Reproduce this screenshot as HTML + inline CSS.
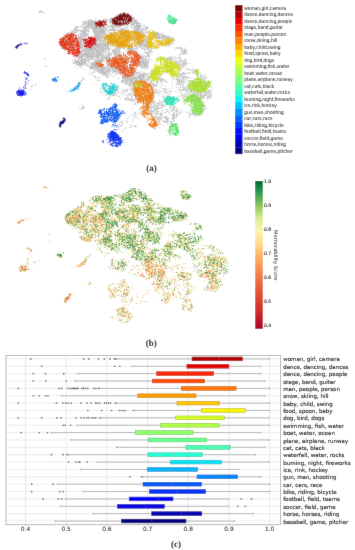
<!DOCTYPE html><html><head><meta charset="utf-8"><style>html,body{margin:0;padding:0;background:#fff;width:355px;height:550px;overflow:hidden}svg{display:block}</style></head><body><svg width="355" height="550" viewBox="0 0 355 550" text-rendering="geometricPrecision">
<defs><filter id="gb" x="0" y="0" width="355" height="550" filterUnits="userSpaceOnUse"><feConvolveMatrix order="3" kernelMatrix="0.01 0.05 0.01 0.05 0.76 0.05 0.01 0.05 0.01" divisor="1" edgeMode="duplicate"/></filter></defs>
<g filter="url(#gb)"><rect width="355" height="550" fill="#fff"/>
<g><g fill="none" transform="scale(0.25)" stroke-width="4.6" stroke-linecap="round">
<path stroke="#bdbdbd" d="M485 51h0m9 1h0m2 0h0m3 0h0m-15 1h0m9 0h0m8 0h0m-11 1h0m18 1h0m-28 1h0m12 0h0m15 0h0m7 0h0m-39 1h0m13 0h0m3 0h0m19 0h0m-29 1h0m7 0h0m10 0h0m-24 1h0m9 0h0m6 0h0m1 0h0m9 0h0m-22 1h0m4 0h0m3 0h0m2 0h0m17 0h0m-22 1h0m19 0h0m-10 1h0m10 0h0m24 0h0m1 0h0m-46 1h0m3 0h0m32 0h0m-39 1h0m9 0h0m25 0h0m7 0h0m5 0h0m5 0h0m-48 1h0m28 0h0m13 0h0m2 0h0m1 0h0m7 0h0m-56 1h0m3 0h0m2 0h0m3 0h0m6 0h0m4 0h0m11 0h0m12 0h0m8 0h0m-52 1h0m17 0h0m11 0h0m2 0h0m25 0h0m-53 1h0m3 0h0m14 0h0m12 0h0m17 0h0m4 0h0m-64 1h0m18 0h0m17 0h0m14 0h0m8 0h0m5 0h0m3 0h0m9 0h0m-87 1h0m57 0h0m17 0h0m3 0h0m6 0h0m8 0h0m-53 1h0m3 0h0m19 0h0m1 0h0m11 0h0m12 0h0m-79 1h0m1 0h0m49 0h0m32 0h0m-112 1h0m60 0h0m19 0h0m11 0h0m19 0h0m2 0h0m-91 1h0m1 0h0m7 0h0m2 0h0m14 0h0m14 0h0m13 0h0m30 0h0m-63 1h0m16 0h0m59 0h0m1 0h0m-95 1h0m5 0h0m53 0h0m25 0h0m1 0h0m1 0h0m12 0h0m2 0h0m-108 1h0m44 0h0m10 0h0m7 0h0m7 0h0m7 0h0m8 0h0m10 0h0m-109 1h0m5 0h0m3 0h0m35 0h0m48 0h0m18 0h0m16 0h0m-180 1h0m4 0h0m57 0h0m23 0h0m22 0h0m15 0h0m10 0h0m38 0h0m-146 1h0m7 0h0m13 0h0m1 0h0m10 0h0m3 0h0m2 0h0m3 0h0m3 0h0m1 0h0m2 0h0m1 0h0m40 0h0m18 0h0m7 0h0m13 0h0m26 0h0m8 0h0m7 0h0m-187 1h0m4 0h0m32 0h0m15 0h0m14 0h0m50 0h0m25 0h0m14 0h0m12 0h0m3 0h0m3 0h0m2 0h0m-182 1h0m2 0h0m12 0h0m8 0h0m1 0h0m60 0h0m1 0h0m41 0h0m8 0h0m1 0h0m8 0h0m35 0h0m6 0h0m4 0h0m1 0h0m3 0h0m-190 1h0m9 0h0m3 0h0m31 0h0m5 0h0m16 0h0m16 0h0m2 0h0m8 0h0m6 0h0m15 0h0m5 0h0m9 0h0m2 0h0m10 0h0m47 0h0m6 0h0m-196 1h0m8 0h0m2 0h0m11 0h0m9 0h0m5 0h0m18 0h0m12 0h0m2 0h0m10 0h0m17 0h0m4 0h0m20 0h0m48 0h0m2 0h0m28 0h0m-199 1h0m22 0h0m1 0h0m2 0h0m1 0h0m2 0h0m2 0h0m13 0h0m16 0h0m3 0h0m11 0h0m29 0h0m76 0h0m15 0h0m3 0h0m3 0h0m4 0h0m-217 1h0m3 0h0m7 0h0m4 0h0m11 0h0m8 0h0m7 0h0m20 0h0m3 0h0m4 0h0m5 0h0m5 0h0m8 0h0m39 0h0m17 0h0m32 0h0m10 0h0m26 0h0m1 0h0m-206 1h0m10 0h0m20 0h0m23 0h0m2 0h0m2 0h0m33 0h0m13 0h0m8 0h0m5 0h0m12 0h0m12 0h0m62 0h0m7 0h0m-213 1h0m2 0h0m8 0h0m5 0h0m11 0h0m6 0h0m1 0h0m13 0h0m6 0h0m6 0h0m4 0h0m4 0h0m10 0h0m4 0h0m10 0h0m21 0h0m1 0h0m71 0h0m9 0h0m1 0h0m1 0h0m8 0h0m19 0h0m-199 1h0m5 0h0m12 0h0m9 0h0m17 0h0m4 0h0m1 0h0m1 0h0m1 0h0m5 0h0m8 0h0m24 0h0m19 0h0m13 0h0m4 0h0m19 0h0m5 0h0m26 0h0m7 0h0m2 0h0m14 0h0m-200 1h0m15 0h0m3 0h0m12 0h0m7 0h0m9 0h0m7 0h0m1 0h0m9 0h0m32 0h0m1 0h0m5 0h0m3 0h0m23 0h0m2 0h0m17 0h0m49 0h0m9 0h0m-199 1h0m1 0h0m3 0h0m1 0h0m12 0h0m1 0h0m3 0h0m7 0h0m1 0h0m7 0h0m6 0h0m25 0h0m47 0h0m31 0h0m10 0h0m19 0h0m13 0h0m6 0h0m5 0h0m1 0h0m-210 1h0m17 0h0m8 0h0m12 0h0m2 0h0m15 0h0m22 0h0m35 0h0m29 0h0m48 0h0m3 0h0m4 0h0m1 0h0m1 0h0m-203 1h0m4 0h0m2 0h0m11 0h0m2 0h0m2 0h0m6 0h0m6 0h0m2 0h0m8 0h0m1 0h0m4 0h0m13 0h0m2 0h0m5 0h0m4 0h0m13 0h0m1 0h0m21 0h0m6 0h0m4 0h0m2 0h0m11 0h0m7 0h0m5 0h0m4 0h0m59 0h0m6 0h0m1 0h0m12 0h0m2 0h0m-223 1h0m3 0h0m3 0h0m8 0h0m4 0h0m15 0h0m12 0h0m8 0h0m66 0h0m16 0h0m69 0h0m2 0h0m2 0h0m1 0h0m3 0h0m2 0h0m4 0h0m1 0h0m-223 1h0m7 0h0m6 0h0m8 0h0m10 0h0m14 0h0m7 0h0m2 0h0m8 0h0m8 0h0m18 0h0m26 0h0m8 0h0m3 0h0m63 0h0m2 0h0m5 0h0m2 0h0m-190 1h0m15 0h0m5 0h0m7 0h0m1 0h0m14 0h0m7 0h0m2 0h0m6 0h0m3 0h0m1 0h0m25 0h0m22 0h0m8 0h0m7 0h0m68 0h0m4 0h0m13 0h0m-220 1h0m9 0h0m13 0h0m4 0h0m7 0h0m2 0h0m1 0h0m11 0h0m3 0h0m20 0h0m5 0h0m52 0h0m4 0h0m1 0h0m6 0h0m4 0h0m3 0h0m10 0h0m4 0h0m14 0h0m27 0h0m15 0h0m5 0h0m1 0h0m3 0h0m-225 1h0m30 0h0m11 0h0m9 0h0m6 0h0m3 0h0m10 0h0m18 0h0m6 0h0m62 0h0m3 0h0m19 0h0m21 0h0m3 0h0m25 0h0m-224 1h0m18 0h0m3 0h0m2 0h0m21 0h0m4 0h0m2 0h0m87 0h0m4 0h0m53 0h0m10 0h0m20 0h0m9 0h0m-211 1h0m5 0h0m1 0h0m6 0h0m4 0h0m2 0h0m7 0h0m5 0h0m11 0h0m7 0h0m31 0h0m12 0h0m5 0h0m6 0h0m6 0h0m8 0h0m2 0h0m18 0h0m49 0h0m8 0h0m5 0h0m1 0h0m2 0h0m1 0h0m4 0h0m4 0h0m-226 1h0m15 0h0m9 0h0m1 0h0m5 0h0m5 0h0m4 0h0m1 0h0m9 0h0m17 0h0m2 0h0m56 0h0m3 0h0m5 0h0m1 0h0m67 0h0m20 0h0m7 0h0m14 0h0m-249 1h0m15 0h0m14 0h0m1 0h0m5 0h0m9 0h0m8 0h0m8 0h0m5 0h0m15 0h0m8 0h0m37 0h0m8 0h0m10 0h0m4 0h0m47 0h0m30 0h0m6 0h0m14 0h0m-224 1h0m5 0h0m17 0h0m6 0h0m14 0h0m14 0h0m6 0h0m1 0h0m10 0h0m4 0h0m8 0h0m15 0h0m8 0h0m17 0h0m4 0h0m20 0h0m28 0h0m16 0h0m2 0h0m6 0h0m-201 1h0m3 0h0m4 0h0m6 0h0m2 0h0m7 0h0m14 0h0m5 0h0m11 0h0m8 0h0m9 0h0m27 0h0m2 0h0m3 0h0m8 0h0m28 0h0m14 0h0m12 0h0m17 0h0m1 0h0m5 0h0m10 0h0m1 0h0m12 0h0m-245 1h0m7 0h0m25 0h0m3 0h0m3 0h0m27 0h0m21 0h0m5 0h0m2 0h0m8 0h0m27 0h0m13 0h0m13 0h0m8 0h0m10 0h0m22 0h0m23 0h0m12 0h0m1 0h0m2 0h0m6 0h0m4 0h0m4 0h0m2 0h0m-255 1h0m31 0h0m11 0h0m7 0h0m1 0h0m1 0h0m12 0h0m11 0h0m5 0h0m7 0h0m3 0h0m3 0h0m5 0h0m9 0h0m22 0h0m8 0h0m23 0h0m5 0h0m70 0h0m5 0h0m4 0h0m19 0h0m-257 1h0m11 0h0m2 0h0m24 0h0m26 0h0m2 0h0m8 0h0m2 0h0m4 0h0m4 0h0m7 0h0m2 0h0m1 0h0m11 0h0m26 0h0m3 0h0m1 0h0m1 0h0m5 0h0m14 0h0m1 0h0m3 0h0m81 0h0m10 0h0m30 0h0m-290 1h0m1 0h0m4 0h0m2 0h0m28 0h0m7 0h0m13 0h0m22 0h0m1 0h0m1 0h0m8 0h0m11 0h0m12 0h0m2 0h0m7 0h0m40 0h0m2 0h0m49 0h0m14 0h0m18 0h0m2 0h0m8 0h0m30 0h0m3 0h0m-281 1h0m1 0h0m26 0h0m30 0h0m2 0h0m3 0h0m4 0h0m3 0h0m5 0h0m17 0h0m6 0h0m13 0h0m16 0h0m21 0h0m5 0h0m2 0h0m3 0h0m15 0h0m68 0h0m1 0h0m5 0h0m4 0h0m5 0h0m1 0h0m17 0h0m-267 1h0m1 0h0m60 0h0m1 0h0m6 0h0m1 0h0m15 0h0m2 0h0m3 0h0m6 0h0m5 0h0m1 0h0m2 0h0m19 0h0m23 0h0m16 0h0m6 0h0m26 0h0m41 0h0m6 0h0m7 0h0m3 0h0m27 0h0m5 0h0m-262 1h0m9 0h0m1 0h0m6 0h0m1 0h0m4 0h0m12 0h0m2 0h0m8 0h0m2 0h0m5 0h0m2 0h0m2 0h0m1 0h0m6 0h0m5 0h0m4 0h0m7 0h0m11 0h0m8 0h0m29 0h0m17 0h0m59 0h0m7 0h0m7 0h0m-207 1h0m3 0h0m3 0h0m13 0h0m19 0h0m6 0h0m6 0h0m3 0h0m11 0h0m1 0h0m15 0h0m79 0h0m32 0h0m21 0h0m19 0h0m12 0h0m-280 1h0m35 0h0m2 0h0m21 0h0m21 0h0m14 0h0m1 0h0m10 0h0m2 0h0m6 0h0m7 0h0m30 0h0m39 0h0m16 0h0m32 0h0m2 0h0m6 0h0m17 0h0m11 0h0m-271 1h0m5 0h0m35 0h0m25 0h0m15 0h0m3 0h0m3 0h0m2 0h0m10 0h0m13 0h0m5 0h0m22 0h0m52 0h0m44 0h0m10 0h0m1 0h0m7 0h0m2 0h0m1 0h0m28 0h0m6 0h0m-282 1h0m28 0h0m14 0h0m4 0h0m22 0h0m4 0h0m1 0h0m3 0h0m8 0h0m9 0h0m40 0h0m12 0h0m2 0h0m27 0h0m1 0h0m56 0h0m6 0h0m8 0h0m27 0h0m8 0h0m-289 1h0m6 0h0m1 0h0m35 0h0m26 0h0m3 0h0m4 0h0m21 0h0m12 0h0m4 0h0m2 0h0m5 0h0m3 0h0m1 0h0m20 0h0m8 0h0m6 0h0m90 0h0m1 0h0m1 0h0m3 0h0m6 0h0m14 0h0m16 0h0m-284 1h0m25 0h0m9 0h0m3 0h0m37 0h0m2 0h0m1 0h0m12 0h0m7 0h0m1 0h0m14 0h0m1 0h0m2 0h0m11 0h0m12 0h0m6 0h0m4 0h0m6 0h0m18 0h0m19 0h0m42 0h0m15 0h0m2 0h0m12 0h0m17 0h0m-284 1h0m3 0h0m78 0h0m7 0h0m8 0h0m10 0h0m10 0h0m46 0h0m4 0h0m18 0h0m2 0h0m8 0h0m3 0h0m51 0h0m21 0h0m8 0h0m-284 1h0m49 0h0m12 0h0m19 0h0m4 0h0m3 0h0m14 0h0m9 0h0m6 0h0m1 0h0m1 0h0m5 0h0m8 0h0m15 0h0m15 0h0m1 0h0m5 0h0m28 0h0m1 0h0m5 0h0m5 0h0m8 0h0m6 0h0m31 0h0m5 0h0m11 0h0m26 0h0m19 0h0m-302 1h0m2 0h0m11 0h0m4 0h0m23 0h0m6 0h0m4 0h0m26 0h0m5 0h0m6 0h0m4 0h0m7 0h0m5 0h0m10 0h0m32 0h0m26 0h0m16 0h0m2 0h0m1 0h0m9 0h0m19 0h0m19 0h0m18 0h0m2 0h0m10 0h0m1 0h0m-262 1h0m21 0h0m3 0h0m4 0h0m10 0h0m38 0h0m27 0h0m4 0h0m19 0h0m33 0h0m9 0h0m4 0h0m15 0h0m15 0h0m40 0h0m1 0h0m8 0h0m2 0h0m21 0h0m-278 1h0m7 0h0m25 0h0m13 0h0m38 0h0m1 0h0m1 0h0m5 0h0m5 0h0m5 0h0m4 0h0m2 0h0m8 0h0m8 0h0m6 0h0m11 0h0m3 0h0m3 0h0m5 0h0m4 0h0m18 0h0m8 0h0m3 0h0m11 0h0m1 0h0m14 0h0m2 0h0m24 0h0m7 0h0m21 0h0m-261 1h0m17 0h0m7 0h0m5 0h0m6 0h0m12 0h0m3 0h0m25 0h0m17 0h0m3 0h0m1 0h0m12 0h0m19 0h0m44 0h0m25 0h0m4 0h0m6 0h0m27 0h0m2 0h0m3 0h0m10 0h0m16 0h0m2 0h0m28 0h0m-302 1h0m30 0h0m13 0h0m3 0h0m29 0h0m4 0h0m2 0h0m3 0h0m3 0h0m17 0h0m2 0h0m9 0h0m1 0h0m4 0h0m68 0h0m4 0h0m7 0h0m6 0h0m1 0h0m41 0h0m3 0h0m4 0h0m3 0h0m-261 1h0m6 0h0m16 0h0m7 0h0m26 0h0m31 0h0m2 0h0m4 0h0m1 0h0m2 0h0m1 0h0m3 0h0m1 0h0m8 0h0m1 0h0m2 0h0m2 0h0m3 0h0m7 0h0m6 0h0m17 0h0m19 0h0m18 0h0m20 0h0m43 0h0m3 0h0m2 0h0m6 0h0m17 0h0m30 0h0m12 0h0m-323 1h0m11 0h0m12 0h0m26 0h0m2 0h0m1 0h0m5 0h0m13 0h0m18 0h0m5 0h0m2 0h0m2 0h0m5 0h0m5 0h0m2 0h0m18 0h0m4 0h0m1 0h0m58 0h0m1 0h0m9 0h0m2 0h0m2 0h0m12 0h0m26 0h0m22 0h0m3 0h0m9 0h0m18 0h0m-293 1h0m3 0h0m10 0h0m24 0h0m7 0h0m3 0h0m42 0h0m22 0h0m2 0h0m5 0h0m7 0h0m7 0h0m42 0h0m23 0h0m1 0h0m11 0h0m6 0h0m3 0h0m4 0h0m5 0h0m24 0h0m1 0h0m6 0h0m7 0h0m1 0h0m2 0h0m3 0h0m2 0h0m3 0h0m6 0h0m21 0h0m-295 1h0m32 0h0m14 0h0m12 0h0m27 0h0m3 0h0m15 0h0m3 0h0m5 0h0m4 0h0m9 0h0m1 0h0m13 0h0m47 0h0m8 0h0m21 0h0m9 0h0m32 0h0m8 0h0m3 0h0m4 0h0m5 0h0m4 0h0m13 0h0m45 0h0m-331 1h0m6 0h0m17 0h0m5 0h0m1 0h0m5 0h0m7 0h0m66 0h0m6 0h0m41 0h0m29 0h0m3 0h0m1 0h0m16 0h0m7 0h0m34 0h0m7 0h0m4 0h0m7 0h0m23 0h0m2 0h0m17 0h0m5 0h0m9 0h0m2 0h0m6 0h0m-354 1h0m14 0h0m14 0h0m37 0h0m4 0h0m1 0h0m34 0h0m7 0h0m4 0h0m7 0h0m1 0h0m5 0h0m4 0h0m12 0h0m2 0h0m15 0h0m22 0h0m25 0h0m2 0h0m19 0h0m1 0h0m12 0h0m25 0h0m5 0h0m5 0h0m6 0h0m3 0h0m1 0h0m21 0h0m7 0h0m12 0h0m7 0h0m11 0h0m13 0h0m-353 1h0m9 0h0m46 0h0m1 0h0m51 0h0m3 0h0m10 0h0m1 0h0m1 0h0m14 0h0m2 0h0m2 0h0m26 0h0m37 0h0m6 0h0m6 0h0m4 0h0m47 0h0m13 0h0m1 0h0m8 0h0m38 0h0m13 0h0m7 0h0m5 0h0m-346 1h0m7 0h0m6 0h0m42 0h0m2 0h0m4 0h0m29 0h0m7 0h0m4 0h0m2 0h0m4 0h0m3 0h0m14 0h0m4 0h0m16 0h0m18 0h0m40 0h0m7 0h0m6 0h0m2 0h0m5 0h0m2 0h0m7 0h0m1 0h0m35 0h0m3 0h0m4 0h0m4 0h0m5 0h0m4 0h0m20 0h0m24 0h0m8 0h0m-350 1h0m1 0h0m4 0h0m3 0h0m18 0h0m2 0h0m32 0h0m1 0h0m7 0h0m2 0h0m9 0h0m3 0h0m36 0h0m1 0h0m10 0h0m2 0h0m5 0h0m30 0h0m32 0h0m17 0h0m10 0h0m16 0h0m9 0h0m26 0h0m1 0h0m4 0h0m1 0h0m3 0h0m4 0h0m2 0h0m1 0h0m7 0h0m30 0h0m1 0h0m16 0h0m1 0h0m11 0h0m4 0h0m15 0h0m-376 1h0m17 0h0m5 0h0m34 0h0m3 0h0m2 0h0m4 0h0m13 0h0m27 0h0m2 0h0m8 0h0m1 0h0m3 0h0m1 0h0m2 0h0m1 0h0m1 0h0m16 0h0m2 0h0m3 0h0m7 0h0m31 0h0m27 0h0m17 0h0m6 0h0m11 0h0m26 0h0m2 0h0m3 0h0m1 0h0m15 0h0m14 0h0m29 0h0m13 0h0m1 0h0m3 0h0m6 0h0m-363 1h0m4 0h0m14 0h0m17 0h0m21 0h0m6 0h0m2 0h0m6 0h0m1 0h0m47 0h0m12 0h0m4 0h0m3 0h0m10 0h0m9 0h0m25 0h0m34 0h0m6 0h0m8 0h0m10 0h0m42 0h0m2 0h0m2 0h0m10 0h0m9 0h0m52 0h0m14 0h0m-370 1h0m2 0h0m9 0h0m12 0h0m1 0h0m1 0h0m37 0h0m6 0h0m12 0h0m36 0h0m20 0h0m40 0h0m2 0h0m22 0h0m11 0h0m15 0h0m2 0h0m5 0h0m13 0h0m5 0h0m1 0h0m30 0h0m25 0h0m36 0h0m8 0h0m-343 1h0m1 0h0m2 0h0m11 0h0m7 0h0m24 0h0m4 0h0m4 0h0m17 0h0m43 0h0m10 0h0m4 0h0m1 0h0m3 0h0m4 0h0m8 0h0m7 0h0m22 0h0m1 0h0m14 0h0m2 0h0m7 0h0m42 0h0m5 0h0m34 0h0m3 0h0m4 0h0m25 0h0m19 0h0m1 0h0m10 0h0m2 0h0m10 0h0m3 0h0m1 0h0m7 0h0m1 0h0m2 0h0m9 0h0m-379 1h0m3 0h0m3 0h0m6 0h0m12 0h0m2 0h0m3 0h0m15 0h0m7 0h0m4 0h0m1 0h0m4 0h0m10 0h0m1 0h0m49 0h0m1 0h0m5 0h0m9 0h0m45 0h0m4 0h0m38 0h0m12 0h0m1 0h0m1 0h0m4 0h0m4 0h0m30 0h0m9 0h0m2 0h0m6 0h0m1 0h0m14 0h0m40 0h0m2 0h0m13 0h0m7 0h0m7 0h0m-389 1h0m4 0h0m12 0h0m15 0h0m1 0h0m42 0h0m7 0h0m7 0h0m6 0h0m44 0h0m4 0h0m28 0h0m8 0h0m18 0h0m36 0h0m1 0h0m11 0h0m1 0h0m8 0h0m4 0h0m22 0h0m6 0h0m6 0h0m5 0h0m15 0h0m10 0h0m18 0h0m17 0h0m8 0h0m2 0h0m1 0h0m5 0h0m3 0h0m5 0h0m5 0h0m7 0h0m-383 1h0m13 0h0m2 0h0m4 0h0m2 0h0m3 0h0m25 0h0m20 0h0m7 0h0m2 0h0m6 0h0m2 0h0m26 0h0m1 0h0m7 0h0m2 0h0m6 0h0m3 0h0m20 0h0m16 0h0m10 0h0m1 0h0m4 0h0m9 0h0m26 0h0m8 0h0m2 0h0m7 0h0m8 0h0m6 0h0m34 0h0m20 0h0m27 0h0m7 0h0m9 0h0m1 0h0m13 0h0m5 0h0m7 0h0m8 0h0m11 0h0m4 0h0m-389 1h0m5 0h0m1 0h0m4 0h0m4 0h0m2 0h0m6 0h0m47 0h0m42 0h0m1 0h0m4 0h0m2 0h0m25 0h0m1 0h0m1 0h0m11 0h0m4 0h0m2 0h0m12 0h0m1 0h0m2 0h0m7 0h0m5 0h0m28 0h0m38 0h0m1 0h0m19 0h0m21 0h0m39 0h0m12 0h0m8 0h0m3 0h0m21 0h0m2 0h0m8 0h0m-397 1h0m5 0h0m3 0h0m10 0h0m3 0h0m3 0h0m9 0h0m1 0h0m1 0h0m25 0h0m22 0h0m8 0h0m28 0h0m3 0h0m7 0h0m2 0h0m8 0h0m10 0h0m2 0h0m21 0h0m11 0h0m4 0h0m2 0h0m14 0h0m1 0h0m18 0h0m5 0h0m10 0h0m3 0h0m1 0h0m10 0h0m7 0h0m1 0h0m30 0h0m11 0h0m27 0h0m7 0h0m14 0h0m8 0h0m3 0h0m7 0h0m10 0h0m19 0h0m5 0h0m-380 1h0m6 0h0m4 0h0m2 0h0m20 0h0m3 0h0m20 0h0m10 0h0m1 0h0m32 0h0m12 0h0m8 0h0m1 0h0m1 0h0m3 0h0m3 0h0m5 0h0m17 0h0m68 0h0m7 0h0m5 0h0m10 0h0m1 0h0m38 0h0m4 0h0m37 0h0m20 0h0m3 0h0m10 0h0m1 0h0m4 0h0m14 0h0m21 0h0m-410 1h0m9 0h0m9 0h0m25 0h0m10 0h0m1 0h0m8 0h0m3 0h0m11 0h0m7 0h0m2 0h0m1 0h0m30 0h0m26 0h0m1 0h0m31 0h0m7 0h0m1 0h0m1 0h0m2 0h0m4 0h0m2 0h0m5 0h0m38 0h0m7 0h0m7 0h0m13 0h0m23 0h0m12 0h0m2 0h0m2 0h0m3 0h0m48 0h0m14 0h0m1 0h0m7 0h0m19 0h0m4 0h0m-379 1h0m9 0h0m37 0h0m2 0h0m1 0h0m2 0h0m4 0h0m2 0h0m50 0h0m11 0h0m3 0h0m14 0h0m18 0h0m2 0h0m1 0h0m3 0h0m11 0h0m2 0h0m3 0h0m2 0h0m21 0h0m21 0h0m28 0h0m2 0h0m11 0h0m21 0h0m6 0h0m3 0h0m33 0h0m8 0h0m13 0h0m6 0h0m19 0h0m1 0h0m16 0h0m-409 1h0m9 0h0m3 0h0m1 0h0m1 0h0m20 0h0m26 0h0m5 0h0m4 0h0m1 0h0m1 0h0m6 0h0m5 0h0m44 0h0m8 0h0m1 0h0m20 0h0m32 0h0m2 0h0m9 0h0m27 0h0m15 0h0m1 0h0m6 0h0m13 0h0m1 0h0m2 0h0m19 0h0m8 0h0m1 0h0m12 0h0m13 0h0m18 0h0m3 0h0m7 0h0m10 0h0m15 0h0m35 0h0m13 0h0m4 0h0m-412 1h0m51 0h0m8 0h0m1 0h0m8 0h0m51 0h0m7 0h0m2 0h0m3 0h0m6 0h0m6 0h0m30 0h0m11 0h0m8 0h0m36 0h0m7 0h0m12 0h0m6 0h0m1 0h0m36 0h0m3 0h0m13 0h0m11 0h0m1 0h0m3 0h0m12 0h0m12 0h0m4 0h0m24 0h0m20 0h0m5 0h0m-411 1h0m12 0h0m1 0h0m12 0h0m4 0h0m5 0h0m10 0h0m10 0h0m20 0h0m6 0h0m8 0h0m14 0h0m33 0h0m5 0h0m9 0h0m7 0h0m10 0h0m15 0h0m8 0h0m6 0h0m7 0h0m5 0h0m22 0h0m8 0h0m2 0h0m11 0h0m10 0h0m1 0h0m1 0h0m12 0h0m2 0h0m20 0h0m8 0h0m9 0h0m2 0h0m4 0h0m28 0h0m10 0h0m15 0h0m10 0h0m5 0h0m1 0h0m2 0h0m12 0h0m8 0h0m7 0h0m2 0h0m1 0h0m1 0h0m-406 1h0m1 0h0m6 0h0m2 0h0m3 0h0m1 0h0m1 0h0m6 0h0m34 0h0m3 0h0m52 0h0m5 0h0m2 0h0m2 0h0m2 0h0m5 0h0m6 0h0m7 0h0m7 0h0m6 0h0m5 0h0m7 0h0m2 0h0m12 0h0m1 0h0m13 0h0m4 0h0m25 0h0m9 0h0m3 0h0m9 0h0m4 0h0m29 0h0m10 0h0m7 0h0m67 0h0m1 0h0m3 0h0m8 0h0m7 0h0m7 0h0m1 0h0m13 0h0m4 0h0m18 0h0m-437 1h0m2 0h0m9 0h0m20 0h0m4 0h0m18 0h0m3 0h0m9 0h0m6 0h0m21 0h0m13 0h0m5 0h0m23 0h0m13 0h0m1 0h0m30 0h0m17 0h0m9 0h0m6 0h0m29 0h0m19 0h0m10 0h0m11 0h0m25 0h0m4 0h0m30 0h0m7 0h0m20 0h0m3 0h0m3 0h0m12 0h0m18 0h0m3 0h0m5 0h0m8 0h0m1 0h0m3 0h0m14 0h0m2 0h0m-436 1h0m8 0h0m7 0h0m9 0h0m6 0h0m5 0h0m29 0h0m8 0h0m1 0h0m3 0h0m37 0h0m2 0h0m1 0h0m5 0h0m11 0h0m1 0h0m8 0h0m3 0h0m16 0h0m9 0h0m3 0h0m14 0h0m40 0h0m2 0h0m1 0h0m14 0h0m11 0h0m5 0h0m1 0h0m3 0h0m4 0h0m3 0h0m1 0h0m16 0h0m19 0h0m31 0h0m9 0h0m26 0h0m9 0h0m7 0h0m2 0h0m2 0h0m5 0h0m7 0h0m7 0h0m11 0h0m4 0h0m11 0h0m10 0h0m-438 1h0m1 0h0m11 0h0m6 0h0m3 0h0m8 0h0m30 0h0m1 0h0m11 0h0m10 0h0m19 0h0m3 0h0m1 0h0m13 0h0m7 0h0m13 0h0m12 0h0m2 0h0m26 0h0m1 0h0m9 0h0m1 0h0m7 0h0m39 0h0m13 0h0m3 0h0m12 0h0m55 0h0m8 0h0m13 0h0m4 0h0m16 0h0m11 0h0m1 0h0m5 0h0m4 0h0m2 0h0m2 0h0m9 0h0m10 0h0m29 0h0m7 0h0m-444 1h0m5 0h0m2 0h0m21 0h0m58 0h0m37 0h0m5 0h0m3 0h0m3 0h0m4 0h0m2 0h0m8 0h0m3 0h0m6 0h0m6 0h0m11 0h0m2 0h0m31 0h0m30 0h0m14 0h0m17 0h0m4 0h0m23 0h0m10 0h0m5 0h0m3 0h0m8 0h0m9 0h0m17 0h0m25 0h0m7 0h0m6 0h0m27 0h0m11 0h0m7 0h0m-439 1h0m4 0h0m2 0h0m3 0h0m3 0h0m1 0h0m16 0h0m18 0h0m2 0h0m18 0h0m1 0h0m2 0h0m25 0h0m33 0h0m4 0h0m16 0h0m1 0h0m1 0h0m39 0h0m17 0h0m8 0h0m3 0h0m43 0h0m2 0h0m42 0h0m1 0h0m41 0h0m6 0h0m1 0h0m7 0h0m2 0h0m2 0h0m9 0h0m13 0h0m4 0h0m1 0h0m1 0h0m37 0h0m7 0h0m1 0h0m-430 1h0m1 0h0m7 0h0m1 0h0m4 0h0m7 0h0m33 0h0m10 0h0m8 0h0m19 0h0m21 0h0m4 0h0m3 0h0m3 0h0m11 0h0m5 0h0m5 0h0m7 0h0m1 0h0m2 0h0m14 0h0m11 0h0m5 0h0m3 0h0m2 0h0m5 0h0m23 0h0m6 0h0m18 0h0m11 0h0m7 0h0m23 0h0m29 0h0m6 0h0m26 0h0m3 0h0m1 0h0m1 0h0m50 0h0m6 0h0m-408 1h0m27 0h0m1 0h0m6 0h0m18 0h0m19 0h0m1 0h0m1 0h0m1 0h0m1 0h0m1 0h0m7 0h0m2 0h0m7 0h0m33 0h0m14 0h0m4 0h0m2 0h0m6 0h0m8 0h0m23 0h0m5 0h0m4 0h0m3 0h0m4 0h0m10 0h0m6 0h0m2 0h0m13 0h0m31 0h0m20 0h0m15 0h0m14 0h0m31 0h0m18 0h0m35 0h0m24 0h0m7 0h0m10 0h0m8 0h0m4 0h0m-442 1h0m6 0h0m4 0h0m5 0h0m10 0h0m1 0h0m1 0h0m23 0h0m19 0h0m1 0h0m6 0h0m1 0h0m1 0h0m1 0h0m1 0h0m1 0h0m41 0h0m8 0h0m2 0h0m3 0h0m1 0h0m4 0h0m5 0h0m1 0h0m9 0h0m22 0h0m7 0h0m3 0h0m10 0h0m1 0h0m13 0h0m50 0h0m3 0h0m6 0h0m45 0h0m24 0h0m6 0h0m6 0h0m2 0h0m3 0h0m6 0h0m54 0h0m5 0h0m4 0h0m4 0h0m9 0h0m-442 1h0m10 0h0m4 0h0m3 0h0m6 0h0m2 0h0m1 0h0m8 0h0m1 0h0m10 0h0m18 0h0m57 0h0m1 0h0m6 0h0m4 0h0m2 0h0m2 0h0m4 0h0m8 0h0m2 0h0m46 0h0m1 0h0m9 0h0m4 0h0m2 0h0m25 0h0m8 0h0m21 0h0m47 0h0m34 0h0m4 0h0m6 0h0m3 0h0m46 0h0m14 0h0m4 0h0m4 0h0m18 0h0m7 0h0m-446 1h0m7 0h0m1 0h0m17 0h0m6 0h0m2 0h0m22 0h0m5 0h0m6 0h0m6 0h0m5 0h0m10 0h0m3 0h0m15 0h0m13 0h0m2 0h0m10 0h0m2 0h0m6 0h0m8 0h0m9 0h0m13 0h0m21 0h0m2 0h0m8 0h0m1 0h0m9 0h0m9 0h0m23 0h0m7 0h0m7 0h0m2 0h0m23 0h0m22 0h0m7 0h0m19 0h0m8 0h0m7 0h0m65 0h0m10 0h0m3 0h0m1 0h0m2 0h0m5 0h0m6 0h0m7 0h0m1 0h0m-449 1h0m8 0h0m13 0h0m2 0h0m1 0h0m4 0h0m3 0h0m13 0h0m20 0h0m3 0h0m3 0h0m28 0h0m11 0h0m1 0h0m15 0h0m2 0h0m5 0h0m1 0h0m1 0h0m11 0h0m7 0h0m1 0h0m3 0h0m8 0h0m23 0h0m3 0h0m9 0h0m21 0h0m8 0h0m1 0h0m10 0h0m17 0h0m4 0h0m1 0h0m14 0h0m2 0h0m29 0h0m17 0h0m80 0h0m16 0h0m4 0h0m7 0h0m17 0h0m-446 1h0m9 0h0m5 0h0m6 0h0m1 0h0m33 0h0m5 0h0m4 0h0m1 0h0m4 0h0m5 0h0m6 0h0m7 0h0m2 0h0m3 0h0m1 0h0m11 0h0m3 0h0m3 0h0m5 0h0m5 0h0m8 0h0m5 0h0m2 0h0m1 0h0m6 0h0m15 0h0m11 0h0m24 0h0m20 0h0m8 0h0m21 0h0m12 0h0m60 0h0m9 0h0m11 0h0m5 0h0m62 0h0m33 0h0m2 0h0m12 0h0m-447 1h0m13 0h0m6 0h0m1 0h0m2 0h0m5 0h0m16 0h0m1 0h0m1 0h0m6 0h0m15 0h0m3 0h0m2 0h0m7 0h0m25 0h0m6 0h0m16 0h0m26 0h0m3 0h0m3 0h0m5 0h0m7 0h0m17 0h0m26 0h0m3 0h0m1 0h0m35 0h0m19 0h0m4 0h0m30 0h0m7 0h0m6 0h0m10 0h0m14 0h0m5 0h0m7 0h0m5 0h0m34 0h0m33 0h0m6 0h0m1 0h0m9 0h0m11 0h0m-446 1h0m8 0h0m1 0h0m7 0h0m11 0h0m1 0h0m14 0h0m3 0h0m5 0h0m4 0h0m1 0h0m7 0h0m4 0h0m28 0h0m8 0h0m15 0h0m1 0h0m3 0h0m5 0h0m21 0h0m3 0h0m8 0h0m33 0h0m12 0h0m1 0h0m4 0h0m4 0h0m1 0h0m7 0h0m4 0h0m10 0h0m12 0h0m69 0h0m25 0h0m4 0h0m11 0h0m32 0h0m26 0h0m8 0h0m23 0h0m-439 1h0m1 0h0m12 0h0m7 0h0m2 0h0m2 0h0m3 0h0m6 0h0m4 0h0m4 0h0m7 0h0m12 0h0m2 0h0m5 0h0m16 0h0m3 0h0m22 0h0m4 0h0m6 0h0m3 0h0m3 0h0m16 0h0m40 0h0m4 0h0m3 0h0m2 0h0m28 0h0m17 0h0m53 0h0m4 0h0m12 0h0m4 0h0m2 0h0m6 0h0m4 0h0m7 0h0m7 0h0m3 0h0m65 0h0m7 0h0m10 0h0m6 0h0m2 0h0m7 0h0m-415 1h0m6 0h0m40 0h0m1 0h0m5 0h0m32 0h0m2 0h0m1 0h0m7 0h0m2 0h0m3 0h0m5 0h0m1 0h0m3 0h0m6 0h0m1 0h0m17 0h0m27 0h0m8 0h0m2 0h0m1 0h0m10 0h0m1 0h0m1 0h0m8 0h0m13 0h0m9 0h0m11 0h0m60 0h0m12 0h0m19 0h0m6 0h0m2 0h0m2 0h0m1 0h0m1 0h0m1 0h0m6 0h0m70 0h0m1 0h0m3 0h0m1 0h0m6 0h0m-443 1h0m9 0h0m11 0h0m1 0h0m4 0h0m3 0h0m11 0h0m6 0h0m6 0h0m1 0h0m1 0h0m12 0h0m3 0h0m16 0h0m3 0h0m22 0h0m12 0h0m2 0h0m2 0h0m2 0h0m9 0h0m3 0h0m2 0h0m3 0h0m9 0h0m17 0h0m9 0h0m30 0h0m1 0h0m3 0h0m1 0h0m21 0h0m3 0h0m10 0h0m43 0h0m15 0h0m3 0h0m3 0h0m7 0h0m6 0h0m4 0h0m3 0h0m2 0h0m6 0h0m4 0h0m2 0h0m6 0h0m9 0h0m1 0h0m55 0h0m13 0h0m9 0h0m6 0h0m-438 1h0m1 0h0m4 0h0m4 0h0m7 0h0m14 0h0m6 0h0m2 0h0m15 0h0m8 0h0m41 0h0m12 0h0m5 0h0m14 0h0m43 0h0m14 0h0m5 0h0m13 0h0m8 0h0m8 0h0m12 0h0m3 0h0m71 0h0m44 0h0m36 0h0m27 0h0m5 0h0m8 0h0m-435 1h0m13 0h0m8 0h0m5 0h0m1 0h0m8 0h0m24 0h0m18 0h0m7 0h0m10 0h0m5 0h0m7 0h0m10 0h0m78 0h0m1 0h0m1 0h0m1 0h0m4 0h0m1 0h0m12 0h0m7 0h0m14 0h0m7 0h0m64 0h0m7 0h0m3 0h0m5 0h0m20 0h0m5 0h0m11 0h0m1 0h0m27 0h0m12 0h0m7 0h0m16 0h0m10 0h0m-422 1h0m6 0h0m26 0h0m2 0h0m13 0h0m3 0h0m5 0h0m5 0h0m4 0h0m3 0h0m3 0h0m12 0h0m4 0h0m12 0h0m17 0h0m12 0h0m18 0h0m14 0h0m20 0h0m9 0h0m1 0h0m4 0h0m18 0h0m25 0h0m6 0h0m53 0h0m9 0h0m8 0h0m5 0h0m13 0h0m7 0h0m42 0h0m7 0h0m8 0h0m14 0h0m3 0h0m6 0h0m7 0h0m-437 1h0m8 0h0m6 0h0m14 0h0m1 0h0m2 0h0m1 0h0m3 0h0m1 0h0m2 0h0m4 0h0m2 0h0m11 0h0m1 0h0m8 0h0m17 0h0m1 0h0m15 0h0m1 0h0m8 0h0m6 0h0m1 0h0m4 0h0m3 0h0m16 0h0m14 0h0m2 0h0m8 0h0m6 0h0m15 0h0m21 0h0m15 0h0m9 0h0m2 0h0m1 0h0m17 0h0m1 0h0m7 0h0m10 0h0m76 0h0m1 0h0m10 0h0m2 0h0m53 0h0m5 0h0m9 0h0m12 0h0m1 0h0m1 0h0m3 0h0m4 0h0m3 0h0m-445 1h0m7 0h0m4 0h0m5 0h0m3 0h0m4 0h0m1 0h0m12 0h0m5 0h0m6 0h0m16 0h0m10 0h0m2 0h0m8 0h0m2 0h0m8 0h0m11 0h0m1 0h0m7 0h0m3 0h0m6 0h0m4 0h0m2 0h0m9 0h0m4 0h0m1 0h0m4 0h0m21 0h0m5 0h0m22 0h0m7 0h0m2 0h0m7 0h0m7 0h0m4 0h0m4 0h0m7 0h0m4 0h0m4 0h0m2 0h0m5 0h0m74 0h0m7 0h0m1 0h0m4 0h0m8 0h0m8 0h0m8 0h0m47 0h0m1 0h0m19 0h0m31 0h0m-452 1h0m8 0h0m9 0h0m9 0h0m19 0h0m23 0h0m1 0h0m3 0h0m23 0h0m4 0h0m12 0h0m8 0h0m3 0h0m1 0h0m5 0h0m6 0h0m5 0h0m1 0h0m1 0h0m1 0h0m16 0h0m1 0h0m14 0h0m15 0h0m1 0h0m5 0h0m2 0h0m1 0h0m2 0h0m1 0h0m5 0h0m8 0h0m6 0h0m1 0h0m14 0h0m6 0h0m11 0h0m2 0h0m2 0h0m12 0h0m46 0h0m4 0h0m1 0h0m1 0h0m5 0h0m1 0h0m65 0h0m4 0h0m16 0h0m7 0h0m13 0h0m2 0h0m1 0h0m5 0h0m-432 1h0m4 0h0m2 0h0m2 0h0m5 0h0m2 0h0m1 0h0m26 0h0m7 0h0m3 0h0m25 0h0m22 0h0m10 0h0m11 0h0m1 0h0m2 0h0m12 0h0m3 0h0m1 0h0m10 0h0m3 0h0m18 0h0m4 0h0m26 0h0m5 0h0m7 0h0m6 0h0m16 0h0m4 0h0m2 0h0m2 0h0m62 0h0m3 0h0m9 0h0m2 0h0m9 0h0m5 0h0m9 0h0m45 0h0m16 0h0m23 0h0m2 0h0m6 0h0m5 0h0m7 0h0m-455 1h0m2 0h0m7 0h0m13 0h0m2 0h0m13 0h0m4 0h0m4 0h0m12 0h0m5 0h0m4 0h0m10 0h0m3 0h0m2 0h0m18 0h0m3 0h0m9 0h0m1 0h0m14 0h0m5 0h0m3 0h0m4 0h0m4 0h0m4 0h0m19 0h0m6 0h0m2 0h0m31 0h0m4 0h0m7 0h0m11 0h0m6 0h0m17 0h0m5 0h0m2 0h0m3 0h0m50 0h0m5 0h0m6 0h0m4 0h0m7 0h0m22 0h0m2 0h0m2 0h0m1 0h0m9 0h0m35 0h0m20 0h0m13 0h0m5 0h0m-430 1h0m6 0h0m6 0h0m24 0h0m1 0h0m3 0h0m4 0h0m16 0h0m4 0h0m1 0h0m1 0h0m2 0h0m5 0h0m13 0h0m2 0h0m5 0h0m14 0h0m23 0h0m7 0h0m3 0h0m2 0h0m7 0h0m7 0h0m16 0h0m1 0h0m6 0h0m15 0h0m1 0h0m10 0h0m26 0h0m17 0h0m52 0h0m13 0h0m6 0h0m2 0h0m12 0h0m2 0h0m1 0h0m4 0h0m5 0h0m5 0h0m2 0h0m50 0h0m9 0h0m29 0h0m-431 1h0m4 0h0m9 0h0m1 0h0m2 0h0m3 0h0m6 0h0m5 0h0m22 0h0m18 0h0m9 0h0m3 0h0m1 0h0m24 0h0m4 0h0m4 0h0m5 0h0m5 0h0m6 0h0m6 0h0m10 0h0m12 0h0m7 0h0m38 0h0m14 0h0m7 0h0m3 0h0m8 0h0m6 0h0m5 0h0m49 0h0m6 0h0m2 0h0m1 0h0m3 0h0m15 0h0m2 0h0m3 0h0m-339 1h0m3 0h0m1 0h0m17 0h0m4 0h0m1 0h0m2 0h0m2 0h0m15 0h0m15 0h0m1 0h0m14 0h0m6 0h0m7 0h0m3 0h0m2 0h0m1 0h0m5 0h0m15 0h0m1 0h0m5 0h0m8 0h0m1 0h0m4 0h0m2 0h0m7 0h0m14 0h0m7 0h0m2 0h0m5 0h0m2 0h0m9 0h0m5 0h0m6 0h0m28 0h0m4 0h0m3 0h0m2 0h0m1 0h0m16 0h0m14 0h0m35 0h0m8 0h0m34 0h0m3 0h0m59 0h0m7 0h0m17 0h0m5 0h0m-435 1h0m16 0h0m1 0h0m12 0h0m6 0h0m6 0h0m4 0h0m4 0h0m1 0h0m4 0h0m2 0h0m10 0h0m7 0h0m11 0h0m19 0h0m4 0h0m6 0h0m12 0h0m6 0h0m1 0h0m11 0h0m11 0h0m1 0h0m6 0h0m1 0h0m2 0h0m2 0h0m5 0h0m7 0h0m1 0h0m2 0h0m11 0h0m21 0h0m16 0h0m3 0h0m2 0h0m2 0h0m1 0h0m4 0h0m7 0h0m1 0h0m64 0h0m2 0h0m1 0h0m5 0h0m11 0h0m4 0h0m3 0h0m10 0h0m6 0h0m9 0h0m42 0h0m9 0h0m3 0h0m4 0h0m1 0h0m16 0h0m-429 1h0m22 0h0m14 0h0m1 0h0m2 0h0m14 0h0m7 0h0m8 0h0m9 0h0m2 0h0m31 0h0m14 0h0m4 0h0m3 0h0m11 0h0m18 0h0m9 0h0m3 0h0m3 0h0m6 0h0m11 0h0m19 0h0m2 0h0m14 0h0m2 0h0m5 0h0m27 0h0m12 0h0m20 0h0m1 0h0m12 0h0m14 0h0m9 0h0m8 0h0m14 0h0m33 0h0m6 0h0m13 0h0m1 0h0m1 0h0m13 0h0m15 0h0m-440 1h0m4 0h0m10 0h0m6 0h0m3 0h0m11 0h0m8 0h0m1 0h0m2 0h0m2 0h0m3 0h0m37 0h0m25 0h0m14 0h0m4 0h0m3 0h0m10 0h0m1 0h0m8 0h0m3 0h0m12 0h0m6 0h0m8 0h0m39 0h0m6 0h0m5 0h0m6 0h0m1 0h0m10 0h0m1 0h0m13 0h0m13 0h0m45 0h0m21 0h0m3 0h0m6 0h0m17 0h0m51 0h0m15 0h0m-428 1h0m5 0h0m1 0h0m8 0h0m2 0h0m4 0h0m4 0h0m3 0h0m11 0h0m2 0h0m4 0h0m29 0h0m10 0h0m6 0h0m7 0h0m3 0h0m8 0h0m3 0h0m20 0h0m26 0h0m18 0h0m2 0h0m5 0h0m44 0h0m5 0h0m1 0h0m6 0h0m8 0h0m7 0h0m6 0h0m46 0h0m15 0h0m5 0h0m1 0h0m1 0h0m4 0h0m9 0h0m4 0h0m3 0h0m3 0h0m64 0h0m4 0h0m12 0h0m-434 1h0m5 0h0m11 0h0m2 0h0m4 0h0m16 0h0m55 0h0m11 0h0m12 0h0m2 0h0m9 0h0m5 0h0m6 0h0m6 0h0m11 0h0m3 0h0m11 0h0m2 0h0m20 0h0m15 0h0m3 0h0m27 0h0m5 0h0m13 0h0m9 0h0m55 0h0m2 0h0m1 0h0m13 0h0m18 0h0m14 0h0m65 0h0m1 0h0m-426 1h0m2 0h0m1 0h0m9 0h0m5 0h0m4 0h0m11 0h0m2 0h0m24 0h0m9 0h0m6 0h0m10 0h0m23 0h0m4 0h0m8 0h0m8 0h0m6 0h0m7 0h0m2 0h0m5 0h0m1 0h0m19 0h0m11 0h0m3 0h0m14 0h0m47 0h0m8 0h0m11 0h0m6 0h0m7 0h0m37 0h0m19 0h0m5 0h0m14 0h0m1 0h0m1 0h0m-338 1h0m7 0h0m10 0h0m4 0h0m2 0h0m2 0h0m2 0h0m2 0h0m28 0h0m6 0h0m6 0h0m15 0h0m2 0h0m25 0h0m8 0h0m2 0h0m2 0h0m6 0h0m3 0h0m8 0h0m5 0h0m4 0h0m3 0h0m1 0h0m4 0h0m3 0h0m55 0h0m4 0h0m3 0h0m10 0h0m11 0h0m5 0h0m3 0h0m66 0h0m3 0h0m2 0h0m1 0h0m17 0h0m45 0h0m-400 1h0m4 0h0m16 0h0m5 0h0m7 0h0m9 0h0m1 0h0m4 0h0m17 0h0m22 0h0m7 0h0m26 0h0m2 0h0m1 0h0m3 0h0m6 0h0m2 0h0m8 0h0m1 0h0m2 0h0m7 0h0m3 0h0m1 0h0m2 0h0m17 0h0m3 0h0m1 0h0m4 0h0m10 0h0m26 0h0m30 0h0m9 0h0m16 0h0m7 0h0m28 0h0m8 0h0m8 0h0m1 0h0m8 0h0m2 0h0m8 0h0m12 0h0m3 0h0m16 0h0m48 0h0m5 0h0m-418 1h0m3 0h0m11 0h0m1 0h0m5 0h0m6 0h0m5 0h0m3 0h0m36 0h0m8 0h0m9 0h0m1 0h0m3 0h0m17 0h0m8 0h0m1 0h0m6 0h0m6 0h0m10 0h0m9 0h0m5 0h0m17 0h0m5 0h0m35 0h0m6 0h0m6 0h0m2 0h0m41 0h0m21 0h0m13 0h0m10 0h0m15 0h0m7 0h0m2 0h0m1 0h0m1 0h0m-341 1h0m1 0h0m2 0h0m3 0h0m7 0h0m4 0h0m1 0h0m3 0h0m5 0h0m10 0h0m7 0h0m2 0h0m27 0h0m12 0h0m34 0h0m16 0h0m10 0h0m6 0h0m1 0h0m4 0h0m11 0h0m11 0h0m1 0h0m5 0h0m17 0h0m29 0h0m7 0h0m46 0h0m30 0h0m21 0h0m15 0h0m-346 1h0m10 0h0m9 0h0m1 0h0m2 0h0m13 0h0m6 0h0m3 0h0m14 0h0m5 0h0m15 0h0m10 0h0m6 0h0m5 0h0m9 0h0m1 0h0m5 0h0m5 0h0m32 0h0m3 0h0m2 0h0m11 0h0m14 0h0m2 0h0m58 0h0m23 0h0m23 0h0m18 0h0m9 0h0m8 0h0m4 0h0m12 0h0m4 0h0m4 0h0m-347 1h0m7 0h0m4 0h0m4 0h0m11 0h0m10 0h0m3 0h0m21 0h0m15 0h0m5 0h0m24 0h0m17 0h0m2 0h0m3 0h0m2 0h0m3 0h0m2 0h0m6 0h0m2 0h0m4 0h0m9 0h0m3 0h0m3 0h0m21 0h0m40 0h0m8 0h0m25 0h0m23 0h0m1 0h0m19 0h0m17 0h0m12 0h0m7 0h0m7 0h0m-338 1h0m29 0h0m7 0h0m7 0h0m13 0h0m4 0h0m4 0h0m15 0h0m9 0h0m10 0h0m4 0h0m8 0h0m5 0h0m8 0h0m4 0h0m7 0h0m7 0h0m8 0h0m4 0h0m19 0h0m1 0h0m3 0h0m30 0h0m14 0h0m7 0h0m4 0h0m27 0h0m3 0h0m6 0h0m1 0h0m68 0h0m4 0h0m2 0h0m4 0h0m35 0h0m-371 1h0m2 0h0m3 0h0m6 0h0m2 0h0m40 0h0m7 0h0m25 0h0m19 0h0m29 0h0m8 0h0m14 0h0m13 0h0m3 0h0m46 0h0m6 0h0m12 0h0m31 0h0m1 0h0m2 0h0m2 0h0m21 0h0m12 0h0m61 0h0m-382 1h0m13 0h0m1 0h0m2 0h0m8 0h0m6 0h0m2 0h0m1 0h0m3 0h0m8 0h0m22 0h0m10 0h0m3 0h0m3 0h0m11 0h0m14 0h0m8 0h0m9 0h0m1 0h0m4 0h0m28 0h0m8 0h0m1 0h0m2 0h0m1 0h0m2 0h0m16 0h0m5 0h0m31 0h0m3 0h0m29 0h0m23 0h0m66 0h0m16 0h0m-353 1h0m6 0h0m4 0h0m2 0h0m3 0h0m4 0h0m1 0h0m44 0h0m5 0h0m2 0h0m19 0h0m4 0h0m3 0h0m6 0h0m2 0h0m15 0h0m5 0h0m7 0h0m2 0h0m11 0h0m4 0h0m12 0h0m5 0h0m4 0h0m1 0h0m18 0h0m29 0h0m10 0h0m4 0h0m16 0h0m17 0h0m5 0h0m5 0h0m19 0h0m26 0h0m20 0h0m-331 1h0m3 0h0m5 0h0m14 0h0m8 0h0m4 0h0m16 0h0m2 0h0m5 0h0m5 0h0m11 0h0m8 0h0m13 0h0m1 0h0m20 0h0m3 0h0m2 0h0m20 0h0m13 0h0m47 0h0m8 0h0m2 0h0m1 0h0m3 0h0m17 0h0m21 0h0m1 0h0m22 0h0m6 0h0m8 0h0m18 0h0m10 0h0m29 0h0m2 0h0m-359 1h0m24 0h0m7 0h0m3 0h0m10 0h0m16 0h0m2 0h0m32 0h0m3 0h0m3 0h0m1 0h0m2 0h0m9 0h0m16 0h0m12 0h0m12 0h0m7 0h0m1 0h0m26 0h0m31 0h0m15 0h0m16 0h0m17 0h0m3 0h0m6 0h0m4 0h0m63 0h0m-309 1h0m2 0h0m45 0h0m24 0h0m2 0h0m2 0h0m9 0h0m11 0h0m2 0h0m5 0h0m7 0h0m4 0h0m9 0h0m1 0h0m9 0h0m8 0h0m6 0h0m1 0h0m16 0h0m20 0h0m47 0h0m3 0h0m5 0h0m3 0h0m12 0h0m51 0h0m-315 1h0m7 0h0m10 0h0m25 0h0m4 0h0m17 0h0m26 0h0m3 0h0m5 0h0m7 0h0m3 0h0m33 0h0m14 0h0m6 0h0m32 0h0m10 0h0m1 0h0m45 0h0m1 0h0m9 0h0m1 0h0m6 0h0m14 0h0m29 0h0m17 0h0m-316 1h0m6 0h0m45 0h0m22 0h0m8 0h0m1 0h0m1 0h0m2 0h0m3 0h0m1 0h0m3 0h0m3 0h0m5 0h0m2 0h0m2 0h0m9 0h0m2 0h0m1 0h0m2 0h0m10 0h0m7 0h0m2 0h0m5 0h0m9 0h0m1 0h0m46 0h0m44 0h0m2 0h0m9 0h0m34 0h0m8 0h0m6 0h0m19 0h0m-343 1h0m1 0h0m7 0h0m11 0h0m11 0h0m12 0h0m10 0h0m3 0h0m26 0h0m4 0h0m4 0h0m1 0h0m6 0h0m9 0h0m4 0h0m9 0h0m4 0h0m11 0h0m1 0h0m14 0h0m6 0h0m6 0h0m21 0h0m13 0h0m3 0h0m1 0h0m2 0h0m5 0h0m47 0h0m23 0h0m1 0h0m49 0h0m12 0h0m4 0h0m-310 1h0m15 0h0m6 0h0m12 0h0m3 0h0m8 0h0m6 0h0m11 0h0m1 0h0m10 0h0m3 0h0m9 0h0m1 0h0m4 0h0m9 0h0m11 0h0m7 0h0m15 0h0m37 0h0m5 0h0m54 0h0m4 0h0m1 0h0m9 0h0m60 0h0m14 0h0m-288 1h0m42 0h0m1 0h0m4 0h0m6 0h0m4 0h0m1 0h0m4 0h0m4 0h0m5 0h0m3 0h0m16 0h0m8 0h0m3 0h0m3 0h0m15 0h0m18 0h0m9 0h0m7 0h0m7 0h0m40 0h0m5 0h0m1 0h0m3 0h0m15 0h0m4 0h0m-261 1h0m5 0h0m13 0h0m4 0h0m1 0h0m10 0h0m5 0h0m21 0h0m16 0h0m4 0h0m4 0h0m8 0h0m36 0h0m9 0h0m38 0h0m48 0h0m26 0h0m2 0h0m7 0h0m4 0h0m-253 1h0m5 0h0m3 0h0m20 0h0m13 0h0m7 0h0m1 0h0m3 0h0m1 0h0m1 0h0m3 0h0m8 0h0m1 0h0m30 0h0m3 0h0m5 0h0m42 0h0m24 0h0m10 0h0m1 0h0m6 0h0m39 0h0m19 0h0m5 0h0m4 0h0m56 0h0m-316 1h0m11 0h0m31 0h0m7 0h0m5 0h0m1 0h0m1 0h0m12 0h0m3 0h0m1 0h0m5 0h0m8 0h0m5 0h0m17 0h0m3 0h0m3 0h0m6 0h0m1 0h0m26 0h0m29 0h0m6 0h0m49 0h0m1 0h0m9 0h0m7 0h0m1 0h0m5 0h0m10 0h0m56 0h0m-332 1h0m31 0h0m40 0h0m12 0h0m13 0h0m4 0h0m17 0h0m15 0h0m3 0h0m6 0h0m9 0h0m34 0h0m4 0h0m6 0h0m15 0h0m39 0h0m8 0h0m11 0h0m2 0h0m5 0h0m66 0h0m-310 1h0m14 0h0m18 0h0m9 0h0m1 0h0m5 0h0m6 0h0m16 0h0m1 0h0m1 0h0m4 0h0m5 0h0m6 0h0m27 0h0m2 0h0m35 0h0m5 0h0m1 0h0m7 0h0m2 0h0m10 0h0m38 0h0m6 0h0m10 0h0m2 0h0m71 0h0m4 0h0m-311 1h0m1 0h0m5 0h0m11 0h0m4 0h0m8 0h0m5 0h0m9 0h0m2 0h0m8 0h0m9 0h0m9 0h0m6 0h0m9 0h0m8 0h0m3 0h0m2 0h0m3 0h0m8 0h0m17 0h0m16 0h0m11 0h0m8 0h0m15 0h0m5 0h0m48 0h0m11 0h0m1 0h0m19 0h0m24 0h0m20 0h0m9 0h0m-333 1h0m30 0h0m6 0h0m11 0h0m2 0h0m26 0h0m5 0h0m9 0h0m6 0h0m10 0h0m12 0h0m2 0h0m5 0h0m4 0h0m7 0h0m41 0h0m1 0h0m5 0h0m3 0h0m23 0h0m36 0h0m73 0h0m-300 1h0m14 0h0m5 0h0m7 0h0m1 0h0m32 0h0m6 0h0m11 0h0m3 0h0m15 0h0m4 0h0m4 0h0m8 0h0m1 0h0m1 0h0m22 0h0m38 0h0m6 0h0m61 0h0m56 0h0m4 0h0m2 0h0m7 0h0m-289 1h0m32 0h0m5 0h0m3 0h0m7 0h0m12 0h0m9 0h0m6 0h0m11 0h0m13 0h0m12 0h0m14 0h0m8 0h0m18 0h0m17 0h0m99 0h0m8 0h0m3 0h0m5 0h0m-286 1h0m8 0h0m5 0h0m58 0h0m9 0h0m14 0h0m64 0h0m3 0h0m69 0h0m1 0h0m1 0h0m9 0h0m31 0h0m-282 1h0m9 0h0m5 0h0m5 0h0m6 0h0m5 0h0m7 0h0m2 0h0m6 0h0m1 0h0m9 0h0m5 0h0m1 0h0m1 0h0m1 0h0m9 0h0m9 0h0m1 0h0m10 0h0m4 0h0m1 0h0m9 0h0m55 0h0m8 0h0m10 0h0m50 0h0m1 0h0m8 0h0m2 0h0m47 0h0m-271 1h0m9 0h0m1 0h0m4 0h0m8 0h0m5 0h0m10 0h0m1 0h0m12 0h0m7 0h0m4 0h0m2 0h0m12 0h0m13 0h0m13 0h0m1 0h0m16 0h0m23 0h0m3 0h0m3 0h0m8 0h0m3 0h0m2 0h0m43 0h0m7 0h0m4 0h0m10 0h0m55 0h0m-281 1h0m1 0h0m25 0h0m1 0h0m1 0h0m8 0h0m7 0h0m10 0h0m8 0h0m1 0h0m2 0h0m12 0h0m2 0h0m1 0h0m11 0h0m32 0h0m4 0h0m26 0h0m75 0h0m5 0h0m-228 1h0m2 0h0m1 0h0m2 0h0m13 0h0m2 0h0m9 0h0m1 0h0m4 0h0m9 0h0m3 0h0m15 0h0m15 0h0m5 0h0m1 0h0m25 0h0m23 0h0m11 0h0m16 0h0m59 0h0m6 0h0m5 0h0m7 0h0m22 0h0m26 0h0m-281 1h0m1 0h0m3 0h0m10 0h0m11 0h0m10 0h0m12 0h0m7 0h0m1 0h0m10 0h0m7 0h0m7 0h0m15 0h0m3 0h0m123 0h0m57 0h0m12 0h0m-291 1h0m3 0h0m5 0h0m1 0h0m8 0h0m1 0h0m7 0h0m7 0h0m1 0h0m2 0h0m14 0h0m7 0h0m4 0h0m3 0h0m8 0h0m1 0h0m4 0h0m2 0h0m5 0h0m3 0h0m4 0h0m19 0h0m16 0h0m2 0h0m13 0h0m21 0h0m52 0h0m10 0h0m10 0h0m5 0h0m1 0h0m4 0h0m28 0h0m5 0h0m-275 1h0m3 0h0m1 0h0m1 0h0m2 0h0m10 0h0m6 0h0m4 0h0m17 0h0m16 0h0m9 0h0m18 0h0m29 0h0m1 0h0m26 0h0m1 0h0m4 0h0m6 0h0m5 0h0m27 0h0m18 0h0m27 0h0m9 0h0m37 0h0m-279 1h0m2 0h0m11 0h0m4 0h0m2 0h0m1 0h0m18 0h0m3 0h0m5 0h0m6 0h0m5 0h0m19 0h0m7 0h0m2 0h0m33 0h0m4 0h0m5 0h0m2 0h0m4 0h0m15 0h0m80 0h0m8 0h0m2 0h0m-251 1h0m17 0h0m25 0h0m4 0h0m3 0h0m3 0h0m1 0h0m5 0h0m1 0h0m13 0h0m2 0h0m18 0h0m14 0h0m3 0h0m27 0h0m35 0h0m47 0h0m25 0h0m3 0h0m11 0h0m9 0h0m2 0h0m27 0h0m-287 1h0m1 0h0m16 0h0m4 0h0m1 0h0m3 0h0m2 0h0m5 0h0m9 0h0m4 0h0m9 0h0m11 0h0m12 0h0m19 0h0m25 0h0m10 0h0m19 0h0m7 0h0m83 0h0m43 0h0m3 0h0m-278 1h0m3 0h0m19 0h0m3 0h0m6 0h0m12 0h0m7 0h0m24 0h0m4 0h0m3 0h0m7 0h0m1 0h0m6 0h0m5 0h0m51 0h0m29 0h0m2 0h0m67 0h0m11 0h0m1 0h0m20 0h0m-288 1h0m4 0h0m15 0h0m2 0h0m1 0h0m5 0h0m12 0h0m11 0h0m1 0h0m19 0h0m3 0h0m1 0h0m4 0h0m1 0h0m1 0h0m3 0h0m6 0h0m4 0h0m6 0h0m2 0h0m12 0h0m13 0h0m40 0h0m2 0h0m64 0h0m5 0h0m2 0h0m2 0h0m3 0h0m1 0h0m32 0h0m-270 1h0m11 0h0m8 0h0m18 0h0m2 0h0m14 0h0m1 0h0m9 0h0m7 0h0m17 0h0m7 0h0m6 0h0m1 0h0m7 0h0m9 0h0m2 0h0m27 0h0m5 0h0m70 0h0m20 0h0m2 0h0m-252 1h0m13 0h0m1 0h0m3 0h0m6 0h0m1 0h0m7 0h0m1 0h0m1 0h0m6 0h0m5 0h0m2 0h0m22 0h0m4 0h0m5 0h0m1 0h0m3 0h0m6 0h0m1 0h0m13 0h0m2 0h0m11 0h0m15 0h0m35 0h0m6 0h0m10 0h0m42 0h0m10 0h0m7 0h0m4 0h0m11 0h0m-260 1h0m4 0h0m5 0h0m7 0h0m14 0h0m1 0h0m14 0h0m11 0h0m1 0h0m7 0h0m3 0h0m6 0h0m6 0h0m2 0h0m6 0h0m1 0h0m18 0h0m5 0h0m14 0h0m7 0h0m2 0h0m110 0h0m21 0h0m3 0h0m5 0h0m11 0h0m8 0h0m4 0h0m-304 1h0m31 0h0m3 0h0m6 0h0m14 0h0m4 0h0m1 0h0m5 0h0m6 0h0m29 0h0m22 0h0m19 0h0m3 0h0m101 0h0m8 0h0m7 0h0m10 0h0m20 0h0m6 0h0m-282 1h0m3 0h0m3 0h0m6 0h0m9 0h0m1 0h0m21 0h0m5 0h0m4 0h0m3 0h0m3 0h0m18 0h0m12 0h0m29 0h0m7 0h0m3 0h0m1 0h0m3 0h0m20 0h0m11 0h0m71 0h0m6 0h0m1 0h0m3 0h0m1 0h0m6 0h0m1 0h0m6 0h0m3 0h0m12 0h0m-266 1h0m5 0h0m8 0h0m16 0h0m7 0h0m1 0h0m4 0h0m8 0h0m5 0h0m18 0h0m1 0h0m5 0h0m18 0h0m2 0h0m3 0h0m11 0h0m10 0h0m19 0h0m1 0h0m1 0h0m75 0h0m10 0h0m11 0h0m4 0h0m3 0h0m1 0h0m1 0h0m3 0h0m7 0h0m-252 1h0m4 0h0m1 0h0m29 0h0m7 0h0m2 0h0m2 0h0m5 0h0m2 0h0m4 0h0m15 0h0m17 0h0m4 0h0m8 0h0m3 0h0m11 0h0m3 0h0m8 0h0m7 0h0m1 0h0m83 0h0m10 0h0m7 0h0m5 0h0m8 0h0m1 0h0m6 0h0m-244 1h0m19 0h0m2 0h0m16 0h0m3 0h0m21 0h0m25 0h0m11 0h0m6 0h0m24 0h0m19 0h0m20 0h0m48 0h0m2 0h0m11 0h0m6 0h0m11 0h0m-250 1h0m4 0h0m2 0h0m65 0h0m1 0h0m8 0h0m1 0h0m4 0h0m2 0h0m15 0h0m3 0h0m2 0h0m9 0h0m2 0h0m2 0h0m2 0h0m13 0h0m8 0h0m74 0h0m2 0h0m13 0h0m6 0h0m6 0h0m2 0h0m1 0h0m14 0h0m9 0h0m4 0h0m-283 1h0m5 0h0m1 0h0m5 0h0m16 0h0m1 0h0m14 0h0m10 0h0m2 0h0m4 0h0m18 0h0m3 0h0m13 0h0m1 0h0m1 0h0m3 0h0m7 0h0m11 0h0m13 0h0m2 0h0m1 0h0m7 0h0m6 0h0m9 0h0m1 0h0m6 0h0m13 0h0m1 0h0m25 0h0m24 0h0m6 0h0m2 0h0m16 0h0m1 0h0m3 0h0m2 0h0m-263 1h0m15 0h0m31 0h0m18 0h0m26 0h0m1 0h0m2 0h0m8 0h0m3 0h0m16 0h0m1 0h0m4 0h0m2 0h0m3 0h0m9 0h0m2 0h0m6 0h0m26 0h0m22 0h0m38 0h0m2 0h0m8 0h0m3 0h0m1 0h0m5 0h0m2 0h0m7 0h0m6 0h0m5 0h0m-247 1h0m8 0h0m6 0h0m36 0h0m41 0h0m18 0h0m18 0h0m10 0h0m4 0h0m10 0h0m19 0h0m5 0h0m32 0h0m10 0h0m3 0h0m2 0h0m4 0h0m1 0h0m5 0h0m4 0h0m20 0h0m-259 1h0m2 0h0m5 0h0m2 0h0m14 0h0m3 0h0m5 0h0m22 0h0m20 0h0m12 0h0m1 0h0m17 0h0m4 0h0m7 0h0m9 0h0m9 0h0m5 0h0m30 0h0m1 0h0m7 0h0m43 0h0m10 0h0m9 0h0m10 0h0m8 0h0m-280 1h0m30 0h0m8 0h0m3 0h0m11 0h0m7 0h0m5 0h0m3 0h0m17 0h0m11 0h0m3 0h0m10 0h0m16 0h0m1 0h0m8 0h0m1 0h0m5 0h0m3 0h0m16 0h0m9 0h0m3 0h0m29 0h0m6 0h0m10 0h0m42 0h0m7 0h0m1 0h0m-264 1h0m13 0h0m13 0h0m10 0h0m15 0h0m12 0h0m10 0h0m20 0h0m10 0h0m5 0h0m23 0h0m2 0h0m6 0h0m5 0h0m21 0h0m6 0h0m9 0h0m1 0h0m6 0h0m1 0h0m1 0h0m17 0h0m31 0h0m5 0h0m5 0h0m9 0h0m8 0h0m15 0h0m6 0h0m3 0h0m8 0h0m-269 1h0m4 0h0m9 0h0m4 0h0m8 0h0m22 0h0m6 0h0m4 0h0m10 0h0m10 0h0m2 0h0m7 0h0m14 0h0m8 0h0m48 0h0m4 0h0m6 0h0m9 0h0m45 0h0m7 0h0m9 0h0m10 0h0m6 0h0m3 0h0m-293 1h0m9 0h0m13 0h0m7 0h0m5 0h0m6 0h0m8 0h0m5 0h0m38 0h0m5 0h0m3 0h0m11 0h0m2 0h0m8 0h0m6 0h0m21 0h0m3 0h0m6 0h0m6 0h0m8 0h0m10 0h0m12 0h0m14 0h0m2 0h0m15 0h0m27 0h0m1 0h0m1 0h0m15 0h0m9 0h0m15 0h0m13 0h0m-275 1h0m6 0h0m1 0h0m5 0h0m2 0h0m6 0h0m1 0h0m7 0h0m54 0h0m1 0h0m1 0h0m4 0h0m24 0h0m1 0h0m9 0h0m9 0h0m21 0h0m9 0h0m2 0h0m6 0h0m21 0h0m14 0h0m21 0h0m25 0h0m2 0h0m3 0h0m1 0h0m13 0h0m-299 1h0m17 0h0m6 0h0m1 0h0m14 0h0m23 0h0m2 0h0m40 0h0m4 0h0m20 0h0m20 0h0m8 0h0m13 0h0m1 0h0m15 0h0m10 0h0m1 0h0m12 0h0m5 0h0m3 0h0m1 0h0m40 0h0m5 0h0m1 0h0m1 0h0m8 0h0m7 0h0m4 0h0m3 0h0m4 0h0m17 0h0m-292 1h0m13 0h0m3 0h0m4 0h0m3 0h0m2 0h0m33 0h0m1 0h0m1 0h0m23 0h0m1 0h0m6 0h0m5 0h0m9 0h0m2 0h0m17 0h0m12 0h0m16 0h0m3 0h0m3 0h0m3 0h0m5 0h0m26 0h0m5 0h0m14 0h0m12 0h0m14 0h0m13 0h0m3 0h0m13 0h0m3 0h0m-258 1h0m10 0h0m56 0h0m22 0h0m2 0h0m4 0h0m1 0h0m2 0h0m1 0h0m4 0h0m3 0h0m11 0h0m27 0h0m11 0h0m2 0h0m4 0h0m8 0h0m14 0h0m12 0h0m25 0h0m20 0h0m3 0h0m10 0h0m14 0h0m15 0h0m-286 1h0m1 0h0m26 0h0m3 0h0m2 0h0m13 0h0m28 0h0m2 0h0m5 0h0m2 0h0m58 0h0m13 0h0m1 0h0m3 0h0m9 0h0m8 0h0m2 0h0m14 0h0m16 0h0m17 0h0m5 0h0m14 0h0m8 0h0m2 0h0m7 0h0m2 0h0m1 0h0m9 0h0m1 0h0m2 0h0m-287 1h0m8 0h0m7 0h0m18 0h0m15 0h0m46 0h0m8 0h0m2 0h0m1 0h0m34 0h0m17 0h0m23 0h0m4 0h0m3 0h0m6 0h0m5 0h0m2 0h0m5 0h0m15 0h0m13 0h0m8 0h0m3 0h0m11 0h0m1 0h0m5 0h0m7 0h0m11 0h0m2 0h0m11 0h0m3 0h0m-280 1h0m16 0h0m5 0h0m6 0h0m6 0h0m10 0h0m2 0h0m28 0h0m2 0h0m6 0h0m12 0h0m48 0h0m2 0h0m6 0h0m9 0h0m13 0h0m1 0h0m5 0h0m15 0h0m26 0h0m8 0h0m13 0h0m5 0h0m16 0h0m2 0h0m-271 1h0m8 0h0m5 0h0m4 0h0m1 0h0m15 0h0m3 0h0m45 0h0m2 0h0m6 0h0m15 0h0m31 0h0m17 0h0m2 0h0m1 0h0m7 0h0m33 0h0m4 0h0m1 0h0m2 0h0m25 0h0m18 0h0m7 0h0m2 0h0m4 0h0m5 0h0m16 0h0m5 0h0m3 0h0m-291 1h0m10 0h0m7 0h0m6 0h0m7 0h0m4 0h0m3 0h0m2 0h0m6 0h0m2 0h0m27 0h0m6 0h0m7 0h0m12 0h0m1 0h0m1 0h0m9 0h0m31 0h0m1 0h0m5 0h0m25 0h0m1 0h0m31 0h0m2 0h0m5 0h0m24 0h0m14 0h0m5 0h0m7 0h0m2 0h0m1 0h0m1 0h0m1 0h0m6 0h0m1 0h0m4 0h0m6 0h0m7 0h0m1 0h0m6 0h0m2 0h0m-300 1h0m3 0h0m3 0h0m14 0h0m2 0h0m7 0h0m1 0h0m3 0h0m10 0h0m3 0h0m31 0h0m9 0h0m2 0h0m6 0h0m1 0h0m15 0h0m38 0h0m4 0h0m6 0h0m7 0h0m2 0h0m8 0h0m1 0h0m8 0h0m1 0h0m2 0h0m17 0h0m35 0h0m26 0h0m6 0h0m-267 1h0m6 0h0m5 0h0m3 0h0m4 0h0m1 0h0m23 0h0m12 0h0m14 0h0m19 0h0m3 0h0m8 0h0m1 0h0m4 0h0m40 0h0m2 0h0m7 0h0m8 0h0m15 0h0m2 0h0m7 0h0m15 0h0m7 0h0m58 0h0m7 0h0m23 0h0m-293 1h0m13 0h0m2 0h0m1 0h0m1 0h0m7 0h0m2 0h0m9 0h0m43 0h0m7 0h0m2 0h0m7 0h0m54 0h0m2 0h0m2 0h0m14 0h0m10 0h0m5 0h0m6 0h0m14 0h0m43 0h0m4 0h0m7 0h0m10 0h0m8 0h0m3 0h0m7 0h0m5 0h0m-297 1h0m11 0h0m9 0h0m6 0h0m3 0h0m2 0h0m3 0h0m3 0h0m4 0h0m1 0h0m9 0h0m21 0h0m25 0h0m13 0h0m25 0h0m19 0h0m10 0h0m3 0h0m9 0h0m13 0h0m8 0h0m2 0h0m15 0h0m18 0h0m17 0h0m20 0h0m11 0h0m7 0h0m5 0h0m4 0h0m1 0h0m2 0h0m-280 1h0m10 0h0m4 0h0m3 0h0m2 0h0m6 0h0m10 0h0m20 0h0m8 0h0m3 0h0m6 0h0m4 0h0m1 0h0m1 0h0m9 0h0m2 0h0m24 0h0m30 0h0m8 0h0m26 0h0m2 0h0m16 0h0m18 0h0m5 0h0m8 0h0m1 0h0m3 0h0m8 0h0m1 0h0m26 0h0m15 0h0m1 0h0m-290 1h0m9 0h0m14 0h0m7 0h0m3 0h0m1 0h0m34 0h0m6 0h0m4 0h0m3 0h0m6 0h0m1 0h0m5 0h0m3 0h0m1 0h0m4 0h0m40 0h0m5 0h0m4 0h0m2 0h0m1 0h0m3 0h0m2 0h0m1 0h0m2 0h0m2 0h0m14 0h0m8 0h0m5 0h0m9 0h0m1 0h0m30 0h0m2 0h0m4 0h0m18 0h0m3 0h0m18 0h0m2 0h0m2 0h0m-274 1h0m2 0h0m2 0h0m2 0h0m1 0h0m3 0h0m6 0h0m1 0h0m12 0h0m30 0h0m18 0h0m8 0h0m3 0h0m1 0h0m13 0h0m28 0h0m3 0h0m5 0h0m3 0h0m27 0h0m5 0h0m63 0h0m14 0h0m9 0h0m7 0h0m1 0h0m2 0h0m4 0h0m3 0h0m8 0h0m-270 1h0m2 0h0m1 0h0m19 0h0m15 0h0m10 0h0m2 0h0m4 0h0m4 0h0m13 0h0m2 0h0m11 0h0m2 0h0m49 0h0m24 0h0m6 0h0m16 0h0m34 0h0m13 0h0m14 0h0m1 0h0m12 0h0m7 0h0m11 0h0m-278 1h0m11 0h0m23 0h0m25 0h0m2 0h0m10 0h0m9 0h0m7 0h0m50 0h0m2 0h0m5 0h0m3 0h0m3 0h0m14 0h0m7 0h0m6 0h0m7 0h0m35 0h0m13 0h0m8 0h0m21 0h0m1 0h0m13 0h0m3 0h0m-281 1h0m20 0h0m6 0h0m10 0h0m27 0h0m12 0h0m7 0h0m6 0h0m7 0h0m9 0h0m37 0h0m12 0h0m8 0h0m10 0h0m9 0h0m51 0h0m14 0h0m6 0h0m8 0h0m9 0h0m8 0h0m-269 1h0m2 0h0m9 0h0m34 0h0m9 0h0m4 0h0m4 0h0m10 0h0m2 0h0m2 0h0m45 0h0m2 0h0m1 0h0m10 0h0m3 0h0m14 0h0m7 0h0m4 0h0m2 0h0m4 0h0m22 0h0m14 0h0m32 0h0m13 0h0m10 0h0m6 0h0m-268 1h0m2 0h0m5 0h0m30 0h0m17 0h0m7 0h0m13 0h0m3 0h0m4 0h0m5 0h0m2 0h0m50 0h0m10 0h0m7 0h0m2 0h0m6 0h0m4 0h0m7 0h0m4 0h0m37 0h0m7 0h0m33 0h0m10 0h0m4 0h0m-257 1h0m4 0h0m32 0h0m13 0h0m4 0h0m2 0h0m8 0h0m10 0h0m6 0h0m3 0h0m36 0h0m12 0h0m8 0h0m2 0h0m11 0h0m1 0h0m14 0h0m51 0h0m12 0h0m4 0h0m10 0h0m7 0h0m6 0h0m1 0h0m2 0h0m4 0h0m-264 1h0m18 0h0m6 0h0m20 0h0m2 0h0m1 0h0m3 0h0m16 0h0m6 0h0m2 0h0m31 0h0m18 0h0m8 0h0m7 0h0m20 0h0m3 0h0m11 0h0m1 0h0m25 0h0m6 0h0m18 0h0m8 0h0m5 0h0m1 0h0m6 0h0m9 0h0m-211 1h0m7 0h0m7 0h0m6 0h0m1 0h0m2 0h0m4 0h0m3 0h0m2 0h0m15 0h0m32 0h0m8 0h0m5 0h0m4 0h0m7 0h0m8 0h0m7 0h0m3 0h0m1 0h0m18 0h0m14 0h0m22 0h0m7 0h0m10 0h0m4 0h0m8 0h0m9 0h0m2 0h0m-221 1h0m7 0h0m7 0h0m1 0h0m9 0h0m3 0h0m13 0h0m22 0h0m5 0h0m7 0h0m17 0h0m25 0h0m15 0h0m2 0h0m3 0h0m66 0h0m9 0h0m17 0h0m-236 1h0m24 0h0m16 0h0m19 0h0m27 0h0m3 0h0m1 0h0m8 0h0m15 0h0m6 0h0m6 0h0m3 0h0m1 0h0m5 0h0m2 0h0m3 0h0m33 0h0m51 0h0m1 0h0m5 0h0m-223 1h0m4 0h0m18 0h0m2 0h0m7 0h0m3 0h0m17 0h0m20 0h0m21 0h0m5 0h0m13 0h0m1 0h0m3 0h0m5 0h0m1 0h0m10 0h0m1 0h0m1 0h0m89 0h0m7 0h0m-221 1h0m4 0h0m4 0h0m5 0h0m2 0h0m6 0h0m1 0h0m6 0h0m4 0h0m12 0h0m8 0h0m51 0h0m2 0h0m1 0h0m3 0h0m16 0h0m2 0h0m1 0h0m7 0h0m2 0h0m62 0h0m11 0h0m-216 1h0m7 0h0m2 0h0m8 0h0m12 0h0m1 0h0m1 0h0m1 0h0m1 0h0m1 0h0m5 0h0m7 0h0m8 0h0m3 0h0m7 0h0m21 0h0m4 0h0m8 0h0m10 0h0m6 0h0m2 0h0m1 0h0m5 0h0m3 0h0m25 0h0m5 0h0m59 0h0m14 0h0m4 0h0m1 0h0m-232 1h0m10 0h0m11 0h0m1 0h0m29 0h0m28 0h0m15 0h0m3 0h0m5 0h0m8 0h0m8 0h0m2 0h0m7 0h0m16 0h0m18 0h0m12 0h0m36 0h0m2 0h0m8 0h0m-217 1h0m3 0h0m14 0h0m11 0h0m2 0h0m5 0h0m2 0h0m8 0h0m4 0h0m5 0h0m2 0h0m11 0h0m1 0h0m7 0h0m19 0h0m10 0h0m9 0h0m15 0h0m21 0h0m19 0h0m44 0h0m3 0h0m-184 1h0m12 0h0m3 0h0m5 0h0m1 0h0m3 0h0m1 0h0m17 0h0m16 0h0m11 0h0m1 0h0m17 0h0m11 0h0m2 0h0m30 0h0m69 0h0m-225 1h0m4 0h0m7 0h0m5 0h0m26 0h0m2 0h0m31 0h0m4 0h0m5 0h0m2 0h0m1 0h0m10 0h0m2 0h0m1 0h0m30 0h0m3 0h0m4 0h0m2 0h0m12 0h0m5 0h0m18 0h0m1 0h0m-179 1h0m10 0h0m13 0h0m27 0h0m5 0h0m9 0h0m3 0h0m19 0h0m11 0h0m2 0h0m3 0h0m6 0h0m6 0h0m3 0h0m6 0h0m2 0h0m3 0h0m1 0h0m1 0h0m11 0h0m1 0h0m2 0h0m3 0h0m15 0h0m6 0h0m5 0h0m51 0h0m-218 1h0m16 0h0m11 0h0m10 0h0m3 0h0m19 0h0m3 0h0m8 0h0m2 0h0m1 0h0m8 0h0m13 0h0m14 0h0m21 0h0m4 0h0m7 0h0m4 0h0m2 0h0m6 0h0m46 0h0m-201 1h0m14 0h0m5 0h0m1 0h0m1 0h0m11 0h0m7 0h0m7 0h0m8 0h0m1 0h0m7 0h0m1 0h0m1 0h0m21 0h0m1 0h0m26 0h0m3 0h0m3 0h0m6 0h0m2 0h0m4 0h0m5 0h0m2 0h0m9 0h0m7 0h0m11 0h0m-140 1h0m1 0h0m3 0h0m7 0h0m10 0h0m6 0h0m23 0h0m10 0h0m9 0h0m10 0h0m6 0h0m5 0h0m2 0h0m12 0h0m3 0h0m-112 1h0m17 0h0m6 0h0m8 0h0m47 0h0m8 0h0m22 0h0m9 0h0m1 0h0m5 0h0m5 0h0m68 0h0m-192 1h0m3 0h0m7 0h0m8 0h0m3 0h0m7 0h0m9 0h0m9 0h0m6 0h0m18 0h0m15 0h0m10 0h0m1 0h0m1 0h0m3 0h0m36 0h0m-127 1h0m2 0h0m1 0h0m1 0h0m2 0h0m1 0h0m3 0h0m4 0h0m9 0h0m2 0h0m14 0h0m3 0h0m5 0h0m6 0h0m10 0h0m8 0h0m20 0h0m9 0h0m1 0h0m10 0h0m2 0h0m-117 1h0m8 0h0m2 0h0m1 0h0m9 0h0m14 0h0m2 0h0m12 0h0m14 0h0m13 0h0m16 0h0m5 0h0m1 0h0m10 0h0m15 0h0m4 0h0m3 0h0m7 0h0m18 0h0m-154 1h0m9 0h0m27 0h0m4 0h0m3 0h0m13 0h0m13 0h0m3 0h0m3 0h0m1 0h0m11 0h0m3 0h0m6 0h0m8 0h0m13 0h0m-131 1h0m10 0h0m6 0h0m14 0h0m55 0h0m2 0h0m2 0h0m7 0h0m3 0h0m12 0h0m2 0h0m7 0h0m2 0h0m24 0h0m5 0h0m-120 1h0m13 0h0m31 0h0m10 0h0m9 0h0m-81 1h0m16 0h0m1 0h0m1 0h0m2 0h0m11 0h0m3 0h0m32 0h0m7 0h0m17 0h0m13 0h0m2 0h0m10 0h0m-108 1h0m5 0h0m1 0h0m5 0h0m5 0h0m2 0h0m1 0h0m9 0h0m1 0h0m2 0h0m6 0h0m7 0h0m8 0h0m4 0h0m3 0h0m15 0h0m3 0h0m16 0h0m3 0h0m6 0h0m13 0h0m11 0h0m14 0h0m-138 1h0m13 0h0m2 0h0m18 0h0m3 0h0m24 0h0m1 0h0m8 0h0m8 0h0m2 0h0m38 0h0m3 0h0m3 0h0m3 0h0m36 0h0m-157 1h0m1 0h0m4 0h0m3 0h0m8 0h0m1 0h0m2 0h0m2 0h0m2 0h0m8 0h0m38 0h0m17 0h0m2 0h0m1 0h0m6 0h0m22 0h0m14 0h0m23 0h0m-159 1h0m3 0h0m1 0h0m26 0h0m27 0h0m16 0h0m2 0h0m5 0h0m2 0h0m10 0h0m14 0h0m4 0h0m8 0h0m14 0h0m12 0h0m26 0h0m-168 1h0m10 0h0m6 0h0m3 0h0m16 0h0m11 0h0m28 0h0m3 0h0m13 0h0m20 0h0m2 0h0m2 0h0m3 0h0m11 0h0m6 0h0m1 0h0m3 0h0m8 0h0m4 0h0m-153 1h0m5 0h0m3 0h0m3 0h0m2 0h0m3 0h0m1 0h0m54 0h0m26 0h0m33 0h0m4 0h0m7 0h0m5 0h0m-140 1h0m5 0h0m3 0h0m9 0h0m41 0h0m16 0h0m5 0h0m1 0h0m25 0h0m4 0h0m8 0h0m18 0h0m14 0h0m26 0h0m-181 1h0m16 0h0m5 0h0m9 0h0m17 0h0m13 0h0m18 0h0m1 0h0m3 0h0m12 0h0m5 0h0m4 0h0m31 0h0m43 0h0m-177 1h0m7 0h0m4 0h0m10 0h0m48 0h0m6 0h0m1 0h0m11 0h0m1 0h0m1 0h0m6 0h0m1 0h0m13 0h0m8 0h0m15 0h0m12 0h0m27 0h0m-162 1h0m2 0h0m6 0h0m2 0h0m13 0h0m7 0h0m52 0h0m1 0h0m4 0h0m4 0h0m31 0h0m24 0h0m17 0h0m12 0h0m-174 1h0m1 0h0m1 0h0m18 0h0m1 0h0m68 0h0m1 0h0m17 0h0m6 0h0m11 0h0m4 0h0m20 0h0m1 0h0m4 0h0m5 0h0m11 0h0m-168 1h0m21 0h0m49 0h0m17 0h0m12 0h0m29 0h0m29 0h0m6 0h0m8 0h0m-165 1h0m2 0h0m7 0h0m37 0h0m27 0h0m6 0h0m21 0h0m3 0h0m5 0h0m21 0h0m8 0h0m8 0h0m2 0h0m8 0h0m-163 1h0m8 0h0m6 0h0m4 0h0m4 0h0m98 0h0m35 0h0m5 0h0m8 0h0m4 0h0m-162 1h0m65 0h0m7 0h0m46 0h0m18 0h0m3 0h0m4 0h0m4 0h0m-154 1h0m16 0h0m75 0h0m1 0h0m4 0h0m1 0h0m2 0h0m17 0h0m5 0h0m19 0h0m20 0h0m7 0h0m-154 1h0m18 0h0m12 0h0m2 0h0m34 0h0m27 0h0m43 0h0m2 0h0m1 0h0m10 0h0m-86 1h0m1 0h0m3 0h0m3 0h0m19 0h0m9 0h0m6 0h0m16 0h0m21 0h0m1 0h0m13 0h0m-69 1h0m10 0h0m3 0h0m2 0h0m23 0h0m7 0h0m15 0h0m-76 1h0m7 0h0m4 0h0m3 0h0m3 0h0m8 0h0m15 0h0m3 0h0m21 0h0m2 0h0m14 0h0m-153 1h0m13 0h0m68 0h0m13 0h0m5 0h0m2 0h0m5 0h0m11 0h0m30 0h0m-145 1h0m4 0h0m61 0h0m3 0h0m2 0h0m13 0h0m17 0h0m16 0h0m18 0h0m5 0h0m7 0h0m2 0h0m4 0h0m-126 1h0m63 0h0m3 0h0m13 0h0m23 0h0m1 0h0m2 0h0m3 0h0m2 0h0m4 0h0m4 0h0m-70 1h0m5 0h0m3 0h0m3 0h0m1 0h0m3 0h0m9 0h0m3 0h0m5 0h0m3 0h0m2 0h0m11 0h0m4 0h0m7 0h0m1 0h0m5 0h0m4 0h0m5 0h0m-83 1h0m4 0h0m7 0h0m31 0h0m4 0h0m4 0h0m4 0h0m9 0h0m14 0h0m4 0h0m-142 1h0m46 0h0m24 0h0m1 0h0m8 0h0m6 0h0m2 0h0m8 0h0m16 0h0m12 0h0m12 0h0m1 0h0m9 0h0m-75 1h0m1 0h0m2 0h0m1 0h0m2 0h0m12 0h0m8 0h0m11 0h0m20 0h0m2 0h0m2 0h0m2 0h0m2 0h0m-130 1h0m58 0h0m3 0h0m34 0h0m2 0h0m12 0h0m18 0h0m8 0h0m1 0h0m4 0h0m-70 1h0m2 0h0m1 0h0m1 0h0m9 0h0m2 0h0m17 0h0m4 0h0m19 0h0m1 0h0m4 0h0m1 0h0m-71 1h0m15 0h0m1 0h0m37 0h0m6 0h0m28 0h0m-106 1h0m16 0h0m7 0h0m12 0h0m13 0h0m10 0h0m31 0h0m1 0h0m-57 1h0m7 0h0m12 0h0m4 0h0m1 0h0m12 0h0m5 0h0m11 0h0m3 0h0m10 0h0m7 0h0m-76 1h0m1 0h0m6 0h0m6 0h0m5 0h0m4 0h0m3 0h0m5 0h0m7 0h0m23 0h0m2 0h0m3 0h0m4 0h0m-66 1h0m8 0h0m4 0h0m11 0h0m10 0h0m1 0h0m21 0h0m4 0h0m5 0h0m2 0h0m-82 1h0m4 0h0m8 0h0m1 0h0m1 0h0m4 0h0m1 0h0m36 0h0m1 0h0m25 0h0m-84 1h0m2 0h0m32 0h0m1 0h0m20 0h0m7 0h0m1 0h0m2 0h0m6 0h0m16 0h0m-84 1h0m2 0h0m35 0h0m18 0h0m11 0h0m3 0h0m7 0h0m6 0h0m4 0h0m-87 1h0m19 0h0m3 0h0m5 0h0m1 0h0m9 0h0m5 0h0m13 0h0m2 0h0m6 0h0m6 0h0m20 0h0m-87 1h0m6 0h0m8 0h0m6 0h0m2 0h0m5 0h0m10 0h0m6 0h0m3 0h0m2 0h0m5 0h0m11 0h0m3 0h0m15 0h0m4 0h0m-89 1h0m4 0h0m7 0h0m7 0h0m16 0h0m1 0h0m3 0h0m1 0h0m1 0h0m13 0h0m14 0h0m4 0h0m14 0h0m1 0h0m2 0h0m-90 1h0m8 0h0m4 0h0m1 0h0m4 0h0m5 0h0m18 0h0m7 0h0m2 0h0m13 0h0m18 0h0m5 0h0m-79 1h0m7 0h0m3 0h0m19 0h0m3 0h0m3 0h0m12 0h0m3 0h0m8 0h0m8 0h0m5 0h0m10 0h0m-87 1h0m7 0h0m7 0h0m1 0h0m2 0h0m57 0h0m17 0h0m2 0h0m-91 1h0m16 0h0m21 0h0m1 0h0m20 0h0m6 0h0m4 0h0m12 0h0m-80 1h0m27 0h0m11 0h0m9 0h0m15 0h0m5 0h0m4 0h0m3 0h0m4 0h0m-63 1h0m6 0h0m10 0h0m1 0h0m1 0h0m8 0h0m4 0h0m7 0h0m1 0h0m2 0h0m10 0h0m8 0h0m3 0h0m4 0h0m-89 1h0m51 0h0m5 0h0m8 0h0m11 0h0m19 0h0m-74 1h0m10 0h0m2 0h0m11 0h0m18 0h0m5 0h0m3 0h0m1 0h0m2 0h0m8 0h0m13 0h0m-66 1h0m16 0h0m5 0h0m1 0h0m2 0h0m4 0h0m2 0h0m13 0h0m1 0h0m8 0h0m6 0h0m8 0h0m-72 1h0m4 0h0m13 0h0m11 0h0m23 0h0m7 0h0m3 0h0m7 0h0m-38 1h0m3 0h0m1 0h0m4 0h0m18 0h0m8 0h0m-47 1h0m15 0h0m19 0h0m1 0h0m1 0h0m15 0h0m-62 1h0m14 0h0m14 0h0m11 0h0m23 0h0m-46 1h0m12 0h0m21 0h0m16 0h0m-58 1h0m25 0h0m10 0h0m-35 1h0m2 0h0m2 0h0m26 0h0m9 0h0m5 1h0m-37 1h0m9 0h0m11 0h0m1 0h0m23 0h0m-37 1h0m19 0h0m-10 1h0m3 0h0m-2 1h0m5 0h0m1 0h0m8 0h0m4 0h0m-30 1h0m15 0h0m3 0h0m1 0h0m-21 1h0m26 0h0m-11 1h0m9 0h0m8 1h0m11 0h0"/>
<path stroke="#bdbdbd" d="M717 225h0m-20 1h0m-20 1h0m-23 1h0m28 0h0m1 0h0m2 0h0m13 0h0m-50 1h0m10 0h0m23 0h0m8 0h0m26 0h0m-84 1h0m13 0h0m3 0h0m30 0h0m6 0h0m-36 1h0m22 0h0m19 0h0m12 0h0m5 0h0m17 0h0m1 0h0m-58 1h0m12 0h0m2 0h0m1 0h0m7 0h0m-40 1h0m4 0h0m65 0h0m-42 1h0m-32 1h0m11 0h0m15 0h0m19 0h0m18 0h0m15 0h0m2 0h0m-73 1h0m12 0h0m6 0h0m4 0h0m26 0h0m-38 1h0m21 0h0m2 0h0m13 0h0m46 0h0m-137 1h0m47 0h0m1 0h0m14 0h0m5 0h0m3 0h0m5 0h0m2 0h0m1 0h0m2 0h0m59 0h0m-105 1h0m20 0h0m6 0h0m7 0h0m9 0h0m8 0h0m36 0h0m-67 1h0m24 0h0m3 0h0m8 0h0m44 0h0m7 0h0m1 0h0m-102 1h0m18 0h0m20 0h0m21 0h0m31 0h0m-50 1h0m30 0h0m8 0h0m5 0h0m-116 1h0m56 0h0m54 0h0m22 0h0m-64 1h0m-8 1h0m53 0h0m-54 1h0m12 0h0m17 0h0m8 0h0m4 0h0m21 0h0m5 0h0m2 0h0m-15 1h0m13 0h0m-69 1h0m4 0h0m29 0h0m11 0h0m23 0h0m11 0h0m-81 1h0m1 0h0m28 0h0m54 0h0m-93 1h0m41 0h0m21 0h0m10 0h0m13 0h0m3 0h0m-57 1h0m27 0h0m27 0h0m-70 1h0m1 0h0m4 0h0m12 0h0m4 0h0m19 0h0m11 0h0m4 0h0m19 0h0m-73 1h0m65 0h0m17 0h0m8 0h0m-79 1h0m4 0h0m21 0h0m2 0h0m25 0h0m4 0h0m7 0h0m-82 1h0m14 0h0m27 0h0m31 0h0m3 0h0m-52 1h0m5 0h0m22 0h0m15 0h0m-66 1h0m3 0h0m1 0h0m3 0h0m3 0h0m16 0h0m1 0h0m1 0h0m31 0h0m10 0h0m7 0h0m1 0h0m-79 1h0m38 0h0m20 0h0m1 0h0m13 0h0m6 0h0m3 0h0m7 0h0m-84 1h0m16 0h0m26 0h0m33 0h0m-48 1h0m26 0h0m27 0h0m-74 1h0m1 0h0m2 0h0m11 0h0m15 0h0m12 0h0m18 0h0m-64 1h0m31 0h0m14 0h0m7 0h0m6 0h0m5 0h0m1 0h0m1 0h0m5 0h0m-67 1h0m44 0h0m18 0h0m-60 1h0m6 0h0m9 0h0m1 0h0m25 0h0m1 0h0m4 0h0m28 0h0m-87 1h0m15 0h0m66 0h0m-56 1h0m44 0h0m10 0h0m3 0h0m-106 1h0m29 0h0m14 0h0m34 0h0m-48 1h0m8 0h0m8 0h0m1 0h0m24 0h0m-48 1h0m31 0h0m31 0h0m-40 1h0m13 0h0m15 0h0m-42 1h0m12 0h0m8 0h0m41 0h0m2 0h0m7 0h0m-99 1h0m55 0h0m23 0h0m17 0h0m2 0h0m-107 1h0m32 0h0m33 0h0m1 0h0m6 0h0m-29 1h0m20 0h0m-64 1h0m12 0h0m13 0h0m10 0h0m17 0h0m13 0h0m63 0h0m-49 1h0m6 0h0m47 0h0m4 0h0m15 0h0m-109 1h0m14 0h0m19 0h0m47 0h0m6 0h0m-118 1h0m2 0h0m49 0h0m-73 1h0m8 0h0m6 0h0m2 0h0m10 0h0m34 0h0m10 0h0m37 0h0m39 0h0m14 0h0m10 0h0m-151 1h0m43 0h0m17 0h0m27 0h0m2 0h0m48 0h0m1 0h0m-148 1h0m6 0h0m2 0h0m25 0h0m25 0h0m8 0h0m1 0h0m38 0h0m48 0h0m14 0h0m-175 1h0m11 0h0m12 0h0m5 0h0m22 0h0m6 0h0m1 0h0m2 0h0m12 0h0m3 0h0m2 0h0m76 0h0m-154 1h0m16 0h0m3 0h0m13 0h0m40 0h0m46 0h0m-114 1h0m15 0h0m24 0h0m24 0h0m22 0h0m81 0h0m10 0h0m-171 1h0m1 0h0m1 0h0m29 0h0m20 0h0m16 0h0m109 0h0m-189 1h0m170 0h0m6 0h0m2 0h0m-167 1h0m9 0h0m42 0h0m12 0h0m3 0h0m8 0h0m4 0h0m1 0h0m97 0h0m-184 1h0m6 0h0m11 0h0m39 0h0m5 0h0m69 0h0m-115 1h0m42 0h0m3 0h0m62 0h0m39 0h0m9 0h0m-45 1h0m41 0h0m-171 1h0m9 0h0m12 0h0m6 0h0m9 0h0m31 0h0m14 0h0m31 0h0m42 0h0m-123 1h0m52 0h0m37 0h0m13 0h0m16 0h0m8 0h0m12 0h0m20 0h0m-196 1h0m20 0h0m36 0h0m45 0h0m20 0h0m7 0h0m14 0h0m65 0h0m-207 1h0m9 0h0m9 0h0m6 0h0m1 0h0m1 0h0m2 0h0m5 0h0m1 0h0m10 0h0m105 0h0m7 0h0m7 0h0m-149 1h0m32 0h0m88 0h0m-122 1h0m108 0h0m13 0h0m7 0h0m-136 1h0m27 0h0m8 0h0m63 0h0m23 0h0m20 0h0m67 0h0m-199 1h0m5 0h0m18 0h0m2 0h0m99 0h0m-147 1h0m2 0h0m1 0h0m28 0h0m6 0h0m90 0h0m12 0h0m63 0h0m-199 1h0m14 0h0m5 0h0m44 0h0m85 0h0m82 0h0m-226 1h0m17 0h0m31 0h0m62 0h0m16 0h0m10 0h0m80 0h0m-190 1h0m188 0h0m-196 1h0m1 0h0m3 0h0m9 0h0m100 0h0m1 0h0m72 0h0m7 0h0m-177 1h0m70 0h0m16 0h0m10 0h0m26 0h0m54 0h0m14 0h0m-225 1h0m5 0h0m6 0h0m12 0h0m2 0h0m74 0h0m33 0h0m-129 1h0m9 0h0m31 0h0m79 0h0m9 0h0m8 0h0m6 0h0m4 0h0m60 0h0m-176 1h0m2 0h0m15 0h0m66 0h0m34 0h0m82 0h0m-226 1h0m5 0h0m23 0h0m91 0h0m25 0h0m5 0h0m6 0h0m49 0h0m3 0h0m3 0h0m-228 1h0m15 0h0m2 0h0m32 0h0m10 0h0m95 0h0m6 0h0m65 0h0m13 0h0m1 0h0m-230 1h0m37 0h0m95 0h0m15 0h0m75 0h0m15 0h0m-214 1h0m5 0h0m1 0h0m12 0h0m9 0h0m94 0h0m17 0h0m4 0h0m-162 1h0m6 0h0m12 0h0m30 0h0m50 0h0m19 0h0m21 0h0m12 0h0m85 0h0m-196 1h0m16 0h0m68 0h0m27 0h0m20 0h0m8 0h0m-189 1h0m58 0h0m3 0h0m2 0h0m62 0h0m10 0h0m19 0h0m-143 1h0m23 0h0m13 0h0m2 0h0m10 0h0m50 0h0m41 0h0m71 0h0m11 0h0m2 0h0m-227 1h0m37 0h0m9 0h0m18 0h0m78 0h0m11 0h0m1 0h0m7 0h0m39 0h0m11 0h0m8 0h0m17 0h0m-190 1h0m11 0h0m52 0h0m83 0h0m31 0h0m7 0h0m-222 1h0m54 0h0m6 0h0m53 0h0m2 0h0m4 0h0m8 0h0m66 0h0m-187 1h0m15 0h0m19 0h0m5 0h0m12 0h0m53 0h0m11 0h0m4 0h0m-137 1h0m7 0h0m1 0h0m6 0h0m13 0h0m18 0h0m2 0h0m11 0h0m12 0h0m9 0h0m63 0h0m6 0h0m1 0h0m3 0h0m43 0h0m3 0h0m5 0h0m19 0h0m-217 1h0m1 0h0m24 0h0m13 0h0m19 0h0m16 0h0m51 0h0m5 0h0m6 0h0m7 0h0m1 0h0m14 0h0m-137 1h0m44 0h0m2 0h0m100 0h0m1 0h0m2 0h0m9 0h0m5 0h0m29 0h0m16 0h0m-201 1h0m29 0h0m1 0h0m65 0h0m8 0h0m25 0h0m71 0h0m18 0h0m-252 1h0m13 0h0m24 0h0m15 0h0m12 0h0m17 0h0m66 0h0m28 0h0m22 0h0m37 0h0m-236 1h0m61 0h0m74 0h0m14 0h0m47 0h0m1 0h0m5 0h0m7 0h0m7 0h0m-188 1h0m22 0h0m40 0h0m47 0h0m4 0h0m6 0h0m8 0h0m29 0h0m25 0h0m2 0h0m33 0h0m11 0h0m-251 1h0m18 0h0m61 0h0m26 0h0m17 0h0m12 0h0m70 0h0m15 0h0m16 0h0m6 0h0m2 0h0m16 0h0m-228 1h0m33 0h0m1 0h0m68 0h0m21 0h0m7 0h0m15 0h0m12 0h0m20 0h0m35 0h0m19 0h0m-241 1h0m23 0h0m5 0h0m14 0h0m5 0h0m78 0h0m51 0h0m2 0h0m2 0h0m9 0h0m4 0h0m6 0h0m31 0h0m-250 1h0m6 0h0m12 0h0m5 0h0m23 0h0m39 0h0m42 0h0m3 0h0m5 0h0m17 0h0m22 0h0m20 0h0m8 0h0m42 0h0m-202 1h0m94 0h0m4 0h0m2 0h0m2 0h0m2 0h0m45 0h0m7 0h0m53 0h0m-236 1h0m114 0h0m7 0h0m19 0h0m29 0h0m6 0h0m16 0h0m19 0h0m28 0h0m2 0h0m-261 1h0m1 0h0m1 0h0m2 0h0m19 0h0m1 0h0m9 0h0m21 0h0m90 0h0m60 0h0m5 0h0m7 0h0m2 0h0m23 0h0m5 0h0m16 0h0m-265 1h0m149 0h0m32 0h0m24 0h0m9 0h0m6 0h0m1 0h0m36 0h0m10 0h0m-398 1h0m134 0h0m16 0h0m5 0h0m4 0h0m14 0h0m93 0h0m14 0h0m10 0h0m46 0h0m4 0h0m15 0h0m20 0h0m1 0h0m-220 1h0m4 0h0m6 0h0m81 0h0m82 0h0m15 0h0m1 0h0m9 0h0m14 0h0m-224 1h0m4 0h0m22 0h0m6 0h0m7 0h0m146 0h0m3 0h0m11 0h0m23 0h0m9 0h0m3 0h0m14 0h0m-245 1h0m27 0h0m26 0h0m64 0h0m4 0h0m4 0h0m4 0h0m14 0h0m37 0h0m2 0h0m20 0h0m35 0h0m6 0h0m-244 1h0m10 0h0m7 0h0m127 0h0m18 0h0m2 0h0m18 0h0m22 0h0m2 0h0m5 0h0m-188 1h0m5 0h0m33 0h0m55 0h0m17 0h0m10 0h0m18 0h0m32 0h0m37 0h0m22 0h0m-239 1h0m4 0h0m11 0h0m5 0h0m144 0h0m20 0h0m5 0h0m17 0h0m7 0h0m14 0h0m2 0h0m2 0h0m-380 1h0m145 0h0m28 0h0m5 0h0m138 0h0m6 0h0m3 0h0m14 0h0m-319 1h0m119 0h0m17 0h0m53 0h0m62 0h0m6 0h0m40 0h0m10 0h0m5 0h0m3 0h0m2 0h0m14 0h0m4 0h0m4 0h0m10 0h0m-362 1h0m58 0h0m73 0h0m169 0h0m8 0h0m30 0h0m30 0h0m-352 1h0m118 0h0m9 0h0m5 0h0m12 0h0m4 0h0m153 0h0m11 0h0m12 0h0m19 0h0m-203 1h0m153 0h0m25 0h0m7 0h0m5 0h0m22 0h0m-263 1h0m37 0h0m136 0h0m11 0h0m5 0h0m17 0h0m2 0h0m18 0h0m3 0h0m24 0h0m-365 1h0m89 0h0m26 0h0m8 0h0m25 0h0m3 0h0m3 0h0m36 0h0m78 0h0m7 0h0m12 0h0m40 0h0m25 0h0m13 0h0m11 0h0m-384 1h0m28 0h0m233 0h0m26 0h0m19 0h0m10 0h0m12 0h0m2 0h0m11 0h0m8 0h0m3 0h0m-360 1h0m13 0h0m6 0h0m4 0h0m8 0h0m71 0h0m50 0h0m2 0h0m10 0h0m143 0h0m17 0h0m20 0h0m14 0h0m10 0h0m11 0h0m32 0h0m-443 1h0m175 0h0m10 0h0m16 0h0m8 0h0m100 0h0m61 0h0m16 0h0m3 0h0m4 0h0m25 0h0m-371 1h0m3 0h0m70 0h0m10 0h0m69 0h0m6 0h0m78 0h0m46 0h0m57 0h0m-389 1h0m13 0h0m109 0h0m5 0h0m8 0h0m13 0h0m23 0h0m32 0h0m40 0h0m33 0h0m56 0h0m1 0h0m1 0h0m15 0h0m11 0h0m17 0h0m12 0h0m7 0h0m4 0h0m2 0h0m2 0h0m15 0h0m19 0h0m-435 1h0m184 0h0m2 0h0m2 0h0m8 0h0m20 0h0m32 0h0m1 0h0m11 0h0m74 0h0m35 0h0m41 0h0m1 0h0m10 0h0m1 0h0m-389 1h0m39 0h0m53 0h0m6 0h0m48 0h0m21 0h0m3 0h0m49 0h0m94 0h0m15 0h0m14 0h0m30 0h0m14 0h0m-370 1h0m4 0h0m51 0h0m9 0h0m13 0h0m16 0h0m26 0h0m37 0h0m54 0h0m80 0h0m12 0h0m3 0h0m3 0h0m10 0h0m7 0h0m5 0h0m5 0h0m15 0h0m-379 1h0m20 0h0m52 0h0m51 0h0m18 0h0m20 0h0m7 0h0m2 0h0m14 0h0m16 0h0m8 0h0m87 0h0m6 0h0m8 0h0m14 0h0m17 0h0m5 0h0m22 0h0m1 0h0m13 0h0m1 0h0m17 0h0m-380 1h0m2 0h0m58 0h0m4 0h0m42 0h0m55 0h0m7 0h0m1 0h0m45 0h0m5 0h0m48 0h0m7 0h0m35 0h0m18 0h0m1 0h0m22 0h0m24 0h0m8 0h0m-414 1h0m96 0h0m10 0h0m8 0h0m5 0h0m12 0h0m8 0h0m42 0h0m2 0h0m1 0h0m67 0h0m69 0h0m6 0h0m22 0h0m1 0h0m13 0h0m32 0h0m13 0h0m1 0h0m11 0h0m20 0h0m-398 1h0m3 0h0m6 0h0m29 0h0m38 0h0m10 0h0m12 0h0m1 0h0m17 0h0m2 0h0m31 0h0m16 0h0m46 0h0m56 0h0m5 0h0m21 0h0m14 0h0m6 0h0m1 0h0m16 0h0m6 0h0m6 0h0m15 0h0m10 0h0m14 0h0m-383 1h0m74 0h0m57 0h0m14 0h0m15 0h0m122 0h0m12 0h0m23 0h0m21 0h0m13 0h0m-366 1h0m31 0h0m25 0h0m13 0h0m44 0h0m28 0h0m9 0h0m8 0h0m27 0h0m39 0h0m60 0h0m11 0h0m16 0h0m97 0h0m-442 1h0m47 0h0m14 0h0m174 0h0m6 0h0m6 0h0m35 0h0m57 0h0m21 0h0m2 0h0m2 0h0m27 0h0m3 0h0m38 0h0m5 0h0m-386 1h0m17 0h0m18 0h0m22 0h0m51 0h0m42 0h0m23 0h0m25 0h0m18 0h0m10 0h0m87 0h0m7 0h0m27 0h0m1 0h0m5 0h0m9 0h0m4 0h0m4 0h0m18 0h0m1 0h0m-407 1h0m8 0h0m54 0h0m2 0h0m10 0h0m21 0h0m15 0h0m5 0h0m6 0h0m4 0h0m9 0h0m14 0h0m11 0h0m4 0h0m27 0h0m105 0h0m19 0h0m8 0h0m48 0h0m5 0h0m10 0h0m10 0h0m-390 1h0m113 0h0m41 0h0m9 0h0m31 0h0m44 0h0m40 0h0m39 0h0m32 0h0m28 0h0m24 0h0m-438 1h0m147 0h0m5 0h0m42 0h0m18 0h0m69 0h0m20 0h0m53 0h0m8 0h0m24 0h0m1 0h0m3 0h0m3 0h0m15 0h0m6 0h0m7 0h0m-412 1h0m44 0h0m16 0h0m77 0h0m42 0h0m5 0h0m2 0h0m13 0h0m5 0h0m49 0h0m8 0h0m71 0h0m1 0h0m11 0h0m4 0h0m7 0h0m8 0h0m33 0h0m11 0h0m-415 1h0m140 0h0m3 0h0m30 0h0m7 0h0m24 0h0m48 0h0m4 0h0m24 0h0m75 0h0m7 0h0m26 0h0m31 0h0m4 0h0m6 0h0m10 0h0m-418 1h0m1 0h0m26 0h0m10 0h0m24 0h0m10 0h0m5 0h0m77 0h0m2 0h0m3 0h0m3 0h0m31 0h0m5 0h0m5 0h0m1 0h0m30 0h0m6 0h0m126 0h0m49 0h0m-422 1h0m49 0h0m7 0h0m56 0h0m2 0h0m56 0h0m45 0h0m9 0h0m130 0h0m6 0h0m10 0h0m18 0h0m33 0h0m-428 1h0m114 0h0m20 0h0m56 0h0m19 0h0m16 0h0m30 0h0m59 0h0m50 0h0m20 0h0m20 0h0m7 0h0m8 0h0m-402 1h0m8 0h0m2 0h0m2 0h0m7 0h0m1 0h0m15 0h0m26 0h0m60 0h0m31 0h0m23 0h0m9 0h0m12 0h0m9 0h0m120 0h0m29 0h0m2 0h0m2 0h0m36 0h0m14 0h0m-405 1h0m9 0h0m8 0h0m9 0h0m61 0h0m16 0h0m9 0h0m8 0h0m42 0h0m14 0h0m9 0h0m53 0h0m88 0h0m46 0h0m-279 1h0m17 0h0m6 0h0m31 0h0m14 0h0m84 0h0m57 0h0m16 0h0m34 0h0m15 0h0m3 0h0m3 0h0m3 0h0m-347 1h0m144 0h0m36 0h0m12 0h0m89 0h0m27 0h0m7 0h0m8 0h0m1 0h0m5 0h0m2 0h0m9 0h0m6 0h0m20 0h0m14 0h0m1 0h0m-409 1h0m13 0h0m42 0h0m28 0h0m60 0h0m28 0h0m216 0h0m21 0h0m3 0h0m5 0h0m-393 1h0m50 0h0m2 0h0m18 0h0m24 0h0m2 0h0m55 0h0m119 0h0m56 0h0m2 0h0m16 0h0m26 0h0m5 0h0m-408 1h0m14 0h0m14 0h0m11 0h0m59 0h0m20 0h0m2 0h0m6 0h0m9 0h0m1 0h0m37 0h0m13 0h0m72 0h0m61 0h0m5 0h0m20 0h0m10 0h0m1 0h0m1 0h0m13 0h0m6 0h0m12 0h0m7 0h0m12 0h0m-376 1h0m4 0h0m41 0h0m18 0h0m82 0h0m7 0h0m1 0h0m51 0h0m73 0h0m36 0h0m2 0h0m37 0h0m9 0h0m7 0h0m7 0h0m7 0h0m-408 1h0m26 0h0m58 0h0m26 0h0m9 0h0m19 0h0m3 0h0m17 0h0m12 0h0m1 0h0m19 0h0m151 0h0m9 0h0m14 0h0m45 0h0m11 0h0m-390 1h0m11 0h0m76 0h0m3 0h0m13 0h0m47 0h0m63 0h0m61 0h0m2 0h0m42 0h0m12 0h0m20 0h0m1 0h0m11 0h0m5 0h0m19 0h0m2 0h0m-318 1h0m5 0h0m19 0h0m10 0h0m34 0h0m15 0h0m26 0h0m101 0h0m18 0h0m16 0h0m5 0h0m12 0h0m13 0h0m-361 1h0m7 0h0m16 0h0m66 0h0m23 0h0m40 0h0m1 0h0m3 0h0m1 0h0m17 0h0m6 0h0m99 0h0m25 0h0m59 0h0m2 0h0m5 0h0m35 0h0m-364 1h0m71 0h0m23 0h0m14 0h0m19 0h0m45 0h0m20 0h0m76 0h0m38 0h0m28 0h0m9 0h0m22 0h0m-298 1h0m6 0h0m4 0h0m2 0h0m4 0h0m10 0h0m98 0h0m2 0h0m64 0h0m8 0h0m57 0h0m4 0h0m28 0h0m2 0h0m-361 1h0m36 0h0m17 0h0m34 0h0m5 0h0m11 0h0m3 0h0m14 0h0m3 0h0m14 0h0m60 0h0m67 0h0m21 0h0m7 0h0m9 0h0m40 0h0m-377 1h0m104 0h0m49 0h0m16 0h0m110 0h0m11 0h0m34 0h0m1 0h0m5 0h0m2 0h0m15 0h0m18 0h0m7 0h0m19 0h0m9 0h0m3 0h0m1 0h0m-281 1h0m23 0h0m32 0h0m36 0h0m2 0h0m1 0h0m19 0h0m3 0h0m72 0h0m14 0h0m1 0h0m3 0h0m10 0h0m23 0h0m2 0h0m7 0h0m21 0h0m10 0h0m3 0h0m-334 1h0m4 0h0m57 0h0m30 0h0m6 0h0m49 0h0m21 0h0m54 0h0m46 0h0m4 0h0m22 0h0m39 0h0m-288 1h0m42 0h0m5 0h0m2 0h0m147 0h0m29 0h0m10 0h0m2 0h0m8 0h0m14 0h0m22 0h0m-332 1h0m28 0h0m61 0h0m14 0h0m5 0h0m49 0h0m25 0h0m52 0h0m11 0h0m13 0h0m5 0h0m10 0h0m2 0h0m4 0h0m8 0h0m5 0h0m17 0h0m4 0h0m16 0h0m9 0h0m-357 1h0m29 0h0m33 0h0m23 0h0m27 0h0m1 0h0m13 0h0m62 0h0m30 0h0m48 0h0m19 0h0m27 0h0m22 0h0m19 0h0m-407 1h0m11 0h0m58 0h0m54 0h0m1 0h0m7 0h0m26 0h0m11 0h0m3 0h0m1 0h0m12 0h0m50 0h0m21 0h0m95 0h0m2 0h0m9 0h0m17 0h0m4 0h0m17 0h0m-395 1h0m73 0h0m15 0h0m19 0h0m14 0h0m190 0h0m37 0h0m10 0h0m9 0h0m5 0h0m2 0h0m-310 1h0m1 0h0m2 0h0m23 0h0m7 0h0m13 0h0m10 0h0m4 0h0m11 0h0m24 0h0m179 0h0m20 0h0m3 0h0m-363 1h0m83 0h0m14 0h0m25 0h0m13 0h0m10 0h0m21 0h0m7 0h0m1 0h0m133 0h0m38 0h0m7 0h0m2 0h0m5 0h0m-278 1h0m28 0h0m2 0h0m11 0h0m12 0h0m1 0h0m133 0h0m40 0h0m33 0h0m-270 1h0m2 0h0m13 0h0m7 0h0m36 0h0m53 0h0m46 0h0m19 0h0m44 0h0m49 0h0m14 0h0m4 0h0m9 0h0m3 0h0m-279 1h0m5 0h0m20 0h0m20 0h0m8 0h0m16 0h0m4 0h0m9 0h0m33 0h0m-114 1h0m8 0h0m26 0h0m32 0h0m5 0h0m8 0h0m72 0h0m63 0h0m5 0h0m3 0h0m9 0h0m34 0h0m-278 1h0m20 0h0m2 0h0m6 0h0m37 0h0m10 0h0m14 0h0m87 0h0m68 0h0m11 0h0m13 0h0m5 0h0m7 0h0m3 0h0m36 0h0m-308 1h0m13 0h0m58 0h0m65 0h0m121 0h0m14 0h0m1 0h0m5 0h0m-267 1h0m25 0h0m5 0h0m2 0h0m7 0h0m34 0h0m45 0h0m2 0h0m1 0h0m3 0h0m94 0h0m32 0h0m14 0h0m10 0h0m-272 1h0m17 0h0m9 0h0m8 0h0m16 0h0m110 0h0m88 0h0m1 0h0m1 0h0m3 0h0m5 0h0m2 0h0m4 0h0m3 0h0m9 0h0m-260 1h0m38 0h0m10 0h0m6 0h0m14 0h0m22 0h0m43 0h0m63 0h0m25 0h0m5 0h0m12 0h0m-231 1h0m53 0h0m14 0h0m162 0h0m28 0h0m-246 1h0m45 0h0m29 0h0m4 0h0m38 0h0m102 0h0m6 0h0m1 0h0m12 0h0m-192 1h0m25 0h0m27 0h0m125 0h0m3 0h0m5 0h0m3 0h0m-209 1h0m25 0h0m3 0h0m17 0h0m174 0h0m-269 1h0m1 0h0m1 0h0m7 0h0m48 0h0m14 0h0m22 0h0m9 0h0m1 0h0m134 0h0m13 0h0m-14 1h0m8 0h0m18 0h0m-203 1h0m2 0h0m17 0h0m8 0h0m51 0h0m104 0h0m4 0h0m17 0h0m-201 1h0m8 0h0m20 0h0m109 0h0m58 0h0m19 0h0m-229 1h0m50 0h0m139 0h0m3 0h0m-242 1h0m5 0h0m8 0h0m57 0h0m24 0h0m15 0h0m3 0h0m3 0h0m152 0h0m-263 1h0m55 0h0m37 0h0m144 0h0m3 0h0m31 0h0m-208 1h0m1 0h0m13 0h0m29 0h0m16 0h0m119 0h0m-201 1h0m18 0h0m29 0h0m156 0h0m2 0h0m14 0h0m4 0h0m-216 1h0m3 0h0m1 0h0m2 0h0m4 0h0m27 0h0m20 0h0m169 0h0m-214 1h0m8 0h0m7 0h0m6 0h0m12 0h0m6 0h0m6 0h0m8 0h0m5 0h0m127 0h0m4 0h0m9 0h0m5 0h0m3 0h0m4 0h0m-216 1h0m24 0h0m15 0h0m8 0h0m161 0h0m2 0h0m13 0h0m-226 1h0m5 0h0m43 0h0m11 0h0m133 0h0m10 0h0m23 0h0m-26 1h0m20 0h0m11 0h0m-218 1h0m7 0h0m19 0h0m31 0h0m123 0h0m6 0h0m26 0h0m-219 1h0m23 0h0m11 0h0m23 0h0m42 0h0m5 0h0m90 0h0m34 0h0m-202 1h0m6 0h0m76 0h0m89 0h0m-182 1h0m17 0h0m1 0h0m6 0h0m46 0h0m4 0h0m13 0h0m86 0h0m15 0h0m5 0h0m1 0h0m2 0h0m-209 1h0m9 0h0m13 0h0m25 0h0m2 0h0m46 0h0m86 0h0m18 0h0m-213 1h0m10 0h0m6 0h0m3 0h0m6 0h0m26 0h0m160 0h0m10 0h0m-211 1h0m4 0h0m32 0h0m18 0h0m-42 1h0m9 0h0m3 0h0m9 0h0m7 0h0m21 0h0m29 0h0m8 0h0m4 0h0m90 0h0m-202 1h0m33 0h0m13 0h0m3 0h0m2 0h0m2 0h0m2 0h0m5 0h0m129 0h0m10 0h0m11 0h0m3 0h0m1 0h0m16 0h0m-221 1h0m10 0h0m94 0h0m3 0h0m96 0h0m5 0h0m23 0h0m-238 1h0m1 0h0m7 0h0m12 0h0m17 0h0m1 0h0m6 0h0m1 0h0m66 0h0m10 0h0m65 0h0m20 0h0m4 0h0m16 0h0m14 0h0m-195 1h0m51 0h0m30 0h0m73 0h0m22 0h0m13 0h0m-192 1h0m64 0h0m2 0h0m36 0h0m-142 1h0m33 0h0m2 0h0m42 0h0m4 0h0m-74 1h0m22 0h0m12 0h0m51 0h0m12 0h0m19 0h0m71 0h0m27 0h0m-229 1h0m24 0h0m17 0h0m72 0h0m92 0h0m25 0h0m9 0h0m-243 1h0m17 0h0m3 0h0m6 0h0m4 0h0m10 0h0m155 0h0m12 0h0m5 0h0m-212 1h0m24 0h0m4 0h0m4 0h0m13 0h0m6 0h0m23 0h0m45 0h0m8 0h0m2 0h0m78 0h0m25 0h0m2 0h0m-224 1h0m17 0h0m50 0h0m19 0h0m29 0h0m1 0h0m9 0h0m70 0h0m2 0h0m5 0h0m-214 1h0m10 0h0m21 0h0m6 0h0m6 0h0m4 0h0m8 0h0m80 0h0m103 0h0m-213 1h0m16 0h0m56 0h0m17 0h0m21 0h0m65 0h0m7 0h0m-192 1h0m21 0h0m27 0h0m49 0h0m21 0h0m14 0h0m42 0h0m40 0h0m10 0h0m-229 1h0m15 0h0m9 0h0m20 0h0m7 0h0m137 0h0m26 0h0m9 0h0m-212 1h0m37 0h0m35 0h0m8 0h0m57 0h0m18 0h0m52 0h0m-198 1h0m22 0h0m22 0h0m27 0h0m19 0h0m17 0h0m10 0h0m3 0h0m77 0h0m-220 1h0m81 0h0m89 0h0m20 0h0m5 0h0m9 0h0m-173 1h0m8 0h0m9 0h0m30 0h0m40 0h0m21 0h0m52 0h0m-196 1h0m25 0h0m27 0h0m132 0h0m39 0h0m-227 1h0m37 0h0m32 0h0m129 0h0m1 0h0m1 0h0m8 0h0m25 0h0m3 0h0m2 0h0m3 0h0m-207 1h0m4 0h0m37 0h0m50 0h0m91 0h0m5 0h0m19 0h0m-212 1h0m47 0h0m32 0h0m29 0h0m4 0h0m53 0h0m14 0h0m5 0h0m13 0h0m-179 1h0m6 0h0m7 0h0m3 0h0m9 0h0m5 0h0m111 0h0m5 0h0m16 0h0m-144 1h0m65 0h0m5 0h0m12 0h0m2 0h0m38 0h0m12 0h0m-125 1h0m47 0h0m6 0h0m8 0h0m12 0h0m44 0h0m9 0h0m19 0h0m1 0h0m5 0h0m-155 1h0m8 0h0m57 0h0m4 0h0m74 0h0m8 0h0m-179 1h0m13 0h0m27 0h0m34 0h0m8 0h0m64 0h0m18 0h0m5 0h0m20 0h0m-105 1h0m106 0h0m-106 1h0m1 0h0m10 0h0m68 0h0m10 0h0m-207 1h0m28 0h0m89 0h0m14 0h0m88 0h0m-174 1h0m19 0h0m1 0h0m1 0h0m46 0h0m16 0h0m2 0h0m1 0h0m-87 1h0m39 0h0m6 0h0m27 0h0m91 0h0m-146 1h0m24 0h0m-32 1h0m16 0h0m49 0h0m1 0h0m58 0h0m4 0h0m-154 1h0m9 0h0m7 0h0m3 1h0m4 0h0m6 0h0m4 0h0m1 0h0m8 0h0m10 0h0m4 0h0m3 0h0m12 0h0m22 0h0m-44 1h0m13 0h0m25 0h0m11 0h0m2 0h0m-89 1h0m3 0h0m0 1h0m20 0h0m5 0h0m54 0h0m-34 1h0m4 0h0m4 0h0m16 0h0m5 0h0m-2 1h0m1 0h0m-65 1h0m3 0h0m5 0h0m2 0h0m5 0h0m29 0h0m20 0h0m-57 1h0m12 0h0m18 0h0m8 0h0m1 0h0m13 0h0m1 0h0m-62 1h0m7 0h0m10 0h0m25 0h0m-34 1h0m8 0h0m24 0h0m7 0h0m-59 2h0m17 0h0m7 0h0m34 0h0m26 0h0m-65 1h0m35 0h0m4 0h0m-52 1h0m29 0h0m-33 1h0m22 0h0m17 0h0m2 0h0m36 0h0m-72 1h0m53 0h0m10 0h0m-17 1h0m2 0h0m12 0h0m4 0h0m-67 1h0m16 0h0m26 0h0m-31 1h0m27 0h0m8 0h0m-78 1h0m20 0h0m18 0h0m11 0h0m34 0h0m-48 1h0m21 0h0m15 0h0m5 0h0m7 0h0m18 0h0m-15 1h0m13 1h0m-47 1h0m34 0h0m8 0h0m-67 1h0m17 0h0m7 0h0m-21 1h0m6 1h0m63 0h0m-59 1h0m10 0h0m9 0h0m27 0h0m-56 1h0m1 0h0m4 0h0m-11 1h0m4 1h0m7 1h0m12 0h0m24 0h0m-30 4h0m-11 4h0m3 0h0m15 1h0m-11 3h0m1 1h0m-7 2h0"/>
<path stroke="#bdbdbd" d="M305 259h0m12 6h0m4 2h0m-21 1h0m22 1h0m6 1h0m34 2h0m-3 1h0m-50 1h0m31 4h0m39 1h0m-21 1h0m17 0h0m3 5h0m9 1h0m-25 2h0m8 1h0m8 0h0m19 0h0m-26 1h0m24 3h0m-39 3h0m12 0h0m1 4h0m45 2h0m-39 3h0m5 0h0m5 3h0m9 0h0m1 1h0m-13 2h0m18 0h0m-11 4h0m5 6h0m5 0h0m-12 2h0"/>
<path stroke="#bdbdbd" d="M707 190h0m5 0h0m10 0h0m3 1h0m1 0h0m12 0h0m-28 1h0m8 0h0m-2 1h0m-13 1h0m16 0h0m10 0h0m-24 1h0m18 0h0m5 2h0m9 0h0m-8 1h0m10 1h0m2 0h0m4 1h0m-20 1h0m6 0h0m6 1h0m7 0h0m-1 1h0m-1 1h0m-12 1h0m9 0h0m6 0h0m-11 1h0m-8 1h0m12 0h0m6 0h0m2 0h0m-4 1h0m1 0h0m-6 2h0m-5 1h0m12 0h0m-16 1h0m6 0h0m4 0h0m-9 1h0m5 0h0m-12 1h0m25 0h0m-26 1h0m15 0h0m12 0h0m-14 1h0m5 1h0m-13 2h0m-9 2h0"/>
<path stroke="#bdbdbd" d="M530 433h0m10 15h0m-1 2h0m5 2h0m-11 2h0m8 0h0m0 2h0m13 0h0m-28 4h0m21 1h0m-7 1h0m-4 2h0m-21 3h0m20 0h0m9 3h0m4 2h0m-38 1h0m11 0h0m15 2h0m19 1h0m-75 4h0m51 0h0m-27 1h0m-18 5h0m4 0h0m18 0h0m1 1h0m-26 1h0m4 0h0m43 0h0m-23 1h0m-21 1h0m-13 4h0m19 0h0m-3 2h0m-11 2h0m6 0h0m36 0h0m-33 2h0m41 2h0m12 0h0m-64 1h0m66 0h0m-57 2h0m40 0h0m-43 1h0m54 0h0m8 0h0m-9 1h0m9 1h0m-69 1h0m48 0h0m-3 1h0m-16 1h0m-28 5h0m27 0h0m-12 4h0m2 4h0"/>
<path stroke="#bdbdbd" d="M162 43h0m-1 1h0m4 1h0m-7 1h0m-1 1h0m4 0h0m7 0h0m7 1h0m-1 2h0m-14 1h0m11 0h0"/>
<path stroke="#bdbdbd" d="M331 422h0m-1 5h0m3 2h0m4 0h0m-6 1h0m1 0h0m4 1h0m-4 1h0m-13 1h0m14 1h0m-8 1h0m2 0h0m-2 2h0"/>
<path stroke="#bdbdbd" d="M143 338h0m1 2h0m-12 1h0m-3 2h0m-1 1h0m-3 3h0m-2 11h0"/>
<path stroke="#bdbdbd" d="M334 311h0m-2 3h0m2 1h0m-3 4h0m-3 3h0m-2 3h0m-3 2h0"/>
<path stroke="#bdbdbd" d="M178 235h0m4 0h0"/>
<path stroke="#bdbdbd" d="M181 264h0m5 0h0"/>
<path stroke="#bdbdbd" d="M695 460h0m2 0h0m1 2h0m-5 1h0m2 7h0m0 8h0m2 5h0m-7 4h0"/>
<path stroke="#7c0808" d="M497 51h0m2 2h0m1 0h0m-8 1h0m4 0h0m-2 1h0m2 0h0m13 0h0m-26 1h0m9 0h0m-2 1h0m2 0h0m8 0h0m8 0h0m4 0h0m3 0h0m-25 1h0m7 0h0m1 0h0m-17 1h0m10 0h0m19 0h0m-34 1h0m3 0h0m4 0h0m8 0h0m2 0h0m3 0h0m-17 1h0m2 0h0m1 0h0m4 0h0m4 0h0m3 0h0m6 0h0m1 0h0m2 0h0m1 0h0m4 0h0m4 0h0m1 0h0m4 0h0m-40 1h0m4 0h0m10 0h0m4 0h0m2 0h0m6 0h0m4 0h0m13 0h0m-43 1h0m11 0h0m13 0h0m8 0h0m2 0h0m4 0h0m3 0h0m1 0h0m-54 1h0m6 0h0m9 0h0m5 0h0m20 0h0m6 0h0m-36 1h0m2 0h0m2 0h0m3 0h0m14 0h0m17 0h0m1 0h0m2 0h0m1 0h0m-47 1h0m12 0h0m4 0h0m6 0h0m7 0h0m1 0h0m14 0h0m1 0h0m2 0h0m6 0h0m-54 1h0m20 0h0m5 0h0m6 0h0m1 0h0m7 0h0m11 0h0m-41 1h0m25 0h0m5 0h0m11 0h0m1 0h0m1 0h0m2 0h0m-56 1h0m14 0h0m2 0h0m1 0h0m7 0h0m20 0h0m13 0h0m-64 1h0m3 0h0m10 0h0m11 0h0m4 0h0m22 0h0m3 0h0m8 0h0m4 0h0m-54 1h0m11 0h0m9 0h0m9 0h0m1 0h0m3 0h0m5 0h0m3 0h0m14 0h0m-62 1h0m5 0h0m8 0h0m1 0h0m6 0h0m1 0h0m3 0h0m8 0h0m10 0h0m13 0h0m1 0h0m-60 1h0m19 0h0m2 0h0m4 0h0m5 0h0m17 0h0m11 0h0m4 0h0m1 0h0m-64 1h0m11 0h0m3 0h0m1 0h0m7 0h0m26 0h0m8 0h0m6 0h0m6 0h0m-73 1h0m6 0h0m4 0h0m2 0h0m3 0h0m9 0h0m5 0h0m3 0h0m4 0h0m4 0h0m4 0h0m8 0h0m20 0h0m2 0h0m-78 1h0m5 0h0m1 0h0m4 0h0m9 0h0m1 0h0m13 0h0m4 0h0m5 0h0m24 0h0m2 0h0m11 0h0m-57 1h0m20 0h0m5 0h0m3 0h0m8 0h0m1 0h0m7 0h0m8 0h0m-75 1h0m1 0h0m4 0h0m3 0h0m14 0h0m2 0h0m4 0h0m3 0h0m5 0h0m3 0h0m2 0h0m19 0h0m5 0h0m-64 1h0m23 0h0m12 0h0m2 0h0m5 0h0m9 0h0m3 0h0m23 0h0m-75 1h0m5 0h0m12 0h0m2 0h0m10 0h0m32 0h0m5 0h0m2 0h0m1 0h0m1 0h0m5 0h0m-75 1h0m6 0h0m1 0h0m3 0h0m2 0h0m4 0h0m10 0h0m1 0h0m11 0h0m28 0h0m1 0h0m4 0h0m-56 1h0m9 0h0m2 0h0m1 0h0m8 0h0m7 0h0m9 0h0m11 0h0m-61 1h0m1 0h0m4 0h0m5 0h0m2 0h0m3 0h0m5 0h0m4 0h0m17 0h0m1 0h0m4 0h0m15 0h0m1 0h0m7 0h0m1 0h0m-67 1h0m10 0h0m15 0h0m8 0h0m6 0h0m14 0h0m9 0h0m4 0h0m2 0h0m-74 1h0m10 0h0m51 0h0m-53 1h0m7 0h0m16 0h0m15 0h0m24 0h0m8 0h0m-78 1h0m3 0h0m7 0h0m2 0h0m5 0h0m4 0h0m13 0h0m19 0h0m1 0h0m8 0h0m2 0h0m-60 1h0m5 0h0m3 0h0m6 0h0m42 0h0m10 0h0m-38 1h0m23 0h0m9 0h0m-58 1h0m1 0h0m2 0h0m2 0h0m2 0h0m5 0h0m11 0h0m11 0h0m6 0h0m9 0h0m7 0h0m-54 1h0m2 0h0m5 0h0m6 0h0m8 0h0m14 0h0m-32 1h0m2 0h0m2 0h0m2 0h0m1 0h0m4 0h0m4 0h0m5 0h0m21 0h0m1 0h0m-49 1h0m8 0h0m2 0h0m3 0h0m5 0h0m8 0h0m4 0h0m3 0h0m1 0h0m13 0h0m7 0h0m7 0h0m-59 1h0m1 0h0m2 0h0m1 0h0m4 0h0m7 0h0m4 0h0m2 0h0m4 0h0m1 0h0m2 0h0m12 0h0m4 0h0m7 0h0m8 0h0m2 0h0m-66 1h0m14 0h0m4 0h0m1 0h0m1 0h0m8 0h0m6 0h0m6 0h0m14 0h0m9 0h0m-56 1h0m4 0h0m5 0h0m2 0h0m4 0h0m5 0h0m19 0h0m7 0h0m-41 1h0m11 0h0m6 0h0m7 0h0m20 0h0m5 0h0m-49 1h0m15 0h0m18 0h0m-11 1h0m10 0h0m-28 1h0m5 0h0m10 0h0m2 0h0m9 0h0m1 0h0m-13 4h0"/>
<path stroke="#a80808" d="M396 83h0m16 0h0m-12 1h0m10 0h0m-12 1h0m12 1h0m3 0h0m8 0h0m-25 1h0m4 0h0m4 0h0m11 0h0m9 0h0m-26 1h0m3 0h0m2 0h0m2 0h0m1 0h0m11 0h0m2 0h0m4 0h0m-28 1h0m1 0h0m1 0h0m1 0h0m5 0h0m14 0h0m-32 1h0m2 0h0m4 0h0m8 0h0m2 0h0m6 0h0m-28 1h0m4 0h0m1 0h0m11 0h0m1 0h0m7 0h0m2 0h0m5 0h0m6 0h0m7 0h0m-40 1h0m1 0h0m6 0h0m7 0h0m19 0h0m-28 1h0m10 0h0m3 0h0m3 0h0m5 0h0m-22 1h0m2 0h0m2 0h0m-6 1h0m15 0h0m4 0h0m1 0h0m15 0h0m-37 1h0m7 0h0m1 0h0m6 0h0m10 0h0m-25 1h0m6 0h0m6 0h0m6 0h0m5 0h0m5 0h0m1 0h0m2 0h0m12 0h0m-32 1h0m4 0h0m6 0h0m1 0h0m5 0h0m10 0h0m1 0h0m-35 1h0m21 0h0m15 0h0m1 0h0m-30 1h0m1 0h0m2 0h0m3 0h0m14 0h0m-21 1h0m14 0h0m4 0h0m2 0h0m1 0h0m-17 1h0m5 0h0m1 0h0m3 0h0m1 0h0m7 0h0m-8 1h0m-16 1h0m9 0h0m2 0h0m12 0h0m2 0h0m-15 2h0m-14 1h0m17 0h0"/>
<path stroke="#d81010" d="M370 147h0m-15 1h0m8 0h0m4 0h0m-3 1h0m-5 1h0m-6 1h0m12 0h0m13 0h0m-22 1h0m19 0h0m-16 1h0m4 0h0m10 0h0m1 0h0m9 0h0m-29 1h0m5 0h0m1 0h0m4 0h0m4 0h0m2 0h0m7 0h0m-13 1h0m1 0h0m3 0h0m9 0h0m-45 1h0m3 0h0m7 0h0m4 0h0m5 0h0m21 0h0m5 0h0m3 0h0m-38 1h0m5 0h0m12 0h0m6 0h0m4 0h0m-20 1h0m10 0h0m5 0h0m5 0h0m1 0h0m5 0h0m4 0h0m-40 1h0m2 0h0m19 0h0m9 0h0m2 0h0m1 0h0m9 0h0m-46 1h0m7 0h0m16 0h0m7 0h0m-27 1h0m2 0h0m1 0h0m7 0h0m8 0h0m6 0h0m1 0h0m3 0h0m5 0h0m2 0h0m-15 1h0m3 0h0m9 0h0m6 0h0m8 0h0m-49 1h0m1 0h0m19 0h0m4 0h0m6 0h0m5 0h0m3 0h0m-30 1h0m9 0h0m7 0h0m4 0h0m17 0h0m-27 1h0m8 0h0m11 0h0m2 0h0m-27 1h0m4 0h0m5 0h0m1 0h0m1 0h0m8 0h0m5 0h0m5 0h0m2 0h0m2 0h0m-22 1h0m2 0h0m2 0h0m4 0h0m-17 1h0m27 0h0m3 0h0m2 0h0m-43 1h0m3 0h0m17 0h0m1 0h0m4 0h0m10 0h0m3 0h0m3 0h0m1 0h0m-34 1h0m2 0h0m6 0h0m7 0h0m1 0h0m5 0h0m-27 1h0m7 0h0m7 0h0m1 0h0m-10 1h0m5 0h0m2 0h0m6 0h0m5 0h0m3 0h0m-25 1h0m11 0h0m1 0h0m7 0h0m2 0h0m5 0h0m10 0h0m-38 1h0m8 0h0m8 0h0m15 0h0m3 0h0m8 0h0m-20 1h0m21 0h0m-32 1h0m1 0h0m2 0h0m1 0h0m2 0h0m7 0h0m1 0h0m6 0h0m5 0h0m1 0h0m-18 1h0m17 0h0m-23 1h0m19 0h0m-23 1h0m4 0h0m1 0h0m1 0h0m14 0h0m-26 1h0m7 0h0m13 0h0m4 0h0m4 0h0m14 0h0m-42 1h0m7 0h0m2 0h0m1 0h0m1 0h0m10 0h0m-25 1h0m2 0h0m1 0h0m6 0h0m2 0h0m2 0h0m5 0h0m6 0h0m6 0h0m-23 1h0m23 0h0m-24 1h0m17 0h0m-22 1h0m3 0h0m5 0h0m10 0h0m-11 1h0m6 0h0m1 0h0m0 1h0m2 0h0m11 0h0m-7 1h0m-15 1h0m2 0h0m16 0h0m-5 1h0m5 2h0m2 0h0"/>
<path stroke="#e8300f" d="M287 132h0m1 3h0m1 0h0m2 0h0m-9 1h0m1 1h0m-13 1h0m17 0h0m-20 1h0m12 0h0m1 0h0m3 0h0m4 0h0m3 0h0m-19 1h0m3 0h0m12 0h0m9 0h0m-27 1h0m3 0h0m2 0h0m10 0h0m2 0h0m7 0h0m5 0h0m-25 1h0m5 0h0m24 0h0m1 0h0m3 0h0m-47 1h0m8 0h0m2 0h0m8 0h0m4 0h0m5 0h0m-18 1h0m6 0h0m19 0h0m1 0h0m-33 1h0m9 0h0m24 0h0m2 0h0m-32 1h0m18 0h0m2 0h0m-14 1h0m11 0h0m7 0h0m-26 1h0m7 0h0m10 0h0m4 0h0m2 0h0m18 0h0m5 0h0m-53 1h0m6 0h0m3 0h0m2 0h0m12 0h0m10 0h0m3 0h0m-20 1h0m5 0h0m2 0h0m8 0h0m19 0h0m3 0h0m-63 1h0m37 0h0m2 0h0m10 0h0m2 0h0m12 0h0m-53 1h0m22 0h0m4 0h0m19 0h0m4 0h0m-58 1h0m10 0h0m3 0h0m4 0h0m9 0h0m12 0h0m8 0h0m-15 1h0m3 0h0m2 0h0m2 0h0m24 0h0m-52 1h0m17 0h0m5 0h0m7 0h0m21 0h0m3 0h0m-59 1h0m2 0h0m4 0h0m18 0h0m4 0h0m3 0h0m5 0h0m4 0h0m1 0h0m3 0h0m8 0h0m-59 1h0m8 0h0m25 0h0m1 0h0m1 0h0m6 0h0m2 0h0m-46 1h0m11 0h0m16 0h0m7 0h0m2 0h0m4 0h0m8 0h0m14 0h0m7 0h0m-55 1h0m2 0h0m1 0h0m2 0h0m12 0h0m1 0h0m7 0h0m2 0h0m13 0h0m5 0h0m-57 1h0m1 0h0m2 0h0m3 0h0m3 0h0m14 0h0m15 0h0m5 0h0m9 0h0m13 0h0m-57 1h0m4 0h0m8 0h0m3 0h0m15 0h0m6 0h0m6 0h0m5 0h0m9 0h0m-60 1h0m6 0h0m27 0h0m5 0h0m15 0h0m9 0h0m-57 1h0m13 0h0m31 0h0m14 0h0m-60 1h0m6 0h0m10 0h0m9 0h0m1 0h0m3 0h0m31 0h0m-69 1h0m2 0h0m7 0h0m2 0h0m24 0h0m2 0h0m15 0h0m9 0h0m7 0h0m-54 1h0m15 0h0m2 0h0m1 0h0m11 0h0m3 0h0m4 0h0m10 0h0m13 0h0m-75 1h0m5 0h0m3 0h0m11 0h0m10 0h0m1 0h0m17 0h0m2 0h0m3 0h0m1 0h0m4 0h0m2 0h0m14 0h0m3 0h0m-70 1h0m2 0h0m19 0h0m3 0h0m2 0h0m2 0h0m1 0h0m9 0h0m2 0h0m4 0h0m7 0h0m1 0h0m13 0h0m3 0h0m-73 1h0m1 0h0m1 0h0m10 0h0m3 0h0m4 0h0m2 0h0m11 0h0m25 0h0m19 0h0m-78 1h0m11 0h0m1 0h0m1 0h0m2 0h0m2 0h0m12 0h0m11 0h0m13 0h0m1 0h0m1 0h0m21 0h0m-68 1h0m5 0h0m1 0h0m1 0h0m4 0h0m3 0h0m8 0h0m21 0h0m-47 1h0m6 0h0m2 0h0m12 0h0m8 0h0m10 0h0m2 0h0m18 0h0m6 0h0m12 0h0m-66 1h0m3 0h0m6 0h0m2 0h0m16 0h0m32 0h0m1 0h0m6 0h0m-73 1h0m8 0h0m28 0h0m9 0h0m29 0h0m-59 1h0m1 0h0m5 0h0m7 0h0m2 0h0m3 0h0m27 0h0m6 0h0m-64 1h0m1 0h0m28 0h0m6 0h0m5 0h0m4 0h0m3 0h0m21 0h0m-70 1h0m3 0h0m11 0h0m3 0h0m4 0h0m2 0h0m5 0h0m1 0h0m1 0h0m9 0h0m2 0h0m3 0h0m4 0h0m15 0h0m-67 1h0m3 0h0m13 0h0m3 0h0m10 0h0m4 0h0m16 0h0m3 0h0m6 0h0m8 0h0m1 0h0m4 0h0m4 0h0m-74 1h0m3 0h0m1 0h0m3 0h0m1 0h0m4 0h0m6 0h0m5 0h0m2 0h0m1 0h0m11 0h0m12 0h0m16 0h0m-64 1h0m5 0h0m7 0h0m17 0h0m1 0h0m6 0h0m4 0h0m6 0h0m2 0h0m9 0h0m8 0h0m7 0h0m2 0h0m-62 1h0m1 0h0m23 0h0m35 0h0m1 0h0m-67 1h0m1 0h0m7 0h0m1 0h0m2 0h0m1 0h0m9 0h0m18 0h0m15 0h0m8 0h0m1 0h0m-64 1h0m5 0h0m15 0h0m1 0h0m21 0h0m7 0h0m2 0h0m4 0h0m2 0h0m3 0h0m6 0h0m1 0h0m2 0h0m2 0h0m2 0h0m-73 1h0m5 0h0m9 0h0m2 0h0m32 0h0m4 0h0m9 0h0m9 0h0m-52 1h0m14 0h0m7 0h0m9 0h0m22 0h0m-65 1h0m6 0h0m5 0h0m2 0h0m45 0h0m3 0h0m-60 1h0m5 0h0m15 0h0m5 0h0m2 0h0m28 0h0m-48 1h0m24 0h0m2 0h0m9 0h0m1 0h0m26 0h0m-66 1h0m8 0h0m2 0h0m2 0h0m24 0h0m1 0h0m4 0h0m6 0h0m15 0h0m-63 1h0m2 0h0m9 0h0m15 0h0m1 0h0m2 0h0m9 0h0m10 0h0m2 0h0m-26 1h0m1 0h0m1 0h0m13 0h0m4 0h0m17 0h0m-58 1h0m1 0h0m2 0h0m8 0h0m21 0h0m7 0h0m22 0h0m-65 1h0m5 0h0m13 0h0m19 0h0m11 0h0m17 0h0m-38 1h0m30 0h0m5 0h0m-52 1h0m9 0h0m4 0h0m5 0h0m15 0h0m18 0h0m2 0h0m-48 1h0m4 0h0m22 0h0m1 0h0m2 0h0m10 0h0m11 0h0m-56 1h0m4 0h0m1 0h0m9 0h0m11 0h0m7 0h0m22 0h0m-51 1h0m15 0h0m20 0h0m2 0h0m5 0h0m1 0h0m3 0h0m-40 1h0m8 0h0m2 0h0m9 0h0m26 0h0m-39 1h0m4 0h0m5 0h0m1 0h0m2 0h0m11 0h0m10 0h0m1 0h0m1 0h0m4 0h0m4 0h0m-39 1h0m1 0h0m2 0h0m9 0h0m3 0h0m15 0h0m4 0h0m1 0h0m-38 1h0m5 0h0m10 0h0m12 0h0m-24 1h0m7 0h0m18 0h0m5 0h0m-37 1h0m1 0h0m6 0h0m8 0h0m3 0h0m6 0h0m7 0h0m6 0h0m1 0h0m-35 1h0m31 0h0m3 0h0m3 0h0m1 0h0m5 0h0m-42 1h0m1 0h0m12 0h0m26 0h0m-42 1h0m25 0h0m10 0h0m10 0h0m2 0h0m-23 1h0m1 0h0m16 0h0m7 0h0m-38 1h0m15 0h0m6 0h0m6 0h0m-33 1h0m14 0h0m20 0h0m2 0h0m-28 1h0m2 0h0m2 0h0m6 0h0m2 0h0m3 0h0m4 0h0m4 0h0m2 0h0m4 0h0m4 0h0m3 0h0m-42 1h0m4 0h0m7 0h0m1 0h0m6 0h0m1 0h0m10 0h0m3 0h0m-42 1h0m3 0h0m18 0h0m8 0h0m3 0h0m-26 1h0m3 0h0m2 0h0m11 0h0m4 0h0m9 0h0m2 0h0m2 0h0m-12 1h0m9 0h0m-28 1h0m39 0h0m-27 1h0m15 0h0m-15 1h0m14 0h0m7 0h0m-16 1h0m3 1h0m7 0h0m-7 1h0m7 0h0m7 0h0m-15 1h0m4 0h0m2 0h0m3 0h0m2 0h0m-11 1h0m-2 2h0m10 0h0m3 1h0"/>
<path stroke="#ee5512" d="M520 204h0m3 0h0m1 0h0m1 0h0m10 1h0m-21 2h0m3 0h0m11 0h0m12 0h0m-17 1h0m9 0h0m-25 1h0m2 0h0m3 0h0m3 0h0m25 0h0m1 0h0m7 0h0m-37 1h0m4 0h0m4 0h0m6 0h0m4 0h0m1 0h0m-36 1h0m35 0h0m18 0h0m1 0h0m-37 1h0m10 0h0m13 0h0m6 0h0m6 1h0m-52 1h0m24 0h0m16 0h0m2 0h0m-16 1h0m1 0h0m3 0h0m10 0h0m4 0h0m2 0h0m6 0h0m-51 1h0m19 0h0m17 0h0m13 0h0m5 0h0m-63 1h0m24 0h0m14 0h0m16 0h0m3 0h0m-43 1h0m47 0h0m-69 1h0m42 0h0m7 0h0m13 0h0m2 0h0m5 0h0m7 0h0m-73 1h0m40 0h0m1 0h0m13 0h0m4 0h0m3 0h0m1 0h0m8 0h0m-70 1h0m2 0h0m65 0h0m-75 1h0m12 0h0m9 0h0m20 0h0m40 0h0m3 0h0m-79 1h0m24 0h0m32 0h0m5 0h0m14 0h0m-53 1h0m1 0h0m4 0h0m35 0h0m7 0h0m1 0h0m4 0h0m5 0h0m-76 1h0m60 0h0m3 0h0m4 0h0m10 0h0m-93 1h0m5 0h0m40 0h0m12 0h0m1 0h0m21 0h0m6 0h0m-67 1h0m2 0h0m14 0h0m38 0h0m4 0h0m10 0h0m2 0h0m7 0h0m-104 1h0m8 0h0m11 0h0m4 0h0m2 0h0m1 0h0m9 0h0m1 0h0m15 0h0m37 0h0m1 0h0m-17 1h0m13 0h0m4 0h0m6 0h0m14 0h0m-74 1h0m10 0h0m16 0h0m29 0h0m3 0h0m8 0h0m-100 1h0m1 0h0m4 0h0m17 0h0m8 0h0m14 0h0m11 0h0m3 0h0m31 0h0m5 0h0m-99 1h0m9 0h0m3 0h0m1 0h0m14 0h0m15 0h0m33 0h0m-78 1h0m9 0h0m5 0h0m7 0h0m10 0h0m10 0h0m16 0h0m12 0h0m1 0h0m6 0h0m4 0h0m3 0h0m2 0h0m-72 1h0m4 0h0m1 0h0m3 0h0m12 0h0m10 0h0m36 0h0m10 0h0m11 0h0m5 0h0m7 0h0m-105 1h0m28 0h0m4 0h0m4 0h0m3 0h0m6 0h0m8 0h0m4 0h0m11 0h0m9 0h0m11 0h0m6 0h0m2 0h0m-76 1h0m7 0h0m44 0h0m4 0h0m16 0h0m8 0h0m-119 1h0m14 0h0m1 0h0m5 0h0m11 0h0m11 0h0m5 0h0m18 0h0m36 0h0m12 0h0m1 0h0m5 0h0m-98 1h0m1 0h0m1 0h0m9 0h0m10 0h0m4 0h0m3 0h0m7 0h0m21 0h0m1 0h0m13 0h0m14 0h0m3 0h0m6 0h0m2 0h0m6 0h0m-120 1h0m10 0h0m16 0h0m8 0h0m1 0h0m7 0h0m7 0h0m54 0h0m5 0h0m-110 1h0m6 0h0m25 0h0m21 0h0m3 0h0m11 0h0m5 0h0m5 0h0m23 0h0m1 0h0m5 0h0m5 0h0m-111 1h0m8 0h0m8 0h0m6 0h0m4 0h0m4 0h0m9 0h0m29 0h0m23 0h0m23 0h0m3 0h0m2 0h0m-127 1h0m10 0h0m10 0h0m3 0h0m8 0h0m10 0h0m12 0h0m12 0h0m5 0h0m5 0h0m26 0h0m6 0h0m14 0h0m1 0h0m-117 1h0m20 0h0m10 0h0m10 0h0m23 0h0m34 0h0m8 0h0m7 0h0m4 0h0m-85 1h0m8 0h0m4 0h0m11 0h0m45 0h0m5 0h0m16 0h0m4 0h0m-125 1h0m8 0h0m15 0h0m2 0h0m3 0h0m5 0h0m4 0h0m13 0h0m9 0h0m1 0h0m2 0h0m31 0h0m2 0h0m14 0h0m4 0h0m-118 1h0m7 0h0m11 0h0m8 0h0m13 0h0m4 0h0m25 0h0m3 0h0m1 0h0m2 0h0m2 0h0m5 0h0m15 0h0m8 0h0m6 0h0m7 0h0m12 0h0m-122 1h0m13 0h0m6 0h0m5 0h0m2 0h0m2 0h0m23 0h0m5 0h0m6 0h0m1 0h0m1 0h0m16 0h0m8 0h0m15 0h0m17 0h0m3 0h0m2 0h0m-126 1h0m20 0h0m2 0h0m14 0h0m1 0h0m31 0h0m6 0h0m32 0h0m4 0h0m-92 1h0m2 0h0m3 0h0m10 0h0m10 0h0m4 0h0m9 0h0m3 0h0m5 0h0m6 0h0m2 0h0m10 0h0m23 0h0m17 0h0m-123 1h0m16 0h0m14 0h0m11 0h0m5 0h0m2 0h0m13 0h0m1 0h0m8 0h0m9 0h0m14 0h0m11 0h0m2 0h0m9 0h0m6 0h0m-116 1h0m22 0h0m9 0h0m3 0h0m62 0h0m1 0h0m6 0h0m3 0h0m-83 1h0m3 0h0m3 0h0m7 0h0m8 0h0m21 0h0m3 0h0m36 0h0m18 0h0m-120 1h0m18 0h0m8 0h0m10 0h0m5 0h0m5 0h0m1 0h0m5 0h0m3 0h0m1 0h0m4 0h0m2 0h0m2 0h0m39 0h0m5 0h0m2 0h0m9 0h0m-106 1h0m9 0h0m9 0h0m1 0h0m10 0h0m2 0h0m2 0h0m26 0h0m37 0h0m-109 1h0m4 0h0m6 0h0m85 0h0m16 0h0m-120 1h0m8 0h0m7 0h0m9 0h0m6 0h0m9 0h0m8 0h0m31 0h0m30 0h0m3 0h0m8 0h0m-114 1h0m32 0h0m5 0h0m25 0h0m7 0h0m33 0h0m4 0h0m7 0h0m-101 1h0m8 0h0m2 0h0m17 0h0m19 0h0m8 0h0m18 0h0m1 0h0m-86 1h0m3 0h0m16 0h0m8 0h0m13 0h0m4 0h0m2 0h0m40 0h0m2 0h0m3 0h0m4 0h0m1 0h0m26 0h0m-99 1h0m25 0h0m3 0h0m3 0h0m12 0h0m1 0h0m22 0h0m9 0h0m2 0h0m5 0h0m6 0h0m8 0h0m2 0h0m-103 1h0m13 0h0m10 0h0m2 0h0m5 0h0m1 0h0m28 0h0m16 0h0m22 0h0m-106 1h0m4 0h0m23 0h0m14 0h0m9 0h0m27 0h0m11 0h0m4 0h0m9 0h0m-99 1h0m4 0h0m2 0h0m7 0h0m30 0h0m2 0h0m10 0h0m11 0h0m29 0h0m12 0h0m-109 1h0m1 0h0m13 0h0m15 0h0m9 0h0m3 0h0m7 0h0m3 0h0m-19 1h0m3 0h0m9 0h0m8 0h0m15 0h0m8 0h0m16 0h0m-86 1h0m6 0h0m12 0h0m13 0h0m13 0h0m12 0h0m21 0h0m-77 1h0m10 0h0m11 0h0m7 0h0m23 0h0m-40 1h0m3 0h0m19 0h0m11 0h0m9 0h0m9 0h0m9 0h0m2 0h0m26 0h0m-77 1h0m30 0h0m2 0h0m6 0h0m18 0h0m4 0h0m-66 1h0m19 0h0m13 0h0m33 0h0m17 0h0m-78 1h0m12 0h0m7 0h0m1 0h0m3 0h0m38 0h0m8 0h0m10 0h0m-84 1h0m2 0h0m35 0h0m25 0h0m2 0h0m4 0h0m3 0h0m-62 1h0m4 0h0m13 0h0m6 0h0m9 0h0m17 0h0m13 0h0m2 0h0m-70 1h0m11 0h0m4 0h0m18 0h0m7 0h0m29 0h0m-57 1h0m11 0h0m6 0h0m1 0h0m7 0h0m4 0h0m3 0h0m12 0h0m8 0h0m8 0h0m2 0h0m-64 1h0m1 0h0m6 0h0m7 0h0m34 0h0m17 0h0m-56 1h0m8 0h0m11 0h0m9 0h0m13 0h0m1 0h0m2 0h0m-47 1h0m18 0h0m25 0h0m7 0h0m3 0h0m-48 1h0m43 0h0m2 0h0m-53 1h0m16 0h0m3 0h0m13 0h0m5 0h0m12 0h0m-22 1h0m19 0h0m2 0h0m14 0h0m-48 1h0m12 0h0m4 0h0m33 0h0m1 0h0m-62 1h0m3 0h0m3 0h0m8 0h0m4 0h0m1 0h0m1 0h0m8 0h0m6 0h0m5 0h0m12 0h0m6 0h0m-52 1h0m3 0h0m3 0h0m34 0h0m3 0h0m13 0h0m-51 1h0m10 0h0m9 1h0m11 0h0m-38 1h0m7 0h0m1 0h0m9 0h0m7 0h0m8 0h0m7 0h0m6 0h0m6 0h0m1 0h0m1 0h0m-43 1h0m-3 1h0m6 0h0m3 0h0m18 0h0m9 0h0m1 0h0m7 0h0m-38 1h0m6 0h0m15 0h0m7 0h0m1 0h0m-41 1h0m29 0h0m2 0h0m12 0h0m3 0h0m-39 1h0m6 0h0m7 0h0m16 0h0m2 0h0m7 0h0m4 0h0m-40 1h0m1 0h0m9 0h0m19 0h0m11 0h0m-44 1h0m45 0h0m-32 1h0m3 0h0m29 0h0m-36 1h0m3 0h0m10 0h0m3 0h0m17 0h0m-32 1h0m10 0h0m25 0h0m-31 1h0m1 0h0m20 0h0m1 0h0m2 0h0m-28 1h0m2 0h0m5 0h0m17 0h0m5 0h0m-18 1h0m3 0h0m7 0h0m6 0h0m-23 1h0m9 0h0m3 0h0m9 0h0m3 0h0m-27 1h0m1 0h0m8 0h0m5 0h0m1 0h0m4 0h0m-16 1h0m7 0h0m2 0h0m1 0h0m5 0h0m4 2h0m-20 1h0m-9 1h0m8 0h0m10 0h0m6 0h0m-16 1h0"/>
<path stroke="#ee5512" d="M404 247h0m-13 1h0m4 1h0m1 0h0m-2 1h0m3 0h0m-3 1h0m-10 1h0m11 0h0m7 1h0m-15 1h0m17 0h0m-13 1h0m11 0h0m1 1h0m6 0h0m-22 1h0m4 0h0m13 0h0m3 0h0m6 0h0m-13 1h0m3 0h0m-6 1h0m2 0h0m12 0h0m2 0h0m-30 1h0m16 0h0m-16 1h0m13 0h0m14 0h0m-7 1h0m3 1h0m5 0h0m-20 1h0m15 0h0m1 0h0m3 0h0m-6 1h0m-14 1h0m8 0h0m9 0h0m-16 1h0m11 1h0"/>
<path stroke="#ee8010" d="M568 322h0m-6 1h0m2 0h0m4 0h0m1 0h0m-21 1h0m25 1h0m10 0h0m-36 1h0m5 0h0m7 0h0m2 0h0m6 0h0m12 0h0m-18 1h0m1 0h0m-23 1h0m4 0h0m13 0h0m13 0h0m3 0h0m10 0h0m-29 1h0m2 0h0m7 0h0m3 0h0m1 0h0m2 0h0m5 0h0m4 0h0m9 0h0m-41 1h0m20 0h0m4 0h0m2 0h0m3 0h0m1 0h0m2 0h0m9 0h0m-51 1h0m4 0h0m2 0h0m3 0h0m1 0h0m16 0h0m4 0h0m4 0h0m-8 1h0m-23 1h0m17 0h0m1 0h0m7 0h0m7 0h0m10 0h0m8 0h0m-47 1h0m3 0h0m10 0h0m3 0h0m4 0h0m10 0h0m7 0h0m8 0h0m1 0h0m2 0h0m1 0h0m-51 1h0m8 0h0m4 0h0m13 0h0m2 0h0m3 0h0m20 0h0m7 0h0m-54 1h0m9 0h0m6 0h0m19 0h0m6 0h0m2 0h0m-48 1h0m8 0h0m2 0h0m6 0h0m1 0h0m19 0h0m4 0h0m18 0h0m-62 1h0m26 0h0m3 0h0m5 0h0m1 0h0m1 0h0m3 0h0m29 0h0m2 0h0m-54 1h0m1 0h0m1 0h0m39 0h0m6 0h0m-60 1h0m18 0h0m5 0h0m4 0h0m15 0h0m5 0h0m10 0h0m1 0h0m6 0h0m-35 1h0m8 0h0m13 0h0m1 0h0m10 0h0m-39 1h0m3 0h0m7 0h0m2 0h0m2 0h0m5 0h0m1 0h0m17 0h0m2 0h0m2 0h0m3 0h0m-66 1h0m17 0h0m27 0h0m5 0h0m11 0h0m7 0h0m1 0h0m-46 1h0m21 0h0m13 0h0m1 0h0m-55 1h0m3 0h0m1 0h0m11 0h0m2 0h0m19 0h0m7 0h0m2 0h0m4 0h0m11 0h0m-61 1h0m7 0h0m2 0h0m11 0h0m5 0h0m1 0h0m11 0h0m8 0h0m14 0h0m3 0h0m10 0h0m-56 1h0m8 0h0m11 0h0m17 0h0m8 0h0m-49 1h0m4 0h0m2 0h0m6 0h0m16 0h0m1 0h0m2 0h0m2 0h0m11 0h0m1 0h0m-50 1h0m15 0h0m12 0h0m15 0h0m6 0h0m-50 1h0m16 0h0m38 0h0m8 0h0m4 0h0m1 0h0m-60 1h0m10 0h0m16 0h0m4 0h0m2 0h0m3 0h0m-50 1h0m4 0h0m11 0h0m4 0h0m3 0h0m10 0h0m12 0h0m9 0h0m17 0h0m8 0h0m-76 1h0m2 0h0m13 0h0m3 0h0m4 0h0m5 0h0m11 0h0m3 0h0m18 0h0m2 0h0m-53 1h0m5 0h0m9 0h0m10 0h0m22 0h0m15 0h0m-65 1h0m5 0h0m20 0h0m4 0h0m2 0h0m2 0h0m6 0h0m1 0h0m-32 1h0m4 0h0m1 0h0m6 0h0m5 0h0m3 0h0m9 0h0m16 0h0m17 0h0m4 0h0m-73 1h0m17 0h0m25 0h0m6 0h0m5 0h0m17 0h0m-70 1h0m2 0h0m5 0h0m1 0h0m6 0h0m11 0h0m3 0h0m13 0h0m11 0h0m1 0h0m3 0h0m12 0h0m3 0h0m-68 1h0m1 0h0m6 0h0m1 0h0m1 0h0m19 0h0m1 0h0m9 0h0m3 0h0m4 0h0m7 0h0m12 0h0m4 0h0m-71 1h0m8 0h0m8 0h0m1 0h0m4 0h0m3 0h0m9 0h0m3 0h0m4 0h0m11 0h0m3 0h0m9 0h0m5 0h0m2 0h0m-60 1h0m13 0h0m4 0h0m13 0h0m3 0h0m2 0h0m8 0h0m2 0h0m1 0h0m5 0h0m-64 1h0m4 0h0m3 0h0m12 0h0m16 0h0m1 0h0m7 0h0m1 0h0m3 0h0m2 0h0m4 0h0m12 0h0m-60 1h0m4 0h0m2 0h0m3 0h0m6 0h0m5 0h0m11 0h0m4 0h0m9 0h0m6 0h0m4 0h0m3 0h0m12 0h0m7 0h0m-77 1h0m6 0h0m1 0h0m3 0h0m11 0h0m8 0h0m6 0h0m1 0h0m11 0h0m6 0h0m6 0h0m2 0h0m12 0h0m-77 1h0m1 0h0m8 0h0m3 0h0m2 0h0m18 0h0m3 0h0m1 0h0m5 0h0m5 0h0m1 0h0m1 0h0m10 0h0m2 0h0m12 0h0m1 0h0m6 0h0m-76 1h0m46 0h0m-44 1h0m9 0h0m4 0h0m2 0h0m10 0h0m1 0h0m1 0h0m11 0h0m6 0h0m8 0h0m18 0h0m-66 1h0m3 0h0m9 0h0m3 0h0m4 0h0m3 0h0m19 0h0m8 0h0m3 0h0m1 0h0m14 0h0m-67 1h0m3 0h0m10 0h0m2 0h0m18 0h0m10 0h0m6 0h0m2 0h0m20 0h0m-72 1h0m2 0h0m17 0h0m16 0h0m14 0h0m2 0h0m13 0h0m3 0h0m-72 1h0m3 0h0m1 0h0m5 0h0m1 0h0m12 0h0m11 0h0m19 0h0m7 0h0m1 0h0m2 0h0m4 0h0m3 0h0m-69 1h0m11 0h0m5 0h0m6 0h0m3 0h0m3 0h0m1 0h0m2 0h0m3 0h0m6 0h0m16 0h0m14 0h0m-59 1h0m2 0h0m9 0h0m3 0h0m11 0h0m1 0h0m7 0h0m8 0h0m9 0h0m3 0h0m2 0h0m3 0h0m1 0h0m3 0h0m-68 1h0m1 0h0m8 0h0m14 0h0m3 0h0m8 0h0m16 0h0m6 0h0m6 0h0m-42 1h0m3 0h0m7 0h0m24 0h0m9 0h0m1 0h0m-62 1h0m3 0h0m3 0h0m3 0h0m1 0h0m1 0h0m1 0h0m1 0h0m7 0h0m8 0h0m6 0h0m7 0h0m9 0h0m6 0h0m2 0h0m1 0h0m-56 1h0m10 0h0m12 0h0m2 0h0m10 0h0m4 0h0m17 0h0m5 0h0m2 0h0m4 0h0m-73 1h0m6 0h0m3 0h0m55 0h0m-68 1h0m14 0h0m1 0h0m7 0h0m4 0h0m5 0h0m18 0h0m11 0h0m15 0h0m-71 1h0m1 0h0m8 0h0m6 0h0m19 0h0m15 0h0m2 0h0m1 0h0m3 0h0m2 0h0m10 0h0m1 0h0m-70 1h0m11 0h0m5 0h0m1 0h0m10 0h0m2 0h0m10 0h0m3 0h0m1 0h0m3 0h0m1 0h0m2 0h0m4 0h0m2 0h0m9 0h0m-51 1h0m1 0h0m7 0h0m6 0h0m11 0h0m2 0h0m11 0h0m7 0h0m-57 1h0m3 0h0m1 0h0m12 0h0m6 0h0m25 0h0m2 0h0m5 0h0m8 0h0m5 0h0m6 0h0m-70 1h0m5 0h0m10 0h0m7 0h0m4 0h0m10 0h0m6 0h0m2 0h0m11 0h0m2 0h0m5 0h0m-62 1h0m18 0h0m21 0h0m5 0h0m11 0h0m1 0h0m4 0h0m2 0h0m3 0h0m-59 1h0m6 0h0m1 0h0m9 0h0m15 0h0m1 0h0m8 0h0m6 0h0m7 0h0m-52 1h0m23 0h0m6 0h0m19 0h0m5 0h0m1 0h0m1 0h0m5 0h0m-68 1h0m16 0h0m4 0h0m5 0h0m9 0h0m3 0h0m3 0h0m5 0h0m18 0h0m-42 1h0m5 0h0m1 0h0m4 0h0m1 0h0m11 0h0m3 0h0m2 0h0m3 0h0m1 0h0m1 0h0m20 0h0m-53 1h0m3 0h0m6 0h0m20 0h0m10 0h0m3 0h0m4 0h0m-36 1h0m1 0h0m2 0h0m3 0h0m7 0h0m17 0h0m-57 1h0m2 0h0m5 0h0m1 0h0m4 0h0m9 0h0m29 0h0m2 0h0m-46 1h0m4 0h0m20 0h0m8 0h0m6 0h0m5 0h0m15 0h0m-46 1h0m11 0h0m12 0h0m6 0h0m7 0h0m3 0h0m5 0h0m-56 1h0m7 0h0m3 0h0m6 0h0m13 0h0m7 0h0m12 0h0m4 0h0m1 0h0m-46 1h0m4 0h0m8 0h0m2 0h0m4 0h0m1 0h0m6 0h0m2 0h0m2 0h0m4 0h0m9 0h0m1 0h0m1 0h0m1 0h0m2 0h0m-55 1h0m4 0h0m20 0h0m5 0h0m22 0h0m6 0h0m6 0h0m-64 1h0m7 0h0m26 0h0m4 0h0m3 0h0m9 0h0m1 0h0m-42 1h0m1 0h0m2 0h0m2 0h0m8 0h0m14 0h0m2 0h0m3 0h0m10 0h0m14 0h0m-59 1h0m10 0h0m10 0h0m8 0h0m8 0h0m4 0h0m6 0h0m1 0h0m-44 1h0m7 0h0m11 0h0m14 0h0m2 0h0m3 0h0m5 0h0m1 0h0m1 0h0m5 0h0m4 0h0m-58 1h0m7 0h0m3 0h0m8 0h0m7 0h0m5 0h0m3 0h0m2 0h0m5 0h0m17 0h0m-48 1h0m1 0h0m1 0h0m9 0h0m12 0h0m5 0h0m2 0h0m4 0h0m8 0h0m-46 1h0m4 0h0m2 0h0m22 0h0m-33 1h0m10 0h0m2 0h0m1 0h0m29 0h0m3 0h0m12 0h0m-35 1h0m1 0h0m9 0h0m4 0h0m9 0h0m1 0h0m3 0h0m1 0h0m4 0h0m2 0h0m-58 1h0m3 0h0m16 0h0m16 0h0m8 0h0m12 0h0m-52 1h0m22 0h0m1 0h0m18 0h0m12 0h0m-28 1h0m8 0h0m-24 1h0m24 0h0m5 0h0m6 0h0m1 0h0m2 0h0m-46 1h0m17 0h0m1 0h0m3 0h0m2 0h0m11 0h0m-6 1h0m4 0h0m5 0h0m-29 1h0m26 0h0m2 0h0m5 0h0m2 0h0m1 0h0m2 0h0m-26 1h0m7 0h0m12 0h0m5 0h0m-5 1h0m-11 1h0m1 0h0m8 0h0m-9 1h0m5 0h0m-13 1h0m19 0h0m1 0h0m1 1h0m-21 1h0m11 0h0m10 0h0m-6 1h0m4 0h0m-8 1h0m3 0h0m1 0h0m-5 1h0m2 0h0m-15 1h0m8 0h0m9 0h0m3 0h0m2 0h0m-25 1h0m17 0h0m3 0h0m-12 1h0m6 0h0m-14 1h0m6 0h0m6 0h0m10 0h0m5 0h0m2 0h0m-17 1h0m-8 1h0m12 0h0m2 0h0m2 0h0m1 0h0m3 0h0m-12 1h0m7 1h0m1 0h0m-27 1h0m6 0h0m24 0h0m-23 1h0m2 0h0m1 0h0m10 0h0m8 0h0m3 0h0m2 0h0m-33 1h0m5 0h0m9 0h0m7 0h0m9 0h0m-19 1h0m11 0h0m-6 1h0m10 0h0m7 0h0m-16 1h0m11 0h0m3 0h0m-34 1h0m33 0h0m-15 1h0m12 0h0m-11 1h0m2 0h0m9 0h0m3 0h0m-8 1h0m3 0h0m1 0h0m-15 1h0m2 0h0m19 0h0m2 0h0m-29 1h0m9 0h0m4 1h0m2 1h0m6 0h0m-13 1h0m6 0h0m-8 1h0m-11 1h0m8 0h0m23 1h0m-18 1h0m4 0h0m1 0h0m5 0h0m5 0h0m-11 1h0m7 0h0m4 0h0m3 0h0m-27 1h0m14 0h0m12 0h0m1 0h0m-20 1h0m13 0h0m13 0h0m-30 1h0m9 1h0m2 0h0m3 0h0m3 0h0m7 0h0m5 0h0m2 0h0m-27 1h0m16 0h0m4 0h0m4 0h0m7 0h0m3 0h0m-38 1h0m3 0h0m27 0h0m-16 1h0m9 0h0m4 0h0m10 0h0m-32 2h0m6 0h0m8 1h0m0 1h0m21 0h0m-32 1h0m31 0h0m-36 1h0m35 0h0m-27 1h0m17 0h0m19 1h0m-37 2h0m29 0h0m2 0h0m-28 1h0m7 2h0m21 0h0m1 1h0m9 0h0m-30 1h0m23 0h0m-11 1h0m8 1h0m10 0h0m-23 1h0m18 0h0m-13 1h0m9 0h0m1 0h0m2 0h0m6 0h0m-25 1h0m15 0h0m5 0h0m-8 1h0m8 0h0m2 0h0m1 0h0m3 0h0m-17 1h0m8 0h0m6 0h0m2 0h0m-1 1h0m3 0h0m-11 1h0m-20 1h0m2 0h0m25 0h0m2 0h0m2 0h0m1 0h0m-1 1h0m-3 1h0m4 0h0m1 0h0m-17 1h0m13 0h0m1 0h0m-17 2h0m15 0h0m7 0h0m-16 1h0m12 0h0m1 0h0m4 0h0m-17 1h0m6 0h0m11 0h0m-10 1h0m6 0h0m-21 1h0m14 0h0m9 0h0m-9 1h0m5 0h0m2 0h0m-29 1h0m24 0h0m2 0h0m-21 1h0m5 0h0m11 0h0m8 0h0m4 0h0m-22 1h0m22 0h0m-25 1h0m10 0h0m8 0h0m-19 1h0m10 0h0m4 0h0m4 0h0m3 0h0m4 0h0m1 0h0m-31 1h0m4 0h0m3 0h0m1 0h0m9 0h0m4 0h0m4 0h0m6 0h0m5 0h0m-26 1h0m2 0h0m5 0h0m13 0h0m3 0h0m3 0h0m-33 1h0m8 0h0m2 0h0m14 0h0m-21 1h0m8 0h0m7 0h0m4 0h0m2 0h0m5 0h0m-28 1h0m10 0h0m8 0h0m9 0h0m1 0h0m-18 1h0m3 0h0m9 0h0m-18 1h0m2 0h0m20 0h0m-10 1h0m3 0h0m-7 1h0m1 1h0m-5 1h0m6 2h0m4 1h0"/>
<path stroke="#e8a405" d="M507 122h0m-20 1h0m8 0h0m10 0h0m5 0h0m3 0h0m-38 1h0m14 0h0m3 0h0m7 0h0m3 0h0m2 0h0m22 0h0m3 0h0m7 0h0m-53 1h0m8 0h0m1 0h0m6 0h0m6 0h0m23 0h0m4 0h0m11 0h0m6 0h0m-58 1h0m10 0h0m10 0h0m3 0h0m5 0h0m6 0h0m3 0h0m9 0h0m7 0h0m-70 1h0m11 0h0m15 0h0m2 0h0m3 0h0m1 0h0m5 0h0m31 0h0m-88 1h0m18 0h0m13 0h0m3 0h0m9 0h0m6 0h0m7 0h0m20 0h0m5 0h0m11 0h0m-80 1h0m5 0h0m9 0h0m5 0h0m2 0h0m8 0h0m3 0h0m4 0h0m1 0h0m7 0h0m10 0h0m1 0h0m5 0h0m9 0h0m3 0h0m4 0h0m2 0h0m-97 1h0m31 0h0m3 0h0m2 0h0m14 0h0m2 0h0m2 0h0m5 0h0m7 0h0m9 0h0m5 0h0m25 0h0m4 0h0m-91 1h0m8 0h0m12 0h0m9 0h0m7 0h0m2 0h0m3 0h0m5 0h0m2 0h0m3 0h0m2 0h0m9 0h0m3 0h0m21 0h0m-102 1h0m6 0h0m1 0h0m4 0h0m2 0h0m3 0h0m15 0h0m6 0h0m3 0h0m2 0h0m1 0h0m5 0h0m5 0h0m5 0h0m5 0h0m2 0h0m4 0h0m15 0h0m7 0h0m1 0h0m4 0h0m1 0h0m10 0h0m1 0h0m1 0h0m5 0h0m-120 1h0m13 0h0m2 0h0m5 0h0m3 0h0m19 0h0m1 0h0m4 0h0m5 0h0m10 0h0m13 0h0m15 0h0m14 0h0m4 0h0m3 0h0m2 0h0m-113 1h0m19 0h0m9 0h0m18 0h0m12 0h0m2 0h0m3 0h0m8 0h0m1 0h0m2 0h0m17 0h0m20 0h0m1 0h0m8 0h0m-122 1h0m1 0h0m5 0h0m9 0h0m7 0h0m24 0h0m6 0h0m1 0h0m5 0h0m20 0h0m21 0h0m5 0h0m16 0h0m2 0h0m7 0h0m-129 1h0m10 0h0m34 0h0m5 0h0m16 0h0m9 0h0m6 0h0m15 0h0m1 0h0m2 0h0m6 0h0m4 0h0m1 0h0m-107 1h0m1 0h0m4 0h0m2 0h0m7 0h0m19 0h0m1 0h0m7 0h0m1 0h0m4 0h0m5 0h0m8 0h0m2 0h0m5 0h0m3 0h0m16 0h0m2 0h0m13 0h0m7 0h0m3 0h0m2 0h0m2 0h0m2 0h0m2 0h0m3 0h0m11 0h0m-131 1h0m1 0h0m24 0h0m27 0h0m6 0h0m6 0h0m2 0h0m3 0h0m20 0h0m7 0h0m1 0h0m4 0h0m3 0h0m2 0h0m-120 1h0m13 0h0m12 0h0m17 0h0m9 0h0m4 0h0m3 0h0m8 0h0m8 0h0m2 0h0m1 0h0m4 0h0m1 0h0m2 0h0m1 0h0m7 0h0m4 0h0m4 0h0m2 0h0m13 0h0m4 0h0m11 0h0m4 0h0m4 0h0m9 0h0m-138 1h0m7 0h0m2 0h0m8 0h0m9 0h0m5 0h0m12 0h0m3 0h0m8 0h0m2 0h0m6 0h0m3 0h0m10 0h0m21 0h0m6 0h0m2 0h0m1 0h0m19 0h0m1 0h0m-136 1h0m2 0h0m9 0h0m17 0h0m6 0h0m1 0h0m15 0h0m8 0h0m1 0h0m2 0h0m1 0h0m4 0h0m8 0h0m9 0h0m9 0h0m22 0h0m2 0h0m23 0h0m3 0h0m9 0h0m1 0h0m-158 1h0m6 0h0m7 0h0m1 0h0m4 0h0m3 0h0m6 0h0m2 0h0m2 0h0m5 0h0m5 0h0m3 0h0m3 0h0m3 0h0m20 0h0m31 0h0m10 0h0m14 0h0m6 0h0m4 0h0m5 0h0m13 0h0m1 0h0m5 0h0m-144 1h0m4 0h0m7 0h0m10 0h0m7 0h0m17 0h0m22 0h0m9 0h0m4 0h0m1 0h0m1 0h0m3 0h0m30 0h0m6 0h0m1 0h0m2 0h0m13 0h0m-148 1h0m5 0h0m11 0h0m4 0h0m2 0h0m1 0h0m1 0h0m7 0h0m8 0h0m5 0h0m6 0h0m3 0h0m5 0h0m32 0h0m2 0h0m1 0h0m2 0h0m49 0h0m5 0h0m2 0h0m-152 1h0m8 0h0m8 0h0m5 0h0m46 0h0m11 0h0m1 0h0m3 0h0m4 0h0m4 0h0m26 0h0m1 0h0m8 0h0m3 0h0m3 0h0m1 0h0m12 0h0m1 0h0m6 0h0m-147 1h0m11 0h0m2 0h0m14 0h0m3 0h0m5 0h0m6 0h0m21 0h0m2 0h0m2 0h0m7 0h0m4 0h0m1 0h0m1 0h0m6 0h0m2 0h0m15 0h0m32 0h0m3 0h0m8 0h0m3 0h0m-144 1h0m4 0h0m9 0h0m6 0h0m27 0h0m1 0h0m5 0h0m30 0h0m9 0h0m3 0h0m2 0h0m1 0h0m6 0h0m2 0h0m31 0h0m12 0h0m-163 1h0m4 0h0m21 0h0m12 0h0m20 0h0m5 0h0m1 0h0m13 0h0m10 0h0m7 0h0m2 0h0m9 0h0m10 0h0m8 0h0m3 0h0m10 0h0m4 0h0m1 0h0m1 0h0m-130 1h0m8 0h0m21 0h0m4 0h0m1 0h0m8 0h0m24 0h0m18 0h0m9 0h0m10 0h0m4 0h0m2 0h0m11 0h0m1 0h0m2 0h0m8 0h0m2 0h0m5 0h0m2 0h0m4 0h0m9 0h0m-158 1h0m4 0h0m1 0h0m3 0h0m5 0h0m4 0h0m11 0h0m7 0h0m2 0h0m2 0h0m3 0h0m13 0h0m3 0h0m9 0h0m1 0h0m1 0h0m1 0h0m3 0h0m1 0h0m1 0h0m2 0h0m10 0h0m2 0h0m6 0h0m6 0h0m16 0h0m6 0h0m3 0h0m8 0h0m8 0h0m6 0h0m-153 1h0m4 0h0m8 0h0m1 0h0m6 0h0m5 0h0m2 0h0m6 0h0m11 0h0m2 0h0m1 0h0m21 0h0m4 0h0m2 0h0m15 0h0m3 0h0m5 0h0m3 0h0m14 0h0m6 0h0m8 0h0m20 0h0m7 0h0m-153 1h0m1 0h0m1 0h0m12 0h0m3 0h0m1 0h0m4 0h0m16 0h0m7 0h0m8 0h0m7 0h0m1 0h0m1 0h0m5 0h0m2 0h0m19 0h0m2 0h0m3 0h0m8 0h0m1 0h0m12 0h0m3 0h0m8 0h0m6 0h0m23 0h0m-139 1h0m12 0h0m9 0h0m13 0h0m7 0h0m5 0h0m7 0h0m16 0h0m7 0h0m9 0h0m28 0h0m14 0h0m9 0h0m-132 1h0m6 0h0m14 0h0m5 0h0m4 0h0m2 0h0m14 0h0m3 0h0m21 0h0m5 0h0m2 0h0m7 0h0m9 0h0m17 0h0m7 0h0m26 0h0m-152 1h0m2 0h0m29 0h0m5 0h0m13 0h0m6 0h0m6 0h0m5 0h0m7 0h0m5 0h0m6 0h0m33 0h0m1 0h0m4 0h0m1 0h0m1 0h0m11 0h0m8 0h0m-155 1h0m6 0h0m26 0h0m7 0h0m6 0h0m8 0h0m10 0h0m14 0h0m4 0h0m1 0h0m14 0h0m2 0h0m5 0h0m1 0h0m23 0h0m2 0h0m9 0h0m4 0h0m-136 1h0m9 0h0m1 0h0m2 0h0m5 0h0m5 0h0m6 0h0m2 0h0m2 0h0m12 0h0m23 0h0m1 0h0m7 0h0m6 0h0m1 0h0m7 0h0m24 0h0m4 0h0m8 0h0m3 0h0m1 0h0m28 0h0m-149 1h0m18 0h0m7 0h0m7 0h0m12 0h0m3 0h0m3 0h0m16 0h0m5 0h0m3 0h0m3 0h0m4 0h0m1 0h0m7 0h0m6 0h0m10 0h0m6 0h0m12 0h0m10 0h0m-145 1h0m2 0h0m19 0h0m5 0h0m15 0h0m9 0h0m4 0h0m4 0h0m5 0h0m12 0h0m1 0h0m2 0h0m4 0h0m4 0h0m3 0h0m12 0h0m3 0h0m3 0h0m2 0h0m12 0h0m5 0h0m2 0h0m2 0h0m12 0h0m3 0h0m11 0h0m-139 1h0m10 0h0m1 0h0m3 0h0m7 0h0m1 0h0m8 0h0m15 0h0m12 0h0m4 0h0m26 0h0m18 0h0m13 0h0m14 0h0m4 0h0m-151 1h0m22 0h0m2 0h0m2 0h0m7 0h0m2 0h0m5 0h0m2 0h0m1 0h0m10 0h0m18 0h0m14 0h0m3 0h0m15 0h0m5 0h0m24 0h0m1 0h0m1 0h0m8 0h0m3 0h0m4 0h0m6 0h0m-133 1h0m3 0h0m9 0h0m5 0h0m1 0h0m5 0h0m4 0h0m15 0h0m11 0h0m2 0h0m4 0h0m2 0h0m4 0h0m2 0h0m26 0h0m6 0h0m11 0h0m6 0h0m9 0h0m-149 1h0m1 0h0m13 0h0m13 0h0m3 0h0m3 0h0m12 0h0m4 0h0m5 0h0m22 0h0m16 0h0m5 0h0m37 0h0m4 0h0m-127 1h0m16 0h0m17 0h0m8 0h0m1 0h0m2 0h0m8 0h0m1 0h0m13 0h0m8 0h0m1 0h0m4 0h0m11 0h0m16 0h0m20 0h0m13 0h0m-131 1h0m4 0h0m4 0h0m1 0h0m1 0h0m3 0h0m1 0h0m2 0h0m2 0h0m22 0h0m5 0h0m9 0h0m4 0h0m6 0h0m31 0h0m12 0h0m30 0h0m-118 1h0m17 0h0m22 0h0m1 0h0m2 0h0m11 0h0m8 0h0m31 0h0m1 0h0m1 0h0m15 0h0m1 0h0m8 0h0m-152 1h0m12 0h0m15 0h0m14 0h0m2 0h0m2 0h0m3 0h0m14 0h0m4 0h0m7 0h0m11 0h0m7 0h0m6 0h0m26 0h0m2 0h0m19 0h0m3 0h0m5 0h0m-145 1h0m10 0h0m8 0h0m13 0h0m4 0h0m5 0h0m10 0h0m4 0h0m5 0h0m5 0h0m6 0h0m6 0h0m34 0h0m7 0h0m4 0h0m7 0h0m6 0h0m2 0h0m-132 1h0m1 0h0m3 0h0m4 0h0m13 0h0m4 0h0m1 0h0m1 0h0m13 0h0m34 0h0m59 0h0m1 0h0m-103 1h0m5 0h0m8 0h0m4 0h0m5 0h0m8 0h0m1 0h0m12 0h0m12 0h0m21 0h0m14 0h0m4 0h0m1 0h0m3 0h0m1 0h0m-130 1h0m3 0h0m6 0h0m1 0h0m10 0h0m5 0h0m5 0h0m22 0h0m19 0h0m6 0h0m26 0h0m8 0h0m10 0h0m11 0h0m-134 1h0m15 0h0m3 0h0m2 0h0m3 0h0m4 0h0m16 0h0m4 0h0m2 0h0m6 0h0m5 0h0m8 0h0m5 0h0m2 0h0m10 0h0m12 0h0m9 0h0m13 0h0m4 0h0m-80 1h0m15 0h0m5 0h0m11 0h0m5 0h0m1 0h0m14 0h0m20 0h0m1 0h0m14 0h0m-125 1h0m7 0h0m4 0h0m15 0h0m14 0h0m3 0h0m4 0h0m1 0h0m1 0h0m3 0h0m2 0h0m4 0h0m3 0h0m12 0h0m10 0h0m13 0h0m19 0h0m-100 1h0m5 0h0m1 0h0m12 0h0m22 0h0m5 0h0m2 0h0m-67 1h0m5 0h0m28 0h0m2 0h0m6 0h0m2 0h0m9 0h0m3 0h0m7 0h0m9 0h0m1 0h0m15 0h0m11 0h0m8 0h0m-59 1h0m6 0h0m4 0h0m1 0h0m4 0h0m23 0h0m22 0h0m16 0h0m5 0h0m-86 1h0m18 0h0m3 0h0m6 0h0m5 0h0m11 0h0m12 0h0m-75 1h0m34 0h0m11 0h0m5 0h0m4 0h0m35 0h0m3 0h0m-102 1h0m6 0h0m12 0h0m14 0h0m14 0h0m6 0h0m2 0h0m1 0h0m6 0h0m2 0h0m1 0h0m5 0h0m15 0h0m-74 1h0m2 0h0m1 0h0m1 0h0m3 0h0m22 0h0m9 0h0m9 0h0m2 0h0m2 0h0m9 0h0m12 0h0m7 0h0m-74 1h0m8 0h0m3 0h0m1 0h0m1 0h0m10 0h0m2 0h0m2 0h0m1 0h0m3 0h0m27 0h0m4 0h0m6 0h0m19 0h0m1 0h0m-80 1h0m1 0h0m7 0h0m5 0h0m8 0h0m3 0h0m1 0h0m1 0h0m7 0h0m5 0h0m2 0h0m12 0h0m5 0h0m6 0h0m15 0h0m-68 1h0m4 0h0m6 0h0m3 0h0m6 0h0m14 0h0m13 0h0m2 0h0m15 0h0m8 0h0m-70 1h0m9 0h0m3 0h0m3 0h0m9 0h0m10 0h0m4 0h0m1 0h0m9 0h0m2 0h0m2 0h0m-50 1h0m6 0h0m4 0h0m10 0h0m5 0h0m1 0h0m10 0h0m1 0h0m1 0h0m2 0h0m3 0h0m7 0h0m-54 1h0m11 0h0m30 0h0m-50 1h0m8 0h0m2 0h0m10 0h0m36 0h0m-43 1h0m8 0h0m4 0h0m7 0h0m16 0h0m15 0h0m-15 1h0m7 1h0m-22 1h0m21 1h0m-8 1h0"/>
<path stroke="#e8c40a" d="M618 123h0m-26 2h0m19 0h0m3 0h0m-16 3h0m17 0h0m-20 1h0m6 0h0m16 0h0m-16 1h0m15 0h0m4 0h0m-17 1h0m5 0h0m5 0h0m8 0h0m-7 1h0m-3 1h0m-12 1h0m16 0h0m-17 1h0m11 0h0m-8 1h0m2 0h0m8 0h0m8 0h0m2 0h0m-26 1h0m6 0h0m6 0h0m4 0h0m6 0h0m-5 1h0m6 0h0m5 0h0m-23 1h0m12 0h0m3 0h0m5 0h0m1 0h0m-27 1h0m5 0h0m1 0h0m9 0h0m3 0h0m8 0h0m-25 1h0m2 0h0m14 0h0m10 0h0m-23 1h0m4 0h0m9 0h0m-16 1h0m1 0h0m1 0h0m2 0h0m22 0h0m-20 1h0m12 0h0m-13 1h0m19 0h0m1 0h0m1 0h0m1 0h0m-26 1h0m10 0h0m10 0h0m3 0h0m-9 1h0m9 0h0m6 0h0m-24 1h0m2 0h0m7 0h0m3 0h0m5 0h0m3 0h0m-27 1h0m2 0h0m1 0h0m15 0h0m-18 1h0m2 0h0m12 0h0m2 0h0m-4 1h0m2 0h0m6 0h0m3 0h0m-20 1h0m5 0h0m1 0h0m5 0h0m-9 1h0m13 0h0m-11 1h0m5 1h0m10 0h0m7 0h0m48 0h0m18 0h0m-94 1h0m17 0h0m55 0h0m23 0h0m-95 1h0m8 0h0m62 0h0m3 0h0m5 0h0m7 0h0m5 0h0m-85 1h0m7 0h0m18 0h0m28 0h0m8 0h0m18 0h0m4 0h0m5 0h0m-92 1h0m2 0h0m1 0h0m1 0h0m2 0h0m60 0h0m2 0h0m6 0h0m20 0h0m-96 1h0m3 0h0m3 0h0m8 0h0m20 0h0m27 0h0m14 0h0m3 0h0m6 0h0m3 0h0m7 0h0m-93 1h0m25 0h0m6 0h0m7 0h0m18 0h0m7 0h0m7 0h0m2 0h0m1 0h0m3 0h0m3 0h0m3 0h0m3 0h0m4 0h0m7 0h0m-93 1h0m34 0h0m1 0h0m16 0h0m12 0h0m2 0h0m11 0h0m-75 1h0m28 0h0m41 0h0m10 0h0m-79 1h0m5 0h0m1 0h0m40 0h0m2 0h0m15 0h0m15 0h0m1 0h0m8 0h0m4 0h0m-100 1h0m2 0h0m3 0h0m2 0h0m2 0h0m19 0h0m17 0h0m3 0h0m7 0h0m6 0h0m20 0h0m2 0h0m6 0h0m-84 1h0m3 0h0m6 0h0m28 0h0m3 0h0m1 0h0m6 0h0m1 0h0m18 0h0m9 0h0m4 0h0m8 0h0m-88 1h0m9 0h0m22 0h0m1 0h0m2 0h0m4 0h0m5 0h0m12 0h0m24 0h0m-80 1h0m6 0h0m3 0h0m4 0h0m1 0h0m29 0h0m4 0h0m1 0h0m8 0h0m16 0h0m4 0h0m4 0h0m7 0h0m-83 1h0m2 0h0m7 0h0m30 0h0m1 0h0m2 0h0m7 0h0m8 0h0m4 0h0m9 0h0m5 0h0m2 0h0m1 0h0m8 0h0m-94 1h0m5 0h0m6 0h0m3 0h0m3 0h0m7 0h0m1 0h0m20 0h0m9 0h0m17 0h0m1 0h0m6 0h0m13 0h0m-87 1h0m7 0h0m4 0h0m62 0h0m4 0h0m4 0h0m-77 1h0m1 0h0m12 0h0m15 0h0m9 0h0m9 0h0m17 0h0m2 0h0m16 0h0m1 0h0m-86 1h0m4 0h0m3 0h0m8 0h0m40 0h0m18 0h0m1 0h0m4 0h0m4 0h0m-84 1h0m8 0h0m4 0h0m4 0h0m8 0h0m7 0h0m18 0h0m6 0h0m8 0h0m8 0h0m11 0h0m6 0h0m-85 1h0m18 0h0m2 0h0m15 0h0m21 0h0m3 0h0m10 0h0m7 0h0m-79 1h0m5 0h0m15 0h0m7 0h0m40 0h0m3 0h0m-69 1h0m15 0h0m35 0h0m1 0h0m4 0h0m20 0h0m-76 1h0m5 0h0m8 0h0m23 0h0m18 0h0m12 0h0m-66 1h0m3 0h0m5 0h0m5 0h0m1 0h0m33 0h0m7 0h0m2 0h0m9 0h0m6 0h0m1 0h0m-69 1h0m9 0h0m3 0h0m7 0h0m31 0h0m3 0h0m4 0h0m1 0h0m3 0h0m-63 1h0m3 0h0m1 0h0m1 0h0m2 0h0m4 0h0m3 0h0m3 0h0m11 0h0m8 0h0m22 0h0m-56 1h0m9 0h0m21 0h0m7 0h0m-44 1h0m4 0h0m1 0h0m47 0h0m1 0h0m11 0h0m7 0h0m-59 1h0m5 0h0m4 0h0m3 0h0m17 0h0m21 0h0m-54 1h0m4 0h0m6 0h0m20 0h0m1 0h0m1 0h0m-34 1h0m4 0h0m10 0h0m5 0h0m3 0h0m1 0h0m10 0h0m9 0h0m-40 1h0m17 0h0m1 0h0m-16 1h0m6 0h0m15 0h0m6 0h0m11 0h0m-36 1h0m22 0h0m2 0h0m11 0h0m-19 1h0m8 0h0m-26 1h0m2 0h0m6 0h0m2 0h0m22 0h0m-21 1h0m6 0h0m13 0h0m6 0h0m-12 2h0m1 1h0m-17 1h0"/>
<path stroke="#cfe012" d="M643 225h0m-6 2h0m3 1h0m6 0h0m-1 1h0m-3 1h0m3 0h0m2 0h0m7 0h0m-11 1h0m10 0h0m4 0h0m-8 1h0m-12 1h0m4 0h0m9 0h0m5 0h0m-24 1h0m23 0h0m2 0h0m-31 1h0m7 0h0m9 0h0m11 0h0m5 0h0m-25 1h0m4 0h0m11 0h0m2 0h0m-21 1h0m1 0h0m17 0h0m3 0h0m7 0h0m12 0h0m-23 1h0m-5 1h0m2 0h0m24 0h0m-40 1h0m8 0h0m19 0h0m2 0h0m4 0h0m2 0h0m5 0h0m-38 1h0m14 0h0m14 0h0m6 0h0m-19 1h0m22 0h0m4 0h0m-45 1h0m1 0h0m16 0h0m6 0h0m29 0h0m10 0h0m-40 1h0m11 0h0m1 0h0m4 0h0m3 0h0m13 0h0m7 0h0m-28 1h0m5 0h0m-33 1h0m40 0h0m14 0h0m-41 1h0m1 0h0m15 0h0m3 0h0m13 0h0m3 0h0m1 0h0m8 0h0m-30 1h0m3 0h0m2 0h0m12 0h0m10 0h0m8 0h0m6 0h0m1 0h0m4 0h0m-78 1h0m8 0h0m30 0h0m37 0h0m-57 1h0m10 0h0m7 0h0m10 0h0m4 0h0m1 0h0m12 0h0m3 0h0m-43 1h0m21 0h0m2 0h0m6 0h0m5 0h0m5 0h0m3 0h0m2 0h0m1 0h0m2 0h0m8 0h0m-57 1h0m26 0h0m5 0h0m2 0h0m8 0h0m4 0h0m6 0h0m6 0h0m-49 1h0m13 0h0m19 0h0m7 0h0m-30 1h0m3 0h0m4 0h0m-27 1h0m38 0h0m8 0h0m9 0h0m15 0h0m-65 1h0m10 0h0m9 0h0m4 0h0m2 0h0m10 0h0m20 0h0m1 0h0m-59 1h0m25 0h0m5 0h0m21 0h0m1 0h0m4 0h0m5 0h0m-84 1h0m29 0h0m15 0h0m4 0h0m2 0h0m14 0h0m2 0h0m6 0h0m-67 1h0m22 0h0m18 0h0m4 0h0m1 0h0m17 0h0m15 0h0m2 0h0m-72 1h0m19 0h0m21 0h0m12 0h0m8 0h0m2 0h0m2 0h0m5 0h0m5 0h0m4 0h0m-55 1h0m8 0h0m10 0h0m16 0h0m9 0h0m1 0h0m8 0h0m-49 1h0m19 0h0m17 0h0m2 0h0m19 0h0m-98 1h0m9 0h0m9 0h0m5 0h0m3 0h0m22 0h0m1 0h0m9 0h0m6 0h0m1 0h0m1 0h0m14 0h0m2 0h0m1 0h0m15 0h0m-71 1h0m11 0h0m16 0h0m8 0h0m4 0h0m9 0h0m2 0h0m22 0h0m1 0h0m-84 1h0m5 0h0m26 0h0m5 0h0m5 0h0m22 0h0m9 0h0m6 0h0m4 0h0m-90 1h0m11 0h0m5 0h0m12 0h0m5 0h0m3 0h0m6 0h0m13 0h0m6 0h0m6 0h0m2 0h0m2 0h0m2 0h0m2 0h0m5 0h0m6 0h0m2 0h0m3 0h0m-98 1h0m30 0h0m35 0h0m5 0h0m10 0h0m13 0h0m-93 1h0m3 0h0m7 0h0m4 0h0m4 0h0m2 0h0m2 0h0m16 0h0m7 0h0m4 0h0m25 0h0m8 0h0m2 0h0m3 0h0m9 0h0m3 0h0m-89 1h0m13 0h0m31 0h0m5 0h0m18 0h0m14 0h0m10 0h0m-96 1h0m1 0h0m3 0h0m25 0h0m20 0h0m8 0h0m8 0h0m3 0h0m3 0h0m9 0h0m14 0h0m2 0h0m-101 1h0m3 0h0m6 0h0m4 0h0m13 0h0m2 0h0m1 0h0m2 0h0m2 0h0m3 0h0m3 0h0m11 0h0m2 0h0m30 0h0m18 0h0m-92 1h0m4 0h0m28 0h0m1 0h0m3 0h0m18 0h0m2 0h0m4 0h0m2 0h0m8 0h0m7 0h0m2 0h0m1 0h0m-91 1h0m6 0h0m8 0h0m2 0h0m7 0h0m1 0h0m13 0h0m30 0h0m1 0h0m9 0h0m1 0h0m1 0h0m26 0h0m-103 1h0m13 0h0m1 0h0m2 0h0m10 0h0m9 0h0m9 0h0m6 0h0m1 0h0m2 0h0m1 0h0m2 0h0m11 0h0m6 0h0m9 0h0m11 0h0m2 0h0m4 0h0m-98 1h0m28 0h0m28 0h0m1 0h0m8 0h0m1 0h0m10 0h0m16 0h0m-85 1h0m4 0h0m12 0h0m35 0h0m11 0h0m2 0h0m1 0h0m23 0h0m1 0h0m-88 1h0m1 0h0m7 0h0m3 0h0m4 0h0m14 0h0m12 0h0m2 0h0m1 0h0m7 0h0m1 0h0m4 0h0m2 0h0m8 0h0m-71 1h0m7 0h0m5 0h0m7 0h0m13 0h0m2 0h0m15 0h0m14 0h0m-72 1h0m12 0h0m11 0h0m2 0h0m2 0h0m15 0h0m10 0h0m2 0h0m1 0h0m4 0h0m6 0h0m4 0h0m35 0h0m3 0h0m1 0h0m-98 1h0m2 0h0m10 0h0m5 0h0m23 0h0m2 0h0m10 0h0m15 0h0m2 0h0m20 0h0m-104 1h0m7 0h0m19 0h0m4 0h0m2 0h0m11 0h0m2 0h0m3 0h0m12 0h0m1 0h0m9 0h0m21 0h0m14 0h0m4 0h0m-97 1h0m10 0h0m4 0h0m5 0h0m3 0h0m19 0h0m16 0h0m8 0h0m2 0h0m2 0h0m9 0h0m14 0h0m6 0h0m-106 1h0m4 0h0m9 0h0m3 0h0m3 0h0m13 0h0m2 0h0m9 0h0m1 0h0m37 0h0m8 0h0m13 0h0m-97 1h0m7 0h0m7 0h0m3 0h0m35 0h0m1 0h0m3 0h0m4 0h0m7 0h0m5 0h0m3 0h0m9 0h0m7 0h0m6 0h0m-90 1h0m13 0h0m1 0h0m9 0h0m2 0h0m12 0h0m5 0h0m4 0h0m2 0h0m17 0h0m1 0h0m4 0h0m5 0h0m5 0h0m-69 1h0m1 0h0m18 0h0m5 0h0m3 0h0m3 0h0m1 0h0m20 0h0m4 0h0m17 0h0m-95 1h0m6 0h0m2 0h0m1 0h0m9 0h0m2 0h0m8 0h0m4 0h0m48 0h0m2 0h0m23 0h0m-93 1h0m10 0h0m29 0h0m11 0h0m9 0h0m2 0h0m2 0h0m14 0h0m-90 1h0m3 0h0m9 0h0m4 0h0m4 0h0m7 0h0m1 0h0m13 0h0m18 0h0m11 0h0m2 0h0m7 0h0m2 0h0m-76 1h0m19 0h0m49 0h0m16 0h0m3 0h0m-94 1h0m11 0h0m14 0h0m4 0h0m15 0h0m5 0h0m27 0h0m2 0h0m11 0h0m3 0h0m7 0h0m5 0h0m-103 1h0m2 0h0m7 0h0m3 0h0m4 0h0m16 0h0m5 0h0m37 0h0m1 0h0m7 0h0m7 0h0m-89 1h0m8 0h0m3 0h0m3 0h0m56 0h0m1 0h0m2 0h0m2 0h0m5 0h0m3 0h0m-87 1h0m1 0h0m2 0h0m2 0h0m11 0h0m7 0h0m61 0h0m10 0h0m7 0h0m7 0h0m-110 1h0m2 0h0m3 0h0m8 0h0m4 0h0m22 0h0m34 0h0m2 0h0m3 0h0m6 0h0m6 0h0m5 0h0m2 0h0m-80 1h0m6 0h0m2 0h0m4 0h0m5 0h0m46 0h0m1 0h0m18 0h0m4 0h0m6 0h0m-104 1h0m1 0h0m7 0h0m2 0h0m4 0h0m6 0h0m17 0h0m37 0h0m16 0h0m7 0h0m3 0h0m-101 1h0m22 0h0m7 0h0m2 0h0m4 0h0m51 0h0m8 0h0m3 0h0m1 0h0m-98 1h0m2 0h0m9 0h0m16 0h0m54 0h0m1 0h0m-82 1h0m79 0h0m3 0h0m3 0h0m10 0h0m3 0h0m2 0h0m-91 1h0m1 0h0m74 0h0m5 0h0m-92 1h0m10 0h0m11 0h0m14 0h0m1 0h0m53 0h0m7 0h0m-95 1h0m2 0h0m12 0h0m4 0h0m15 0h0m49 0h0m15 0h0m4 0h0m4 0h0m-109 1h0m1 0h0m5 0h0m4 0h0m3 0h0m16 0h0m53 0h0m25 0h0m-97 1h0m7 0h0m18 0h0m51 0h0m8 0h0m1 0h0m-93 1h0m4 0h0m5 0h0m2 0h0m20 0h0m70 0h0m-91 1h0m4 0h0m2 0h0m15 0h0m74 0h0m-84 1h0m1 0h0m3 0h0m-16 1h0m2 0h0m1 0h0m7 0h0m8 0h0m-33 1h0m5 0h0m5 0h0m91 0h0m-94 1h0m7 0h0m6 0h0m11 0h0m-19 1h0m3 0h0m1 0h0m1 0h0m8 0h0m1 0h0m5 0h0m-12 1h0m8 0h0m6 0h0m-23 1h0m10 0h0m4 0h0m5 0h0m-26 1h0m12 0h0m6 0h0m1 0h0m7 0h0m7 0h0m-18 1h0m6 0h0m8 0h0m6 0h0m-17 1h0m2 0h0m6 0h0m-12 1h0m3 0h0m1 0h0m1 0h0m-9 1h0m2 0h0m-8 1h0m22 0h0m-17 1h0m3 1h0m1 1h0m13 0h0m-6 1h0"/>
<path stroke="#b8e030" d="M550 329h0m-2 2h0m-5 1h0m22 0h0m-26 1h0m2 0h0m19 0h0m8 1h0m-21 1h0m-7 1h0m20 0h0m1 0h0m-21 1h0m8 0h0m18 1h0m-30 1h0m3 0h0m6 0h0m5 0h0m5 0h0m4 0h0m-18 1h0m15 0h0m-6 1h0m13 0h0m-11 1h0m9 0h0m-12 2h0m-8 1h0m5 0h0m17 0h0m-12 1h0m5 0h0m-9 2h0"/>
<path stroke="#a8e028" d="M787 277h0m0 1h0m2 1h0m7 0h0m-14 1h0m2 0h0m4 0h0m-6 1h0m-1 1h0m0 1h0m5 0h0m2 0h0m-7 1h0m1 0h0m9 0h0m-9 1h0m4 0h0m8 0h0m-8 1h0m5 0h0m-3 1h0m2 1h0m-4 1h0m10 0h0m-11 1h0m0 1h0m-5 1h0m10 0h0m1 0h0m-8 1h0m9 0h0m-5 1h0m3 0h0m-8 2h0m7 0h0m4 1h0m-7 1h0m8 0h0m-4 1h0m2 0h0m-2 5h0m0 2h0m1 3h0m3 1h0m1 0h0m-8 2h0m3 0h0m4 0h0m-13 2h0m12 0h0m2 1h0m3 0h0m-19 1h0m9 0h0m3 0h0m6 0h0m5 0h0m-11 1h0m2 0h0m11 0h0m-21 1h0m9 0h0m1 0h0m3 0h0m2 1h0m2 0h0m-12 1h0m25 1h0m3 0h0m-39 1h0m26 0h0m16 0h0m-55 1h0m13 0h0m9 0h0m9 0h0m2 0h0m4 0h0m2 0h0m32 0h0m-75 1h0m8 0h0m1 0h0m27 0h0m3 0h0m2 0h0m7 0h0m1 0h0m-41 1h0m21 0h0m10 0h0m2 0h0m3 0h0m3 0h0m8 0h0m12 0h0m-55 1h0m2 0h0m3 0h0m8 0h0m4 0h0m8 0h0m1 0h0m5 0h0m2 0h0m5 0h0m1 0h0m-45 1h0m1 0h0m4 0h0m14 0h0m5 0h0m2 0h0m21 0h0m14 0h0m7 0h0m5 0h0m-68 1h0m20 0h0m7 0h0m3 0h0m3 0h0m37 0h0m3 0h0m-53 1h0m17 0h0m6 0h0m-55 1h0m10 0h0m2 0h0m10 0h0m3 0h0m4 0h0m5 0h0m1 0h0m3 0h0m13 0h0m2 0h0m8 0h0m-38 1h0m7 0h0m6 0h0m12 0h0m9 0h0m5 0h0m8 0h0m7 0h0m-81 1h0m13 0h0m7 0h0m10 0h0m2 0h0m4 0h0m2 0h0m3 0h0m11 0h0m16 0h0m7 0h0m5 0h0m-69 1h0m19 0h0m13 0h0m4 0h0m8 0h0m1 0h0m9 0h0m1 0h0m14 0h0m4 0h0m-77 1h0m7 0h0m12 0h0m7 0h0m6 0h0m14 0h0m2 0h0m5 0h0m1 0h0m4 0h0m6 0h0m13 0h0m-81 1h0m1 0h0m1 0h0m6 0h0m10 0h0m3 0h0m2 0h0m3 0h0m6 0h0m2 0h0m8 0h0m3 0h0m22 0h0m1 0h0m11 0h0m4 0h0m1 0h0m-72 1h0m20 0h0m5 0h0m4 0h0m2 0h0m9 0h0m12 0h0m13 0h0m-76 1h0m18 0h0m4 0h0m1 0h0m5 0h0m10 0h0m1 0h0m3 0h0m3 0h0m27 0h0m-63 1h0m3 0h0m4 0h0m7 0h0m1 0h0m6 0h0m1 0h0m5 0h0m35 0h0m-40 1h0m2 0h0m3 0h0m1 0h0m8 0h0m3 0h0m11 0h0m13 0h0m-76 1h0m9 0h0m5 0h0m5 0h0m1 0h0m4 0h0m3 0h0m4 0h0m10 0h0m23 0h0m3 0h0m14 0h0m-75 1h0m17 0h0m11 0h0m2 0h0m3 0h0m2 0h0m7 0h0m-51 1h0m6 0h0m9 0h0m6 0h0m6 0h0m7 0h0m1 0h0m5 0h0m4 0h0m5 0h0m7 0h0m3 0h0m13 0h0m6 0h0m7 0h0m-83 1h0m8 0h0m5 0h0m6 0h0m11 0h0m3 0h0m2 0h0m1 0h0m1 0h0m10 0h0m8 0h0m10 0h0m3 0h0m6 0h0m-64 1h0m14 0h0m13 0h0m1 0h0m10 0h0m18 0h0m7 0h0m16 0h0m-85 1h0m1 0h0m7 0h0m9 0h0m3 0h0m3 0h0m3 0h0m19 0h0m1 0h0m5 0h0m5 0h0m3 0h0m4 0h0m9 0h0m2 0h0m-74 1h0m1 0h0m3 0h0m9 0h0m3 0h0m10 0h0m10 0h0m19 0h0m9 0h0m1 0h0m4 0h0m5 0h0m5 0h0m-82 1h0m1 0h0m2 0h0m1 0h0m2 0h0m6 0h0m2 0h0m8 0h0m2 0h0m26 0h0m19 0h0m15 0h0m-81 1h0m9 0h0m2 0h0m9 0h0m2 0h0m4 0h0m3 0h0m2 0h0m3 0h0m15 0h0m2 0h0m-49 1h0m10 0h0m17 0h0m9 0h0m5 0h0m4 0h0m28 0h0m-64 1h0m6 0h0m3 0h0m3 0h0m13 0h0m1 0h0m1 0h0m2 0h0m6 0h0m14 0h0m4 0h0m1 0h0m11 0h0m-78 1h0m1 0h0m21 0h0m12 0h0m5 0h0m12 0h0m2 0h0m3 0h0m8 0h0m1 0h0m4 0h0m-49 1h0m1 0h0m14 0h0m2 0h0m10 0h0m8 0h0m2 0h0m3 0h0m-55 1h0m11 0h0m7 0h0m9 0h0m17 0h0m9 0h0m5 0h0m4 0h0m-49 1h0m21 0h0m1 0h0m6 0h0m4 0h0m2 0h0m14 0h0m-63 1h0m8 0h0m11 0h0m1 0h0m1 0h0m5 0h0m7 0h0m5 0h0m8 0h0m7 0h0m5 0h0m3 0h0m1 0h0m8 0h0m-66 1h0m5 0h0m7 0h0m4 0h0m2 0h0m1 0h0m6 0h0m37 0h0m-42 1h0m13 0h0m11 0h0m1 0h0m6 0h0m4 0h0m3 0h0m-53 1h0m5 0h0m1 0h0m16 0h0m20 0h0m7 0h0m3 0h0m-57 1h0m14 0h0m7 0h0m5 0h0m14 0h0m2 0h0m4 0h0m10 0h0m-53 1h0m11 0h0m3 0h0m1 0h0m1 0h0m4 0h0m12 0h0m7 0h0m3 0h0m3 0h0m3 0h0m-37 1h0m1 0h0m11 0h0m1 0h0m10 0h0m8 0h0m12 0h0m7 0h0m-53 1h0m4 0h0m17 0h0m9 0h0m3 0h0m6 0h0m4 0h0m-43 1h0m1 0h0m3 0h0m18 0h0m8 0h0m8 0h0m-44 1h0m12 0h0m6 0h0m1 0h0m1 0h0m2 0h0m19 0h0m6 0h0m7 0h0m-22 1h0m15 0h0m21 0h0m-54 1h0m30 0h0m1 0h0m5 0h0m2 0h0m-31 1h0m4 0h0m5 0h0m9 0h0m2 0h0m13 0h0m-23 1h0m10 0h0m-6 1h0m2 1h0m1 0h0"/>
<path stroke="#84e044" d="M760 378h0m9 0h0m8 0h0m-6 1h0m2 0h0m4 0h0m-7 1h0m10 0h0m-14 1h0m6 0h0m8 0h0m-26 1h0m10 0h0m2 0h0m1 0h0m8 0h0m5 0h0m-20 1h0m6 0h0m7 0h0m4 0h0m8 0h0m-20 1h0m27 0h0m-40 1h0m6 0h0m2 0h0m5 0h0m2 0h0m1 0h0m3 0h0m4 0h0m1 0h0m1 0h0m2 0h0m8 0h0m1 0h0m3 0h0m-30 1h0m16 0h0m1 0h0m5 0h0m1 0h0m5 0h0m-36 1h0m4 0h0m8 0h0m3 0h0m2 0h0m15 0h0m1 0h0m4 0h0m-43 1h0m5 0h0m2 0h0m9 0h0m26 0h0m-26 1h0m32 0h0m-46 1h0m11 0h0m5 0h0m4 0h0m10 0h0m8 0h0m9 0h0m4 0h0m-52 1h0m2 0h0m9 0h0m29 0h0m3 0h0m3 0h0m-45 1h0m5 0h0m11 0h0m9 0h0m9 0h0m6 0h0m-36 1h0m4 0h0m11 0h0m16 0h0m3 0h0m3 0h0m-54 1h0m12 0h0m1 0h0m11 0h0m5 0h0m2 0h0m10 0h0m11 0h0m8 0h0m-47 1h0m14 0h0m5 0h0m5 0h0m28 0h0m-55 1h0m5 0h0m1 0h0m9 0h0m6 0h0m5 0h0m9 0h0m7 0h0m2 0h0m3 0h0m1 0h0m1 0h0m3 0h0m-65 1h0m12 0h0m2 0h0m2 0h0m12 0h0m10 0h0m21 0h0m3 0h0m2 0h0m2 0h0m1 0h0m-67 1h0m18 0h0m1 0h0m4 0h0m8 0h0m29 0h0m5 0h0m-32 1h0m2 0h0m4 0h0m10 0h0m11 0h0m1 0h0m1 0h0m2 0h0m2 0h0m4 0h0m-63 1h0m3 0h0m13 0h0m1 0h0m19 0h0m15 0h0m11 0h0m-63 1h0m1 0h0m5 0h0m9 0h0m10 0h0m8 0h0m3 0h0m2 0h0m3 0h0m8 0h0m4 0h0m8 0h0m2 0h0m-59 1h0m6 0h0m18 0h0m1 0h0m8 0h0m9 0h0m3 0h0m5 0h0m6 0h0m-57 1h0m1 0h0m7 0h0m3 0h0m2 0h0m7 0h0m1 0h0m11 0h0m2 0h0m1 0h0m12 0h0m12 0h0m-40 1h0m7 0h0m5 0h0m5 0h0m8 0h0m12 0h0m-60 1h0m27 0h0m38 0h0m-68 1h0m9 0h0m5 0h0m4 0h0m16 0h0m2 0h0m1 0h0m5 0h0m6 0h0m5 0h0m3 0h0m2 0h0m-36 1h0m12 0h0m15 0h0m1 0h0m8 0h0m9 0h0m-67 1h0m11 0h0m1 0h0m15 0h0m9 0h0m22 0h0m3 0h0m6 0h0m4 0h0m-58 1h0m21 0h0m11 0h0m5 0h0m8 0h0m1 0h0m-31 1h0m5 0h0m19 0h0m6 0h0m2 0h0m-14 1h0m7 0h0m10 0h0m-24 1h0m10 0h0m4 0h0m1 0h0m7 0h0m2 0h0m1 0h0m11 0h0m-35 1h0m2 0h0m12 0h0m7 0h0m2 0h0m2 0h0m8 0h0m-44 1h0m3 0h0m6 0h0m7 0h0m4 0h0m3 0h0m16 0h0m5 0h0m-67 1h0m32 0h0m1 0h0m10 0h0m13 0h0m4 0h0m2 0h0m-61 1h0m35 0h0m5 0h0m16 0h0m12 0h0m-40 1h0m7 0h0m11 0h0m16 0h0m4 0h0m-23 1h0m1 0h0m1 0h0m1 0h0m7 0h0m19 0h0m-51 1h0m20 0h0m1 0h0m8 0h0m1 0h0m4 0h0m1 0h0m1 0h0m5 0h0m6 0h0m-56 1h0m10 0h0m12 0h0m1 0h0m2 0h0m20 0h0m18 0h0m-57 1h0m21 0h0m14 0h0m1 0h0m4 0h0m1 0h0m6 0h0m1 0h0m10 0h0m-32 1h0m1 0h0m3 0h0m1 0h0m1 0h0m7 0h0m-32 1h0m7 0h0m16 0h0m2 0h0m3 0h0m12 0h0m-47 1h0m23 0h0m14 0h0m-25 1h0m4 0h0m5 0h0m4 0h0m14 0h0m7 0h0m2 0h0m3 0h0m2 0h0m-44 1h0m5 0h0m31 0h0m7 0h0m2 0h0m6 0h0m-41 1h0m4 0h0m5 0h0m5 0h0m1 0h0m4 0h0m1 0h0m-16 1h0m24 0h0m-32 1h0m3 0h0m6 0h0m14 0h0m-32 1h0m7 0h0m3 0h0m5 0h0m20 0h0m4 0h0m1 0h0m8 0h0m-28 1h0m15 0h0m4 0h0m3 0h0m1 0h0m-31 1h0m3 0h0m3 0h0m1 0h0m16 0h0m2 0h0m1 0h0m-13 1h0m2 0h0m15 0h0m-37 1h0m6 0h0m2 0h0m7 0h0m2 0h0m16 0h0m-20 1h0m2 0h0m6 0h0m11 0h0m9 0h0m-46 1h0m10 0h0m10 0h0m2 0h0m12 0h0m3 0h0m1 0h0m-38 1h0m1 0h0m16 0h0m7 0h0m4 0h0m5 0h0m1 0h0m-31 1h0m9 0h0m10 0h0m3 0h0m6 0h0m9 0h0m7 0h0m-15 1h0m3 0h0m13 0h0m-43 1h0m19 0h0m5 0h0m-26 1h0m15 0h0m2 0h0m14 0h0m4 0h0m1 0h0m4 0h0m-45 1h0m11 0h0m5 0h0m5 0h0m13 0h0m-26 1h0m4 0h0m8 0h0m16 0h0m-21 1h0m2 0h0m3 0h0m5 0h0m1 0h0m6 0h0m5 0h0m3 0h0m-34 1h0m12 0h0m12 0h0m6 0h0m1 0h0m8 0h0m-38 1h0m8 0h0m2 0h0m5 0h0m9 0h0m15 0h0m-31 1h0m9 0h0m1 0h0m14 0h0m1 0h0m2 0h0m6 0h0m-39 1h0m13 0h0m2 0h0m10 0h0m1 0h0m3 0h0m3 1h0m-30 1h0m17 0h0m13 0h0m-23 1h0m9 0h0m3 0h0m5 0h0m8 0h0m-33 1h0m3 0h0m4 0h0m11 0h0m-18 1h0m5 0h0m1 0h0m1 0h0m6 0h0m1 0h0m16 0h0m-18 1h0m9 1h0m3 0h0m7 1h0m-14 1h0m8 0h0m-19 1h0m2 0h0m18 0h0m-11 1h0m7 0h0m4 1h0"/>
<path stroke="#5ce068" d="M695 494h0m13 0h0m-19 1h0m14 0h0m-3 1h0m4 0h0m-18 1h0m5 0h0m2 0h0m5 0h0m2 0h0m5 0h0m1 0h0m-19 1h0m5 0h0m5 0h0m6 1h0m-8 1h0m8 0h0m-13 1h0m-6 1h0m4 0h0m8 0h0m-12 1h0m3 0h0m2 0h0m15 0h0m1 0h0m4 0h0m-27 1h0m4 0h0m9 0h0m4 0h0m4 0h0m-12 1h0m6 0h0m11 0h0m-30 1h0m8 0h0m3 0h0m2 0h0m4 0h0m-14 1h0m10 0h0m1 0h0m8 0h0m1 0h0m8 0h0m-17 1h0m1 0h0m9 0h0m7 0h0m-29 1h0m3 0h0m9 0h0m10 0h0m-23 1h0m27 0h0m7 0h0m-25 1h0m-8 1h0m21 0h0m3 0h0m1 0h0m6 0h0m-30 1h0m8 0h0m7 0h0m5 0h0m6 0h0m-10 1h0m2 0h0m-3 1h0m7 0h0m6 0h0m1 0h0m-33 1h0m1 0h0m4 0h0m5 0h0m1 0h0m8 0h0m7 0h0m2 0h0m3 0h0m-32 1h0m19 0h0m11 0h0m3 0h0m1 0h0m-15 1h0m11 0h0m7 0h0m-36 1h0m7 0h0m13 0h0m14 0h0m2 0h0m-17 1h0m15 0h0m-23 1h0m5 0h0m11 0h0m8 0h0m1 0h0m-42 1h0m21 0h0m10 0h0m12 0h0m-41 1h0m10 0h0m17 0h0m3 0h0m3 0h0m5 0h0m-31 1h0m1 1h0m26 0h0m1 0h0m5 0h0m-29 1h0m27 0h0m1 0h0m-35 1h0m8 0h0m21 0h0m-27 1h0m9 0h0m1 0h0m18 0h0m1 0h0m-34 1h0m20 0h0m14 0h0m6 0h0m-35 1h0m13 0h0m9 0h0m2 0h0m1 0h0m0 1h0m4 0h0m7 0h0m-36 1h0m17 0h0m8 0h0m4 0h0m3 0h0m-17 1h0m5 0h0m2 0h0m3 0h0m-26 1h0m21 0h0m7 0h0m-4 1h0m2 0h0m-19 1h0m2 0h0m8 0h0m2 0h0m7 0h0m3 0h0m7 0h0m-26 1h0m16 0h0m-20 1h0m13 0h0m6 0h0m-3 1h0m-21 1h0m22 0h0m0 1h0m2 0h0m4 1h0m-6 1h0"/>
<path stroke="#3ee08c" d="M681 56h0m-7 5h0m-1 1h0m3 0h0m2 0h0m3 0h0m-6 1h0m-4 1h0m7 0h0m2 0h0m2 0h0m-5 1h0m5 0h0m8 0h0m-18 2h0m6 1h0m2 0h0m0 2h0m-5 1h0m7 0h0m6 0h0m4 0h0m-18 1h0m9 0h0m14 0h0m-22 1h0m8 0h0m-15 1h0m25 0h0m7 0h0m-16 1h0m2 0h0m1 0h0m9 0h0m7 0h0m-34 1h0m2 1h0m18 0h0m2 0h0m-7 1h0m12 0h0m-22 1h0m3 0h0m1 0h0m14 0h0m12 0h0m1 0h0m3 0h0m-36 1h0m6 0h0m8 0h0m12 0h0m4 0h0m-24 1h0m20 0h0m-20 1h0m1 0h0m3 0h0m4 0h0m2 0h0m7 0h0m5 0h0m2 0h0m4 0h0m-31 1h0m3 0h0m7 0h0m6 0h0m4 0h0m1 0h0m2 0h0m5 0h0m1 0h0m1 0h0m-31 1h0m10 0h0m2 0h0m7 0h0m5 0h0m2 0h0m7 0h0m-23 1h0m1 0h0m12 0h0m1 0h0m6 0h0m1 0h0m-29 1h0m1 0h0m2 0h0m5 0h0m1 0h0m1 0h0m7 0h0m4 0h0m2 0h0m2 0h0m-9 1h0m2 0h0m1 0h0m1 0h0m-8 1h0m11 0h0m2 0h0m-18 1h0m1 0h0m4 0h0m5 0h0m-16 1h0m1 0h0m2 0h0m9 0h0m-7 1h0m13 0h0m5 0h0m2 0h0m-9 2h0m10 0h0m-26 1h0m9 0h0m4 0h0m6 0h0m3 0h0m-10 1h0m1 0h0m5 0h0m-1 1h0"/>
<path stroke="#30e0b8" d="M677 383h0m4 3h0m13 0h0m-30 1h0m8 0h0m4 0h0m1 0h0m11 0h0m-22 1h0m4 0h0m1 0h0m8 0h0m-7 1h0m6 0h0m4 0h0m3 0h0m1 0h0m4 0h0m2 0h0m3 0h0m-24 1h0m3 0h0m2 0h0m5 0h0m5 0h0m1 0h0m8 0h0m-19 1h0m3 0h0m9 0h0m8 0h0m13 0h0m-39 1h0m5 0h0m4 0h0m1 0h0m4 0h0m4 0h0m6 0h0m4 0h0m6 0h0m1 0h0m-45 1h0m7 0h0m3 0h0m2 0h0m8 0h0m4 0h0m6 0h0m2 0h0m2 0h0m2 0h0m12 0h0m2 0h0m-48 1h0m6 0h0m1 0h0m16 0h0m4 0h0m3 0h0m3 0h0m4 0h0m7 0h0m-47 1h0m6 0h0m2 0h0m11 0h0m7 0h0m10 0h0m7 0h0m9 0h0m-47 1h0m4 0h0m1 0h0m4 0h0m27 0h0m-33 1h0m6 0h0m3 0h0m5 0h0m7 0h0m4 0h0m2 0h0m5 0h0m6 0h0m7 0h0m1 0h0m-51 1h0m5 0h0m1 0h0m1 0h0m4 0h0m3 0h0m17 0h0m-34 1h0m12 0h0m7 0h0m2 0h0m1 0h0m2 0h0m10 0h0m2 0h0m4 0h0m17 0h0m-57 1h0m3 0h0m7 0h0m1 0h0m9 0h0m1 0h0m11 0h0m5 0h0m1 0h0m9 0h0m-43 1h0m5 0h0m10 0h0m2 0h0m14 0h0m-33 1h0m9 0h0m2 0h0m18 0h0m25 0h0m-41 1h0m1 0h0m6 0h0m1 0h0m2 0h0m1 0h0m16 0h0m-38 1h0m8 0h0m4 0h0m1 0h0m15 0h0m5 0h0m14 0h0m-55 1h0m10 0h0m3 0h0m1 0h0m3 0h0m8 0h0m4 0h0m8 0h0m1 0h0m15 0h0m4 0h0m-53 1h0m2 0h0m3 0h0m1 0h0m7 0h0m1 0h0m8 0h0m9 0h0m3 0h0m-33 1h0m1 0h0m3 0h0m18 0h0m2 0h0m9 0h0m-29 1h0m15 0h0m8 0h0m2 0h0m11 0h0m-31 1h0m10 0h0m2 0h0m6 0h0m3 0h0m3 0h0m2 0h0m13 0h0m-35 1h0m7 0h0m1 0h0m3 0h0m1 0h0m1 0h0m7 0h0m-32 1h0m36 0h0m-35 1h0m2 0h0m2 0h0m15 0h0m9 0h0m10 0h0m-33 1h0m2 0h0m6 0h0m-7 1h0m2 0h0m1 0h0m13 0h0m4 0h0m9 0h0m4 0h0m-34 1h0m5 0h0m14 0h0m1 0h0m1 0h0m2 0h0m-25 1h0m3 0h0m5 0h0m5 0h0m3 0h0m10 0h0m-11 1h0m10 0h0m5 0h0m-29 1h0m4 0h0m9 0h0m8 0h0m4 0h0m1 0h0m-27 1h0m21 0h0m1 0h0m5 0h0m-16 1h0m10 0h0m-5 1h0m10 1h0m-9 1h0"/>
<path stroke="#1cd0d8" d="M414 331h0m7 2h0m2 0h0m-3 1h0m5 0h0m-10 1h0m6 0h0m6 0h0m17 0h0m4 0h0m8 0h0m1 0h0m-48 1h0m6 0h0m1 0h0m7 0h0m-9 1h0m3 0h0m12 0h0m19 0h0m1 0h0m5 0h0m1 0h0m2 0h0m-43 1h0m2 1h0m49 0h0m-46 1h0m5 0h0m27 0h0m5 0h0m-49 2h0m5 0h0m1 0h0m16 0h0m1 0h0m11 0h0m10 0h0m-41 1h0m27 0h0m21 0h0m-33 1h0m26 0h0m1 0h0m16 0h0m-37 1h0m21 0h0m-37 1h0m25 0h0m4 0h0m4 0h0m1 0h0m5 0h0m9 0h0m2 0h0m1 0h0m-54 1h0m1 0h0m23 0h0m11 0h0m5 0h0m5 0h0m1 0h0m3 0h0m-45 1h0m7 0h0m16 0h0m13 0h0m-41 1h0m36 0h0m2 0h0m3 0h0m1 0h0m1 0h0m16 0h0m-20 1h0m11 0h0m1 0h0m-45 1h0m30 0h0m3 0h0m-28 1h0m1 0h0m17 0h0m3 0h0m10 0h0m-37 1h0m17 0h0m4 0h0m6 0h0m7 0h0m16 0h0m-12 1h0m10 0h0m-26 1h0m6 0h0m1 0h0m4 0h0m1 0h0m17 0h0m-55 1h0m3 0h0m5 0h0m38 0h0m1 0h0m3 0h0m2 0h0m6 0h0m-56 1h0m5 0h0m16 0h0m22 0h0m13 0h0m-24 1h0m11 0h0m2 0h0m5 0h0m-44 1h0m21 0h0m6 0h0m-26 1h0m16 0h0m2 0h0m3 0h0m6 0h0m2 0h0m4 0h0m2 0h0m1 0h0m1 0h0m1 0h0m9 0h0m-44 1h0m1 0h0m2 0h0m1 0h0m12 0h0m1 0h0m3 0h0m5 0h0m11 0h0m-34 1h0m22 0h0m5 0h0m1 0h0m-34 1h0m8 0h0m23 0h0m2 0h0m-30 1h0m2 0h0m5 0h0m5 0h0m3 0h0m2 0h0m8 0h0m12 0h0m-40 1h0m4 0h0m12 0h0m2 0h0m3 0h0m-15 1h0m10 0h0m7 0h0m8 0h0m-18 1h0m8 0h0m3 0h0m2 0h0m3 0h0m-19 1h0m7 0h0m4 0h0m1 0h0m1 0h0m8 0h0m6 0h0m-31 1h0m6 0h0m2 0h0m8 0h0m1 0h0m2 0h0m8 0h0m1 0h0m-27 1h0m10 0h0m2 0h0m3 0h0m2 0h0m1 0h0m1 0h0m4 0h0m-18 1h0m1 0h0m7 0h0m-5 1h0m-4 1h0m4 0h0m2 0h0m5 0h0m9 0h0m-22 1h0m8 0h0m3 0h0m-6 1h0m10 0h0m4 0h0m-6 1h0m1 1h0m-6 1h0m5 1h0"/>
<path stroke="#1aa8e8" d="M317 328h0m1 1h0m-1 1h0m-4 2h0m2 0h0m3 1h0m-6 1h0m1 0h0m9 0h0m-7 2h0m5 1h0m-3 1h0m1 1h0m-8 1h0m-1 2h0m5 0h0m-5 1h0m5 0h0m1 0h0m3 0h0m-8 1h0m5 0h0m-9 1h0m2 0h0m3 0h0m1 0h0m-9 1h0m1 0h0m4 0h0m1 0h0m5 0h0m-8 1h0m4 0h0m3 0h0m-6 1h0m5 0h0m1 1h0m-15 1h0m3 0h0m1 1h0m9 0h0m-11 1h0m2 0h0m1 0h0m9 0h0m-16 1h0m4 1h0m2 0h0m1 0h0m-5 1h0m2 0h0m8 0h0m-9 1h0m8 0h0m6 0h0m-24 1h0m11 0h0m3 0h0m-14 1h0m8 0h0m1 0h0m-15 1h0m7 0h0m3 0h0m1 0h0m6 0h0m-2 1h0m-8 1h0m8 0h0m-14 1h0m6 0h0m0 1h0m6 0h0m-6 1h0m-9 1h0m-8 1h0m12 1h0"/>
<path stroke="#1088f0" d="M233 307h0m-12 2h0m12 0h0m-4 1h0m-7 3h0m-11 1h0m4 0h0m7 0h0m-3 1h0m1 0h0m3 0h0m-12 1h0m5 0h0m1 0h0m6 0h0m-12 1h0m8 0h0m3 0h0m-13 1h0m1 0h0m5 0h0m2 0h0m1 0h0m6 0h0m1 0h0m-14 1h0m1 0h0m1 0h0m4 0h0m2 0h0m1 0h0m3 0h0m2 0h0m-4 1h0m7 0h0m-19 1h0m4 0h0m8 0h0m3 0h0m-4 1h0m-4 1h0m11 0h0m-12 1h0m2 1h0m11 1h0m-5 1h0"/>
<path stroke="#1060f0" d="M460 413h0m0 1h0m-2 2h0m2 0h0m1 0h0m5 1h0m-11 1h0m7 0h0m3 1h0m-5 1h0m-10 1h0m19 0h0m-10 1h0m3 0h0m-4 1h0m2 1h0m6 0h0m-12 1h0m6 0h0m5 0h0m-13 1h0m4 0h0m5 0h0m2 0h0m3 0h0m1 0h0m-7 1h0m-6 1h0m1 0h0m1 0h0m-13 1h0m1 0h0m5 0h0m7 0h0m3 0h0m1 0h0m3 0h0m-16 1h0m14 0h0m3 0h0m-15 1h0m10 0h0m-13 1h0m2 0h0m2 0h0m8 0h0m6 0h0m-47 1h0m26 0h0m20 0h0m-24 1h0m2 0h0m2 0h0m8 0h0m1 0h0m-33 1h0m12 0h0m2 0h0m15 0h0m1 0h0m1 0h0m2 0h0m20 0h0m-60 1h0m28 0h0m8 0h0m7 0h0m9 0h0m-21 1h0m1 0h0m9 0h0m2 0h0m6 0h0m-44 1h0m9 0h0m1 0h0m10 0h0m26 0h0m-65 1h0m10 0h0m45 0h0m2 0h0m13 0h0m-68 1h0m4 0h0m1 0h0m35 0h0m8 0h0m4 0h0m10 0h0m3 0h0m2 0h0m11 0h0m-64 1h0m12 0h0m8 0h0m5 0h0m1 0h0m11 0h0m8 0h0m6 0h0m14 0h0m-76 1h0m35 0h0m12 0h0m6 0h0m13 0h0m-72 1h0m3 0h0m5 0h0m30 0h0m1 0h0m25 0h0m-64 1h0m10 0h0m19 0h0m11 0h0m4 0h0m25 0h0m1 0h0m21 0h0m1 0h0m1 0h0m-89 1h0m2 0h0m22 0h0m17 0h0m9 0h0m17 0h0m7 0h0m18 0h0m-75 1h0m5 0h0m12 0h0m2 0h0m1 0h0m11 0h0m1 0h0m16 0h0m1 0h0m1 0h0m3 0h0m4 0h0m-79 1h0m40 0h0m10 0h0m5 0h0m3 0h0m-54 1h0m1 0h0m16 0h0m6 0h0m6 0h0m2 0h0m2 0h0m9 0h0m5 0h0m5 0h0m12 0h0m2 0h0m1 0h0m1 0h0m1 0h0m2 0h0m12 0h0m8 0h0m-97 1h0m10 0h0m1 0h0m19 0h0m4 0h0m14 0h0m9 0h0m1 0h0m-56 1h0m55 0h0m10 0h0m13 0h0m24 0h0m-96 1h0m1 0h0m3 0h0m13 0h0m7 0h0m5 0h0m1 0h0m12 0h0m11 0h0m14 0h0m12 0h0m1 0h0m1 0h0m-90 1h0m37 0h0m5 0h0m2 0h0m4 0h0m16 0h0m1 0h0m7 0h0m2 0h0m24 0h0m-91 1h0m12 0h0m15 0h0m7 0h0m7 0h0m1 0h0m2 0h0m5 0h0m7 0h0m12 0h0m2 0h0m17 0h0m-92 1h0m12 0h0m3 0h0m3 0h0m5 0h0m11 0h0m40 0h0m8 0h0m16 0h0m-94 1h0m9 0h0m8 0h0m7 0h0m2 0h0m14 0h0m9 0h0m4 0h0m5 0h0m6 0h0m2 0h0m5 0h0m12 0h0m21 0h0m-101 1h0m23 0h0m9 0h0m19 0h0m4 0h0m3 0h0m8 0h0m3 0h0m3 0h0m11 0h0m2 0h0m-82 1h0m1 0h0m1 0h0m3 0h0m1 0h0m10 0h0m2 0h0m5 0h0m3 0h0m12 0h0m1 0h0m11 0h0m2 0h0m4 0h0m1 0h0m16 0h0m-69 1h0m9 0h0m5 0h0m6 0h0m4 0h0m3 0h0m2 0h0m14 0h0m6 0h0m1 0h0m6 0h0m3 0h0m1 0h0m3 0h0m-69 1h0m32 0h0m13 0h0m13 0h0m7 0h0m3 0h0m6 0h0m-73 1h0m5 0h0m2 0h0m9 0h0m12 0h0m1 0h0m1 0h0m5 0h0m21 0h0m1 0h0m6 0h0m2 0h0m5 0h0m-39 1h0m23 0h0m2 0h0m15 0h0m2 0h0m2 0h0m1 0h0m-71 1h0m6 0h0m16 0h0m9 0h0m12 0h0m6 0h0m10 0h0m1 0h0m4 0h0m-66 1h0m8 0h0m22 0h0m7 0h0m5 0h0m3 0h0m5 0h0m6 0h0m10 0h0m2 0h0m6 0h0m-67 1h0m5 0h0m12 0h0m4 0h0m11 0h0m10 0h0m3 0h0m11 0h0m-67 1h0m6 0h0m8 0h0m6 0h0m3 0h0m4 0h0m2 0h0m5 0h0m18 0h0m9 0h0m-63 1h0m1 0h0m16 0h0m6 0h0m24 0h0m3 0h0m1 0h0m1 0h0m4 0h0m3 0h0m-57 1h0m19 0h0m6 0h0m2 0h0m16 0h0m10 0h0m9 0h0m2 0h0m3 0h0m6 0h0m-70 1h0m8 0h0m11 0h0m16 0h0m15 0h0m12 0h0m5 0h0m6 0h0m-75 1h0m4 0h0m10 0h0m22 0h0m19 0h0m4 0h0m4 0h0m2 0h0m10 0h0m-75 1h0m4 0h0m5 0h0m4 0h0m1 0h0m38 0h0m6 0h0m1 0h0m6 0h0m-59 1h0m2 0h0m7 0h0m13 0h0m10 0h0m4 0h0m14 0h0m-50 1h0m4 0h0m14 0h0m26 0h0m3 0h0m1 0h0m8 0h0m-47 1h0m1 0h0m6 0h0m11 0h0m14 0h0m8 0h0m4 0h0m7 0h0m2 0h0m3 0h0m-27 1h0m5 0h0m10 0h0m-48 1h0m2 0h0m11 0h0m11 0h0m17 0h0m1 0h0m1 0h0m12 0h0m1 0h0m-56 1h0m3 0h0m13 0h0m8 0h0m12 0h0m11 0h0m7 0h0m-49 1h0m23 0h0m5 0h0m1 0h0m8 0h0m6 0h0m9 0h0m-66 1h0m2 0h0m1 0h0m8 0h0m12 0h0m1 0h0m8 0h0m14 0h0m17 0h0m2 0h0m-58 1h0m10 0h0m4 0h0m8 0h0m6 0h0m16 0h0m10 0h0m-62 1h0m13 0h0m12 0h0m10 0h0m28 0h0m-60 1h0m10 0h0m2 0h0m6 0h0m5 0h0m17 0h0m8 0h0m2 0h0m6 0h0m-55 1h0m10 0h0m8 0h0m14 0h0m1 0h0m3 0h0m15 0h0m1 0h0m2 0h0m1 0h0m-55 1h0m1 0h0m3 0h0m1 0h0m4 0h0m7 0h0m3 0h0m5 0h0m13 0h0m18 0h0m-59 1h0m13 0h0m4 0h0m29 0h0m1 0h0m5 0h0m2 0h0m11 0h0m-59 1h0m7 0h0m9 0h0m5 0h0m2 0h0m22 0h0m3 0h0m7 0h0m-61 1h0m2 0h0m3 0h0m10 0h0m4 0h0m4 0h0m16 0h0m9 0h0m4 0h0m8 0h0m-53 1h0m9 0h0m11 0h0m22 0h0m5 0h0m1 0h0m3 0h0m-56 1h0m13 0h0m37 0h0m-53 1h0m17 0h0m5 0h0m30 0h0m-54 1h0m2 0h0m4 0h0m7 0h0m12 0h0m31 0h0m-49 1h0m3 0h0m-6 1h0m7 0h0m2 0h0m-2 1h0m-14 1h0m11 0h0m-4 2h0"/>
<path stroke="#0a38f0" d="M446 524h0m8 0h0m-4 1h0m-5 1h0m8 0h0m1 0h0m-14 2h0m3 0h0m1 0h0m2 0h0m4 0h0m4 0h0m2 0h0m-6 1h0m3 0h0m6 0h0m1 0h0m1 0h0m-18 1h0m6 0h0m5 0h0m1 0h0m1 0h0m-12 1h0m1 0h0m5 0h0m1 0h0m7 0h0m3 0h0m-19 1h0m2 0h0m2 0h0m4 0h0m3 0h0m4 0h0m3 0h0m5 0h0m-29 1h0m8 0h0m4 0h0m2 0h0m3 0h0m-19 1h0m2 0h0m5 0h0m2 0h0m19 0h0m-25 1h0m1 0h0m1 0h0m4 0h0m3 0h0m1 0h0m3 0h0m3 0h0m2 0h0m1 0h0m2 0h0m9 0h0m-20 1h0m5 0h0m-18 1h0m8 0h0m5 0h0m2 0h0m3 0h0m2 0h0m6 0h0m7 0h0m-37 1h0m2 0h0m3 0h0m10 0h0m2 0h0m2 0h0m2 0h0m1 0h0m5 0h0m2 0h0m7 0h0m-32 1h0m2 0h0m6 0h0m4 0h0m7 0h0m10 0h0m1 0h0m2 0h0m6 0h0m-39 1h0m16 0h0m13 0h0m2 0h0m6 0h0m2 0h0m2 0h0m-40 1h0m8 0h0m1 0h0m2 0h0m5 0h0m3 0h0m2 0h0m2 0h0m9 0h0m2 0h0m1 0h0m4 0h0m-27 1h0m3 0h0m3 0h0m1 0h0m1 0h0m11 0h0m3 0h0m-30 1h0m5 0h0m6 0h0m3 0h0m7 0h0m1 0h0m4 0h0m1 0h0m-32 1h0m11 0h0m2 0h0m3 0h0m1 0h0m1 0h0m5 0h0m1 0h0m8 0h0m-30 1h0m7 0h0m3 0h0m1 0h0m3 0h0m2 0h0m5 0h0m3 0h0m2 0h0m5 0h0m1 0h0m1 0h0m5 0h0m3 0h0m-45 1h0m5 0h0m10 0h0m3 0h0m8 0h0m4 0h0m1 0h0m1 0h0m1 0h0m2 0h0m4 0h0m1 0h0m4 0h0m-33 1h0m10 0h0m13 0h0m1 0h0m1 0h0m2 0h0m3 0h0m-35 1h0m1 0h0m5 0h0m1 0h0m11 0h0m2 0h0m2 0h0m11 0h0m2 0h0m-29 1h0m3 0h0m1 0h0m1 0h0m2 0h0m1 0h0m6 0h0m2 0h0m9 0h0m1 0h0m2 0h0m1 0h0m2 0h0m2 0h0m-38 1h0m4 0h0m5 0h0m5 0h0m1 0h0m9 0h0m2 0h0m2 0h0m11 0h0m8 0h0m-53 1h0m12 0h0m3 0h0m10 0h0m12 0h0m12 0h0m2 0h0m-34 1h0m1 0h0m6 0h0m2 0h0m1 0h0m11 0h0m5 0h0m8 0h0m-49 1h0m10 0h0m10 0h0m3 0h0m2 0h0m1 0h0m13 0h0m4 0h0m4 0h0m-42 1h0m2 0h0m11 0h0m17 0h0m10 0h0m6 0h0m-47 1h0m6 0h0m5 0h0m14 0h0m5 0h0m1 0h0m2 0h0m6 0h0m6 0h0m-45 1h0m4 0h0m3 0h0m12 0h0m6 0h0m1 0h0m1 0h0m1 0h0m3 0h0m2 0h0m2 0h0m3 0h0m1 0h0m1 0h0m-38 1h0m9 0h0m5 0h0m2 0h0m4 0h0m2 0h0m2 0h0m3 0h0m6 0h0m1 0h0m1 0h0m7 0h0m-32 1h0m1 0h0m3 0h0m4 0h0m11 0h0m-41 1h0m29 0h0m1 0h0m2 0h0m8 0h0m10 0h0m-38 1h0m10 0h0m2 0h0m7 0h0m11 0h0m6 0h0m4 0h0m8 0h0m-46 1h0m1 0h0m23 0h0m3 0h0m5 0h0m9 0h0m5 0h0m-75 1h0m28 0h0m4 0h0m1 0h0m11 0h0m1 0h0m1 0h0m1 0h0m1 0h0m4 0h0m2 0h0m1 0h0m9 0h0m8 0h0m-44 1h0m12 0h0m2 0h0m28 0h0m1 0h0m6 0h0m-54 1h0m17 0h0m3 0h0m7 0h0m-27 1h0m15 0h0m4 0h0m1 0h0m7 0h0m11 0h0m2 0h0m8 0h0m-75 1h0m31 0h0m23 0h0m13 0h0m6 0h0m-69 1h0m30 0h0m21 0h0m11 0h0m-23 1h0m4 0h0m20 0h0m5 0h0m4 0h0m-70 1h0m52 0h0m4 0h0m4 0h0m1 0h0m-63 1h0m48 0h0m2 0h0m16 0h0m13 0h0m-62 1h0m10 0h0m19 0h0m22 0h0m1 0h0m4 0h0m-24 1h0m7 0h0m14 0h0m-33 1h0m4 0h0m6 0h0m3 0h0m1 0h0m7 0h0m5 0h0m5 0h0m-34 1h0m18 0h0m14 0h0m4 0h0m-37 1h0m2 0h0m24 0h0m4 0h0m2 0h0m-39 1h0m8 0h0m2 0h0m28 0h0m3 1h0m1 0h0m-32 1h0m22 0h0m8 0h0m-35 1h0m18 0h0m1 0h0m2 0h0m6 0h0m1 0h0m6 0h0m1 0h0m-35 1h0m5 0h0m23 0h0m-22 1h0m7 0h0m9 0h0m2 0h0m-22 1h0m24 0h0m2 0h0m10 0h0m-26 1h0m1 0h0m12 0h0m-7 1h0m4 0h0m7 0h0m-12 1h0m10 0h0m-21 1h0m17 1h0"/>
<path stroke="#1060f0" d="M457 491h0m5 3h0m-11 2h0m2 2h0m-2 1h0m5 1h0m7 2h0m-6 1h0m12 0h0m-11 1h0m7 0h0m-17 2h0m19 2h0m-10 10h0m2 0h0m1 1h0m6 0h0m-15 5h0"/>
<path stroke="#0a10f0" d="M79 352h0m-4 7h0m9 0h0m8 1h0m2 0h0m-16 1h0m6 0h0m3 0h0m7 0h0m-17 1h0m2 0h0m-7 1h0m4 0h0m5 0h0m14 0h0m-23 1h0m15 0h0m-19 1h0m5 0h0m3 0h0m13 0h0m3 0h0m7 0h0m-30 1h0m10 0h0m2 0h0m5 0h0m10 0h0m-23 1h0m4 0h0m3 0h0m11 0h0m6 0h0m-6 1h0m2 0h0m-22 1h0m4 0h0m5 0h0m2 0h0m8 0h0m-23 1h0m7 0h0m2 0h0m3 0h0m1 0h0m1 0h0m3 0h0m4 0h0m6 0h0m7 0h0m-29 1h0m9 0h0m7 0h0m3 0h0m-25 1h0m4 0h0m6 0h0m7 0h0m6 0h0m2 0h0m11 0h0m-25 1h0m8 0h0m5 0h0m4 0h0m-15 1h0m2 0h0m18 0h0m-20 1h0m2 0h0m4 0h0m5 0h0m1 0h0m-13 1h0m8 0h0m1 0h0m3 0h0m4 0h0m1 0h0m6 0h0m4 0h0m-36 1h0m2 0h0m3 0h0m14 0h0m3 0h0m-21 1h0m8 0h0m6 0h0m6 0h0m2 0h0m-5 1h0m2 0h0m-15 1h0m3 0h0m5 0h0m1 0h0m-11 1h0m5 0h0m11 0h0m3 0h0m8 0h0m-27 1h0m2 0h0m3 0h0m9 0h0m6 0h0m-7 1h0m-2 1h0"/>
<path stroke="#0a10f0" d="M98 286h0m4 3h0m-1 1h0m-5 1h0m2 1h0m6 0h0m2 0h0m3 0h0m-2 1h0m-8 1h0m9 0h0m-2 2h0m8 0h0m-6 2h0m4 0h0m2 1h0m-4 2h0m4 0h0m-1 2h0m1 0h0m1 1h0"/>
<path stroke="#0a10f0" d="M103 309h0m2 5h0m4 1h0m-6 2h0m12 6h0m-12 2h0m-2 6h0m7 2h0m-8 5h0m1 5h0m1 4h0m-8 1h0m3 4h0m6 3h0"/>
<path stroke="#0a0a96" d="M82 172h0m5 4h0m-14 2h0m4 0h0m2 0h0m0 1h0m2 0h0m-6 1h0m4 0h0m1 0h0m1 0h0m3 0h0m-9 1h0m-7 1h0m2 0h0m3 2h0m-6 1h0m1 1h0m5 0h0m-8 1h0m4 0h0m1 0h0m-9 1h0m4 0h0m2 0h0m0 1h0m3 0h0m-6 2h0m2 0h0m2 2h0"/>
<path stroke="#3a3ab0" d="M105 172h0m-6 1h0m12 1h0m-20 1h0m11 1h0"/>
<path stroke="#08087e" d="M253 472h0m4 1h0m-4 2h0m5 0h0m3 1h0m-5 1h0m0 1h0m2 0h0m2 1h0m-4 1h0m0 1h0m-3 1h0m3 0h0m5 1h0m-12 1h0m8 0h0m-14 1h0m10 0h0m1 0h0m-8 1h0m1 0h0m5 0h0m1 0h0m5 0h0m-11 1h0m2 0h0m2 0h0m5 0h0m1 0h0m-16 1h0m6 0h0m3 0h0m1 0h0m6 0h0m-6 1h0m1 0h0m-1 1h0m2 0h0m-10 1h0m1 0h0m2 0h0m2 1h0m4 0h0m2 0h0m-15 1h0m1 0h0m6 0h0m4 0h0m-10 1h0m4 0h0m4 0h0m5 0h0m-6 1h0m-4 1h0m2 0h0m-8 1h0m4 2h0m3 1h0m-7 2h0m1 0h0m1 0h0m4 1h0m-4 1h0m1 1h0m2 0h0m-4 1h0m3 1h0m2 1h0"/>
</g></g>
<g><g fill="none" transform="scale(0.25)" stroke-width="4.6" stroke-linecap="round">
<path stroke="#f7e5a3" d="M190 753h0m-15 1h0m12 0h0m345 2h0m-3 5h0m-6 1h0m-3 1h0m13 0h0m197 1h0m-187 1h0m6 0h0m-23 1h0m-15 2h0m64 3h0m160 0h0m-212 3h0m45 0h0m160 0h0m15 0h0m5 0h0m-260 1h0m73 0h0m191 0h0m-233 1h0m12 0h0m6 2h0m20 0h0m19 0h0m-128 2h0m62 0h0m228 0h0m-235 1h0m-89 1h0m45 0h0m305 0h0m-373 1h0m115 0h0m23 0h0m224 0h0m-175 1h0m155 0h0m-338 1h0m105 0h0m55 0h0m8 0h0m24 0h0m-178 1h0m118 0h0m211 0h0m-337 1h0m77 0h0m278 0h0m-384 1h0m29 0h0m29 0h0m5 0h0m5 0h0m144 0h0m157 0h0m-380 2h0m2 0h0m57 0h0m58 0h0m-3 1h0m24 0h0m93 0h0m151 0h0m-326 1h0m15 0h0m307 0h0m-304 1h0m63 1h0m85 0h0m154 0h0m-314 1h0m-7 1h0m92 0h0m84 0h0m153 0h0m-349 1h0m25 0h0m73 0h0m251 0h0m-315 1h0m6 0h0m-13 1h0m76 0h0m-89 1h0m10 0h0m33 0h0m1 0h0m46 0h0m35 0h0m43 1h0m-58 1h0m-125 1h0m51 0h0m53 0h0m-62 1h0m14 0h0m151 0h0m-194 1h0m39 0h0m14 0h0m-68 1h0m27 0h0m19 0h0m149 0h0m-214 1h0m4 0h0m52 0h0m-65 1h0m52 0h0m11 0h0m3 0h0m72 1h0m-94 1h0m44 0h0m-61 1h0m-55 1h0m173 0h0m34 0h0m90 0h0m-298 1h0m33 0h0m7 0h0m35 0h0m-44 1h0m3 0h0m26 0h0m27 0h0m-11 1h0m16 0h0m26 0h0m-84 1h0m53 0h0m30 0h0m-45 1h0m5 0h0m12 0h0m-95 2h0m123 0h0m-130 1h0m125 0h0m76 0h0m55 0h0m-168 1h0m23 0h0m-105 1h0m51 0h0m62 0h0m54 0h0m36 0h0m54 0h0m-216 1h0m141 0h0m8 0h0m-159 1h0m251 0h0m-97 1h0m-182 1h0m30 0h0m49 0h0m41 0h0m-134 1h0m92 0h0m40 0h0m136 0h0m6 0h0m-177 1h0m126 0h0m19 0h0m-129 1h0m23 0h0m69 0h0m74 0h0m-166 1h0m120 0h0m58 0h0m-252 1h0m152 0h0m33 0h0m3 0h0m137 0h0m-355 1h0m43 0h0m2 0h0m263 0h0m-219 1h0m1 0h0m231 0h0m-244 1h0m44 0h0m93 0h0m121 0h0m10 0h0m-377 1h0m223 0h0m12 0h0m22 0h0m3 0h0m53 0h0m-283 1h0m55 0h0m29 0h0m16 0h0m69 0h0m28 0h0m2 0h0m3 0h0m14 0h0m13 0h0m21 0h0m24 0h0m10 0h0m-312 1h0m53 0h0m70 0h0m30 0h0m10 0h0m-169 1h0m4 0h0m22 0h0m40 0h0m58 0h0m-113 1h0m200 0h0m8 0h0m39 0h0m5 0h0m39 0h0m11 0h0m47 0h0m14 0h0m-309 1h0m189 0h0m63 0h0m74 0h0m-367 1h0m39 0h0m12 0h0m113 0h0m89 0h0m32 0h0m65 0h0m4 0h0m-361 1h0m33 0h0m69 0h0m72 0h0m67 0h0m35 0h0m1 0h0m28 0h0m29 0h0m-350 1h0m19 0h0m2 0h0m59 0h0m46 0h0m63 0h0m88 0h0m91 0h0m-343 1h0m3 0h0m101 0h0m61 0h0m15 0h0m5 0h0m1 0h0m65 0h0m54 0h0m13 0h0m79 0h0m-413 1h0m134 0h0m208 0h0m65 0h0m-424 1h0m21 0h0m71 0h0m1 0h0m104 0h0m109 0h0m13 0h0m59 0h0m44 0h0m-402 1h0m38 0h0m268 0h0m-262 1h0m66 0h0m9 0h0m73 0h0m39 0h0m138 0h0m54 0h0m-439 1h0m135 0h0m6 0h0m109 0h0m32 0h0m44 0h0m98 0h0m4 0h0m-282 1h0m40 0h0m4 0h0m55 0h0m22 0h0m37 0h0m66 0h0m-372 1h0m2 0h0m10 0h0m242 0h0m3 0h0m31 0h0m21 0h0m128 0h0m-338 1h0m146 0h0m64 0h0m84 0h0m9 0h0m32 0h0m-423 1h0m36 0h0m17 0h0m149 0h0m18 0h0m-212 1h0m4 0h0m16 0h0m58 0h0m90 0h0m60 0h0m30 0h0m68 0h0m-147 1h0m61 0h0m3 0h0m-270 1h0m90 0h0m57 0h0m71 0h0m152 0h0m-374 1h0m8 0h0m214 0h0m5 0h0m15 0h0m89 0h0m40 0h0m99 0h0m-421 1h0m22 0h0m30 0h0m5 0h0m35 0h0m23 0h0m28 0h0m117 0h0m-320 1h0m35 0h0m5 0h0m4 0h0m38 0h0m1 0h0m65 0h0m45 0h0m5 0h0m92 0h0m2 0h0m71 0h0m92 0h0m-451 1h0m15 0h0m11 0h0m12 0h0m20 0h0m2 0h0m27 0h0m71 0h0m62 0h0m29 0h0m3 0h0m75 0h0m133 0h0m-446 1h0m19 0h0m3 0h0m96 0h0m77 0h0m56 0h0m56 0h0m160 0h0m-416 1h0m69 0h0m11 0h0m28 0h0m-176 1h0m18 0h0m2 0h0m78 0h0m24 0h0m2 0h0m-72 1h0m20 0h0m261 0h0m6 0h0m8 0h0m-344 1h0m16 0h0m7 0h0m37 0h0m69 0h0m82 0h0m70 0h0m3 0h0m10 0h0m40 0h0m-266 1h0m9 0h0m54 0h0m14 0h0m19 0h0m90 0h0m-205 1h0m74 0h0m91 0h0m1 0h0m131 0h0m40 0h0m-356 1h0m39 0h0m11 0h0m66 0h0m8 0h0m72 0h0m19 0h0m82 0h0m50 0h0m2 0h0m49 0h0m-373 1h0m59 0h0m50 0h0m28 0h0m56 0h0m19 0h0m3 0h0m-247 1h0m49 0h0m58 0h0m67 0h0m57 0h0m7 0h0m81 0h0m-342 1h0m24 0h0m36 0h0m10 0h0m4 0h0m11 0h0m18 0h0m43 0h0m94 0h0m39 0h0m-244 1h0m2 0h0m8 0h0m10 0h0m30 0h0m16 0h0m1 0h0m104 0h0m139 0h0m31 0h0m51 0h0m-383 1h0m190 0h0m229 0h0m11 0h0m9 0h0m-634 1h0m158 0h0m13 0h0m4 0h0m89 0h0m60 0h0m10 0h0m67 0h0m90 0h0m-268 1h0m51 0h0m96 0h0m27 0h0m144 0h0m-353 1h0m75 0h0m52 0h0m68 0h0m28 0h0m-217 1h0m25 0h0m32 0h0m270 0h0m3 0h0m15 0h0m59 0h0m-433 1h0m17 0h0m43 0h0m160 0h0m36 0h0m-238 1h0m76 0h0m159 0h0m51 0h0m21 0h0m-301 1h0m27 0h0m17 0h0m43 0h0m59 0h0m17 0h0m150 0h0m106 0h0m5 0h0m-452 1h0m11 0h0m49 0h0m45 0h0m62 0h0m205 0h0m-381 1h0m18 0h0m15 0h0m39 0h0m14 0h0m43 0h0m54 0h0m47 0h0m3 0h0m11 0h0m20 0h0m-159 1h0m8 0h0m37 0h0m78 0h0m21 0h0m4 0h0m76 0h0m48 0h0m85 0h0m-454 1h0m64 0h0m67 0h0m3 0h0m38 0h0m-160 1h0m1 0h0m50 0h0m6 0h0m56 0h0m12 0h0m234 0h0m-325 1h0m9 0h0m1 0h0m18 0h0m24 0h0m17 0h0m12 0h0m11 0h0m35 0h0m54 0h0m79 0h0m49 0h0m-549 1h0m202 0h0m18 0h0m34 0h0m227 0h0m62 0h0m29 0h0m-341 1h0m74 0h0m158 0h0m18 0h0m-286 1h0m70 0h0m49 0h0m13 0h0m6 0h0m52 0h0m72 0h0m-192 1h0m26 0h0m151 0h0m-237 1h0m70 0h0m-81 1h0m27 0h0m-28 1h0m27 0h0m252 0h0m8 0h0m-284 1h0m22 0h0m53 0h0m183 0h0m4 0h0m35 0h0m208 0h0m-486 1h0m87 0h0m124 0h0m15 0h0m-204 1h0m15 0h0m52 0h0m21 0h0m22 0h0m5 0h0m339 0h0m-455 1h0m20 0h0m2 0h0m39 0h0m177 0h0m203 0h0m-387 1h0m260 0h0m-344 1h0m224 0h0m-181 1h0m9 0h0m58 0h0m17 0h0m50 0h0m-178 1h0m136 0h0m93 0h0m-217 1h0m12 0h0m1 0h0m16 0h0m6 0h0m1 0h0m102 0h0m191 0h0m-283 1h0m2 0h0m4 0h0m46 0h0m-92 1h0m137 0h0m-123 1h0m4 0h0m49 0h0m12 0h0m124 0h0m7 0h0m-212 1h0m17 0h0m115 0h0m0 1h0m138 0h0m86 0h0m-327 1h0m8 0h0m61 0h0m173 0h0m-273 1h0m40 0h0m65 0h0m87 0h0m23 0h0m67 0h0m220 0h0m-483 1h0m32 0h0m5 0h0m45 0h0m87 0h0m34 0h0m278 0h0m-501 1h0m32 0h0m6 0h0m1 0h0m42 0h0m55 0h0m9 0h0m120 0h0m-232 1h0m235 0h0m65 0h0m-244 1h0m21 0h0m182 0h0m-202 1h0m114 0h0m-160 1h0m45 0h0m-20 1h0m12 0h0m115 0h0m-175 1h0m245 0h0m80 0h0m-134 1h0m63 0h0m79 0h0m-303 1h0m247 0h0m-251 1h0m59 0h0m91 0h0m17 0h0m29 0h0m255 0h0m-484 1h0m32 0h0m238 0h0m-265 1h0m111 0h0m183 1h0m2 0h0m-268 1h0m191 0h0m-181 1h0m33 0h0m244 0h0m-268 1h0m181 0h0m37 0h0m-201 1h0m28 0h0m7 0h0m4 0h0m35 0h0m-69 1h0m115 0h0m-157 1h0m30 0h0m6 0h0m12 0h0m6 0h0m6 0h0m36 0h0m5 0h0m148 0h0m-102 1h0m26 0h0m12 0h0m63 0h0m2 0h0m-256 1h0m39 0h0m113 0h0m262 0h0m-404 1h0m42 0h0m49 0h0m7 0h0m164 0h0m-123 1h0m7 0h0m106 0h0m-161 2h0m199 0h0m-242 1h0m40 0h0m25 0h0m6 0h0m136 0h0m-240 1h0m76 0h0m157 0h0m77 0h0m-311 1h0m136 0h0m89 0h0m-227 1h0m54 0h0m54 0h0m2 0h0m33 0h0m-178 1h0m283 0h0m87 0h0m-341 1h0m18 0h0m39 0h0m35 0h0m162 0h0m109 0h0m9 0h0m-382 1h0m128 0h0m110 0h0m2 0h0m121 0h0m-392 1h0m174 0h0m47 0h0m-159 1h0m74 0h0m16 0h0m176 0h0m51 0h0m-276 1h0m25 0h0m52 0h0m122 0h0m41 0h0m-304 1h0m257 0h0m-271 1h0m82 0h0m166 0h0m-118 1h0m10 0h0m4 0h0m14 0h0m76 0h0m26 0h0m134 0h0m-398 1h0m35 0h0m148 0h0m13 0h0m85 0h0m177 0h0m-373 1h0m84 0h0m16 0h0m110 0h0m-297 1h0m19 0h0m48 0h0m37 0h0m103 0h0m2 0h0m6 0h0m-142 1h0m8 0h0m58 0h0m6 0h0m21 0h0m19 0h0m96 0h0m-249 1h0m101 0h0m21 0h0m51 0h0m66 0h0m-242 1h0m248 0h0m87 0h0m-356 1h0m29 0h0m49 0h0m163 0h0m-236 1h0m5 0h0m5 0h0m38 0h0m125 0h0m27 0h0m19 0h0m24 0h0m15 0h0m129 0h0m5 0h0m51 0h0m29 0h0m-413 1h0m5 0h0m3 0h0m16 0h0m150 0h0m41 0h0m-221 1h0m71 0h0m2 0h0m21 0h0m3 0h0m89 0h0m38 0h0m74 0h0m20 0h0m-347 1h0m72 0h0m298 0h0m19 0h0m-411 1h0m183 0h0m59 0h0m148 0h0m-334 1h0m166 0h0m104 0h0m-243 1h0m45 0h0m153 0h0m89 0h0m82 0h0m-393 1h0m180 1h0m133 0h0m43 0h0m22 0h0m-432 1h0m26 0h0m51 0h0m9 0h0m152 0h0m15 0h0m69 0h0m18 0h0m-496 1h0m206 0h0m91 0h0m44 0h0m47 0h0m147 0h0m5 0h0m-394 1h0m152 0h0m20 0h0m-134 1h0m97 0h0m241 0h0m73 0h0m-381 1h0m12 0h0m1 0h0m86 0h0m194 0h0m91 0h0m-448 1h0m53 0h0m92 0h0m235 0h0m9 0h0m-327 1h0m13 0h0m343 0h0m10 0h0m-426 1h0m206 0h0m16 0h0m4 0h0m50 0h0m103 0h0m-333 1h0m121 0h0m2 0h0m154 0h0m5 0h0m-285 1h0m60 0h0m18 0h0m30 0h0m3 0h0m61 0h0m-176 1h0m53 0h0m49 0h0m88 0h0m85 0h0m78 0h0m-223 1h0m6 0h0m2 0h0m18 0h0m1 0h0m194 0h0m-201 1h0m128 0h0m14 0h0m-238 1h0m45 0h0m28 0h0m67 0h0m115 0h0m-243 1h0m60 0h0m26 0h0m200 0h0m-324 1h0m262 0h0m4 0h0m-259 1h0m249 0h0m9 0h0m6 0h0m152 0h0m-384 1h0m15 0h0m204 0h0m56 0h0m95 0h0m33 0h0m-395 1h0m12 0h0m116 0h0m93 0h0m39 0h0m119 0h0m-339 1h0m16 0h0m47 0h0m19 0h0m78 0h0m25 0h0m31 0h0m-250 1h0m187 0h0m16 0h0m20 0h0m13 0h0m20 1h0m-301 1h0m113 0h0m-128 1h0m41 0h0m12 0h0m87 0h0m7 0h0m148 0h0m139 0h0m-405 1h0m26 0h0m35 0h0m153 0h0m109 0h0m-232 1h0m31 0h0m49 0h0m-172 1h0m1 0h0m76 0h0m38 0h0m25 0h0m84 0h0m41 0h0m41 0h0m115 0h0m-746 1h0m327 1h0m225 0h0m39 0h0m112 0h0m-709 1h0m419 0h0m158 0h0m14 0h0m25 0h0m-614 1h0m411 0h0m7 0h0m31 0h0m28 0h0m-468 1h0m418 0h0m2 0h0m133 0h0m-218 1h0m88 0h0m19 0h0m83 0h0m11 0h0m-207 1h0m19 0h0m139 0h0m9 0h0m40 0h0m16 0h0m-86 1h0m31 0h0m6 0h0m148 0h0m-317 1h0m116 0h0m-444 1h0m338 0h0m88 1h0m3 1h0m51 0h0m-143 1h0m71 0h0m254 0h0m-661 1h0m1 0h0m495 0h0m39 0h0m-534 1h0m492 0h0m163 0h0m-36 1h0m-197 1h0m103 0h0m34 0h0m8 2h0m174 0h0m21 0h0m-774 1h0m304 0h0m173 0h0m72 1h0m-66 1h0m81 0h0m-316 1h0m197 0h0m-27 2h0m72 0h0m218 0h0m-154 1h0m-116 1h0m57 0h0m232 0h0m10 0h0m-263 1h0m23 0h0m84 0h0m179 0h0m-259 1h0m149 0h0m-534 1h0m1 1h0m7 0h0m391 0h0m16 0h0m197 0h0m-278 1h0m133 0h0m17 0h0m74 0h0m-82 1h0m-579 1h0m496 0h0m81 0h0m159 0h0m-193 2h0m187 1h0m-317 1h0m27 0h0m20 0h0m154 0h0m110 0h0m39 0h0m-347 1h0m44 0h0m75 0h0m140 0h0m-190 1h0m85 0h0m121 0h0m41 0h0m19 0h0m29 0h0m-307 1h0m230 1h0m-219 1h0m4 0h0m162 0h0m51 0h0m-232 1h0m5 0h0m247 0h0m24 0h0m-532 1h0m273 0h0m237 0h0m55 0h0m-566 1h0m110 0h0m393 0h0m13 0h0m8 0h0m20 0h0m7 0h0m-293 1h0m8 0h0m-257 1h0m145 0h0m55 1h0m49 0h0m17 0h0m24 0h0m195 0h0m18 0h0m-245 1h0m30 0h0m-143 1h0m96 0h0m73 0h0m153 0h0m-255 1h0m95 0h0m47 0h0m152 0h0m-709 1h0m321 0h0m374 0h0m14 0h0m-18 1h0m4 0h0m-334 1h0m65 0h0m81 0h0m195 0h0m19 0h0m-528 1h0m4 0h0m118 0h0m192 0h0m-175 1h0m27 0h0m93 0h0m222 0h0m46 0h0m5 0h0m23 0h0m-559 1h0m2 0h0m251 0h0m79 0h0m191 0h0m-753 1h0m229 0h0m235 0h0m210 0h0m75 0h0m-267 1h0m232 0h0m24 0h0m18 0h0m-533 1h0m274 0h0m1 0h0m35 0h0m197 0h0m-327 1h0m351 0h0m-292 2h0m29 0h0m24 1h0m86 0h0m186 0h0m-567 1h0m256 0h0m262 0h0m13 0h0m21 0h0m11 0h0m-554 1h0m327 0h0m143 0h0m83 0h0m-395 1h0m340 0h0m-286 1h0m4 0h0m33 0h0m7 0h0m3 0h0m41 0h0m51 0h0m124 0h0m49 0h0m-533 1h0m2 0h0m315 0h0m3 0h0m230 0h0m-555 1h0m212 0h0m41 0h0m18 0h0m-493 1h0m509 0h0m246 0h0m9 0h0m13 0h0m-780 1h0m214 0h0m316 0h0m287 0h0m-448 1h0m158 0h0m247 0h0m-383 1h0m1 0h0m363 0h0m21 0h0m-789 1h0m409 0h0m60 0h0m23 0h0m66 0h0m-558 1h0m26 0h0m189 0h0m175 0h0m160 0h0m221 1h0m-744 1h0m385 0h0m91 0h0m16 0h0m13 0h0m31 0h0m226 0h0m-268 1h0m218 0h0m64 0h0m4 0h0m-804 1h0m507 0h0m33 0h0m7 0h0m47 0h0m-603 1h0m602 0h0m5 0h0m168 0h0m-776 1h0m544 0h0m16 0h0m-540 1h0m7 0h0m374 0h0m411 0h0m-782 1h0m379 0h0m238 0h0m-633 1h0m387 0h0m110 0h0m34 0h0m26 0h0m-549 1h0m469 0h0m38 0h0m48 0h0m1 0h0m208 0h0m-762 1h0m3 0h0m499 0h0m52 0h0m-107 1h0m350 0h0m-795 1h0m461 0h0m276 0h0m1 0h0m-752 1h0m374 1h0m377 0h0m-739 1h0m545 0h0m238 0h0m-292 1h0m67 0h0m-45 1h0m28 0h0m22 0h0m174 0h0m-207 1h0m96 0h0m186 0h0m-185 1h0m152 0h0m-251 1h0m19 0h0m78 0h0m7 0h0m92 0h0m-209 1h0m112 0h0m-106 1h0m85 0h0m24 0h0m135 0h0m3 0h0m29 0h0m-229 1h0m79 0h0m97 0h0m-235 1h0m121 0h0m80 0h0m48 0h0m-217 1h0m84 0h0m26 0h0m112 0h0m-288 1h0m39 0h0m33 0h0m80 0h0m83 0h0m37 0h0m-205 1h0m3 0h0m82 0h0m37 0h0m46 0h0m35 0h0m-181 1h0m59 0h0m11 0h0m19 0h0m88 0h0m-236 1h0m15 0h0m210 0h0m41 0h0m-237 1h0m2 0h0m134 0h0m44 0h0m22 0h0m21 0h0m-299 1h0m55 0h0m38 0h0m183 0h0m5 0h0m-270 1h0m27 0h0m198 0h0m-228 1h0m56 0h0m126 0h0m-110 1h0m7 0h0m79 0h0m12 0h0m-168 1h0m16 0h0m65 0h0m125 0h0m-194 1h0m43 0h0m-15 1h0m45 0h0m52 0h0m63 0h0m-48 2h0m94 0h0m61 0h0m-223 1h0m1 0h0m97 0h0m108 0h0m-259 1h0m116 0h0m23 0h0m110 0h0m8 0h0m-99 1h0m101 0h0m7 0h0m-218 1h0m103 0h0m112 0h0m-221 1h0m29 0h0m46 0h0m-18 1h0m151 0h0m-202 1h0m6 1h0m200 0h0m-52 1h0m35 0h0m-100 3h0m141 0h0m-157 1h0m105 0h0m22 0h0m9 0h0m-114 1h0m2 0h0m125 0h0m-204 1h0m4 1h0m199 0h0m-507 1h0m141 0h0m352 0h0m-354 1h0m139 0h0m64 0h0m144 1h0m-356 1h0m3 0h0m212 0h0m172 0h0m-377 1h0m7 0h0m335 0h0m28 0h0m-191 1h0m-317 1h0m307 0h0m84 0h0m-392 2h0m287 0h0m32 0h0m169 0h0m-209 1h0m2 0h0m202 0h0m-270 1h0m43 0h0m26 0h0m53 0h0m138 0h0m31 0h0m-389 1h0m4 0h0m128 0h0m237 0h0m15 0h0m1 0h0m-406 1h0m176 0h0m125 0h0m85 0h0m18 0h0m-412 1h0m39 0h0m283 0h0m115 0h0m-531 1h0m272 0h0m122 0h0m-247 1h0m288 0h0m-281 2h0m118 0h0m109 0h0m128 0h0m-386 1h0m174 0h0m-9 1h0m1 0h0m-20 1h0m30 0h0m-174 1h0m51 0h0m314 0h0m23 0h0m-235 1h0m4 1h0m53 0h0m157 0h0m-357 1h0m4 0h0m18 0h0m351 0h0m-396 1h0m25 0h0m33 0h0m-88 1h0m4 0h0m311 0h0m31 0h0m89 0h0m-120 1h0m-236 1h0m108 0h0m242 0h0m-428 1h0m426 0h0m-10 1h0m24 1h0m-228 1h0m-29 1h0m66 0h0m9 0h0m-254 2h0m42 0h0m30 0h0m347 0h0m-415 1h0m54 0h0m195 0h0m82 0h0m77 0h0m-344 1h0m112 0h0m56 0h0m77 0h0m-2 1h0m68 0h0m-304 2h0m239 0h0m-305 2h0m48 0h0m83 0h0m166 0h0m-54 1h0m25 0h0m-218 1h0m255 0h0m-247 1h0m150 0h0m8 1h0m25 0h0m65 0h0m-300 2h0m215 0h0m78 0h0m-279 1h0m23 0h0m170 1h0m-381 1h0m209 0h0m-214 1h0m471 0h0m-20 1h0m-247 1h0m238 0h0m-436 1h0m402 0h0m-235 1h0m29 0h0m29 0h0m13 1h0m-240 1h0m174 0h0m272 0h0m-450 1h0m227 1h0m207 0h0m-257 1h0m43 0h0m169 0h0m88 0h0m-259 1h0m177 0h0m-140 1h0m154 0h0m36 0h0m2 0h0m-278 1h0m53 0h0m53 0h0m120 0h0m-38 1h0m-83 1h0m124 0h0m2 0h0m17 0h0m-246 2h0m-171 1h0m169 3h0m242 1h0m38 0h0m-458 1h0m494 0h0m-270 1h0m178 0h0m-21 1h0m-154 2h0m8 2h0m171 0h0m4 1h0m74 0h0m-183 1h0m-308 1h0m3 1h0m493 0h0m-72 2h0m-17 3h0m97 1h0m-22 3h0m-11 1h0m-236 2h0m11 0h0m226 0h0m11 2h0m29 1h0m-283 2h0m45 1h0m-42 3h0m3 0h0m-7 1h0m9 0h0m-5 1h0m-10 2h0m-9 2h0m18 1h0m6 0h0m262 0h0m-18 2h0m-248 1h0m5 0h0m261 0h0m-251 3h0m-19 3h0m-17 1h0m11 0h0m14 1h0m16 0h0m-1 2h0m-19 1h0m-2 1h0m17 0h0m-7 1h0m-9 2h0m2 0h0m21 4h0m-26 1h0m8 2h0m8 1h0m10 0h0m-32 1h0m34 1h0m9 0h0m-2 1h0m-22 6h0m17 0h0m4 2h0m-11 4h0m4 0h0m-40 1h0m42 2h0m-6 1h0"/>
<path stroke="#dee99d" d="M176 749h0m364 6h0m8 3h0m-16 1h0m1 0h0m-5 1h0m-8 2h0m24 0h0m-14 2h0m13 0h0m13 1h0m-38 1h0m6 0h0m27 0h0m-6 1h0m19 1h0m-39 1h0m8 1h0m0 1h0m31 0h0m-2 1h0m-3 1h0m-10 1h0m188 0h0m-221 1h0m23 0h0m35 0h0m-18 1h0m181 0h0m-241 1h0m5 0h0m12 0h0m228 0h0m-3 1h0m13 0h0m-202 1h0m5 0h0m17 0h0m-35 1h0m189 0h0m-271 1h0m66 0h0m21 1h0m18 0h0m169 0h0m13 0h0m12 0h0m-359 1h0m101 0h0m237 2h0m18 0h0m4 0h0m5 0h0m-361 1h0m330 0h0m12 0h0m8 0h0m-315 1h0m306 0h0m22 0h0m-338 1h0m-55 1h0m51 0h0m30 0h0m38 0h0m264 0h0m-337 1h0m15 0h0m5 0h0m5 0h0m140 0h0m-185 1h0m42 0h0m15 0h0m44 0h0m-61 1h0m297 0h0m-314 1h0m15 0h0m12 0h0m36 0h0m17 0h0m1 0h0m92 0h0m-207 1h0m72 0h0m49 0h0m16 0h0m18 0h0m59 0h0m-181 1h0m88 0h0m1 0h0m17 0h0m59 0h0m-213 1h0m17 0h0m15 0h0m19 0h0m77 0h0m17 0h0m241 0h0m-391 1h0m24 0h0m36 0h0m32 0h0m295 0h0m-379 1h0m16 0h0m5 0h0m106 0h0m96 0h0m-200 1h0m204 0h0m-165 1h0m14 0h0m148 0h0m-213 1h0m35 0h0m21 0h0m18 0h0m78 0h0m35 0h0m-169 1h0m178 0h0m17 0h0m-202 1h0m35 0h0m17 0h0m1 0h0m83 0h0m-120 1h0m14 0h0m14 0h0m74 0h0m87 0h0m6 0h0m-183 1h0m25 0h0m40 0h0m108 0h0m-177 1h0m20 0h0m132 0h0m-137 1h0m157 0h0m15 0h0m-227 1h0m60 0h0m-37 1h0m26 0h0m188 0h0m-237 1h0m31 0h0m38 0h0m61 0h0m59 0h0m62 0h0m-113 1h0m74 0h0m8 0h0m27 0h0m-222 1h0m25 0h0m11 0h0m6 0h0m24 0h0m-64 1h0m-36 1h0m204 0h0m-246 1h0m40 0h0m213 1h0m11 0h0m-192 1h0m23 0h0m55 0h0m160 0h0m-237 1h0m192 0h0m-234 1h0m240 0h0m14 0h0m-201 1h0m40 0h0m64 0h0m-198 1h0m111 0h0m21 0h0m79 0h0m-117 1h0m79 0h0m36 0h0m-112 1h0m35 0h0m80 0h0m-43 1h0m37 0h0m4 0h0m13 0h0m9 1h0m33 0h0m-172 1h0m26 0h0m102 0h0m59 0h0m-219 1h0m31 0h0m105 0h0m70 0h0m-242 1h0m81 0h0m3 0h0m232 0h0m-210 1h0m65 0h0m-150 1h0m235 0h0m68 0h0m-231 1h0m57 0h0m12 0h0m16 0h0m6 0h0m3 0h0m69 0h0m10 0h0m42 0h0m5 0h0m-216 1h0m4 0h0m78 0h0m3 0h0m57 0h0m53 0h0m16 0h0m-112 1h0m20 0h0m47 0h0m1 0h0m-114 1h0m6 0h0m1 0h0m104 0h0m9 0h0m51 0h0m1 0h0m4 0h0m-306 1h0m74 0h0m2 0h0m5 0h0m39 0h0m51 0h0m-175 1h0m10 0h0m132 0h0m65 0h0m42 0h0m-296 1h0m107 0h0m5 0h0m78 0h0m28 0h0m5 0h0m60 0h0m-226 1h0m248 0h0m36 0h0m-211 1h0m44 0h0m22 0h0m9 0h0m18 0h0m158 0h0m-398 1h0m1 0h0m80 0h0m49 0h0m16 0h0m48 0h0m-133 1h0m69 0h0m4 0h0m34 0h0m145 0h0m55 0h0m-359 1h0m77 0h0m50 0h0m65 0h0m14 0h0m19 0h0m152 0h0m-266 1h0m52 0h0m57 0h0m68 0h0m18 0h0m-286 1h0m45 0h0m95 0h0m32 0h0m28 0h0m21 0h0m77 0h0m47 0h0m-373 1h0m11 0h0m173 0h0m6 0h0m58 0h0m3 0h0m58 0h0m80 0h0m5 0h0m-247 1h0m39 0h0m86 0h0m112 0h0m-385 1h0m20 0h0m5 0h0m35 0h0m77 0h0m30 0h0m30 0h0m41 0h0m13 0h0m118 0h0m-347 1h0m227 0h0m51 0h0m76 0h0m6 0h0m-322 1h0m71 0h0m99 0h0m31 0h0m18 0h0m-288 1h0m26 0h0m106 0h0m138 0h0m20 0h0m141 0h0m-394 1h0m28 0h0m36 0h0m30 0h0m97 0h0m89 0h0m3 0h0m10 0h0m30 0h0m3 0h0m-257 1h0m4 0h0m109 0h0m17 0h0m46 0h0m69 0h0m-317 1h0m3 0h0m229 0h0m1 0h0m4 0h0m34 0h0m5 0h0m69 0h0m51 0h0m-413 1h0m91 0h0m4 0h0m6 0h0m100 0h0m120 0h0m67 0h0m14 0h0m-296 1h0m35 0h0m2 0h0m57 0h0m27 0h0m-29 1h0m31 0h0m14 0h0m191 0h0m-419 1h0m14 0h0m59 0h0m3 0h0m34 0h0m10 0h0m36 0h0m2 0h0m52 0h0m23 0h0m24 0h0m23 0h0m49 0h0m-297 1h0m55 0h0m31 0h0m89 0h0m14 0h0m72 0h0m31 0h0m82 0h0m-425 1h0m120 0h0m12 0h0m67 0h0m147 0h0m-359 1h0m9 0h0m59 0h0m3 0h0m41 0h0m10 0h0m2 0h0m20 0h0m38 0h0m17 0h0m1 0h0m16 0h0m12 0h0m49 0h0m-280 1h0m10 0h0m95 0h0m3 0h0m23 0h0m42 0h0m95 0h0m53 0h0m47 0h0m100 0h0m-474 1h0m25 0h0m71 0h0m52 0h0m12 0h0m43 0h0m15 0h0m26 0h0m17 0h0m111 0h0m1 0h0m81 0h0m7 0h0m-411 1h0m17 0h0m67 0h0m94 0h0m205 0h0m-430 1h0m18 0h0m7 0h0m28 0h0m62 0h0m19 0h0m82 0h0m43 0h0m6 0h0m64 0h0m8 0h0m-224 1h0m7 0h0m103 0h0m93 0h0m7 0h0m37 0h0m16 0h0m35 0h0m-403 1h0m17 0h0m11 0h0m67 0h0m83 0h0m28 0h0m45 0h0m103 0h0m-310 1h0m38 0h0m3 0h0m33 0h0m36 0h0m37 0h0m1 0h0m10 0h0m24 0h0m10 0h0m78 0h0m44 0h0m5 0h0m79 0h0m-466 1h0m53 0h0m23 0h0m50 0h0m13 0h0m208 0h0m17 0h0m14 0h0m45 0h0m60 0h0m-467 1h0m37 0h0m81 0h0m22 0h0m39 0h0m29 0h0m37 0h0m56 0h0m45 0h0m8 0h0m61 0h0m-378 1h0m16 0h0m45 0h0m8 0h0m26 0h0m121 0h0m16 0h0m154 0h0m27 0h0m-446 1h0m111 0h0m92 0h0m19 0h0m94 0h0m49 0h0m40 0h0m31 0h0m2 0h0m-387 1h0m13 0h0m31 0h0m48 0h0m2 0h0m70 0h0m97 0h0m122 0h0m-452 1h0m47 0h0m29 0h0m70 0h0m111 0h0m77 0h0m30 0h0m100 0h0m1 0h0m-456 1h0m6 0h0m4 0h0m101 0h0m32 0h0m1 0h0m58 0h0m3 0h0m10 0h0m3 0h0m204 0h0m18 0h0m-449 1h0m7 0h0m7 0h0m9 0h0m56 0h0m58 0h0m2 0h0m54 0h0m21 0h0m13 0h0m14 0h0m48 0h0m59 0h0m91 0h0m17 0h0m22 0h0m-482 1h0m49 0h0m109 0h0m28 0h0m46 0h0m54 0h0m28 0h0m30 0h0m9 0h0m-342 1h0m25 0h0m12 0h0m23 0h0m9 0h0m40 0h0m41 0h0m35 0h0m25 0h0m6 0h0m32 0h0m4 0h0m7 0h0m30 0h0m69 0h0m15 0h0m5 0h0m14 0h0m2 0h0m-397 1h0m26 0h0m19 0h0m153 0h0m60 0h0m113 0h0m-338 1h0m3 0h0m66 0h0m13 0h0m54 0h0m7 0h0m79 0h0m4 0h0m30 0h0m73 0h0m-544 1h0m193 0h0m62 0h0m25 0h0m62 0h0m11 0h0m15 0h0m21 0h0m160 0h0m70 0h0m-435 1h0m40 0h0m10 0h0m85 0h0m106 0h0m26 0h0m170 0h0m26 0h0m-461 1h0m17 0h0m210 0h0m70 0h0m18 0h0m1 0h0m-293 1h0m23 0h0m126 0h0m50 0h0m24 0h0m201 0h0m-449 1h0m5 0h0m90 0h0m21 0h0m152 0h0m4 0h0m66 0h0m16 0h0m-351 1h0m52 0h0m73 0h0m36 0h0m93 0h0m77 0h0m2 0h0m84 0h0m-284 1h0m112 0h0m107 0h0m27 0h0m49 0h0m-430 1h0m38 0h0m1 0h0m191 0h0m89 0h0m86 0h0m50 0h0m-212 1h0m46 0h0m38 0h0m18 0h0m-539 1h0m193 0h0m22 0h0m122 0h0m12 0h0m15 0h0m191 0h0m29 0h0m-380 1h0m12 0h0m26 0h0m59 0h0m70 0h0m83 0h0m112 0h0m43 0h0m-403 1h0m120 0h0m-99 1h0m330 0h0m38 0h0m-598 1h0m212 0h0m224 0h0m-227 1h0m38 0h0m74 0h0m203 0h0m177 0h0m-439 1h0m11 0h0m55 0h0m5 0h0m39 0h0m-107 1h0m10 0h0m169 0h0m-221 1h0m5 0h0m13 0h0m279 0h0m-139 1h0m8 0h0m57 0h0m45 0h0m-106 1h0m43 0h0m59 0h0m17 0h0m208 0h0m-504 1h0m56 0h0m53 0h0m2 0h0m173 0h0m54 0h0m166 0h0m9 0h0m-421 1h0m1 0h0m124 0h0m76 0h0m-297 1h0m60 0h0m106 0h0m54 0h0m-109 1h0m171 0h0m-260 1h0m29 0h0m12 0h0m448 0h0m15 0h0m-490 1h0m61 1h0m6 0h0m36 0h0m151 0h0m82 0h0m-290 1h0m7 0h0m24 0h0m104 0h0m71 0h0m-154 1h0m38 0h0m112 0h0m230 0h0m-471 1h0m82 0h0m-77 1h0m43 0h0m17 0h0m17 0h0m25 0h0m11 0h0m-87 1h0m67 0h0m43 0h0m-155 1h0m29 0h0m2 0h0m134 0h0m323 0h0m-377 1h0m117 0h0m90 0h0m-234 1h0m31 0h0m170 0h0m-87 1h0m8 0h0m-173 1h0m1 0h0m109 0h0m85 0h0m244 0h0m-436 1h0m2 0h0m34 0h0m43 0h0m160 0h0m-236 1h0m19 0h0m24 0h0m209 1h0m40 0h0m-290 1h0m12 0h0m1 0h0m57 0h0m18 0h0m23 0h0m19 0h0m-119 1h0m8 0h0m150 0h0m69 0h0m-201 1h0m56 0h0m3 0h0m139 0h0m-110 1h0m3 0h0m163 0h0m-281 1h0m1 0h0m8 0h0m2 0h0m28 0h0m8 0h0m61 0h0m-30 1h0m2 0h0m2 0h0m5 0h0m-123 1h0m64 0h0m25 0h0m131 0h0m41 0h0m-234 1h0m10 0h0m10 0h0m15 0h0m44 0h0m45 0h0m129 0h0m1 0h0m2 0h0m-271 1h0m35 0h0m46 0h0m6 0h0m1 0h0m23 0h0m27 0h0m116 0h0m3 0h0m-210 1h0m-18 1h0m29 0h0m75 0h0m6 0h0m23 0h0m107 0h0m-220 1h0m36 0h0m198 0h0m-238 1h0m19 0h0m59 0h0m121 0h0m40 0h0m63 0h0m-304 1h0m25 0h0m97 0h0m91 0h0m153 0h0m-316 1h0m32 0h0m141 0h0m99 0h0m32 0h0m-386 1h0m52 0h0m24 0h0m15 0h0m52 0h0m46 0h0m26 0h0m15 0h0m127 0h0m31 0h0m9 0h0m-283 1h0m4 0h0m49 0h0m82 0h0m12 0h0m3 0h0m12 0h0m78 0h0m-500 1h0m227 0h0m53 0h0m1 0h0m110 0h0m12 0h0m126 0h0m52 0h0m-286 1h0m9 0h0m19 0h0m22 0h0m66 0h0m8 0h0m-142 1h0m18 0h0m21 0h0m19 0h0m12 0h0m56 0h0m97 0h0m-373 1h0m14 0h0m41 0h0m25 0h0m105 0h0m29 0h0m47 0h0m8 0h0m109 0h0m31 0h0m-318 1h0m11 0h0m96 0h0m105 0h0m106 0h0m-384 1h0m21 0h0m11 0h0m35 0h0m54 0h0m34 0h0m73 0h0m63 0h0m68 0h0m-372 1h0m23 0h0m267 0h0m-276 1h0m236 0h0m27 0h0m-276 1h0m7 0h0m188 0h0m2 0h0m70 0h0m193 0h0m-406 1h0m44 1h0m56 0h0m8 0h0m12 0h0m87 0h0m3 0h0m38 0h0m68 0h0m1 0h0m-204 1h0m87 0h0m122 0h0m-357 1h0m64 0h0m11 0h0m50 0h0m46 0h0m49 0h0m2 0h0m54 0h0m-281 1h0m18 0h0m13 0h0m31 0h0m9 0h0m67 0h0m9 0h0m97 0h0m122 0h0m-361 1h0m3 0h0m68 0h0m51 0h0m9 0h0m3 0h0m89 0h0m26 0h0m19 0h0m8 0h0m119 0h0m5 0h0m-434 1h0m42 0h0m56 0h0m8 0h0m63 0h0m6 0h0m23 0h0m10 0h0m9 0h0m33 0h0m4 0h0m16 0h0m147 0h0m6 0h0m-426 1h0m49 0h0m57 0h0m-45 1h0m128 0h0m93 0h0m26 0h0m12 0h0m98 0h0m-386 1h0m121 0h0m30 0h0m84 0h0m130 0h0m74 0h0m-444 1h0m72 0h0m68 0h0m55 0h0m-132 1h0m15 0h0m49 0h0m54 0h0m64 0h0m-170 1h0m52 0h0m24 0h0m27 0h0m50 0h0m-168 1h0m15 0h0m5 0h0m10 0h0m26 0h0m60 0h0m199 0h0m35 0h0m-352 1h0m18 0h0m67 0h0m53 0h0m47 0h0m15 0h0m33 0h0m82 0h0m-288 1h0m12 0h0m73 0h0m4 0h0m38 0h0m74 0h0m36 0h0m29 0h0m96 0h0m3 0h0m-306 1h0m49 0h0m72 0h0m-213 1h0m315 0h0m-293 1h0m21 0h0m45 0h0m7 0h0m10 0h0m246 0h0m1 0h0m-235 1h0m7 0h0m48 0h0m51 0h0m93 0h0m3 0h0m47 0h0m-319 1h0m20 0h0m56 0h0m262 0h0m-378 1h0m14 0h0m138 0h0m68 0h0m57 0h0m39 0h0m-300 1h0m2 0h0m50 0h0m9 0h0m5 0h0m32 0h0m47 0h0m179 0h0m-235 1h0m7 0h0m222 0h0m26 0h0m-347 1h0m214 0h0m-194 1h0m3 0h0m67 0h0m9 0h0m15 0h0m5 0h0m95 0h0m-234 1h0m13 0h0m38 0h0m54 0h0m200 0h0m69 0h0m-308 1h0m105 0h0m130 0h0m-237 1h0m9 0h0m29 0h0m18 0h0m156 0h0m39 0h0m-305 1h0m5 0h0m32 0h0m6 0h0m61 0h0m14 0h0m56 0h0m122 0h0m35 0h0m-258 1h0m19 0h0m13 0h0m18 0h0m214 0h0m-243 1h0m44 0h0m150 0h0m31 0h0m12 0h0m-344 1h0m23 0h0m18 0h0m1 0h0m28 0h0m11 0h0m50 0h0m16 0h0m-121 1h0m4 0h0m18 0h0m7 0h0m84 0h0m2 0h0m32 0h0m13 0h0m-45 1h0m16 0h0m15 0h0m-128 1h0m85 0h0m18 0h0m179 0h0m-292 2h0m6 0h0m11 0h0m77 0h0m256 0h0m-218 1h0m259 0h0m-378 1h0m63 0h0m26 0h0m52 0h0m98 0h0m47 0h0m18 0h0m7 0h0m-333 1h0m108 1h0m20 0h0m21 0h0m90 0h0m102 0h0m-319 1h0m15 0h0m8 0h0m276 0h0m1 0h0m-270 1h0m63 0h0m6 0h0m121 0h0m80 0h0m18 0h0m73 0h0m-361 1h0m69 0h0m127 0h0m45 0h0m80 0h0m-245 1h0m17 0h0m149 0h0m18 0h0m12 0h0m93 0h0m-384 1h0m65 0h0m4 0h0m38 0h0m4 0h0m151 0h0m-57 1h0m77 0h0m-234 1h0m60 0h0m97 0h0m86 0h0m-223 1h0m102 0h0m67 0h0m10 0h0m-583 1h0m315 0h0m84 0h0m17 0h0m41 0h0m102 0h0m77 0h0m63 0h0m-709 1h0m337 0h0m-1 1h0m97 0h0m230 0h0m-304 1h0m72 0h0m68 1h0m77 0h0m4 0h0m7 0h0m-129 1h0m100 0h0m17 0h0m98 0h0m-242 1h0m70 0h0m93 0h0m60 0h0m87 0h0m-305 1h0m74 0h0m139 0h0m36 0h0m-239 1h0m-19 1h0m15 0h0m15 0h0m301 1h0m-304 1h0m100 0h0m3 0h0m-254 1h0m171 0h0m67 0h0m1 0h0m-83 1h0m16 0h0m85 0h0m90 0h0m5 0h0m-300 1h0m134 0h0m16 0h0m31 0h0m118 0h0m9 0h0m92 0h0m-438 1h0m114 0h0m38 0h0m21 0h0m46 1h0m-87 1h0m220 0h0m12 0h0m3 0h0m20 0h0m-299 1h0m54 0h0m98 0h0m183 0h0m-187 1h0m125 0h0m-180 1h0m9 0h0m73 0h0m9 0h0m-338 1h0m296 0h0m34 0h0m-176 1h0m147 0h0m4 0h0m134 0h0m-561 1h0m334 1h0m6 0h0m7 0h0m24 0h0m11 0h0m48 0h0m8 0h0m177 0h0m-608 1h0m114 0h0m252 0h0m228 1h0m22 0h0m-629 1h0m195 0h0m251 0h0m-450 1h0m377 0h0m31 0h0m181 0h0m-226 1h0m7 0h0m59 0h0m-102 1h0m128 0h0m132 0h0m43 0h0m6 0h0m-324 1h0m8 0h0m34 0h0m-15 1h0m46 0h0m8 0h0m9 0h0m205 0h0m14 0h0m17 0h0m-325 1h0m56 0h0m24 0h0m27 0h0m234 0h0m-341 1h0m24 0h0m32 1h0m33 1h0m49 0h0m91 0h0m16 0h0m79 0h0m-302 1h0m29 0h0m7 0h0m2 0h0m9 0h0m-10 1h0m168 0h0m-649 1h0m469 0h0m266 0h0m46 0h0m-360 1h0m48 0h0m14 0h0m14 0h0m43 0h0m156 0h0m-466 1h0m222 0h0m26 0h0m18 0h0m203 0h0m40 0h0m16 0h0m9 0h0m-297 1h0m21 0h0m22 0h0m211 0h0m61 0h0m-437 1h0m22 0h0m98 0h0m31 0h0m54 0h0m193 0h0m25 0h0m-276 1h0m38 0h0m142 0h0m63 0h0m-217 1h0m130 0h0m44 0h0m-357 1h0m112 0h0m13 0h0m60 0h0m151 0h0m94 0h0m3 0h0m-331 1h0m-68 1h0m145 0h0m13 0h0m20 0h0m146 0h0m-365 1h0m163 0h0m236 0h0m4 0h0m21 0h0m25 0h0m-755 1h0m444 0h0m39 0h0m91 0h0m105 0h0m41 0h0m-525 1h0m162 0h0m87 0h0m5 0h0m6 0h0m243 0h0m11 0h0m-346 1h0m95 0h0m30 0h0m14 0h0m-313 1h0m166 0h0m83 0h0m262 0h0m42 0h0m22 0h0m-567 1h0m289 0h0m189 0h0m-26 1h0m31 0h0m19 0h0m9 0h0m-525 1h0m16 0h0m133 0h0m12 0h0m5 0h0m111 0h0m236 0h0m77 0h0m-587 1h0m510 0h0m20 0h0m31 0h0m-18 1h0m-291 1h0m213 0h0m2 0h0m-214 1h0m6 0h0m111 0h0m139 0h0m32 0h0m-540 1h0m146 0h0m99 0h0m322 0h0m-570 1h0m156 0h0m335 0h0m24 0h0m4 0h0m6 0h0m18 0h0m6 0h0m-739 2h0m187 0h0m180 0h0m87 0h0m292 0h0m-398 1h0m-379 1h0m351 0h0m372 0h0m58 0h0m-412 1h0m18 0h0m381 0h0m-412 1h0m86 0h0m40 0h0m191 0h0m-89 1h0m25 0h0m109 0h0m34 0h0m49 0h0m-425 2h0m29 0h0m80 0h0m5 0h0m18 0h0m10 0h0m220 0h0m-227 1h0m-534 1h0m530 0h0m1 0h0m73 0h0m75 0h0m-95 1h0m155 0h0m53 0h0m-793 1h0m20 0h0m365 0h0m16 0h0m142 0h0m33 0h0m-573 1h0m453 0h0m177 0h0m156 0h0m-771 1h0m372 1h0m34 0h0m67 0h0m35 0h0m3 0h0m60 0h0m209 0h0m-765 1h0m370 0h0m17 0h0m186 0h0m149 0h0m-735 1h0m541 0h0m-546 1h0m771 0h0m-775 1h0m379 0h0m179 0h0m159 0h0m37 0h0m17 0h0m-785 1h0m552 0h0m199 0h0m63 0h0m-804 1h0m479 0h0m17 1h0m11 0h0m244 1h0m-5 1h0m-738 2h0m398 0h0m114 0h0m55 0h0m60 0h0m105 0h0m60 0h0m-405 1h0m319 0h0m12 0h0m-243 1h0m24 0h0m31 0h0m247 0h0m39 0h0m-300 1h0m184 0h0m31 0h0m38 0h0m-273 1h0m246 0h0m-217 1h0m14 0h0m213 0h0m-61 1h0m37 0h0m2 0h0m23 0h0m25 0h0m-219 1h0m86 0h0m80 0h0m39 0h0m4 0h0m-238 1h0m109 1h0m19 0h0m53 0h0m3 0h0m-266 1h0m54 0h0m33 0h0m109 0h0m-141 1h0m118 0h0m142 0h0m-389 1h0m394 0h0m-326 1h0m62 0h0m15 0h0m20 0h0m77 0h0m94 0h0m38 0h0m-217 1h0m-25 1h0m45 0h0m-101 1h0m14 0h0m44 0h0m2 0h0m24 0h0m94 0h0m137 0h0m4 0h0m-227 1h0m78 0h0m37 0h0m99 0h0m5 0h0m-60 2h0m42 0h0m9 0h0m-274 1h0m267 0h0m-263 1h0m29 0h0m95 0h0m155 0h0m-251 1h0m48 0h0m81 0h0m17 0h0m83 0h0m9 0h0m17 0h0m-24 1h0m9 0h0m-252 1h0m22 0h0m51 0h0m7 0h0m65 0h0m115 0h0m-161 1h0m101 0h0m54 0h0m-186 1h0m56 0h0m113 0h0m-244 2h0m153 0h0m-4 1h0m-58 1h0m76 1h0m107 0h0m-179 1h0m-95 1h0m48 0h0m112 0h0m-117 1h0m213 0h0m-176 1h0m76 1h0m-64 1h0m184 1h0m1 0h0m-17 1h0m-163 1h0m7 0h0m163 0h0m4 0h0m24 0h0m-60 2h0m-143 1h0m-180 1h0m357 0h0m-121 1h0m136 0h0m-369 1h0m-142 1h0m139 0h0m4 0h0m332 0h0m32 2h0m-200 1h0m40 0h0m-19 1h0m170 0h0m31 1h0m-24 2h0m-193 2h0m-45 1h0m40 0h0m180 1h0m-97 1h0m9 0h0m2 0h0m-36 1h0m119 0h0m-184 1h0m83 1h0m133 0h0m-403 1h0m13 0h0m21 0h0m1 0h0m270 0h0m81 0h0m16 0h0m-445 1h0m59 0h0m167 0h0m196 0h0m18 0h0m-363 1h0m283 0h0m-322 1h0m21 0h0m-29 1h0m177 0h0m39 0h0m39 0h0m123 0h0m-408 1h0m38 0h0m19 2h0m139 0h0m245 0h0m-369 2h0m323 0h0m-188 1h0m30 0h0m157 0h0m-365 1h0m228 0h0m-44 1h0m120 0h0m68 0h0m-358 1h0m38 0h0m143 0h0m199 0h0m-111 1h0m96 0h0m-85 1h0m11 1h0m-108 2h0m41 0h0m-204 1h0m180 0h0m-215 3h0m55 0h0m3 0h0m42 0h0m96 0h0m29 0h0m-54 2h0m-180 2h0m50 0h0m192 0h0m-181 1h0m42 0h0m-60 1h0m257 0h0m-90 2h0m-147 1h0m172 0h0m58 0h0m-255 1h0m176 0h0m58 0h0m30 0h0m-99 2h0m-189 1h0m206 1h0m-9 1h0m47 0h0m-257 1h0m3 1h0m282 0h0m-465 1h0m198 0h0m37 0h0m203 1h0m-251 2h0m197 0h0m-210 2h0m226 4h0m70 0h0m-251 1h0m36 2h0m39 0h0m146 2h0m-449 3h0m387 1h0m-123 1h0m137 0h0m91 0h0m-172 1h0m8 0h0m144 0h0m9 0h0m-236 2h0m258 2h0m-91 2h0m79 5h0m-254 2h0m-10 7h0m253 2h0m2 0h0m-263 2h0m285 0h0m-282 5h0m278 0h0m-255 2h0m258 0h0m-268 1h0m243 1h0m15 0h0m-271 4h0m-8 1h0m28 0h0m6 4h0m2 2h0m-29 3h0m0 2h0m20 1h0m16 3h0m-11 1h0m14 1h0m-13 1h0m-14 3h0m27 3h0m12 2h0m-84 1h0m18 1h0m36 1h0m1 1h0m15 0h0m1 3h0m-10 1h0m-16 5h0m11 1h0m8 1h0"/>
<path stroke="#f6c97f" d="M727 763h0m7 3h0m2 2h0m-221 1h0m47 1h0m-5 1h0m191 5h0m-253 1h0m-5 1h0m75 0h0m-100 1h0m91 0h0m-32 1h0m208 3h0m-252 2h0m36 0h0m4 0h0m10 0h0m5 0h0m225 0h0m2 0h0m-8 3h0m3 0h0m4 0h0m-367 1h0m65 0h0m94 0h0m2 0h0m32 0h0m-143 1h0m118 0h0m-193 1h0m85 0h0m-54 1h0m23 0h0m57 0h0m264 0h0m-338 1h0m4 0h0m3 0h0m7 0h0m7 0h0m2 0h0m-58 1h0m16 1h0m25 0h0m8 0h0m36 0h0m303 0h0m-239 1h0m27 0h0m204 0h0m-11 1h0m-236 1h0m69 0h0m-205 2h0m62 0h0m93 0h0m4 0h0m-70 1h0m36 1h0m14 0h0m74 0h0m16 0h0m-240 2h0m86 0h0m3 1h0m0 4h0m-83 1h0m71 0h0m3 0h0m168 0h0m-17 1h0m-195 2h0m117 0h0m-123 1h0m20 0h0m-79 2h0m86 0h0m73 0h0m96 0h0m-166 1h0m-46 2h0m-1 1h0m48 0h0m8 0h0m95 1h0m74 2h0m-105 1h0m-121 1h0m34 1h0m9 0h0m131 0h0m9 0h0m-139 1h0m157 0h0m-198 1h0m53 0h0m102 0h0m86 0h0m-90 1h0m23 0h0m24 0h0m-162 1h0m25 0h0m66 0h0m73 0h0m33 0h0m-81 1h0m3 0h0m-107 1h0m175 0h0m14 0h0m-297 1h0m123 0h0m111 0h0m-223 2h0m45 0h0m55 0h0m3 0h0m103 0h0m68 0h0m-236 1h0m196 0h0m36 0h0m9 0h0m99 0h0m-339 1h0m72 0h0m98 0h0m75 0h0m-131 1h0m48 0h0m59 0h0m-290 1h0m21 0h0m37 0h0m25 0h0m117 0h0m31 0h0m37 0h0m40 0h0m-295 1h0m13 0h0m113 0h0m53 0h0m59 0h0m39 0h0m-213 1h0m172 0h0m36 0h0m90 0h0m24 0h0m-282 1h0m16 0h0m57 0h0m141 0h0m-326 1h0m2 0h0m20 0h0m212 0h0m117 0h0m-341 1h0m160 0h0m21 0h0m98 0h0m-276 1h0m32 0h0m276 0h0m-288 1h0m1 0h0m19 0h0m59 0h0m28 0h0m46 0h0m159 0h0m42 0h0m-330 1h0m63 0h0m77 0h0m19 0h0m33 0h0m50 0h0m24 0h0m89 0h0m-349 1h0m5 0h0m164 0h0m74 0h0m-253 1h0m94 0h0m56 0h0m106 0h0m-279 1h0m128 0h0m97 0h0m15 0h0m33 0h0m12 0h0m49 0h0m12 0h0m-384 1h0m15 0h0m158 0h0m58 0h0m10 0h0m-238 1h0m204 0h0m42 0h0m-186 1h0m180 0h0m64 0h0m-296 1h0m128 0h0m24 0h0m14 0h0m2 0h0m23 0h0m26 0h0m8 0h0m68 0h0m-294 1h0m46 0h0m44 0h0m24 0h0m189 0h0m-333 1h0m49 0h0m70 0h0m38 0h0m136 0h0m103 0h0m-328 1h0m59 0h0m3 0h0m25 0h0m128 0h0m174 0h0m7 0h0m-391 1h0m300 0h0m-372 1h0m87 0h0m122 0h0m172 0h0m89 0h0m-447 1h0m107 0h0m91 0h0m151 0h0m-368 1h0m32 0h0m44 0h0m59 0h0m100 0h0m26 0h0m16 0h0m173 0h0m-444 1h0m89 0h0m1 0h0m31 0h0m109 0h0m200 0h0m18 0h0m11 0h0m7 0h0m-412 1h0m74 0h0m94 0h0m232 0h0m-455 1h0m60 0h0m6 0h0m19 0h0m115 0h0m14 0h0m222 0h0m-443 1h0m15 0h0m33 0h0m79 0h0m42 0h0m108 0h0m93 0h0m-351 1h0m12 0h0m14 0h0m21 0h0m65 0h0m-100 1h0m187 1h0m111 0h0m137 0h0m-432 1h0m4 0h0m77 0h0m-123 1h0m48 0h0m47 0h0m119 0h0m217 0h0m-436 1h0m52 0h0m19 0h0m38 0h0m111 0h0m239 0h0m-444 1h0m3 0h0m15 0h0m22 0h0m143 0h0m73 0h0m17 0h0m64 0h0m-298 1h0m16 0h0m39 0h0m14 0h0m1 0h0m1 0h0m8 0h0m143 0h0m-254 1h0m42 0h0m146 0h0m50 0h0m192 0h0m18 0h0m-639 1h0m18 0h0m221 0h0m63 0h0m208 0h0m6 0h0m81 0h0m-565 1h0m244 0h0m11 0h0m23 0h0m290 0h0m-422 1h0m40 0h0m35 0h0m74 0h0m118 0h0m59 0h0m-328 1h0m74 0h0m65 0h0m4 0h0m90 0h0m-209 1h0m26 0h0m18 0h0m34 0h0m23 0h0m9 0h0m208 0h0m30 0h0m-343 1h0m59 0h0m42 0h0m6 0h0m3 0h0m191 0h0m-516 1h0m334 0h0m11 0h0m144 0h0m-305 1h0m21 0h0m315 0h0m91 0h0m-603 1h0m319 0h0m145 0h0m81 0h0m-346 1h0m47 0h0m112 0h0m18 0h0m177 0h0m16 0h0m71 0h0m-652 1h0m266 0h0m143 0h0m81 0h0m79 0h0m-339 1h0m109 0h0m103 0h0m125 0h0m-350 1h0m25 0h0m26 0h0m253 0h0m-309 1h0m13 0h0m72 0h0m181 0h0m43 0h0m51 0h0m-370 1h0m13 0h0m78 0h0m26 0h0m-327 1h0m225 0h0m96 0h0m219 0h0m-291 1h0m64 0h0m40 0h0m43 0h0m157 0h0m-310 1h0m205 0h0m128 0h0m118 0h0m-691 2h0m218 0h0m114 0h0m23 0h0m369 0h0m-720 1h0m190 0h0m84 0h0m20 0h0m-84 1h0m6 0h0m260 0h0m-248 1h0m66 0h0m139 0h0m-202 1h0m68 0h0m35 0h0m33 0h0m1 1h0m36 0h0m-88 1h0m21 0h0m-121 1h0m130 0h0m-112 1h0m49 0h0m33 0h0m10 0h0m-62 1h0m63 0h0m4 0h0m13 0h0m85 0h0m-181 1h0m17 0h0m45 0h0m-56 1h0m64 0h0m103 0h0m-194 1h0m49 0h0m144 0h0m-130 1h0m71 0h0m58 0h0m7 1h0m1 0h0m15 0h0m-24 1h0m17 0h0m-77 1h0m167 0h0m-277 1h0m99 0h0m226 0h0m-220 1h0m-93 1h0m37 0h0m5 0h0m24 0h0m401 0h0m-480 1h0m32 0h0m17 0h0m64 0h0m360 0h0m-426 1h0m18 0h0m14 0h0m94 0h0m14 0h0m-208 1h0m49 0h0m231 1h0m197 0h0m16 0h0m-202 1h0m-248 1h0m69 0h0m-67 1h0m3 0h0m29 0h0m28 0h0m133 0h0m61 0h0m-211 1h0m201 1h0m-269 1h0m104 0h0m-34 3h0m37 1h0m98 0h0m65 0h0m-232 1h0m8 0h0m-40 1h0m4 0h0m130 0h0m-36 1h0m-3 1h0m-73 1h0m3 0h0m252 0h0m95 0h0m-344 1h0m157 0h0m-19 1h0m1 0h0m149 0h0m-249 1h0m99 0h0m10 0h0m197 0h0m-276 1h0m13 0h0m162 0h0m103 0h0m4 0h0m-351 1h0m71 0h0m2 0h0m76 0h0m216 0h0m-276 1h0m94 0h0m148 0h0m-256 1h0m33 0h0m3 0h0m-69 1h0m44 0h0m75 0h0m15 0h0m121 0h0m83 1h0m-298 1h0m72 0h0m38 0h0m54 0h0m136 0h0m-413 1h0m286 0h0m-278 1h0m21 0h0m82 0h0m159 0h0m123 1h0m-389 1h0m246 0h0m140 0h0m-160 1h0m-20 2h0m21 0h0m14 0h0m-205 1h0m178 0h0m195 0h0m-22 1h0m-278 1h0m167 0h0m-90 1h0m-36 1h0m10 0h0m234 0h0m-362 1h0m131 0h0m248 0h0m-403 1h0m17 0h0m3 0h0m6 0h0m30 0h0m39 0h0m101 0h0m-36 1h0m1 0h0m102 0h0m202 0h0m-440 1h0m117 0h0m122 0h0m135 0h0m-393 1h0m4 0h0m281 0h0m111 0h0m11 0h0m-316 1h0m277 0h0m95 0h0m-430 1h0m345 0h0m-206 1h0m51 0h0m15 0h0m5 0h0m158 0h0m-255 1h0m44 0h0m175 0h0m46 0h0m-173 1h0m168 0h0m-225 1h0m-99 1h0m85 0h0m56 0h0m153 0h0m-320 1h0m42 0h0m38 0h0m55 0h0m173 0h0m30 0h0m-329 1h0m27 0h0m60 2h0m36 0h0m-109 1h0m60 0h0m248 0h0m31 0h0m-339 2h0m3 0h0m101 0h0m142 0h0m-154 1h0m229 1h0m-253 1h0m247 0h0m-333 1h0m267 0h0m47 0h0m-301 1h0m126 0h0m-112 1h0m90 0h0m186 1h0m31 0h0m77 1h0m-409 1h0m318 0h0m-288 1h0m238 0h0m-236 1h0m107 0h0m196 0h0m32 0h0m75 1h0m-182 1h0m-219 1h0m-338 1h0m343 0h0m45 0h0m66 0h0m185 0h0m-277 1h0m3 0h0m258 0h0m-273 1h0m140 3h0m70 0h0m-78 1h0m93 0h0m135 0h0m-256 1h0m181 0h0m88 0h0m-214 1h0m41 0h0m20 0h0m-78 1h0m186 0h0m-227 1h0m19 0h0m-6 1h0m10 0h0m202 0h0m-665 1h0m509 1h0m37 0h0m-104 1h0m321 1h0m-419 1h0m102 0h0m92 0h0m-6 1h0m155 1h0m-270 1h0m123 0h0m17 0h0m3 0h0m72 0h0m-203 1h0m58 0h0m193 1h0m-546 1h0m350 0h0m71 1h0m207 0h0m-294 1h0m25 0h0m185 0h0m11 1h0m-208 1h0m8 0h0m-493 2h0m468 0h0m27 0h0m-77 1h0m330 0h0m-443 1h0m449 0h0m-71 1h0m41 0h0m-68 3h0m-531 1h0m349 0h0m14 0h0m58 0h0m126 1h0m-254 1h0m55 0h0m224 0h0m-578 1h0m315 0h0m60 0h0m262 0h0m1 0h0m24 0h0m-350 1h0m42 0h0m240 0h0m-302 1h0m312 0h0m-591 1h0m103 0h0m497 0h0m26 0h0m-256 1h0m250 0h0m-13 1h0m-264 1h0m20 0h0m4 0h0m259 0h0m-534 2h0m243 0h0m23 0h0m177 0h0m1 0h0m59 0h0m1 0h0m7 0h0m48 0h0m-43 1h0m32 0h0m-434 1h0m171 0h0m217 0h0m32 0h0m12 0h0m-406 1h0m13 0h0m79 0h0m219 0h0m-449 1h0m268 0h0m265 0h0m-55 1h0m13 0h0m3 0h0m-246 1h0m1 0h0m1 0h0m21 0h0m219 0h0m11 0h0m-248 1h0m20 0h0m248 0h0m36 0h0m-315 1h0m15 0h0m25 0h0m235 0h0m24 0h0m-295 1h0m5 0h0m16 0h0m41 1h0m-77 1h0m13 0h0m46 0h0m236 0h0m-756 1h0m229 0h0m512 0h0m-29 1h0m15 0h0m-499 1h0m506 0h0m-506 1h0m249 0h0m6 0h0m227 0h0m-709 1h0m755 0h0m3 0h0m-389 2h0m374 0h0m32 0h0m-401 1h0m96 0h0m73 0h0m184 0h0m21 0h0m-536 1h0m13 0h0m288 0h0m241 0h0m-779 1h0m233 0h0m289 0h0m48 0h0m165 0h0m15 0h0m-237 1h0m-10 1h0m127 0h0m151 0h0m16 0h0m-4 1h0m-373 1h0m86 0h0m33 0h0m14 0h0m-160 1h0m145 0h0m90 0h0m-632 1h0m9 0h0m727 0h0m48 0h0m16 0h0m-566 1h0m138 0h0m113 0h0m15 0h0m1 0h0m8 0h0m4 0h0m39 0h0m184 0h0m46 0h0m-543 1h0m482 0h0m58 0h0m-253 1h0m19 0h0m5 0h0m205 0h0m32 0h0m6 0h0m-562 1h0m279 0h0m306 0h0m-74 1h0m-289 1h0m68 0h0m1 0h0m11 0h0m47 0h0m185 0h0m-759 1h0m449 0h0m-438 2h0m544 0h0m-207 1h0m-346 1h0m495 0h0m21 0h0m-520 1h0m2 0h0m4 0h0m491 0h0m-133 1h0m147 0h0m6 0h0m176 0h0m-702 1h0m529 0h0m74 0h0m-123 1h0m17 0h0m38 0h0m287 0h0m-172 1h0m-624 1h0m745 0h0m-251 1h0m-520 1h0m782 0h0m-264 1h0m5 0h0m11 0h0m120 0h0m92 0h0m-742 1h0m9 0h0m504 0h0m56 0h0m-64 1h0m20 0h0m-522 1h0m500 0h0m39 0h0m209 0h0m-238 1h0m28 0h0m206 0h0m-56 1h0m52 0h0m-307 1h0m100 0h0m23 0h0m6 0h0m4 0h0m3 0h0m174 0h0m10 0h0m-1 1h0m10 0h0m-335 1h0m87 0h0m231 0h0m-206 1h0m270 0h0m-253 1h0m186 0h0m-217 1h0m21 0h0m20 0h0m156 0h0m-257 1h0m46 0h0m51 0h0m171 0h0m18 0h0m17 0h0m-234 1h0m140 0h0m49 0h0m90 0h0m-297 1h0m41 0h0m92 0h0m82 0h0m12 0h0m46 0h0m-225 1h0m-29 1h0m31 0h0m63 0h0m5 0h0m-147 1h0m14 0h0m16 0h0m5 0h0m5 0h0m10 0h0m220 0h0m9 0h0m6 0h0m-47 2h0m-175 1h0m12 0h0m14 0h0m92 0h0m71 0h0m1 0h0m-213 1h0m49 0h0m-20 1h0m5 0h0m6 0h0m63 0h0m-141 1h0m263 0h0m18 0h0m-198 1h0m170 0h0m-219 1h0m200 0h0m-200 1h0m130 0h0m119 0h0m10 0h0m-246 1h0m68 0h0m58 0h0m82 0h0m-176 1h0m60 0h0m89 0h0m62 1h0m-252 1h0m132 0h0m77 0h0m-184 1h0m236 0h0m-228 1h0m2 0h0m46 0h0m-95 1h0m30 0h0m6 1h0m13 0h0m20 0h0m157 1h0m-184 1h0m99 0h0m101 0h0m-153 1h0m148 0h0m-241 1h0m35 0h0m14 0h0m230 0h0m-289 1h0m57 0h0m10 1h0m63 0h0m132 0h0m-221 1h0m188 0h0m47 0h0m-363 1h0m140 0h0m-3 1h0m216 0h0m4 0h0m11 0h0m-226 1h0m1 1h0m219 0h0m11 0h0m7 1h0m-385 2h0m262 0h0m-70 1h0m165 0h0m-223 2h0m29 0h0m200 1h0m16 0h0m-388 2h0m18 0h0m104 0h0m60 0h0m184 1h0m6 0h0m7 0h0m9 0h0m-403 1h0m41 0h0m364 0h0m-408 1h0m19 0h0m363 0h0m-167 1h0m-240 2h0m65 0h0m363 0h0m-436 1h0m218 0h0m-16 1h0m196 0h0m-167 1h0m208 0h0m-116 1h0m-257 1h0m147 2h0m12 0h0m174 0h0m-214 1h0m222 0h0m36 1h0m-439 1h0m340 0h0m-145 2h0m225 0h0m-421 1h0m85 0h0m298 1h0m36 0h0m-13 1h0m8 0h0m-409 1h0m3 0h0m14 0h0m239 0h0m70 0h0m-168 1h0m100 0h0m-45 1h0m122 0h0m-320 1h0m50 0h0m111 0h0m135 0h0m90 0h0m-343 1h0m346 0h0m-332 1h0m56 1h0m56 0h0m32 1h0m180 0h0m-395 1h0m192 0h0m120 0h0m9 1h0m-302 1h0m253 0h0m-224 1h0m-41 3h0m52 0h0m17 0h0m-65 1h0m135 0h0m125 0h0m-121 2h0m-138 1h0m268 0h0m-226 1h0m221 0h0m-207 1h0m69 0h0m70 0h0m39 0h0m36 1h0m-269 1h0m194 0h0m-210 1h0m62 0h0m4 1h0m188 0h0m-148 2h0m29 0h0m86 0h0m20 0h0m-177 1h0m-2 1h0m-13 1h0m-208 1h0m-6 1h0m5 1h0m-5 2h0m447 0h0m0 1h0m-283 1h0m-168 1h0m225 0h0m179 0h0m-162 2h0m168 0h0m-151 2h0m167 0h0m-179 2h0m236 0h0m6 3h0m-188 2h0m98 0h0m-173 1h0m7 0h0m-240 2h0m222 0h0m177 6h0m106 1h0m-103 2h0m-150 1h0m247 1h0m-265 2h0m253 0h0m-17 9h0m26 2h0m5 1h0m-282 1h0m-1 1h0m-2 1h0m-5 1h0m10 1h0m-6 3h0m0 2h0m11 3h0m-7 5h0m13 2h0m-8 1h0m35 0h0m3 2h0m-18 2h0m-12 2h0m-8 2h0m-7 1h0m33 0h0m-17 1h0m27 1h0m-81 4h0m63 3h0m-21 4h0m26 0h0m-25 6h0m25 2h0"/>
<path stroke="#a3cf6c" d="M537 753h0m-13 2h0m18 1h0m15 4h0m-27 1h0m3 2h0m-12 1h0m22 0h0m184 0h0m-169 2h0m1 0h0m178 0h0m-217 2h0m36 0h0m8 0h0m-33 1h0m8 0h0m17 0h0m-8 1h0m-18 1h0m34 0h0m168 0h0m-217 1h0m46 0h0m173 0h0m-212 1h0m4 1h0m20 0h0m182 0h0m-241 2h0m15 0h0m6 0h0m221 0h0m-223 1h0m57 0h0m158 0h0m-199 1h0m36 0h0m6 0h0m-89 1h0m5 0h0m245 0h0m-268 1h0m36 0h0m45 0h0m18 0h0m12 1h0m179 0h0m14 0h0m-372 1h0m158 0h0m211 0h0m-321 1h0m51 0h0m13 0h0m90 0h0m-92 1h0m5 0h0m-70 1h0m55 0h0m13 0h0m3 0h0m223 0h0m9 0h0m3 0h0m6 0h0m-370 1h0m17 0h0m53 0h0m56 0h0m61 0h0m175 1h0m23 0h0m-325 1h0m58 0h0m245 0h0m-241 1h0m241 0h0m11 0h0m-376 1h0m20 0h0m39 0h0m21 0h0m3 0h0m32 0h0m262 0h0m6 0h0m-321 1h0m59 0h0m-102 1h0m52 0h0m75 0h0m25 0h0m198 0h0m-250 1h0m41 0h0m1 0h0m51 0h0m164 0h0m-339 1h0m4 0h0m35 0h0m40 0h0m20 0h0m40 0h0m-98 1h0m65 0h0m4 0h0m-152 1h0m34 0h0m26 0h0m98 0h0m64 0h0m11 0h0m1 0h0m-191 1h0m27 0h0m62 0h0m230 0h0m-290 1h0m58 0h0m4 0h0m27 0h0m219 0h0m-304 1h0m49 0h0m1 0h0m11 0h0m41 0h0m-108 1h0m73 0h0m-106 1h0m44 0h0m-40 1h0m16 0h0m5 0h0m8 0h0m17 0h0m152 0h0m-106 1h0m-113 1h0m221 0h0m-226 1h0m49 0h0m66 0h0m-97 1h0m111 0h0m65 0h0m-184 1h0m54 0h0m4 0h0m25 0h0m36 0h0m76 0h0m1 0h0m-205 1h0m120 0h0m82 0h0m-201 1h0m1 0h0m35 0h0m2 0h0m64 0h0m17 0h0m-89 1h0m72 1h0m-87 1h0m3 0h0m45 0h0m153 0h0m2 0h0m-187 1h0m12 0h0m11 0h0m0 1h0m-50 1h0m46 0h0m2 0h0m2 0h0m151 1h0m-258 2h0m115 0h0m40 0h0m111 0h0m-187 1h0m191 0h0m-165 1h0m11 0h0m49 0h0m-91 1h0m125 0h0m71 0h0m1 0h0m9 0h0m38 0h0m-227 1h0m1 0h0m189 0h0m-84 1h0m-70 1h0m35 0h0m61 0h0m-125 1h0m10 0h0m94 0h0m-60 2h0m57 0h0m4 0h0m56 0h0m3 0h0m-273 1h0m105 0h0m144 0h0m16 0h0m21 0h0m-293 1h0m52 0h0m148 0h0m122 0h0m-285 1h0m3 0h0m15 0h0m42 0h0m56 0h0m59 0h0m33 0h0m-197 1h0m81 0h0m107 0h0m36 0h0m33 0h0m-294 1h0m190 0h0m51 0h0m2 0h0m96 0h0m6 0h0m-359 1h0m50 0h0m233 0h0m7 0h0m1 0h0m-242 1h0m72 0h0m12 0h0m8 0h0m49 0h0m22 0h0m28 0h0m45 0h0m60 0h0m22 0h0m-364 1h0m55 0h0m108 0h0m69 0h0m60 0h0m-178 1h0m24 0h0m103 0h0m38 0h0m-232 1h0m116 0h0m4 0h0m165 0h0m9 0h0m-218 1h0m101 0h0m149 0h0m-367 1h0m99 0h0m16 0h0m110 0h0m40 0h0m6 0h0m-64 1h0m20 0h0m6 0h0m-126 1h0m50 0h0m13 0h0m53 0h0m44 0h0m25 0h0m48 0h0m-357 1h0m77 0h0m110 0h0m41 0h0m20 0h0m107 0h0m-211 1h0m2 0h0m34 0h0m56 0h0m71 0h0m34 0h0m21 0h0m-362 1h0m183 0h0m5 0h0m35 0h0m34 0h0m2 0h0m43 0h0m18 0h0m55 0h0m21 0h0m-415 1h0m130 0h0m8 0h0m10 0h0m106 0h0m5 0h0m16 0h0m45 0h0m64 0h0m19 0h0m-384 1h0m50 0h0m163 0h0m27 0h0m59 0h0m4 0h0m42 0h0m-293 1h0m20 0h0m72 0h0m40 0h0m8 0h0m43 0h0m66 0h0m-314 1h0m172 0h0m17 0h0m1 0h0m26 0h0m13 0h0m27 0h0m36 0h0m27 0h0m8 0h0m5 0h0m46 0h0m32 0h0m-226 1h0m85 0h0m18 0h0m25 0h0m31 0h0m-347 1h0m18 0h0m312 0h0m12 0h0m1 0h0m27 0h0m33 0h0m-399 1h0m18 0h0m109 0h0m35 0h0m43 0h0m100 0h0m22 0h0m57 0h0m18 0h0m1 0h0m2 0h0m-384 1h0m117 0h0m65 0h0m35 0h0m8 0h0m22 0h0m24 0h0m19 0h0m40 0h0m41 0h0m22 0h0m-290 1h0m65 0h0m82 0h0m163 0h0m5 0h0m-337 1h0m79 0h0m46 0h0m41 0h0m15 0h0m115 0h0m-282 1h0m12 0h0m25 0h0m119 0h0m128 0h0m-54 1h0m-371 1h0m4 0h0m181 0h0m140 0h0m26 0h0m36 0h0m2 0h0m30 0h0m-389 1h0m5 0h0m14 0h0m45 0h0m63 0h0m46 0h0m3 0h0m63 0h0m109 0h0m-248 1h0m41 0h0m162 0h0m124 0h0m23 0h0m-474 1h0m84 0h0m22 0h0m18 0h0m20 0h0m318 0h0m-200 1h0m108 0h0m7 0h0m-317 1h0m7 0h0m164 0h0m93 0h0m10 0h0m93 0h0m22 0h0m2 0h0m-434 1h0m4 0h0m53 0h0m23 0h0m28 0h0m7 0h0m74 0h0m17 0h0m69 0h0m49 0h0m108 0h0m-344 1h0m25 0h0m46 0h0m87 0h0m83 0h0m66 0h0m-394 1h0m12 0h0m186 0h0m9 0h0m229 0h0m-424 1h0m21 0h0m9 0h0m76 0h0m72 0h0m5 0h0m6 0h0m8 0h0m13 0h0m116 0h0m71 0h0m32 0h0m-471 1h0m82 0h0m127 0h0m4 0h0m8 0h0m48 0h0m14 0h0m92 0h0m13 0h0m19 0h0m43 0h0m-314 1h0m15 0h0m69 0h0m11 0h0m4 0h0m40 0h0m81 0h0m27 0h0m12 0h0m1 0h0m31 0h0m49 0h0m-469 1h0m135 0h0m1 0h0m5 0h0m71 0h0m44 0h0m4 0h0m64 0h0m29 0h0m116 0h0m-416 1h0m88 0h0m90 0h0m92 0h0m111 0h0m-417 1h0m322 0h0m7 0h0m19 0h0m55 0h0m-390 1h0m44 0h0m69 0h0m24 0h0m35 0h0m42 0h0m15 0h0m22 0h0m51 0h0m31 0h0m25 0h0m51 0h0m7 0h0m13 0h0m7 0h0m1 0h0m3 0h0m-465 1h0m17 0h0m63 0h0m31 0h0m15 0h0m97 0h0m4 0h0m37 0h0m70 0h0m-276 1h0m105 0h0m41 0h0m9 0h0m243 0h0m4 0h0m-350 1h0m97 0h0m12 0h0m24 0h0m79 0h0m17 0h0m11 0h0m18 0h0m90 0h0m-450 1h0m4 0h0m4 0h0m196 0h0m39 0h0m5 0h0m80 0h0m-245 1h0m76 0h0m98 0h0m77 0h0m99 0h0m15 0h0m-457 1h0m30 0h0m17 0h0m11 0h0m66 0h0m-98 1h0m10 0h0m57 0h0m40 0h0m-92 1h0m123 0h0m75 0h0m1 0h0m87 0h0m9 0h0m86 0h0m4 0h0m14 0h0m-371 1h0m5 0h0m6 0h0m86 0h0m29 0h0m52 0h0m6 0h0m19 0h0m100 0h0m64 0h0m-619 1h0m217 0h0m152 0h0m2 0h0m106 0h0m69 0h0m20 0h0m41 0h0m4 0h0m-424 1h0m20 0h0m20 0h0m63 0h0m38 0h0m109 0h0m49 0h0m-235 1h0m374 0h0m-10 1h0m-388 1h0m149 0h0m62 0h0m4 0h0m3 0h0m-174 1h0m8 0h0m30 0h0m14 0h0m23 0h0m10 0h0m10 0h0m60 0h0m37 0h0m63 0h0m-196 1h0m14 0h0m25 0h0m71 0h0m107 0h0m51 0h0m-398 1h0m1 0h0m147 0h0m25 0h0m111 0h0m-276 1h0m1 0h0m19 0h0m115 0h0m31 0h0m41 0h0m137 0h0m-361 1h0m20 0h0m105 0h0m63 0h0m88 0h0m93 0h0m-339 1h0m26 0h0m52 0h0m71 0h0m63 0h0m116 0h0m-262 1h0m185 0h0m10 0h0m83 0h0m-185 1h0m298 0h0m-461 1h0m143 0h0m109 0h0m32 0h0m28 0h0m6 1h0m164 0h0m-405 1h0m127 0h0m56 0h0m73 0h0m-321 1h0m1 0h0m63 0h0m53 0h0m36 0h0m-163 1h0m54 0h0m47 0h0m217 0h0m-323 1h0m41 0h0m46 0h0m41 0h0m18 0h0m3 0h0m48 0h0m-75 1h0m3 0h0m1 0h0m45 0h0m167 0h0m157 0h0m-473 1h0m68 0h0m3 0h0m58 0h0m108 0h0m10 0h0m-58 1h0m269 0h0m-290 1h0m94 0h0m-220 1h0m211 0h0m5 0h0m214 0h0m-485 1h0m118 0h0m127 0h0m1 0h0m30 0h0m-32 1h0m36 0h0m213 0h0m-459 1h0m38 0h0m0 1h0m65 0h0m53 0h0m-11 1h0m307 0h0m-294 1h0m-103 1h0m80 0h0m68 0h0m-146 1h0m18 0h0m206 0h0m-253 1h0m10 0h0m188 0h0m6 0h0m3 0h0m2 0h0m50 0h0m154 0h0m-494 1h0m42 0h0m3 0h0m85 0h0m6 0h0m7 0h0m2 0h0m12 0h0m44 0h0m299 0h0m-469 1h0m62 0h0m402 0h0m-453 1h0m15 0h0m40 0h0m419 0h0m-460 1h0m3 1h0m31 0h0m28 0h0m11 0h0m17 0h0m142 0h0m-208 1h0m-29 1h0m440 0h0m-438 1h0m77 0h0m46 0h0m11 0h0m86 0h0m-189 1h0m31 0h0m-63 1h0m102 0h0m328 0h0m-349 1h0m90 0h0m19 0h0m6 0h0m84 0h0m-280 1h0m16 0h0m55 0h0m43 0h0m-76 1h0m35 0h0m-84 1h0m28 0h0m96 0h0m95 0h0m89 0h0m-281 1h0m28 0h0m210 0h0m38 0h0m10 0h0m-300 1h0m7 0h0m3 0h0m39 0h0m196 0h0m19 0h0m-96 1h0m60 0h0m36 0h0m1 0h0m124 0h0m37 0h0m-426 1h0m247 0h0m-199 1h0m5 0h0m49 0h0m149 0h0m164 0h0m-412 1h0m29 0h0m57 0h0m-89 1h0m181 0h0m45 0h0m135 0h0m11 0h0m-232 1h0m119 0h0m83 0h0m-310 1h0m95 0h0m32 0h0m76 0h0m1 0h0m122 0h0m-323 1h0m198 0h0m18 0h0m95 0h0m-151 1h0m70 0h0m110 0h0m-351 1h0m68 0h0m44 0h0m14 0h0m26 0h0m26 0h0m7 0h0m27 0h0m11 0h0m3 0h0m49 0h0m74 0h0m-349 1h0m57 0h0m94 0h0m6 0h0m2 0h0m97 0h0m98 0h0m-290 1h0m30 0h0m70 0h0m10 0h0m9 0h0m2 0h0m37 0h0m84 0h0m36 0h0m-233 1h0m8 0h0m78 0h0m128 0h0m-334 1h0m8 0h0m106 0h0m116 0h0m46 0h0m80 0h0m42 0h0m-295 1h0m10 0h0m2 0h0m7 0h0m10 0h0m3 0h0m12 0h0m17 0h0m255 0h0m-344 1h0m59 0h0m8 0h0m6 0h0m2 0h0m26 0h0m-201 1h0m16 0h0m189 0h0m-167 1h0m60 0h0m70 0h0m15 0h0m6 0h0m16 0h0m41 0h0m141 0h0m-340 1h0m117 0h0m27 0h0m30 0h0m24 0h0m19 0h0m21 0h0m74 0h0m39 0h0m-396 1h0m234 0h0m8 0h0m135 0h0m27 0h0m-209 1h0m9 0h0m1 0h0m2 0h0m46 0h0m42 0h0m9 0h0m151 0h0m-438 1h0m213 0h0m162 0h0m-309 1h0m302 0h0m-293 1h0m299 0h0m4 0h0m-321 1h0m85 0h0m35 0h0m72 0h0m174 0h0m34 0h0m-454 1h0m81 0h0m115 0h0m41 0h0m168 0h0m2 0h0m-342 1h0m63 0h0m23 0h0m67 0h0m18 0h0m-255 1h0m85 0h0m4 0h0m5 0h0m11 0h0m55 0h0m44 0h0m59 0h0m25 1h0m92 0h0m10 0h0m60 0h0m-389 1h0m134 0h0m263 0h0m-370 1h0m9 0h0m5 0h0m29 0h0m21 0h0m23 0h0m64 0h0m46 0h0m95 0h0m5 0h0m19 0h0m-375 1h0m27 0h0m10 0h0m12 0h0m78 0h0m106 0h0m-252 1h0m10 0h0m65 0h0m79 0h0m115 0h0m10 0h0m128 0h0m31 0h0m-370 1h0m20 0h0m1 0h0m81 0h0m2 0h0m104 0h0m114 0h0m-343 1h0m20 0h0m19 0h0m12 0h0m58 0h0m35 0h0m14 0h0m21 0h0m43 0h0m-185 1h0m9 0h0m39 0h0m16 0h0m106 0h0m136 0h0m34 0h0m-568 1h0m323 0h0m-95 1h0m10 0h0m88 0h0m3 0h0m44 0h0m185 0h0m34 0h0m-307 1h0m29 0h0m14 0h0m-17 1h0m108 0h0m59 0h0m77 0h0m6 0h0m7 0h0m-346 1h0m7 0h0m3 0h0m18 0h0m33 0h0m25 0h0m4 0h0m-107 1h0m13 0h0m338 0h0m-318 1h0m50 0h0m255 0h0m43 0h0m-357 1h0m73 0h0m67 0h0m126 0h0m87 0h0m-223 1h0m180 0h0m8 0h0m-298 1h0m13 0h0m66 0h0m103 0h0m46 0h0m-145 1h0m37 0h0m9 0h0m-162 1h0m70 0h0m33 0h0m7 0h0m34 0h0m10 0h0m157 0h0m8 0h0m28 0h0m-315 1h0m35 0h0m75 0h0m184 0h0m-245 1h0m44 0h0m187 0h0m16 0h0m61 0h0m-376 1h0m12 0h0m81 0h0m196 0h0m-333 1h0m33 0h0m86 0h0m10 0h0m7 0h0m47 0h0m3 0h0m253 0h0m19 0h0m-412 1h0m118 1h0m137 0h0m23 0h0m8 0h0m47 0h0m-266 1h0m2 0h0m78 0h0m78 0h0m54 0h0m-186 1h0m23 0h0m172 0h0m21 0h0m27 0h0m-72 1h0m5 0h0m-230 1h0m16 0h0m177 0h0m31 0h0m-246 1h0m113 0h0m20 0h0m-119 1h0m114 0h0m95 0h0m61 0h0m-342 1h0m49 0h0m54 0h0m21 0h0m15 0h0m3 0h0m128 0h0m21 0h0m-66 1h0m58 0h0m5 0h0m41 0h0m113 0h0m-729 1h0m369 0h0m85 0h0m90 0h0m-222 2h0m138 0h0m104 0h0m83 0h0m113 0h0m-351 1h0m142 0h0m13 0h0m102 0h0m-239 1h0m8 0h0m35 0h0m56 0h0m98 0h0m5 0h0m-283 1h0m86 0h0m88 0h0m132 0h0m-236 1h0m18 0h0m116 0h0m-154 1h0m179 0h0m79 0h0m-292 1h0m63 0h0m15 0h0m54 0h0m148 0h0m100 0h0m-275 1h0m27 0h0m255 0h0m-408 1h0m105 0h0m-71 1h0m185 0h0m-137 1h0m1 0h0m84 0h0m42 0h0m203 0h0m-245 1h0m49 0h0m99 0h0m91 0h0m27 0h0m-312 1h0m-23 1h0m234 0h0m1 0h0m-95 1h0m109 0h0m-306 1h0m44 0h0m72 0h0m6 0h0m9 0h0m-53 1h0m35 0h0m73 0h0m-425 2h0m290 1h0m66 0h0m-33 1h0m31 0h0m12 0h0m-385 1h0m315 0h0m82 0h0m-66 1h0m18 0h0m90 0h0m25 0h0m-96 1h0m76 0h0m114 0h0m62 0h0m11 0h0m-268 1h0m91 0h0m176 0h0m-292 1h0m7 0h0m92 0h0m-439 1h0m5 0h0m352 0h0m101 0h0m168 0h0m-615 1h0m378 0h0m44 0h0m19 0h0m25 0h0m-119 1h0m195 0h0m-541 1h0m326 0h0m95 0h0m154 0h0m-396 1h0m183 0h0m24 0h0m50 0h0m202 0h0m-325 1h0m16 0h0m3 0h0m26 0h0m3 0h0m23 0h0m43 0h0m135 0h0m-231 1h0m12 0h0m3 0h0m-233 1h0m176 0h0m16 0h0m5 0h0m21 0h0m54 0h0m65 0h0m95 0h0m51 0h0m56 0h0m-286 1h0m23 0h0m26 0h0m197 0h0m-508 1h0m369 0h0m118 0h0m-262 1h0m0 1h0m64 0h0m69 0h0m91 0h0m-172 1h0m-77 1h0m20 0h0m340 0h0m-353 1h0m3 0h0m33 0h0m61 0h0m247 0h0m-261 1h0m257 0h0m-349 1h0m18 0h0m220 0h0m60 0h0m1 0h0m9 0h0m2 0h0m-7 1h0m15 0h0m-184 1h0m182 0h0m6 0h0m4 0h0m14 0h0m-319 1h0m310 0h0m-14 1h0m-514 1h0m235 0h0m276 0h0m26 0h0m-724 1h0m398 0h0m224 0h0m47 0h0m10 0h0m-373 1h0m130 0h0m77 0h0m5 0h0m178 0h0m1 0h0m-519 1h0m270 0h0m34 0h0m4 0h0m14 0h0m23 0h0m212 1h0m-66 1h0m-377 1h0m53 0h0m79 0h0m19 0h0m49 1h0m237 0h0m-320 1h0m25 0h0m31 0h0m30 0h0m146 0h0m95 0h0m-311 1h0m9 1h0m219 0h0m47 0h0m11 0h0m-232 1h0m166 0h0m-139 1h0m106 0h0m110 0h0m-393 1h0m119 0h0m126 0h0m10 0h0m79 0h0m-371 1h0m143 0h0m59 0h0m181 0h0m26 0h0m-533 1h0m9 0h0m152 0h0m138 0h0m-286 1h0m156 0h0m351 0h0m-520 1h0m248 0h0m245 0h0m52 0h0m-277 1h0m261 0h0m26 0h0m-252 1h0m206 0h0m-285 1h0m105 0h0m142 0h0m30 0h0m-740 1h0m410 0h0m107 0h0m56 0h0m123 0h0m8 0h0m-175 1h0m236 0h0m-235 1h0m77 0h0m95 0h0m70 0h0m-369 1h0m115 0h0m17 0h0m230 0h0m56 0h0m-806 1h0m369 0h0m119 0h0m56 0h0m250 0h0m-44 1h0m30 1h0m-793 1h0m388 0h0m17 0h0m233 0h0m125 0h0m-390 1h0m202 0h0m139 0h0m25 0h0m-367 1h0m17 0h0m3 0h0m424 0h0m-445 1h0m233 0h0m146 0h0m-245 2h0m-504 1h0m383 0h0m55 0h0m93 0h0m35 0h0m-68 1h0m-5 1h0m19 0h0m88 0h0m100 0h0m80 0h0m35 1h0m-61 1h0m-747 1h0m488 0h0m7 0h0m189 0h0m53 1h0m58 0h0m-292 1h0m44 0h0m207 0h0m15 0h0m-221 1h0m-549 1h0m693 0h0m4 0h0m-157 1h0m49 0h0m-58 2h0m260 0h0m-276 1h0m42 1h0m6 0h0m137 0h0m-88 1h0m-59 1h0m81 0h0m58 0h0m42 0h0m35 0h0m-141 1h0m-82 1h0m152 0h0m20 0h0m62 0h0m-353 1h0m216 0h0m18 0h0m81 0h0m-193 1h0m120 0h0m64 0h0m11 0h0m62 0h0m-249 3h0m1 0h0m93 0h0m110 0h0m-260 1h0m250 0h0m-15 1h0m1 0h0m-70 1h0m98 0h0m-11 2h0m-299 1h0m189 0h0m1 0h0m114 0h0m9 0h0m-258 1h0m129 0h0m73 0h0m-202 1h0m238 0h0m-249 1h0m153 0h0m101 0h0m-255 1h0m7 0h0m141 1h0m23 1h0m-132 1h0m13 1h0m208 0h0m-269 1h0m276 0h0m-141 2h0m12 0h0m105 1h0m27 1h0m-209 1h0m46 0h0m-4 2h0m165 0h0m4 0h0m-232 2h0m5 0h0m65 0h0m164 0h0m-212 1h0m223 1h0m-384 1h0m130 0h0m227 1h0m20 0h0m1 0h0m-205 2h0m10 0h0m-1 1h0m-180 1h0m148 0h0m9 0h0m94 0h0m119 0h0m-387 1h0m357 0h0m-196 1h0m9 0h0m-286 1h0m320 0h0m53 1h0m14 1h0m4 0h0m-278 2h0m285 0h0m-409 1h0m382 0h0m-245 2h0m256 0h0m-261 2h0m158 0h0m27 0h0m188 0h0m-370 1h0m181 0h0m32 0h0m146 0h0m4 2h0m-185 1h0m199 1h0m-235 2h0m235 1h0m-111 2h0m-43 1h0m-249 1h0m406 0h0m-334 1h0m218 0h0m77 0h0m11 0h0m-108 1h0m86 1h0m-355 1h0m293 0h0m-261 5h0m352 0h0m18 0h0m-241 2h0m140 1h0m-306 1h0m42 4h0m6 0h0m159 2h0m-204 2h0m217 2h0m64 1h0m-88 2h0m-178 1h0m-22 1h0m31 0h0m196 0h0m57 4h0m-279 1h0m219 1h0m67 0h0m-474 1h0m302 0h0m85 2h0m12 0h0m-397 1h0m399 0h0m53 0h0m-64 2h0m10 1h0m75 3h0m-488 1h0m489 0h0m-96 1h0m12 1h0m-156 3h0m76 0h0m163 2h0m-225 2h0m41 3h0m204 6h0m-5 1h0m-14 5h0m15 1h0m-35 6h0m-240 1h0m273 6h0m-295 3h0m3 0h0m23 1h0m18 0h0m3 1h0m-19 5h0m-18 2h0m41 3h0m-47 3h0m8 1h0m5 1h0m33 0h0m-44 8h0m30 0h0m17 14h0m-9 7h0m-10 1h0m-12 1h0"/>
<path stroke="#f4a65f" d="M176 747h0m-3 1h0m19 2h0m327 9h0m217 0h0m-222 11h0m-35 11h0m-18 1h0m-32 2h0m-45 2h0m21 1h0m-20 1h0m41 0h0m305 0h0m-315 5h0m-29 1h0m-2 1h0m26 0h0m2 0h0m-39 1h0m48 1h0m17 0h0m305 0h0m-344 1h0m-4 1h0m19 0h0m175 0h0m-206 2h0m51 2h0m4 0h0m76 2h0m-91 1h0m10 0h0m90 1h0m-108 2h0m-85 1h0m88 0h0m63 0h0m112 0h0m-219 3h0m35 0h0m37 2h0m-12 2h0m197 0h0m3 2h0m-308 1h0m54 1h0m155 0h0m-196 1h0m81 1h0m83 0h0m99 0h0m-248 1h0m-26 1h0m318 0h0m-292 1h0m61 1h0m163 1h0m16 0h0m-13 1h0m-261 1h0m133 1h0m-25 1h0m2 1h0m102 0h0m-231 1h0m179 0h0m42 0h0m-216 1h0m111 0h0m45 0h0m-162 1h0m246 2h0m-184 1h0m76 2h0m90 0h0m67 0h0m-313 1h0m270 0h0m38 0h0m-229 1h0m51 0h0m55 0h0m15 0h0m-161 1h0m232 1h0m-211 1h0m139 0h0m6 1h0m-135 1h0m259 0h0m-269 1h0m213 0h0m103 0h0m-355 1h0m39 0h0m91 0h0m-128 1h0m133 0h0m-140 1h0m11 0h0m23 0h0m195 0h0m-256 1h0m158 0h0m58 0h0m66 0h0m36 0h0m102 0h0m-420 1h0m279 0h0m194 0h0m-451 1h0m298 0h0m-315 1h0m4 0h0m2 0h0m344 0h0m-257 1h0m109 0h0m51 0h0m15 0h0m-179 1h0m144 0h0m8 0h0m-247 1h0m152 0h0m70 0h0m19 0h0m229 0h0m-341 2h0m13 0h0m17 0h0m68 0h0m41 0h0m176 1h0m2 0h0m-448 1h0m44 1h0m88 0h0m135 0h0m216 0h0m-412 1h0m34 0h0m140 0h0m-206 1h0m-36 1h0m25 0h0m97 0h0m9 0h0m146 0h0m-242 1h0m17 0h0m75 0h0m15 0h0m-139 1h0m14 0h0m230 0h0m19 0h0m-241 1h0m189 0h0m103 0h0m47 0h0m17 0h0m-278 1h0m37 0h0m72 0h0m127 0h0m120 0h0m-435 1h0m410 0h0m-405 1h0m83 0h0m-41 1h0m59 0h0m44 0h0m85 0h0m-135 1h0m19 0h0m111 0h0m72 0h0m88 0h0m-362 1h0m21 0h0m9 0h0m41 0h0m354 0h0m-428 1h0m23 0h0m399 0h0m-406 1h0m122 0h0m87 0h0m81 0h0m-344 1h0m240 0h0m-226 1h0m35 0h0m38 0h0m84 0h0m76 0h0m-229 1h0m10 0h0m218 0h0m-445 1h0m4 0h0m198 0h0m106 0h0m-102 1h0m86 0h0m8 0h0m135 0h0m106 0h0m-357 1h0m13 0h0m-202 1h0m310 0h0m-123 1h0m18 0h0m21 0h0m117 0h0m34 0h0m-37 1h0m208 0h0m-545 1h0m211 0h0m15 0h0m-24 1h0m201 0h0m-412 1h0m2 0h0m231 0h0m29 0h0m-260 1h0m568 0h0m-365 1h0m7 0h0m53 0h0m216 0h0m-258 1h0m315 0h0m-320 1h0m-12 1h0m95 0h0m43 0h0m144 0h0m-183 1h0m120 0h0m-113 1h0m24 0h0m97 0h0m274 0h0m-486 3h0m32 0h0m6 0h0m262 0h0m-236 1h0m8 0h0m-29 1h0m-39 1h0m105 1h0m112 1h0m-179 1h0m6 2h0m213 0h0m233 0h0m-411 1h0m195 0h0m-177 1h0m-13 2h0m190 1h0m-209 1h0m-59 1h0m106 0h0m97 0h0m-130 1h0m28 0h0m69 0h0m-112 1h0m9 1h0m21 0h0m-50 2h0m27 0h0m62 0h0m71 0h0m13 0h0m-121 3h0m22 2h0m27 1h0m27 0h0m-106 1h0m3 0h0m71 0h0m150 0h0m4 0h0m-81 1h0m-41 1h0m70 0h0m9 1h0m190 1h0m-399 1h0m53 0h0m88 1h0m105 0h0m-105 1h0m-55 1h0m205 2h0m74 0h0m-510 1h0m158 0h0m185 0h0m-79 1h0m249 0h0m-326 1h0m8 0h0m346 0h0m-342 1h0m233 0h0m62 0h0m28 0h0m-371 1h0m93 0h0m181 1h0m-22 1h0m22 0h0m98 0h0m-338 1h0m64 1h0m62 0h0m91 0h0m-175 1h0m287 0h0m-381 1h0m40 0h0m159 0h0m269 0h0m-451 2h0m247 0h0m-260 1h0m7 0h0m30 0h0m61 0h0m173 0h0m-190 1h0m325 1h0m-412 1h0m13 0h0m3 0h0m2 0h0m401 0h0m-180 1h0m69 0h0m88 0h0m20 2h0m-346 1h0m98 0h0m135 0h0m-296 1h0m17 0h0m72 0h0m-35 1h0m-55 2h0m6 0h0m9 0h0m241 0h0m-177 1h0m315 0h0m12 0h0m-259 1h0m94 0h0m32 0h0m-246 1h0m178 2h0m10 0h0m-15 1h0m144 0h0m96 0h0m-328 1h0m239 1h0m-282 3h0m162 0h0m193 0h0m-183 1h0m-148 1h0m241 1h0m-99 1h0m117 2h0m-8 1h0m-177 2h0m13 0h0m17 0h0m247 0h0m56 1h0m-290 1h0m23 0h0m103 1h0m71 0h0m104 0h0m-338 1h0m192 0h0m-10 2h0m31 1h0m-277 1h0m140 0h0m114 0h0m-120 2h0m272 0h0m-163 1h0m4 0h0m50 0h0m109 1h0m-732 1h0m528 0h0m-115 1h0m234 0h0m83 0h0m-42 1h0m-677 1h0m260 0h0m367 1h0m103 0h0m-227 1h0m-504 1h0m494 0h0m-160 1h0m173 0h0m-506 1h0m274 0h0m172 0h0m87 2h0m-532 1h0m417 1h0m118 1h0m125 1h0m-180 1h0m-2 1h0m186 0h0m-548 6h0m119 0h0m243 2h0m79 0h0m-41 1h0m-395 2h0m390 0h0m77 0h0m-187 1h0m320 0h0m-309 3h0m299 0h0m-211 1h0m-33 2h0m201 1h0m-266 1h0m314 1h0m-122 1h0m96 0h0m54 1h0m-291 1h0m217 0h0m91 0h0m-264 1h0m-18 1h0m6 0h0m208 0h0m-372 2h0m151 0h0m67 1h0m167 0h0m27 0h0m-277 1h0m-246 2h0m259 1h0m1 0h0m-256 1h0m1 0h0m-7 1h0m256 0h0m48 0h0m190 0h0m-496 1h0m2 0h0m273 0h0m270 0h0m-277 1h0m234 0h0m38 0h0m-540 1h0m161 1h0m97 1h0m13 0h0m-115 1h0m392 0h0m-424 2h0m35 0h0m166 0h0m-330 1h0m578 0h0m-22 1h0m-770 1h0m212 0h0m497 1h0m17 0h0m-526 1h0m306 0h0m42 1h0m-354 1h0m6 0h0m273 0h0m123 0h0m124 0h0m50 0h0m-569 1h0m172 0h0m170 0h0m187 0h0m4 0h0m-533 1h0m252 0h0m16 0h0m57 0h0m198 0h0m40 0h0m-554 1h0m167 0h0m116 0h0m24 0h0m-545 1h0m236 0h0m303 0h0m-73 1h0m41 0h0m65 0h0m-353 1h0m325 0h0m255 0h0m-797 1h0m587 0h0m201 0h0m4 0h0m-803 1h0m4 0h0m20 0h0m631 0h0m85 1h0m9 0h0m-336 1h0m102 0h0m12 0h0m135 0h0m-635 1h0m-15 1h0m485 0h0m-484 1h0m-4 1h0m358 0h0m-335 1h0m515 1h0m-536 1h0m24 0h0m481 0h0m16 0h0m-142 1h0m153 0h0m23 0h0m200 0h0m-756 1h0m14 0h0m-8 2h0m6 0h0m777 0h0m8 0h0m-240 1h0m-47 1h0m44 1h0m-49 1h0m64 1h0m172 0h0m-227 1h0m2 0h0m250 0h0m-283 1h0m256 0h0m-240 1h0m17 0h0m3 0h0m29 1h0m101 0h0m11 0h0m3 0h0m-20 1h0m-176 1h0m64 0h0m39 0h0m-60 1h0m217 1h0m65 0h0m-130 1h0m-153 1h0m227 0h0m-225 1h0m223 1h0m-210 1h0m119 0h0m77 0h0m55 0h0m-250 1h0m100 0h0m121 1h0m-101 1h0m67 0h0m6 0h0m-155 1h0m200 0h0m-36 1h0m8 0h0m-214 1h0m108 1h0m9 0h0m-94 1h0m233 0h0m-230 1h0m79 0h0m-119 4h0m159 1h0m-110 1h0m208 0h0m7 0h0m-238 1h0m104 0h0m110 0h0m3 0h0m-116 1h0m24 2h0m6 0h0m-67 1h0m-44 2h0m6 0h0m202 0h0m-157 3h0m157 0h0m5 0h0m-239 3h0m23 1h0m34 0h0m-313 1h0m272 2h0m18 0h0m195 0h0m-145 1h0m-338 1h0m285 0h0m-27 1h0m10 0h0m212 0h0m-479 1h0m471 0h0m-192 1h0m206 0h0m-491 1h0m299 0h0m-208 1h0m178 0h0m12 0h0m227 0h0m-231 7h0m-172 1h0m396 0h0m-117 1h0m137 0h0m-15 2h0m-162 1h0m-68 1h0m200 0h0m32 0h0m6 0h0m-37 1h0m-371 1h0m187 0h0m31 0h0m-227 3h0m-17 1h0m63 0h0m-19 1h0m28 1h0m315 0h0m-354 3h0m30 0h0m93 0h0m-150 3h0m-4 1h0m314 2h0m-250 4h0m249 0h0m-114 1h0m33 0h0m26 0h0m-201 4h0m174 0h0m1 2h0m24 0h0m-414 1h0m192 0h0m-19 1h0m-174 2h0m422 1h0m-429 1h0m173 0h0m13 0h0m-189 2h0m7 0h0m275 0h0m-23 2h0m-254 1h0m6 0h0m-3 1h0m-11 2h0m3 0h0m8 0h0m-16 1h0m12 0h0m392 2h0m95 0h0m-107 1h0m12 1h0m92 0h0m-268 2h0m6 4h0m252 3h0m-78 1h0m67 1h0m-471 1h0m400 0h0m74 11h0m29 0h0m-277 10h0m275 1h0m7 0h0m-294 3h0m-3 1h0m15 1h0m266 3h0m-269 3h0m1 3h0m-15 4h0m38 0h0m-32 1h0m37 7h0m-23 1h0m-45 5h0m58 0h0m-15 10h0"/>
<path stroke="#54a853" d="M525 754h0m9 1h0m2 0h0m4 0h0m0 5h0m-14 2h0m4 2h0m37 1h0m168 0h0m-221 1h0m4 0h0m207 0h0m-168 1h0m174 0h0m-177 1h0m-47 2h0m4 0h0m215 0h0m-200 2h0m38 0h0m-49 2h0m33 0h0m23 0h0m-12 1h0m-12 1h0m16 0h0m-39 1h0m-21 1h0m76 1h0m-50 1h0m-72 1h0m54 0h0m220 0h0m-267 1h0m268 0h0m-191 1h0m13 0h0m18 0h0m3 0h0m-19 1h0m184 0h0m-358 1h0m47 0h0m41 0h0m-41 1h0m-32 1h0m89 0h0m5 1h0m18 0h0m224 0h0m-309 1h0m306 0h0m17 0h0m-322 1h0m12 0h0m76 0h0m9 0h0m-136 1h0m42 0h0m12 0h0m10 0h0m125 0h0m173 0h0m6 0h0m-357 1h0m113 0h0m67 0h0m-175 1h0m36 0h0m3 0h0m53 0h0m23 0h0m-95 1h0m15 0h0m-54 1h0m32 0h0m16 0h0m70 0h0m106 0h0m-224 1h0m49 0h0m58 0h0m2 0h0m21 0h0m235 0h0m-329 1h0m156 0h0m23 0h0m-175 1h0m9 0h0m3 0h0m3 0h0m88 1h0m47 0h0m-159 1h0m13 0h0m17 0h0m-85 1h0m19 1h0m131 0h0m14 0h0m67 0h0m9 0h0m10 0h0m-206 1h0m21 0h0m19 0h0m65 0h0m-135 1h0m35 1h0m35 1h0m2 0h0m80 0h0m-93 1h0m154 0h0m-149 1h0m-104 1h0m-7 1h0m118 1h0m21 0h0m130 1h0m3 0h0m-191 2h0m86 0h0m-80 1h0m181 0h0m21 0h0m-189 1h0m193 0h0m-293 2h0m267 1h0m-99 1h0m118 0h0m17 0h0m-186 1h0m104 1h0m35 0h0m-68 1h0m-180 1h0m110 0h0m35 0h0m59 0h0m-113 1h0m5 0h0m10 2h0m148 0h0m-277 1h0m52 0h0m71 0h0m-29 1h0m16 0h0m95 0h0m39 0h0m-101 1h0m87 0h0m-93 1h0m80 0h0m107 0h0m7 0h0m-291 1h0m7 0h0m247 0h0m54 0h0m10 0h0m13 0h0m-254 1h0m131 0h0m94 0h0m21 0h0m-307 1h0m74 0h0m33 1h0m50 0h0m23 0h0m-2 1h0m72 0h0m53 0h0m-212 1h0m101 0h0m1 0h0m33 0h0m14 0h0m63 0h0m18 0h0m-240 1h0m86 0h0m22 0h0m38 0h0m3 0h0m52 0h0m-196 1h0m125 0h0m82 0h0m-311 1h0m207 1h0m35 0h0m51 0h0m-223 1h0m60 0h0m61 0h0m15 0h0m93 0h0m34 0h0m-384 1h0m151 0h0m71 0h0m154 0h0m29 0h0m8 0h0m1 0h0m-385 1h0m55 0h0m117 0h0m91 0h0m5 0h0m83 0h0m-232 1h0m105 0h0m56 0h0m40 0h0m24 0h0m55 0h0m-249 1h0m77 0h0m-259 1h0m63 0h0m-65 1h0m176 0h0m2 0h0m11 0h0m155 0h0m13 0h0m-343 1h0m160 0h0m24 0h0m155 0h0m-292 1h0m115 0h0m64 0h0m30 0h0m8 0h0m46 0h0m89 0h0m20 0h0m-438 1h0m12 0h0m1 0h0m107 0h0m57 0h0m44 0h0m41 0h0m35 0h0m43 0h0m24 0h0m73 0h0m-267 1h0m5 0h0m206 0h0m-337 1h0m16 0h0m114 0h0m86 0h0m53 0h0m-320 1h0m132 0h0m13 0h0m89 0h0m166 0h0m-217 1h0m87 0h0m56 0h0m59 0h0m-362 1h0m165 0h0m-131 1h0m69 0h0m183 0h0m63 0h0m2 0h0m26 0h0m-414 1h0m37 0h0m385 0h0m-345 1h0m69 0h0m8 0h0m50 0h0m189 0h0m-193 1h0m37 0h0m26 0h0m145 0h0m-271 1h0m22 0h0m291 0h0m17 0h0m-467 1h0m70 0h0m309 0h0m-332 2h0m404 0h0m9 0h0m7 0h0m-415 1h0m284 0h0m98 0h0m-293 1h0m64 0h0m243 0h0m2 0h0m-369 1h0m80 0h0m64 0h0m95 0h0m-320 1h0m148 0h0m6 0h0m73 0h0m116 0h0m29 0h0m-85 1h0m169 0h0m14 0h0m-473 1h0m211 0h0m213 0h0m15 0h0m24 0h0m-431 1h0m25 0h0m87 0h0m233 0h0m51 0h0m18 0h0m19 0h0m-413 1h0m218 0h0m115 0h0m71 0h0m-458 1h0m137 0h0m237 0h0m49 1h0m10 0h0m32 0h0m-444 1h0m117 0h0m16 0h0m4 0h0m14 0h0m94 0h0m95 0h0m-143 1h0m41 0h0m2 0h0m12 0h0m-123 1h0m67 0h0m162 0h0m60 0h0m5 0h0m-282 1h0m175 0h0m17 0h0m16 0h0m71 0h0m-144 1h0m-290 1h0m152 0h0m84 0h0m8 0h0m82 0h0m5 0h0m31 0h0m63 0h0m-380 1h0m146 0h0m29 0h0m133 0h0m13 0h0m81 0h0m-622 1h0m186 0h0m267 0h0m161 0h0m-438 1h0m29 0h0m49 0h0m11 0h0m254 0h0m34 0h0m-369 1h0m56 0h0m85 0h0m19 0h0m102 0h0m102 0h0m-360 1h0m149 0h0m58 0h0m58 0h0m4 0h0m73 0h0m10 0h0m-186 1h0m67 0h0m2 0h0m112 0h0m-318 1h0m122 0h0m14 0h0m119 0h0m-484 1h0m186 0h0m64 1h0m312 0h0m-373 1h0m45 0h0m116 0h0m92 0h0m33 0h0m49 0h0m68 0h0m-392 1h0m38 0h0m131 0h0m17 0h0m132 0h0m35 0h0m-210 1h0m18 0h0m15 0h0m50 0h0m9 0h0m53 0h0m-108 1h0m179 0h0m-206 1h0m-162 1h0m178 0h0m-159 1h0m52 0h0m5 0h0m99 0h0m120 0h0m208 0h0m-415 1h0m51 0h0m142 0h0m-257 1h0m6 0h0m267 0h0m191 0h0m-339 1h0m15 0h0m18 0h0m116 0h0m-141 1h0m8 1h0m29 0h0m332 0h0m-422 1h0m4 0h0m423 0h0m-354 1h0m106 0h0m-110 1h0m23 0h0m19 0h0m86 0h0m228 1h0m-506 1h0m89 1h0m170 0h0m245 0h0m-355 1h0m143 0h0m210 0h0m7 1h0m-392 1h0m146 0h0m76 1h0m-305 1h0m108 0h0m352 1h0m-447 1h0m79 0h0m162 0h0m-148 1h0m127 0h0m-139 1h0m154 1h0m4 0h0m8 0h0m216 0h0m-188 1h0m174 0h0m-442 1h0m176 0h0m9 0h0m-157 1h0m45 0h0m3 0h0m156 0h0m-105 1h0m-116 1h0m44 1h0m68 0h0m32 0h0m87 0h0m-36 1h0m-215 1h0m36 0h0m45 0h0m-78 1h0m77 0h0m85 0h0m76 0h0m2 1h0m24 0h0m86 0h0m-345 1h0m236 1h0m28 0h0m-15 1h0m-181 1h0m26 0h0m140 0h0m18 0h0m-179 1h0m120 0h0m48 0h0m6 0h0m6 0h0m9 0h0m-77 1h0m-56 1h0m135 0h0m-108 1h0m94 0h0m13 0h0m-132 1h0m41 0h0m73 0h0m28 0h0m-42 1h0m14 0h0m183 0h0m-302 1h0m124 0h0m-204 1h0m122 0h0m23 0h0m174 0h0m36 0h0m-308 1h0m28 0h0m38 0h0m4 2h0m9 0h0m10 0h0m-48 1h0m26 0h0m59 0h0m49 0h0m173 0h0m-320 1h0m43 0h0m6 0h0m25 0h0m165 0h0m-246 1h0m21 0h0m17 0h0m34 0h0m7 0h0m71 0h0m4 0h0m-49 1h0m124 0h0m26 0h0m14 0h0m-287 1h0m181 0h0m105 0h0m-207 1h0m46 0h0m209 0h0m-344 1h0m102 0h0m63 0h0m-173 2h0m60 0h0m102 0h0m25 0h0m98 0h0m5 0h0m36 0h0m-225 1h0m63 0h0m6 0h0m36 0h0m110 0h0m29 0h0m-432 1h0m87 0h0m369 0h0m-380 1h0m159 0h0m17 0h0m43 0h0m87 0h0m-261 1h0m58 0h0m1 0h0m97 0h0m-210 1h0m14 0h0m84 0h0m133 0h0m-227 1h0m25 0h0m42 0h0m13 0h0m50 0h0m86 0h0m-143 1h0m47 0h0m80 0h0m9 0h0m175 0h0m-359 1h0m359 0h0m-302 1h0m97 0h0m-102 1h0m43 0h0m77 0h0m8 0h0m-191 1h0m50 0h0m74 0h0m52 0h0m102 0h0m-321 1h0m33 0h0m10 0h0m65 0h0m29 0h0m6 0h0m237 0h0m-418 1h0m289 0h0m58 1h0m100 0h0m-395 1h0m48 0h0m58 0h0m25 0h0m12 0h0m214 0h0m-135 1h0m-180 1h0m191 0h0m138 0h0m14 0h0m-366 1h0m79 0h0m-89 1h0m60 0h0m42 0h0m185 0h0m21 0h0m41 0h0m-212 1h0m-67 1h0m144 0h0m19 0h0m-71 2h0m116 0h0m104 0h0m-395 1h0m10 0h0m145 0h0m125 0h0m64 0h0m1 0h0m-319 1h0m29 0h0m302 0h0m-137 1h0m-193 1h0m131 0h0m159 0h0m-188 1h0m202 0h0m-32 1h0m14 0h0m-255 1h0m208 0h0m76 0h0m39 0h0m-112 1h0m-196 1h0m28 0h0m38 0h0m42 0h0m99 0h0m7 0h0m-170 1h0m14 0h0m145 0h0m85 0h0m-324 1h0m37 0h0m64 0h0m3 0h0m-88 1h0m246 0h0m61 0h0m-84 1h0m31 0h0m156 0h0m1 0h0m-437 1h0m24 0h0m93 0h0m186 0h0m16 0h0m-19 1h0m-190 2h0m4 0h0m223 0h0m-355 1h0m66 0h0m47 0h0m21 0h0m21 0h0m12 0h0m-30 1h0m215 0h0m100 1h0m-736 1h0m329 0h0m86 0h0m43 0h0m220 0h0m-254 1h0m130 0h0m81 0h0m-100 1h0m17 0h0m-224 1h0m207 0h0m40 0h0m-20 1h0m92 0h0m-144 1h0m137 0h0m20 0h0m-153 1h0m31 0h0m17 0h0m97 0h0m-204 1h0m90 0h0m-123 1h0m19 0h0m68 1h0m130 0h0m-80 1h0m4 0h0m-108 1h0m8 0h0m107 0h0m-111 1h0m94 0h0m89 0h0m-193 1h0m5 0h0m-16 3h0m-14 1h0m22 0h0m24 0h0m294 0h0m-333 1h0m15 0h0m55 0h0m-1 1h0m48 0h0m9 0h0m-9 1h0m-111 1h0m225 0h0m-538 1h0m5 0h0m400 0h0m204 0h0m-605 1h0m5 0h0m295 0h0m32 1h0m-340 1h0m5 0h0m1 0h0m1 0h0m7 0h0m456 0h0m144 0h0m-608 1h0m7 0h0m416 0h0m-128 1h0m15 0h0m4 0h0m22 0h0m40 0h0m92 0h0m-460 1h0m545 0h0m-548 1h0m383 1h0m-64 1h0m206 0h0m54 0h0m-107 1h0m8 1h0m116 0h0m-595 1h0m293 0h0m60 0h0m266 1h0m3 0h0m-322 1h0m290 0h0m-274 1h0m36 0h0m11 0h0m-20 1h0m27 0h0m164 0h0m109 0h0m-277 1h0m-25 1h0m251 0h0m-268 1h0m83 0h0m-155 2h0m117 0h0m36 0h0m-69 1h0m323 0h0m-416 1h0m103 0h0m184 0h0m66 0h0m-220 1h0m227 0h0m12 0h0m11 0h0m-9 3h0m-369 1h0m332 0h0m53 0h0m-402 1h0m166 0h0m179 1h0m25 0h0m41 0h0m-395 1h0m96 0h0m-101 1h0m108 1h0m259 1h0m18 0h0m30 0h0m-454 1h0m194 0h0m217 0h0m12 0h0m-46 1h0m31 1h0m1 0h0m13 0h0m18 0h0m-777 1h0m459 0h0m321 1h0m-239 1h0m170 0h0m-370 1h0m373 0h0m-373 1h0m377 1h0m44 0h0m-212 1h0m-151 1h0m392 0h0m-252 1h0m21 0h0m217 0h0m-401 1h0m4 0h0m336 1h0m-739 2h0m703 0h0m80 0h0m19 0h0m-450 2h0m338 0h0m-175 1h0m254 2h0m-402 1h0m258 0h0m159 0h0m-375 4h0m358 1h0m17 0h0m-372 1h0m417 0h0m-388 1h0m-38 2h0m133 0h0m183 0h0m21 0h0m74 0h0m-264 5h0m231 0h0m-159 4h0m118 1h0m84 0h0m-69 1h0m10 0h0m1 0h0m-15 1h0m-297 2h0m94 0h0m-27 1h0m197 0h0m67 0h0m-219 1h0m194 1h0m-209 1h0m75 1h0m17 2h0m166 1h0m-42 1h0m9 0h0m-132 1h0m-84 1h0m-38 1h0m223 0h0m3 0h0m18 3h0m-222 7h0m239 0h0m-228 2h0m107 0h0m103 0h0m-205 3h0m25 1h0m194 1h0m20 1h0m-41 1h0m35 0h0m-426 8h0m160 1h0m20 1h0m2 2h0m5 0h0m39 3h0m195 1h0m-222 2h0m19 1h0m97 0h0m55 2h0m-343 2h0m167 0h0m200 2h0m-177 2h0m-230 5h0m257 2h0m-225 1h0m389 3h0m-377 1h0m191 5h0m-227 1h0m307 3h0m-253 1h0m246 0h0m-258 10h0m245 9h0m-69 1h0m77 4h0m-81 1h0m78 3h0m-478 2h0m486 5h0m-16 8h0m3 7h0m2 1h0m31 2h0m-18 2h0m-262 2h0m9 0h0m237 1h0m-261 3h0m20 1h0m2 5h0m8 9h0m-16 8h0m1 2h0m43 3h0m-9 8h0"/>
<path stroke="#ef854e" d="M178 745h0m6 5h0m337 16h0m40 2h0m-19 2h0m-59 17h0m250 6h0m-241 20h0m90 1h0m-165 2h0m-90 7h0m262 1h0m-220 1h0m13 0h0m215 1h0m-248 1h0m-37 3h0m263 5h0m16 0h0m-56 3h0m132 1h0m-326 1h0m145 0h0m-173 2h0m238 1h0m-262 2h0m173 0h0m75 1h0m48 2h0m-232 1h0m-24 3h0m373 0h0m-361 2h0m-28 1h0m125 1h0m-97 2h0m67 0h0m30 1h0m37 0h0m-202 2h0m36 0h0m166 0h0m-173 1h0m12 0h0m283 0h0m-335 1h0m100 0h0m19 0h0m99 0h0m-164 1h0m116 0h0m99 0h0m-33 1h0m-115 1h0m-107 2h0m57 0h0m399 0h0m-438 1h0m28 0h0m281 0h0m-320 1h0m87 1h0m79 1h0m-152 1h0m72 0h0m5 0h0m241 0h0m84 0h0m25 0h0m-362 1h0m32 0h0m-132 2h0m375 0h0m55 0h0m-591 1h0m179 0h0m-2 1h0m131 0h0m-145 1h0m17 1h0m165 0h0m-356 1h0m411 0h0m221 1h0m-632 1h0m178 0h0m131 0h0m-35 1h0m95 0h0m-83 1h0m-2 1h0m170 0h0m-168 1h0m7 1h0m19 0h0m-84 2h0m22 0h0m-267 1h0m5 1h0m255 0h0m15 1h0m48 0h0m-71 3h0m188 0h0m-106 2h0m14 0h0m117 0h0m-250 2h0m16 0h0m101 1h0m86 0h0m-103 13h0m-61 2h0m12 0h0m95 3h0m-62 3h0m-9 1h0m144 1h0m105 1h0m-15 1h0m-195 1h0m-13 1h0m83 5h0m-3 6h0m-102 4h0m-16 2h0m204 0h0m-114 1h0m-25 3h0m-90 1h0m35 0h0m4 0h0m-1 1h0m53 4h0m19 0h0m-108 1h0m24 1h0m-25 1h0m209 1h0m-176 2h0m-12 2h0m6 2h0m47 1h0m150 1h0m120 3h0m84 6h0m-238 1h0m16 0h0m-116 1h0m137 0h0m-57 2h0m249 2h0m31 0h0m-342 8h0m-323 2h0m478 0h0m84 17h0m-144 1h0m275 0h0m-122 7h0m-327 7h0m258 1h0m-22 1h0m236 1h0m-483 4h0m270 1h0m-503 1h0m476 1h0m4 0h0m267 1h0m24 0h0m-278 1h0m225 0h0m-193 1h0m-187 1h0m141 0h0m257 1h0m-264 1h0m318 2h0m-387 5h0m68 0h0m295 0h0m31 0h0m-303 1h0m-18 1h0m6 1h0m19 3h0m-34 1h0m24 0h0m23 0h0m-298 1h0m513 0h0m24 0h0m-415 1h0m-121 1h0m536 0h0m-269 2h0m-14 1h0m8 0h0m-109 1h0m-379 2h0m479 0h0m29 0h0m235 0h0m-313 1h0m-441 1h0m736 0h0m-742 1h0m12 0h0m218 0h0m535 0h0m-270 1h0m25 0h0m-509 1h0m14 0h0m-24 2h0m387 0h0m121 0h0m3 0h0m49 0h0m-34 1h0m-511 2h0m756 1h0m-395 1h0m188 0h0m-555 3h0m10 0h0m11 0h0m504 0h0m-540 1h0m539 0h0m-63 1h0m303 1h0m-373 1h0m165 1h0m-568 1h0m19 0h0m532 1h0m-1 1h0m201 0h0m4 1h0m-197 2h0m199 0h0m-215 1h0m100 0h0m155 0h0m-57 1h0m28 0h0m-26 3h0m-16 3h0m-158 1h0m-80 2h0m74 0h0m165 0h0m-77 2h0m-163 1h0m68 0h0m4 1h0m-38 1h0m34 1h0m164 0h0m-196 1h0m24 0h0m187 2h0m-196 2h0m-34 3h0m294 2h0m-156 1h0m-27 1h0m22 0h0m15 5h0m123 0h0m-241 4h0m63 1h0m69 1h0m-51 3h0m172 0h0m-242 3h0m-140 1h0m264 1h0m-119 1h0m84 2h0m134 0h0m-359 2h0m-54 1h0m59 0h0m207 2h0m148 1h0m-217 2h0m216 2h0m-211 1h0m13 5h0m196 0h0m6 0h0m-229 2h0m-171 4h0m-10 1h0m71 0h0m-49 3h0m41 3h0m209 2h0m-267 6h0m296 0h0m-462 1h0m413 0h0m-245 1h0m223 0h0m-397 1h0m4 1h0m224 2h0m-64 1h0m229 2h0m1 0h0m-397 2h0m-6 1h0m-6 2h0m10 0h0m253 2h0m-265 3h0m7 0h0m232 0h0m-232 1h0m7 0h0m469 0h0m-95 2h0m26 1h0m-412 1h0m3 2h0m-8 1h0m487 0h0m16 1h0m-103 2h0m-397 1h0m503 11h0m-265 12h0m-9 3h0m13 0h0m-13 1h0m270 0h0m-255 13h0m4 0h0m11 7h0m-22 7h0m-8 3h0m-40 7h0m27 2h0m9 6h0"/>
<path stroke="#1b7a40" d="M533 755h0m3 1h0m20 2h0m-32 4h0m-2 1h0m-7 1h0m25 0h0m-3 1h0m4 1h0m204 1h0m-202 1h0m-35 1h0m52 1h0m5 1h0m-22 1h0m-47 1h0m34 0h0m50 0h0m-39 1h0m-24 3h0m224 0h0m14 0h0m-189 1h0m-53 1h0m10 0h0m43 0h0m157 0h0m21 0h0m2 0h0m6 1h0m-226 1h0m39 0h0m18 0h0m149 1h0m-272 1h0m-54 1h0m110 0h0m1 0h0m16 0h0m26 0h0m24 0h0m175 0h0m-375 1h0m87 0h0m47 0h0m235 0h0m-308 1h0m48 0h0m261 0h0m-355 1h0m1 0h0m165 0h0m189 0h0m10 0h0m-183 1h0m3 0h0m1 0h0m169 0h0m-309 1h0m3 0h0m72 0h0m-146 1h0m132 0h0m61 0h0m9 0h0m176 0h0m-323 1h0m23 0h0m83 0h0m203 0h0m-306 1h0m137 0h0m166 0h0m-346 1h0m46 0h0m71 0h0m1 0h0m8 0h0m14 0h0m56 0h0m148 0h0m23 0h0m-373 1h0m40 0h0m8 0h0m111 0h0m28 0h0m3 0h0m-156 1h0m22 0h0m4 0h0m44 0h0m32 0h0m58 0h0m5 0h0m4 0h0m-192 1h0m10 0h0m40 0h0m52 0h0m63 0h0m-187 1h0m46 0h0m105 0h0m64 0h0m-69 1h0m28 0h0m-106 1h0m21 0h0m46 0h0m-125 1h0m5 0h0m10 0h0m24 0h0m98 0h0m55 0h0m-185 2h0m216 0h0m-119 1h0m14 0h0m9 0h0m14 0h0m11 0h0m-106 1h0m-48 1h0m186 0h0m-48 1h0m2 0h0m-109 1h0m77 0h0m86 0h0m-135 3h0m58 2h0m-44 1h0m-15 1h0m-2 1h0m145 0h0m-246 1h0m198 1h0m-86 1h0m12 0h0m21 0h0m-14 1h0m88 2h0m-70 1h0m58 0h0m-156 3h0m48 0h0m18 2h0m-40 1h0m-85 1h0m274 0h0m-59 3h0m48 0h0m89 0h0m-132 1h0m82 0h0m28 0h0m-287 1h0m230 0h0m38 0h0m-137 2h0m34 0h0m65 0h0m-11 1h0m69 0h0m23 0h0m-315 1h0m214 0h0m94 0h0m-213 1h0m100 1h0m23 0h0m78 0h0m-154 1h0m12 0h0m56 0h0m32 0h0m64 0h0m-292 1h0m162 0h0m-94 1h0m214 0h0m14 0h0m-214 1h0m48 0h0m22 0h0m139 0h0m-380 1h0m133 0h0m52 0h0m27 0h0m-30 1h0m22 0h0m128 0h0m56 0h0m-64 1h0m-121 1h0m148 0h0m13 0h0m-376 1h0m208 0h0m158 0h0m-76 1h0m-148 1h0m4 0h0m7 0h0m15 0h0m-34 1h0m78 0h0m88 0h0m83 0h0m49 0h0m31 0h0m-346 1h0m264 0h0m51 0h0m14 0h0m-252 1h0m206 0h0m15 0h0m21 0h0m-439 1h0m132 0h0m16 0h0m27 0h0m287 0h0m-334 1h0m22 0h0m38 1h0m180 0h0m1 0h0m-244 1h0m67 0h0m101 0h0m-295 1h0m4 0h0m41 0h0m93 0h0m192 0h0m58 0h0m59 0h0m25 0h0m-89 1h0m62 0h0m-169 1h0m43 0h0m52 0h0m62 0h0m19 0h0m20 0h0m-454 1h0m283 0h0m76 0h0m72 0h0m-403 1h0m377 0h0m14 0h0m11 0h0m7 0h0m4 0h0m7 0h0m-326 1h0m27 0h0m58 0h0m145 0h0m71 0h0m-447 1h0m84 0h0m34 0h0m23 0h0m102 1h0m25 0h0m142 0h0m19 0h0m37 0h0m12 0h0m-100 1h0m-225 1h0m70 0h0m152 0h0m48 0h0m36 0h0m-223 1h0m4 0h0m148 0h0m20 0h0m19 0h0m-372 1h0m183 0h0m228 1h0m-358 1h0m233 0h0m54 0h0m53 0h0m-303 1h0m201 0h0m-306 1h0m196 0h0m49 0h0m89 0h0m5 0h0m2 0h0m11 0h0m16 0h0m-31 1h0m91 0h0m-218 1h0m51 0h0m24 0h0m50 0h0m10 0h0m46 0h0m-205 1h0m36 0h0m9 0h0m101 0h0m-253 1h0m42 0h0m3 0h0m111 0h0m91 0h0m-254 1h0m276 0h0m-343 1h0m289 0h0m-220 1h0m97 1h0m110 0h0m71 0h0m39 0h0m-187 1h0m9 0h0m17 0h0m10 0h0m-234 1h0m275 0h0m32 0h0m27 0h0m4 0h0m-318 1h0m34 0h0m62 0h0m32 0h0m42 0h0m3 0h0m-186 1h0m132 0h0m75 0h0m4 0h0m23 0h0m-283 1h0m202 0h0m41 0h0m19 0h0m-104 1h0m7 0h0m107 0h0m17 0h0m64 0h0m12 0h0m19 0h0m10 0h0m11 0h0m-368 1h0m205 0h0m70 0h0m79 0h0m-202 1h0m9 0h0m204 1h0m-400 1h0m154 0h0m10 0h0m131 0h0m215 1h0m-339 1h0m6 0h0m7 1h0m10 0h0m-120 1h0m217 0h0m14 0h0m34 0h0m-228 1h0m63 1h0m16 1h0m2 0h0m188 0h0m-90 1h0m-113 1h0m43 0h0m-85 1h0m45 1h0m16 0h0m92 0h0m25 0h0m-257 1h0m108 0h0m-47 1h0m81 0h0m-87 1h0m42 0h0m-91 1h0m103 0h0m16 0h0m-141 1h0m174 0h0m-117 1h0m57 0h0m221 1h0m136 0h0m-209 1h0m227 0h0m-486 1h0m112 0h0m16 0h0m149 1h0m49 0h0m-72 1h0m217 1h0m5 0h0m-210 1h0m6 0h0m7 1h0m-251 1h0m30 0h0m213 0h0m46 1h0m-297 1h0m172 0h0m54 0h0m-166 2h0m23 1h0m143 0h0m40 2h0m-219 2h0m87 2h0m-150 1h0m150 0h0m110 0h0m11 0h0m18 0h0m16 0h0m112 1h0m-392 1h0m240 0h0m45 2h0m104 0h0m45 0h0m1 0h0m-303 1h0m13 0h0m-151 1h0m30 0h0m236 1h0m156 0h0m-41 1h0m32 0h0m-397 1h0m76 0h0m29 0h0m167 0h0m97 0h0m-358 1h0m267 0h0m110 1h0m-330 1h0m301 0h0m11 0h0m22 0h0m-163 1h0m13 0h0m205 0h0m-447 1h0m122 0h0m19 0h0m97 0h0m176 0h0m-377 1h0m145 0h0m34 0h0m43 0h0m-173 1h0m130 0h0m-157 1h0m98 0h0m85 0h0m-276 1h0m42 0h0m67 0h0m59 0h0m140 0h0m7 0h0m158 0h0m-372 2h0m15 0h0m343 0h0m23 0h0m-314 1h0m17 0h0m30 0h0m71 0h0m12 0h0m136 0h0m50 0h0m-295 1h0m6 0h0m3 0h0m21 0h0m-109 1h0m49 0h0m33 0h0m9 0h0m59 0h0m162 0h0m24 0h0m-228 1h0m190 0h0m35 0h0m16 0h0m-262 1h0m107 0h0m-206 1h0m11 0h0m69 0h0m24 0h0m2 0h0m46 0h0m223 0h0m-156 1h0m-215 1h0m321 0h0m12 0h0m2 0h0m25 0h0m-368 1h0m32 0h0m269 0h0m-289 1h0m10 0h0m3 0h0m59 0h0m12 1h0m89 0h0m174 0h0m-327 1h0m-10 1h0m127 0h0m32 0h0m-67 1h0m71 0h0m30 0h0m1 0h0m79 0h0m73 0h0m2 0h0m-224 1h0m217 0h0m-358 1h0m70 0h0m127 0h0m12 0h0m89 0h0m56 0h0m-357 1h0m7 0h0m92 0h0m207 0h0m-206 1h0m49 0h0m57 0h0m99 0h0m6 0h0m-220 1h0m3 1h0m250 0h0m-254 1h0m7 0h0m9 0h0m88 0h0m160 0h0m-346 1h0m164 0h0m153 0h0m-212 1h0m14 0h0m76 0h0m79 0h0m-248 1h0m48 0h0m228 0h0m-249 1h0m53 0h0m14 0h0m160 0h0m38 0h0m7 0h0m-288 2h0m95 0h0m188 0h0m-289 1h0m9 0h0m21 0h0m31 0h0m163 0h0m-217 1h0m61 0h0m-100 1h0m53 0h0m33 1h0m156 0h0m-226 1h0m37 0h0m20 0h0m26 0h0m6 0h0m10 0h0m176 0h0m-176 1h0m11 0h0m19 1h0m102 0h0m-235 1h0m242 0h0m2 0h0m26 0h0m-171 1h0m5 0h0m206 0h0m-287 1h0m259 0h0m122 0h0m-324 1h0m5 1h0m57 0h0m104 0h0m3 0h0m64 0h0m-299 1h0m51 0h0m9 0h0m46 0h0m182 0h0m116 0h0m-343 3h0m227 0h0m-288 1h0m305 0h0m15 0h0m41 0h0m-359 1h0m5 1h0m223 0h0m-204 1h0m78 1h0m65 0h0m120 0h0m-293 1h0m95 0h0m19 1h0m311 0h0m-332 1h0m71 0h0m134 0h0m-110 1h0m1 0h0m-84 1h0m2 1h0m74 0h0m-69 1h0m-151 2h0m199 0h0m54 0h0m-188 1h0m99 0h0m114 0h0m-134 1h0m59 0h0m159 0h0m-515 2h0m291 0h0m133 0h0m204 0h0m-308 1h0m106 0h0m9 0h0m-256 1h0m123 0h0m124 0h0m-137 1h0m102 0h0m27 0h0m219 0h0m-270 1h0m140 1h0m-520 1h0m438 0h0m-449 1h0m7 0h0m314 0h0m14 0h0m138 0h0m84 0h0m20 0h0m-566 2h0m312 1h0m-308 1h0m523 1h0m6 0h0m-152 1h0m210 0h0m-302 1h0m62 0h0m103 0h0m-448 1h0m307 0h0m25 0h0m196 0h0m-538 1h0m369 0h0m-29 1h0m44 0h0m57 1h0m98 0h0m-250 1h0m8 0h0m10 0h0m3 2h0m129 0h0m-113 1h0m45 0h0m28 0h0m144 1h0m55 0h0m-287 2h0m309 0h0m-252 1h0m-59 1h0m37 0h0m74 0h0m-97 1h0m102 0h0m190 0h0m-508 1h0m232 0h0m-128 1h0m152 0h0m243 0h0m-250 5h0m-144 3h0m-311 1h0m337 0h0m15 0h0m367 0h0m-201 1h0m192 0h0m-355 2h0m6 0h0m-26 2h0m7 0h0m360 0h0m30 0h0m-216 1h0m143 0h0m-323 2h0m28 0h0m388 1h0m-394 1h0m281 0h0m-331 1h0m389 0h0m-337 2h0m-8 1h0m-35 1h0m249 1h0m-232 1h0m414 0h0m-69 2h0m70 0h0m-395 2h0m324 0h0m11 0h0m71 1h0m-66 1h0m-364 1h0m426 0h0m-421 3h0m432 1h0m-16 2h0m-90 1h0m81 0h0m-11 4h0m38 0h0m-45 1h0m-56 1h0m95 1h0m-82 1h0m4 1h0m1 0h0m7 0h0m-100 1h0m98 0h0m10 0h0m-233 1h0m250 3h0m25 0h0m-27 2h0m-93 2h0m-145 3h0m106 0h0m125 0h0m-47 1h0m-168 1h0m96 1h0m-153 1h0m1 1h0m153 0h0m7 1h0m1 2h0m112 3h0m-92 3h0m87 0h0m-207 7h0m201 4h0m2 4h0m21 0h0m7 2h0m-192 1h0m3 3h0m204 5h0m-39 4h0m-181 1h0m-150 1h0m319 1h0m-134 7h0m-191 1h0m244 8h0m8 8h0m-263 2h0m12 2h0m3 2h0m16 23h0m241 23h0m-15 13h0m-283 6h0m29 4h0m-25 9h0m41 11h0m-35 13h0"/>
<path stroke="#e7643e" d="M181 748h0m551 36h0m-341 20h0m205 15h0m7 4h0m-112 12h0m117 0h0m-286 6h0m-11 2h0m106 0h0m-99 5h0m97 4h0m-100 12h0m336 0h0m-316 2h0m-28 5h0m76 1h0m-94 1h0m11 0h0m-38 1h0m54 6h0m17 0h0m71 2h0m100 3h0m-429 3h0m209 2h0m3 2h0m140 7h0m-103 12h0m7 7h0m59 2h0m55 6h0m-1 17h0m97 5h0m220 0h0m-153 3h0m-274 7h0m372 23h0m-32 4h0m-119 8h0m-156 5h0m196 13h0m-12 22h0m1 3h0m15 0h0m-488 4h0m784 4h0m-315 4h0m-251 6h0m271 6h0m12 0h0m-19 1h0m32 0h0m199 0h0m60 0h0m-780 3h0m537 1h0m-43 4h0m-5 1h0m-504 2h0m373 0h0m205 1h0m-73 1h0m-2 2h0m68 0h0m-559 1h0m538 0h0m-542 1h0m536 0h0m8 4h0m-560 2h0m530 0h0m-18 2h0m258 2h0m-300 1h0m278 1h0m-173 1h0m-47 1h0m243 2h0m44 0h0m-251 1h0m207 1h0m-289 1h0m33 0h0m-30 1h0m58 0h0m94 0h0m139 3h0m-120 4h0m-174 1h0m272 0h0m-186 6h0m201 2h0m-353 4h0m1 1h0m-11 4h0m6 7h0m137 5h0m-17 1h0m277 1h0m-60 6h0m-316 6h0m318 6h0m-174 15h0m-382 5h0m5 2h0m412 1h0m-199 1h0m-221 11h0m398 1h0m-406 6h0m383 4h0m-384 4h0m281 8h0m219 31h0m-278 4h0m9 17h0m1 0h0m17 3h0m-8 21h0"/>
<path stroke="#d94831" d="M494 781h0m4 78h0m-164 11h0m49 0h0m-8 3h0m-287 7h0m213 7h0m60 2h0m14 0h0m105 43h0m-49 38h0m-309 33h0m215 47h0m-237 28h0m-13 1h0m497 3h0m257 2h0m-223 4h0m21 3h0m17 5h0m172 8h0m-353 58h0m215 9h0m-421 20h0m1 5h0m462 41h0m-240 6h0"/>
<path stroke="#cc322a" d="M100 1077h0m519 16h0m-354 105h0"/>
<path stroke="#b61728" d="M585 1080h0m69 7h0"/>
</g></g>
<rect x="235.1" y="5.00" width="7.40" height="6.63" fill="#800000"/>
<rect x="235.1" y="11.48" width="7.40" height="6.63" fill="#b20000"/>
<rect x="235.1" y="17.96" width="7.40" height="6.63" fill="#e80000"/>
<rect x="235.1" y="24.43" width="7.40" height="6.63" fill="#ff2900"/>
<rect x="235.1" y="30.91" width="7.40" height="6.63" fill="#ff5500"/>
<rect x="235.1" y="37.39" width="7.40" height="6.63" fill="#ff8200"/>
<rect x="235.1" y="43.87" width="7.40" height="6.63" fill="#ffab00"/>
<rect x="235.1" y="50.35" width="7.40" height="6.63" fill="#ffd700"/>
<rect x="235.1" y="56.83" width="7.40" height="6.63" fill="#ebff0c"/>
<rect x="235.1" y="63.30" width="7.40" height="6.63" fill="#c7ff30"/>
<rect x="235.1" y="69.78" width="7.40" height="6.63" fill="#a0ff56"/>
<rect x="235.1" y="76.26" width="7.40" height="6.63" fill="#7dff7a"/>
<rect x="235.1" y="82.74" width="7.40" height="6.63" fill="#56ffa0"/>
<rect x="235.1" y="89.22" width="7.40" height="6.63" fill="#30ffc7"/>
<rect x="235.1" y="95.70" width="7.40" height="6.63" fill="#0cf4eb"/>
<rect x="235.1" y="102.17" width="7.40" height="6.63" fill="#00c4ff"/>
<rect x="235.1" y="108.65" width="7.40" height="6.63" fill="#0094ff"/>
<rect x="235.1" y="115.13" width="7.40" height="6.63" fill="#0068ff"/>
<rect x="235.1" y="121.61" width="7.40" height="6.63" fill="#0038ff"/>
<rect x="235.1" y="128.09" width="7.40" height="6.63" fill="#0008ff"/>
<rect x="235.1" y="134.57" width="7.40" height="6.63" fill="#0000e8"/>
<rect x="235.1" y="141.04" width="7.40" height="6.63" fill="#0000b2"/>
<rect x="235.1" y="147.52" width="7.40" height="6.63" fill="#000080"/>
<defs><filter id="tb" x="-2%" y="-10%" width="104%" height="120%"><feGaussianBlur stdDeviation="0.28"/></filter></defs><g font-family="DejaVu Sans, Liberation Sans, sans-serif" font-size="43.5" fill="#262626" stroke="#262626" stroke-width="0.5">
<text transform="translate(244.2,9.99) scale(0.1,0.114)">woman,girl,camera</text>
<text transform="translate(244.2,16.47) scale(0.1,0.114)">dance,dancing,dances</text>
<text transform="translate(244.2,22.95) scale(0.1,0.114)">dance,dancing,people</text>
<text transform="translate(244.2,29.42) scale(0.1,0.114)">stage,band,guitar</text>
<text transform="translate(244.2,35.90) scale(0.1,0.114)">man,people,person</text>
<text transform="translate(244.2,42.38) scale(0.1,0.114)">snow,skiing,hill</text>
<text transform="translate(244.2,48.86) scale(0.1,0.114)">baby,child,swing</text>
<text transform="translate(244.2,55.34) scale(0.1,0.114)">food,spoon,baby</text>
<text transform="translate(244.2,61.82) scale(0.1,0.114)">dog,bird,dogs</text>
<text transform="translate(244.2,68.29) scale(0.1,0.114)">swimming,fish,water</text>
<text transform="translate(244.2,74.77) scale(0.1,0.114)">boat,water,ocean</text>
<text transform="translate(244.2,81.25) scale(0.1,0.114)">plane,airplane,runway</text>
<text transform="translate(244.2,87.73) scale(0.1,0.114)">cat,cats,black</text>
<text transform="translate(244.2,94.21) scale(0.1,0.114)">waterfall,water,rocks</text>
<text transform="translate(244.2,100.68) scale(0.1,0.114)">burning,night,fireworks</text>
<text transform="translate(244.2,107.16) scale(0.1,0.114)">ice,rink,hockey</text>
<text transform="translate(244.2,113.64) scale(0.1,0.114)">gun,man,shooting</text>
<text transform="translate(244.2,120.12) scale(0.1,0.114)">car,cars,race</text>
<text transform="translate(244.2,126.60) scale(0.1,0.114)">bike,riding,bicycle</text>
<text transform="translate(244.2,133.08) scale(0.1,0.114)">football,field,teams</text>
<text transform="translate(244.2,139.55) scale(0.1,0.114)">soccer,field,game</text>
<text transform="translate(244.2,146.03) scale(0.1,0.114)">horse,horses,riding</text>
<text transform="translate(244.2,152.51) scale(0.1,0.114)">baseball,game,pitcher</text>
</g>
<defs><linearGradient id="cb" x1="0" y1="0" x2="0" y2="1"><stop offset="0%" stop-color="#006837"/><stop offset="3%" stop-color="#0b7d40"/><stop offset="8.7%" stop-color="#3a9f50"/><stop offset="18%" stop-color="#98cd62"/><stop offset="25.5%" stop-color="#d8ee9a"/><stop offset="33.8%" stop-color="#fff4b4"/><stop offset="43.3%" stop-color="#fed68a"/><stop offset="49.8%" stop-color="#fdb869"/><stop offset="58.9%" stop-color="#f99355"/><stop offset="68.3%" stop-color="#f06c42"/><stop offset="77.8%" stop-color="#e04a33"/><stop offset="87.3%" stop-color="#d0302a"/><stop offset="94%" stop-color="#be1a2a"/><stop offset="100%" stop-color="#a50026"/></linearGradient></defs>
<rect x="255.2" y="181" width="7.6" height="147.8" fill="url(#cb)"/>
<g font-family="DejaVu Sans, Liberation Sans, sans-serif" font-size="4.6" fill="#1a1a1a" stroke="#1a1a1a" stroke-width="0.12">
<line x1="262.8" x2="263.6" y1="181.50" y2="181.50" stroke="#333" stroke-width="0.3"/>
<text x="263.9" y="183.20">1.0</text>
<line x1="262.8" x2="263.6" y1="205.48" y2="205.48" stroke="#333" stroke-width="0.3"/>
<text x="263.9" y="207.18">0.9</text>
<line x1="262.8" x2="263.6" y1="229.46" y2="229.46" stroke="#333" stroke-width="0.3"/>
<text x="263.9" y="231.16">0.8</text>
<line x1="262.8" x2="263.6" y1="253.44" y2="253.44" stroke="#333" stroke-width="0.3"/>
<text x="263.9" y="255.14">0.7</text>
<line x1="262.8" x2="263.6" y1="277.42" y2="277.42" stroke="#333" stroke-width="0.3"/>
<text x="263.9" y="279.12">0.6</text>
<line x1="262.8" x2="263.6" y1="301.40" y2="301.40" stroke="#333" stroke-width="0.3"/>
<text x="263.9" y="303.10">0.5</text>
<line x1="262.8" x2="263.6" y1="325.38" y2="325.38" stroke="#333" stroke-width="0.3"/>
<text x="263.9" y="327.08">0.4</text>
</g>
<text transform="translate(274.2,255.2) rotate(90)" text-anchor="middle" font-family="DejaVu Sans, Liberation Sans, sans-serif" font-size="5.22" fill="#222">Memorability Score</text>
<line x1="6.0" x2="280.5" y1="358.90" y2="358.90" stroke="#e6e6e6" stroke-width="0.8"/>
<line x1="6.0" x2="280.5" y1="366.27" y2="366.27" stroke="#e6e6e6" stroke-width="0.8"/>
<line x1="6.0" x2="280.5" y1="373.64" y2="373.64" stroke="#e6e6e6" stroke-width="0.8"/>
<line x1="6.0" x2="280.5" y1="381.01" y2="381.01" stroke="#e6e6e6" stroke-width="0.8"/>
<line x1="6.0" x2="280.5" y1="388.38" y2="388.38" stroke="#e6e6e6" stroke-width="0.8"/>
<line x1="6.0" x2="280.5" y1="395.75" y2="395.75" stroke="#e6e6e6" stroke-width="0.8"/>
<line x1="6.0" x2="280.5" y1="403.12" y2="403.12" stroke="#e6e6e6" stroke-width="0.8"/>
<line x1="6.0" x2="280.5" y1="410.49" y2="410.49" stroke="#e6e6e6" stroke-width="0.8"/>
<line x1="6.0" x2="280.5" y1="417.86" y2="417.86" stroke="#e6e6e6" stroke-width="0.8"/>
<line x1="6.0" x2="280.5" y1="425.23" y2="425.23" stroke="#e6e6e6" stroke-width="0.8"/>
<line x1="6.0" x2="280.5" y1="432.60" y2="432.60" stroke="#e6e6e6" stroke-width="0.8"/>
<line x1="6.0" x2="280.5" y1="439.97" y2="439.97" stroke="#e6e6e6" stroke-width="0.8"/>
<line x1="6.0" x2="280.5" y1="447.34" y2="447.34" stroke="#e6e6e6" stroke-width="0.8"/>
<line x1="6.0" x2="280.5" y1="454.71" y2="454.71" stroke="#e6e6e6" stroke-width="0.8"/>
<line x1="6.0" x2="280.5" y1="462.08" y2="462.08" stroke="#e6e6e6" stroke-width="0.8"/>
<line x1="6.0" x2="280.5" y1="469.45" y2="469.45" stroke="#e6e6e6" stroke-width="0.8"/>
<line x1="6.0" x2="280.5" y1="476.82" y2="476.82" stroke="#e6e6e6" stroke-width="0.8"/>
<line x1="6.0" x2="280.5" y1="484.19" y2="484.19" stroke="#e6e6e6" stroke-width="0.8"/>
<line x1="6.0" x2="280.5" y1="491.56" y2="491.56" stroke="#e6e6e6" stroke-width="0.8"/>
<line x1="6.0" x2="280.5" y1="498.93" y2="498.93" stroke="#e6e6e6" stroke-width="0.8"/>
<line x1="6.0" x2="280.5" y1="506.30" y2="506.30" stroke="#e6e6e6" stroke-width="0.8"/>
<line x1="6.0" x2="280.5" y1="513.67" y2="513.67" stroke="#e6e6e6" stroke-width="0.8"/>
<line x1="6.0" x2="280.5" y1="521.04" y2="521.04" stroke="#e6e6e6" stroke-width="0.8"/>
<line x1="25.50" x2="25.50" y1="355.5" y2="524.7" stroke="#e3e3e3" stroke-width="0.8"/>
<line x1="66.20" x2="66.20" y1="355.5" y2="524.7" stroke="#e3e3e3" stroke-width="0.8"/>
<line x1="106.90" x2="106.90" y1="355.5" y2="524.7" stroke="#e3e3e3" stroke-width="0.8"/>
<line x1="147.60" x2="147.60" y1="355.5" y2="524.7" stroke="#e3e3e3" stroke-width="0.8"/>
<line x1="188.30" x2="188.30" y1="355.5" y2="524.7" stroke="#e3e3e3" stroke-width="0.8"/>
<line x1="229.00" x2="229.00" y1="355.5" y2="524.7" stroke="#e3e3e3" stroke-width="0.8"/>
<line x1="269.70" x2="269.70" y1="355.5" y2="524.7" stroke="#e3e3e3" stroke-width="0.8"/>
<line x1="117.9" x2="192" y1="358.90" y2="358.90" stroke="#a0a0a0" stroke-width="0.7"/>
<line x1="242.6" x2="269.5" y1="358.90" y2="358.90" stroke="#a0a0a0" stroke-width="0.7"/>
<line x1="117.9" x2="117.9" y1="358.00" y2="359.80" stroke="#888" stroke-width="0.6"/>
<line x1="269.5" x2="269.5" y1="358.00" y2="359.80" stroke="#888" stroke-width="0.6"/>
<rect x="192" y="357.00" width="50.60" height="3.8" fill="#b20000" stroke="#800000" stroke-width="0.5"/>
<line x1="219" x2="219" y1="357.30" y2="360.50" stroke="#ff8a1e" stroke-opacity="0.55" stroke-width="0.5"/>
<circle cx="30.8" cy="358.90" r="0.85" fill="#4a4a4a" fill-opacity="0.8"/>
<circle cx="83.7" cy="358.90" r="0.85" fill="#4a4a4a" fill-opacity="0.8"/>
<circle cx="88.7" cy="358.90" r="0.85" fill="#4a4a4a" fill-opacity="0.8"/>
<circle cx="98.5" cy="358.90" r="0.85" fill="#4a4a4a" fill-opacity="0.8"/>
<circle cx="104.4" cy="358.90" r="0.85" fill="#4a4a4a" fill-opacity="0.8"/>
<circle cx="110" cy="358.90" r="0.85" fill="#4a4a4a" fill-opacity="0.8"/>
<circle cx="114.5" cy="358.90" r="0.85" fill="#4a4a4a" fill-opacity="0.8"/>
<circle cx="116" cy="358.90" r="0.85" fill="#4a4a4a" fill-opacity="0.8"/>
<line x1="132" x2="186.9" y1="366.27" y2="366.27" stroke="#a0a0a0" stroke-width="0.7"/>
<line x1="228.9" x2="260.8" y1="366.27" y2="366.27" stroke="#a0a0a0" stroke-width="0.7"/>
<line x1="132" x2="132" y1="365.37" y2="367.17" stroke="#888" stroke-width="0.6"/>
<line x1="260.8" x2="260.8" y1="365.37" y2="367.17" stroke="#888" stroke-width="0.6"/>
<rect x="186.9" y="364.37" width="42.00" height="3.8" fill="#e40000" stroke="#a40000" stroke-width="0.5"/>
<line x1="208" x2="208" y1="364.67" y2="367.87" stroke="#ff8a1e" stroke-opacity="0.55" stroke-width="0.5"/>
<circle cx="41.6" cy="366.27" r="0.85" fill="#4a4a4a" fill-opacity="0.8"/>
<circle cx="114.7" cy="366.27" r="0.85" fill="#4a4a4a" fill-opacity="0.8"/>
<circle cx="119.8" cy="366.27" r="0.85" fill="#4a4a4a" fill-opacity="0.8"/>
<line x1="77.8" x2="156.6" y1="373.64" y2="373.64" stroke="#a0a0a0" stroke-width="0.7"/>
<line x1="213.7" x2="260.8" y1="373.64" y2="373.64" stroke="#a0a0a0" stroke-width="0.7"/>
<line x1="77.8" x2="77.8" y1="372.74" y2="374.54" stroke="#888" stroke-width="0.6"/>
<line x1="260.8" x2="260.8" y1="372.74" y2="374.54" stroke="#888" stroke-width="0.6"/>
<rect x="156.6" y="371.74" width="57.10" height="3.8" fill="#ff2500" stroke="#b81b00" stroke-width="0.5"/>
<line x1="186" x2="186" y1="372.04" y2="375.24" stroke="#ff8a1e" stroke-opacity="0.55" stroke-width="0.5"/>
<circle cx="33.3" cy="373.64" r="0.85" fill="#4a4a4a" fill-opacity="0.8"/>
<circle cx="45.5" cy="373.64" r="0.85" fill="#4a4a4a" fill-opacity="0.8"/>
<circle cx="63.7" cy="373.64" r="0.85" fill="#4a4a4a" fill-opacity="0.8"/>
<line x1="74.9" x2="152.3" y1="381.01" y2="381.01" stroke="#a0a0a0" stroke-width="0.7"/>
<line x1="204.7" x2="264.8" y1="381.01" y2="381.01" stroke="#a0a0a0" stroke-width="0.7"/>
<line x1="74.9" x2="74.9" y1="380.11" y2="381.91" stroke="#888" stroke-width="0.6"/>
<line x1="264.8" x2="264.8" y1="380.11" y2="381.91" stroke="#888" stroke-width="0.6"/>
<rect x="152.3" y="379.11" width="52.40" height="3.8" fill="#ff4e00" stroke="#b83800" stroke-width="0.5"/>
<line x1="178" x2="178" y1="379.41" y2="382.61" stroke="#ff8a1e" stroke-opacity="0.55" stroke-width="0.5"/>
<circle cx="33.3" cy="381.01" r="0.85" fill="#4a4a4a" fill-opacity="0.8"/>
<circle cx="45.8" cy="381.01" r="0.85" fill="#4a4a4a" fill-opacity="0.8"/>
<circle cx="66.2" cy="381.01" r="0.85" fill="#4a4a4a" fill-opacity="0.8"/>
<line x1="99.7" x2="181.3" y1="388.38" y2="388.38" stroke="#a0a0a0" stroke-width="0.7"/>
<line x1="236.1" x2="269.5" y1="388.38" y2="388.38" stroke="#a0a0a0" stroke-width="0.7"/>
<line x1="99.7" x2="99.7" y1="387.48" y2="389.28" stroke="#888" stroke-width="0.6"/>
<line x1="269.5" x2="269.5" y1="387.48" y2="389.28" stroke="#888" stroke-width="0.6"/>
<rect x="181.3" y="386.48" width="54.80" height="3.8" fill="#ff7700" stroke="#b85600" stroke-width="0.5"/>
<line x1="208" x2="208" y1="386.78" y2="389.98" stroke="#ff8a1e" stroke-opacity="0.55" stroke-width="0.5"/>
<circle cx="18.3" cy="388.38" r="0.85" fill="#4a4a4a" fill-opacity="0.8"/>
<circle cx="58.9" cy="388.38" r="0.85" fill="#4a4a4a" fill-opacity="0.8"/>
<circle cx="61.7" cy="388.38" r="0.85" fill="#4a4a4a" fill-opacity="0.8"/>
<circle cx="68.2" cy="388.38" r="0.85" fill="#4a4a4a" fill-opacity="0.8"/>
<circle cx="70.5" cy="388.38" r="0.85" fill="#4a4a4a" fill-opacity="0.8"/>
<circle cx="72.5" cy="388.38" r="0.85" fill="#4a4a4a" fill-opacity="0.8"/>
<circle cx="74" cy="388.38" r="0.85" fill="#4a4a4a" fill-opacity="0.8"/>
<circle cx="75.1" cy="388.38" r="0.85" fill="#4a4a4a" fill-opacity="0.8"/>
<circle cx="77" cy="388.38" r="0.85" fill="#4a4a4a" fill-opacity="0.8"/>
<circle cx="78" cy="388.38" r="0.85" fill="#4a4a4a" fill-opacity="0.8"/>
<circle cx="81.9" cy="388.38" r="0.85" fill="#4a4a4a" fill-opacity="0.8"/>
<circle cx="83.5" cy="388.38" r="0.85" fill="#4a4a4a" fill-opacity="0.8"/>
<circle cx="85.5" cy="388.38" r="0.85" fill="#4a4a4a" fill-opacity="0.8"/>
<circle cx="87.8" cy="388.38" r="0.85" fill="#4a4a4a" fill-opacity="0.8"/>
<circle cx="93.7" cy="388.38" r="0.85" fill="#4a4a4a" fill-opacity="0.8"/>
<circle cx="96" cy="388.38" r="0.85" fill="#4a4a4a" fill-opacity="0.8"/>
<circle cx="98.7" cy="388.38" r="0.85" fill="#4a4a4a" fill-opacity="0.8"/>
<line x1="61.7" x2="137.7" y1="395.75" y2="395.75" stroke="#a0a0a0" stroke-width="0.7"/>
<line x1="196" x2="264.8" y1="395.75" y2="395.75" stroke="#a0a0a0" stroke-width="0.7"/>
<line x1="61.7" x2="61.7" y1="394.85" y2="396.65" stroke="#888" stroke-width="0.6"/>
<line x1="264.8" x2="264.8" y1="394.85" y2="396.65" stroke="#888" stroke-width="0.6"/>
<rect x="137.7" y="393.85" width="58.30" height="3.8" fill="#ff9f00" stroke="#b87200" stroke-width="0.5"/>
<line x1="168" x2="168" y1="394.15" y2="397.35" stroke="#ff8a1e" stroke-opacity="0.55" stroke-width="0.5"/>
<circle cx="33.3" cy="395.75" r="0.85" fill="#4a4a4a" fill-opacity="0.8"/>
<circle cx="39.2" cy="395.75" r="0.85" fill="#4a4a4a" fill-opacity="0.8"/>
<circle cx="45.5" cy="395.75" r="0.85" fill="#4a4a4a" fill-opacity="0.8"/>
<circle cx="47.9" cy="395.75" r="0.85" fill="#4a4a4a" fill-opacity="0.8"/>
<line x1="116.4" x2="177" y1="403.12" y2="403.12" stroke="#a0a0a0" stroke-width="0.7"/>
<line x1="219.6" x2="269.5" y1="403.12" y2="403.12" stroke="#a0a0a0" stroke-width="0.7"/>
<line x1="116.4" x2="116.4" y1="402.22" y2="404.02" stroke="#888" stroke-width="0.6"/>
<line x1="269.5" x2="269.5" y1="402.22" y2="404.02" stroke="#888" stroke-width="0.6"/>
<rect x="177" y="401.22" width="42.60" height="3.8" fill="#ffc800" stroke="#b89000" stroke-width="0.5"/>
<line x1="199" x2="199" y1="401.52" y2="404.72" stroke="#ff8a1e" stroke-opacity="0.55" stroke-width="0.5"/>
<circle cx="18.3" cy="403.12" r="0.85" fill="#4a4a4a" fill-opacity="0.8"/>
<circle cx="56.4" cy="403.12" r="0.85" fill="#4a4a4a" fill-opacity="0.8"/>
<circle cx="62.9" cy="403.12" r="0.85" fill="#4a4a4a" fill-opacity="0.8"/>
<circle cx="65.6" cy="403.12" r="0.85" fill="#4a4a4a" fill-opacity="0.8"/>
<circle cx="68.2" cy="403.12" r="0.85" fill="#4a4a4a" fill-opacity="0.8"/>
<circle cx="71.1" cy="403.12" r="0.85" fill="#4a4a4a" fill-opacity="0.8"/>
<circle cx="80.9" cy="403.12" r="0.85" fill="#4a4a4a" fill-opacity="0.8"/>
<circle cx="87.2" cy="403.12" r="0.85" fill="#4a4a4a" fill-opacity="0.8"/>
<circle cx="91.2" cy="403.12" r="0.85" fill="#4a4a4a" fill-opacity="0.8"/>
<circle cx="95.7" cy="403.12" r="0.85" fill="#4a4a4a" fill-opacity="0.8"/>
<circle cx="97.5" cy="403.12" r="0.85" fill="#4a4a4a" fill-opacity="0.8"/>
<circle cx="99.7" cy="403.12" r="0.85" fill="#4a4a4a" fill-opacity="0.8"/>
<circle cx="104.6" cy="403.12" r="0.85" fill="#4a4a4a" fill-opacity="0.8"/>
<circle cx="106.5" cy="403.12" r="0.85" fill="#4a4a4a" fill-opacity="0.8"/>
<circle cx="108.5" cy="403.12" r="0.85" fill="#4a4a4a" fill-opacity="0.8"/>
<circle cx="110.5" cy="403.12" r="0.85" fill="#4a4a4a" fill-opacity="0.8"/>
<circle cx="115.4" cy="403.12" r="0.85" fill="#4a4a4a" fill-opacity="0.8"/>
<line x1="135.2" x2="201.3" y1="410.49" y2="410.49" stroke="#a0a0a0" stroke-width="0.7"/>
<line x1="245.2" x2="269.5" y1="410.49" y2="410.49" stroke="#a0a0a0" stroke-width="0.7"/>
<line x1="135.2" x2="135.2" y1="409.59" y2="411.39" stroke="#888" stroke-width="0.6"/>
<line x1="269.5" x2="269.5" y1="409.59" y2="411.39" stroke="#888" stroke-width="0.6"/>
<rect x="201.3" y="408.59" width="43.90" height="3.8" fill="#f8f500" stroke="#b3b000" stroke-width="0.5"/>
<line x1="227.9" x2="227.9" y1="408.89" y2="412.09" stroke="#ff8a1e" stroke-opacity="0.55" stroke-width="0.5"/>
<circle cx="87.8" cy="410.49" r="0.85" fill="#4a4a4a" fill-opacity="0.8"/>
<circle cx="101.6" cy="410.49" r="0.85" fill="#4a4a4a" fill-opacity="0.8"/>
<circle cx="111.5" cy="410.49" r="0.85" fill="#4a4a4a" fill-opacity="0.8"/>
<circle cx="119.4" cy="410.49" r="0.85" fill="#4a4a4a" fill-opacity="0.8"/>
<circle cx="121.5" cy="410.49" r="0.85" fill="#4a4a4a" fill-opacity="0.8"/>
<circle cx="123.5" cy="410.49" r="0.85" fill="#4a4a4a" fill-opacity="0.8"/>
<circle cx="125.3" cy="410.49" r="0.85" fill="#4a4a4a" fill-opacity="0.8"/>
<circle cx="133.2" cy="410.49" r="0.85" fill="#4a4a4a" fill-opacity="0.8"/>
<line x1="101.6" x2="175.2" y1="417.86" y2="417.86" stroke="#a0a0a0" stroke-width="0.7"/>
<line x1="224.3" x2="269" y1="417.86" y2="417.86" stroke="#a0a0a0" stroke-width="0.7"/>
<line x1="101.6" x2="101.6" y1="416.96" y2="418.76" stroke="#888" stroke-width="0.6"/>
<line x1="269" x2="269" y1="416.96" y2="418.76" stroke="#888" stroke-width="0.6"/>
<rect x="175.2" y="415.96" width="49.10" height="3.8" fill="#d4ff23" stroke="#99b819" stroke-width="0.5"/>
<line x1="202" x2="202" y1="416.26" y2="419.46" stroke="#ff8a1e" stroke-opacity="0.55" stroke-width="0.5"/>
<circle cx="18.3" cy="417.86" r="0.85" fill="#4a4a4a" fill-opacity="0.8"/>
<circle cx="41.6" cy="417.86" r="0.85" fill="#4a4a4a" fill-opacity="0.8"/>
<circle cx="56.9" cy="417.86" r="0.85" fill="#4a4a4a" fill-opacity="0.8"/>
<circle cx="60.9" cy="417.86" r="0.85" fill="#4a4a4a" fill-opacity="0.8"/>
<circle cx="76" cy="417.86" r="0.85" fill="#4a4a4a" fill-opacity="0.8"/>
<circle cx="80.9" cy="417.86" r="0.85" fill="#4a4a4a" fill-opacity="0.8"/>
<circle cx="83.9" cy="417.86" r="0.85" fill="#4a4a4a" fill-opacity="0.8"/>
<circle cx="86.9" cy="417.86" r="0.85" fill="#4a4a4a" fill-opacity="0.8"/>
<circle cx="88.8" cy="417.86" r="0.85" fill="#4a4a4a" fill-opacity="0.8"/>
<circle cx="91.8" cy="417.86" r="0.85" fill="#4a4a4a" fill-opacity="0.8"/>
<circle cx="93.7" cy="417.86" r="0.85" fill="#4a4a4a" fill-opacity="0.8"/>
<circle cx="95.7" cy="417.86" r="0.85" fill="#4a4a4a" fill-opacity="0.8"/>
<circle cx="99.7" cy="417.86" r="0.85" fill="#4a4a4a" fill-opacity="0.8"/>
<line x1="77.4" x2="160.4" y1="425.23" y2="425.23" stroke="#a0a0a0" stroke-width="0.7"/>
<line x1="219.3" x2="269" y1="425.23" y2="425.23" stroke="#a0a0a0" stroke-width="0.7"/>
<line x1="77.4" x2="77.4" y1="424.33" y2="426.13" stroke="#888" stroke-width="0.6"/>
<line x1="269" x2="269" y1="424.33" y2="426.13" stroke="#888" stroke-width="0.6"/>
<rect x="160.4" y="423.33" width="58.90" height="3.8" fill="#b1ff46" stroke="#7fb832" stroke-width="0.5"/>
<line x1="190" x2="190" y1="423.63" y2="426.83" stroke="#ff8a1e" stroke-opacity="0.55" stroke-width="0.5"/>
<circle cx="63.3" cy="425.23" r="0.85" fill="#4a4a4a" fill-opacity="0.8"/>
<circle cx="65.2" cy="425.23" r="0.85" fill="#4a4a4a" fill-opacity="0.8"/>
<circle cx="70.6" cy="425.23" r="0.85" fill="#4a4a4a" fill-opacity="0.8"/>
<line x1="51.4" x2="135.7" y1="432.60" y2="432.60" stroke="#a0a0a0" stroke-width="0.7"/>
<line x1="193" x2="260.8" y1="432.60" y2="432.60" stroke="#a0a0a0" stroke-width="0.7"/>
<line x1="51.4" x2="51.4" y1="431.70" y2="433.50" stroke="#888" stroke-width="0.6"/>
<line x1="260.8" x2="260.8" y1="431.70" y2="433.50" stroke="#888" stroke-width="0.6"/>
<rect x="135.7" y="430.70" width="57.30" height="3.8" fill="#8dff6a" stroke="#66b84c" stroke-width="0.5"/>
<line x1="165" x2="165" y1="431.00" y2="434.20" stroke="#ff8a1e" stroke-opacity="0.55" stroke-width="0.5"/>
<circle cx="21.2" cy="432.60" r="0.85" fill="#4a4a4a" fill-opacity="0.8"/>
<circle cx="39.2" cy="432.60" r="0.85" fill="#4a4a4a" fill-opacity="0.8"/>
<circle cx="47.5" cy="432.60" r="0.85" fill="#4a4a4a" fill-opacity="0.8"/>
<line x1="71.1" x2="148.5" y1="439.97" y2="439.97" stroke="#a0a0a0" stroke-width="0.7"/>
<line x1="206.4" x2="269" y1="439.97" y2="439.97" stroke="#a0a0a0" stroke-width="0.7"/>
<line x1="71.1" x2="71.1" y1="439.07" y2="440.87" stroke="#888" stroke-width="0.6"/>
<line x1="269" x2="269" y1="439.07" y2="440.87" stroke="#888" stroke-width="0.6"/>
<rect x="148.5" y="438.07" width="57.90" height="3.8" fill="#6aff8d" stroke="#4cb866" stroke-width="0.5"/>
<line x1="179.5" x2="179.5" y1="438.37" y2="441.57" stroke="#ff8a1e" stroke-opacity="0.55" stroke-width="0.5"/>
<line x1="120" x2="185.9" y1="447.34" y2="447.34" stroke="#a0a0a0" stroke-width="0.7"/>
<line x1="230.2" x2="264.8" y1="447.34" y2="447.34" stroke="#a0a0a0" stroke-width="0.7"/>
<line x1="120" x2="120" y1="446.44" y2="448.24" stroke="#888" stroke-width="0.6"/>
<line x1="264.8" x2="264.8" y1="446.44" y2="448.24" stroke="#888" stroke-width="0.6"/>
<rect x="185.9" y="445.44" width="44.30" height="3.8" fill="#46ffb1" stroke="#32b87f" stroke-width="0.5"/>
<line x1="208.2" x2="208.2" y1="445.74" y2="448.94" stroke="#ff8a1e" stroke-opacity="0.55" stroke-width="0.5"/>
<circle cx="117.4" cy="447.34" r="0.85" fill="#4a4a4a" fill-opacity="0.8"/>
<line x1="68.8" x2="148" y1="454.71" y2="454.71" stroke="#a0a0a0" stroke-width="0.7"/>
<line x1="202.3" x2="255.5" y1="454.71" y2="454.71" stroke="#a0a0a0" stroke-width="0.7"/>
<line x1="68.8" x2="68.8" y1="453.81" y2="455.61" stroke="#888" stroke-width="0.6"/>
<line x1="255.5" x2="255.5" y1="453.81" y2="455.61" stroke="#888" stroke-width="0.6"/>
<rect x="148" y="452.81" width="54.30" height="3.8" fill="#23ffd4" stroke="#19b899" stroke-width="0.5"/>
<line x1="174.5" x2="174.5" y1="453.11" y2="456.31" stroke="#ff8a1e" stroke-opacity="0.55" stroke-width="0.5"/>
<circle cx="51.4" cy="454.71" r="0.85" fill="#4a4a4a" fill-opacity="0.8"/>
<circle cx="62.9" cy="454.71" r="0.85" fill="#4a4a4a" fill-opacity="0.8"/>
<circle cx="67.2" cy="454.71" r="0.85" fill="#4a4a4a" fill-opacity="0.8"/>
<line x1="97.1" x2="170.6" y1="462.08" y2="462.08" stroke="#a0a0a0" stroke-width="0.7"/>
<line x1="221.6" x2="269" y1="462.08" y2="462.08" stroke="#a0a0a0" stroke-width="0.7"/>
<line x1="97.1" x2="97.1" y1="461.18" y2="462.98" stroke="#888" stroke-width="0.6"/>
<line x1="269" x2="269" y1="461.18" y2="462.98" stroke="#888" stroke-width="0.6"/>
<rect x="170.6" y="460.18" width="51.00" height="3.8" fill="#00e4f8" stroke="#00a4b3" stroke-width="0.5"/>
<line x1="198" x2="198" y1="460.48" y2="463.68" stroke="#ff8a1e" stroke-opacity="0.55" stroke-width="0.5"/>
<circle cx="68.6" cy="462.08" r="0.85" fill="#4a4a4a" fill-opacity="0.8"/>
<circle cx="76" cy="462.08" r="0.85" fill="#4a4a4a" fill-opacity="0.8"/>
<circle cx="79" cy="462.08" r="0.85" fill="#4a4a4a" fill-opacity="0.8"/>
<circle cx="79.9" cy="462.08" r="0.85" fill="#4a4a4a" fill-opacity="0.8"/>
<circle cx="87.2" cy="462.08" r="0.85" fill="#4a4a4a" fill-opacity="0.8"/>
<line x1="80.5" x2="147.2" y1="469.45" y2="469.45" stroke="#a0a0a0" stroke-width="0.7"/>
<line x1="197.3" x2="238.7" y1="469.45" y2="469.45" stroke="#a0a0a0" stroke-width="0.7"/>
<line x1="80.5" x2="80.5" y1="468.55" y2="470.35" stroke="#888" stroke-width="0.6"/>
<line x1="238.7" x2="238.7" y1="468.55" y2="470.35" stroke="#888" stroke-width="0.6"/>
<rect x="147.2" y="467.55" width="50.10" height="3.8" fill="#00b4ff" stroke="#0082b8" stroke-width="0.5"/>
<line x1="172" x2="172" y1="467.85" y2="471.05" stroke="#ff8a1e" stroke-opacity="0.55" stroke-width="0.5"/>
<line x1="143" x2="197" y1="476.82" y2="476.82" stroke="#a0a0a0" stroke-width="0.7"/>
<line x1="237.6" x2="260.8" y1="476.82" y2="476.82" stroke="#a0a0a0" stroke-width="0.7"/>
<line x1="143" x2="143" y1="475.92" y2="477.72" stroke="#888" stroke-width="0.6"/>
<line x1="260.8" x2="260.8" y1="475.92" y2="477.72" stroke="#888" stroke-width="0.6"/>
<rect x="197" y="474.92" width="40.60" height="3.8" fill="#0088ff" stroke="#0062b8" stroke-width="0.5"/>
<line x1="222" x2="222" y1="475.22" y2="478.42" stroke="#ff8a1e" stroke-opacity="0.55" stroke-width="0.5"/>
<circle cx="129.8" cy="476.82" r="0.85" fill="#4a4a4a" fill-opacity="0.8"/>
<circle cx="141.7" cy="476.82" r="0.85" fill="#4a4a4a" fill-opacity="0.8"/>
<line x1="57.7" x2="143" y1="484.19" y2="484.19" stroke="#a0a0a0" stroke-width="0.7"/>
<line x1="201.6" x2="269.5" y1="484.19" y2="484.19" stroke="#a0a0a0" stroke-width="0.7"/>
<line x1="57.7" x2="57.7" y1="483.29" y2="485.09" stroke="#888" stroke-width="0.6"/>
<line x1="269.5" x2="269.5" y1="483.29" y2="485.09" stroke="#888" stroke-width="0.6"/>
<rect x="143" y="482.29" width="58.60" height="3.8" fill="#005cff" stroke="#0042b8" stroke-width="0.5"/>
<line x1="172" x2="172" y1="482.59" y2="485.79" stroke="#ff8a1e" stroke-opacity="0.55" stroke-width="0.5"/>
<circle cx="31.7" cy="484.19" r="0.85" fill="#4a4a4a" fill-opacity="0.8"/>
<circle cx="53" cy="484.19" r="0.85" fill="#4a4a4a" fill-opacity="0.8"/>
<line x1="83.3" x2="149.4" y1="491.56" y2="491.56" stroke="#a0a0a0" stroke-width="0.7"/>
<line x1="205.6" x2="269.5" y1="491.56" y2="491.56" stroke="#a0a0a0" stroke-width="0.7"/>
<line x1="83.3" x2="83.3" y1="490.66" y2="492.46" stroke="#888" stroke-width="0.6"/>
<line x1="269.5" x2="269.5" y1="490.66" y2="492.46" stroke="#888" stroke-width="0.6"/>
<rect x="149.4" y="489.66" width="56.20" height="3.8" fill="#0030ff" stroke="#0023b8" stroke-width="0.5"/>
<line x1="177" x2="177" y1="489.96" y2="493.16" stroke="#ff8a1e" stroke-opacity="0.55" stroke-width="0.5"/>
<circle cx="31.7" cy="491.56" r="0.85" fill="#4a4a4a" fill-opacity="0.8"/>
<circle cx="59.7" cy="491.56" r="0.85" fill="#4a4a4a" fill-opacity="0.8"/>
<circle cx="63.3" cy="491.56" r="0.85" fill="#4a4a4a" fill-opacity="0.8"/>
<line x1="65.6" x2="129.2" y1="498.93" y2="498.93" stroke="#a0a0a0" stroke-width="0.7"/>
<line x1="173" x2="228" y1="498.93" y2="498.93" stroke="#a0a0a0" stroke-width="0.7"/>
<line x1="65.6" x2="65.6" y1="498.03" y2="499.83" stroke="#888" stroke-width="0.6"/>
<line x1="228" x2="228" y1="498.03" y2="499.83" stroke="#888" stroke-width="0.6"/>
<rect x="129.2" y="497.03" width="43.80" height="3.8" fill="#0004ff" stroke="#0003b8" stroke-width="0.5"/>
<line x1="158.3" x2="158.3" y1="497.33" y2="500.53" stroke="#ff8a1e" stroke-opacity="0.55" stroke-width="0.5"/>
<circle cx="43.1" cy="498.93" r="0.85" fill="#4a4a4a" fill-opacity="0.8"/>
<circle cx="58.3" cy="498.93" r="0.85" fill="#4a4a4a" fill-opacity="0.8"/>
<circle cx="61.7" cy="498.93" r="0.85" fill="#4a4a4a" fill-opacity="0.8"/>
<circle cx="241.3" cy="498.93" r="0.85" fill="#4a4a4a" fill-opacity="0.8"/>
<circle cx="251.6" cy="498.93" r="0.85" fill="#4a4a4a" fill-opacity="0.8"/>
<line x1="60.3" x2="117.5" y1="506.30" y2="506.30" stroke="#a0a0a0" stroke-width="0.7"/>
<line x1="164.3" x2="228" y1="506.30" y2="506.30" stroke="#a0a0a0" stroke-width="0.7"/>
<line x1="60.3" x2="60.3" y1="505.40" y2="507.20" stroke="#888" stroke-width="0.6"/>
<line x1="228" x2="228" y1="505.40" y2="507.20" stroke="#888" stroke-width="0.6"/>
<rect x="117.5" y="504.40" width="46.80" height="3.8" fill="#0000e3" stroke="#0000a3" stroke-width="0.5"/>
<line x1="145.9" x2="145.9" y1="504.70" y2="507.90" stroke="#ff8a1e" stroke-opacity="0.55" stroke-width="0.5"/>
<circle cx="237.7" cy="506.30" r="0.85" fill="#4a4a4a" fill-opacity="0.8"/>
<circle cx="245.2" cy="506.30" r="0.85" fill="#4a4a4a" fill-opacity="0.8"/>
<line x1="93.2" x2="151.7" y1="513.67" y2="513.67" stroke="#a0a0a0" stroke-width="0.7"/>
<line x1="201.8" x2="253.1" y1="513.67" y2="513.67" stroke="#a0a0a0" stroke-width="0.7"/>
<line x1="93.2" x2="93.2" y1="512.77" y2="514.57" stroke="#888" stroke-width="0.6"/>
<line x1="253.1" x2="253.1" y1="512.77" y2="514.57" stroke="#888" stroke-width="0.6"/>
<rect x="151.7" y="511.77" width="50.10" height="3.8" fill="#0000b2" stroke="#000080" stroke-width="0.5"/>
<line x1="181.5" x2="181.5" y1="512.07" y2="515.27" stroke="#ff8a1e" stroke-opacity="0.55" stroke-width="0.5"/>
<line x1="55.4" x2="121.5" y1="521.04" y2="521.04" stroke="#a0a0a0" stroke-width="0.7"/>
<line x1="186" x2="234.4" y1="521.04" y2="521.04" stroke="#a0a0a0" stroke-width="0.7"/>
<line x1="55.4" x2="55.4" y1="520.14" y2="521.94" stroke="#888" stroke-width="0.6"/>
<line x1="234.4" x2="234.4" y1="520.14" y2="521.94" stroke="#888" stroke-width="0.6"/>
<rect x="121.5" y="519.14" width="64.50" height="3.8" fill="#000080" stroke="#00005c" stroke-width="0.5"/>
<line x1="152" x2="152" y1="519.44" y2="522.64" stroke="#ff8a1e" stroke-opacity="0.55" stroke-width="0.5"/>
<rect x="6.0" y="355.5" width="274.5" height="169.20000000000005" fill="none" stroke="#b2b2b2" stroke-width="0.9"/>
<line x1="25.50" x2="25.50" y1="524.7" y2="525.8000000000001" stroke="#999" stroke-width="0.5"/>
<line x1="66.20" x2="66.20" y1="524.7" y2="525.8000000000001" stroke="#999" stroke-width="0.5"/>
<line x1="106.90" x2="106.90" y1="524.7" y2="525.8000000000001" stroke="#999" stroke-width="0.5"/>
<line x1="147.60" x2="147.60" y1="524.7" y2="525.8000000000001" stroke="#999" stroke-width="0.5"/>
<line x1="188.30" x2="188.30" y1="524.7" y2="525.8000000000001" stroke="#999" stroke-width="0.5"/>
<line x1="229.00" x2="229.00" y1="524.7" y2="525.8000000000001" stroke="#999" stroke-width="0.5"/>
<line x1="269.70" x2="269.70" y1="524.7" y2="525.8000000000001" stroke="#999" stroke-width="0.5"/>
<g font-family="DejaVu Sans, Liberation Sans, sans-serif" font-size="5.5" fill="#141414" stroke="#141414" stroke-width="0.12">
<text x="283.2" y="361.45">woman, girl, camera</text>
<text x="283.2" y="368.82">dance, dancing, dances</text>
<text x="283.2" y="376.19">dance, dancing, people</text>
<text x="283.2" y="383.56">stage, band, guitar</text>
<text x="283.2" y="390.93">man, people, person</text>
<text x="283.2" y="398.30">snow, skiing, hill</text>
<text x="283.2" y="405.67">baby, child, swing</text>
<text x="283.2" y="413.04">food, spoon, baby</text>
<text x="283.2" y="420.41">dog, bird, dogs</text>
<text x="283.2" y="427.78">swimming, fish, water</text>
<text x="283.2" y="435.15">boat, water, ocean</text>
<text x="283.2" y="442.52">plane, airplane, runway</text>
<text x="283.2" y="449.89">cat, cats, black</text>
<text x="283.2" y="457.26">waterfall, water, rocks</text>
<text x="283.2" y="464.63">burning, night, fireworks</text>
<text x="283.2" y="472.00">ice, rink, hockey</text>
<text x="283.2" y="479.37">gun, man, shooting</text>
<text x="283.2" y="486.74">car, cars, race</text>
<text x="283.2" y="494.11">bike, riding, bicycle</text>
<text x="283.2" y="501.48">football, field, teams</text>
<text x="283.2" y="508.85">soccer, field, game</text>
<text x="283.2" y="516.22">horse, horses, riding</text>
<text x="283.2" y="523.59">baseball, game, pitcher</text>
</g>
<g font-family="DejaVu Sans, Liberation Sans, sans-serif" font-size="5.9" fill="#222" stroke="#222" stroke-width="0.08" text-anchor="middle">
<text x="25.50" y="531.2">0.4</text>
<text x="66.20" y="531.2">0.5</text>
<text x="106.90" y="531.2">0.6</text>
<text x="147.60" y="531.2">0.7</text>
<text x="188.30" y="531.2">0.8</text>
<text x="229.00" y="531.2">0.9</text>
<text x="269.70" y="531.2">1.0</text>
</g>
<g font-family="Liberation Serif, serif" font-size="9" font-weight="bold" fill="#111" text-anchor="middle">
<text x="151.4" y="170.6">(a)</text>
<text x="151.2" y="346">(b)</text>
<text x="176" y="546.5">(c)</text>
</g>
</g></svg></body></html>
